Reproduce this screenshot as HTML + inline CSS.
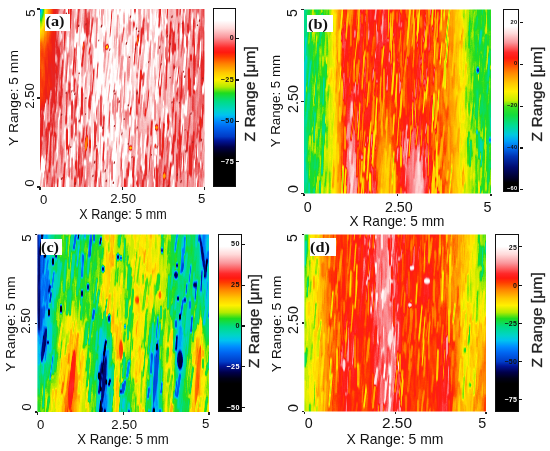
<!DOCTYPE html>
<html><head><meta charset="utf-8"><style>
html,body{margin:0;padding:0;background:#fff;}
body{width:550px;height:451px;position:relative;overflow:hidden;font-family:"Liberation Sans",Arial,sans-serif;color:#111;}
.hm{position:absolute;left:0;top:0;}
.t{position:absolute;white-space:nowrap;line-height:1;}
.z{color:#222;-webkit-text-stroke:0.3px #222;}
.bx{position:absolute;background:#fff;}
.bt{font-family:"Liberation Serif",serif;font-weight:bold;color:#111;}
.cb{position:absolute;box-sizing:border-box;border:1.5px solid #111;}
.at{position:absolute;background:#222;}
.tk{position:absolute;width:3px;height:1.3px;background:#111;}
.cbl{position:absolute;font-weight:bold;line-height:1;transform:translateY(-50%);color:#111;letter-spacing:0.35px;}
.cbl.w{color:#fff;}
</style></head><body>
<svg class="hm" width="550" height="451" viewBox="0 0 550 451">
<defs><clipPath id="ca"><rect x="40" y="9" width="164.5" height="178"/></clipPath>
<filter id="ba" filterUnits="userSpaceOnUse" x="28" y="-3" width="188.5" height="202" color-interpolation-filters="sRGB"><feGaussianBlur stdDeviation="1.2 2.5"/></filter>
<filter id="sa" filterUnits="userSpaceOnUse" x="28" y="-3" width="188.5" height="202" color-interpolation-filters="sRGB"><feGaussianBlur stdDeviation="0.4 1.2"/></filter>
<filter id="fa" filterUnits="userSpaceOnUse" x="40" y="9" width="164.5" height="178" color-interpolation-filters="sRGB">
<feTurbulence type="fractalNoise" baseFrequency="0.35 0.05" numOctaves="2" seed="3" result="n"/>
<feColorMatrix in="n" type="matrix" values="1 0 0 0 0 1 0 0 0 0 1 0 0 0 0 0 0 0 0 1" result="ng"/>
<feComposite in="SourceGraphic" in2="ng" operator="arithmetic" k1="0" k2="1" k3="0.06" k4="-0.03" result="s"/>
<feComponentTransfer in="s"><feFuncR type="table" tableValues="1.000 1.000 1.000 1.000 1.000 1.000 1.000 0.999 0.996 0.993 0.991 0.988 0.980 0.973 0.965 0.957 0.949 0.940 0.931 0.922 0.912 0.903 0.894 0.913 0.932 0.949 0.965 0.980 0.985 0.990 0.995 1.000 1.000 1.000 1.000 1.000 1.000 1.000 1.000 1.000 1.000 0.926 0.853 0.779 0.706 0.538 0.370 0.202 0.105 0.078 0.052 0.026 0.000 0.000 0.000 0.000 0.000 0.000 0.000 0.000 0.000 0.000 0.000 0.000 0.000 0.000 0.000 0.000 0.000 0.000 0.000 0.000 0.000 0.000 0.000 0.000 0.000 0.000 0.000 0.000 0.000 0.000 0.000 0.000 0.000 0.000 0.000 0.000 0.000 0.000 0.000 0.000 0.000 0.000 0.000 0.000 0.000 0.000 0.000 0.000 0.000"/><feFuncG type="table" tableValues="1.000 1.000 1.000 1.000 1.000 1.000 1.000 0.983 0.948 0.913 0.878 0.843 0.788 0.733 0.678 0.624 0.569 0.499 0.429 0.359 0.289 0.219 0.149 0.136 0.124 0.141 0.188 0.235 0.304 0.373 0.441 0.510 0.565 0.620 0.675 0.729 0.784 0.824 0.863 0.902 0.941 0.936 0.931 0.926 0.922 0.905 0.888 0.871 0.863 0.863 0.863 0.863 0.863 0.856 0.850 0.844 0.838 0.831 0.809 0.787 0.765 0.703 0.641 0.580 0.527 0.482 0.437 0.392 0.361 0.329 0.298 0.267 0.235 0.173 0.110 0.067 0.045 0.022 0.000 0.000 0.000 0.000 0.000 0.000 0.000 0.000 0.000 0.000 0.000 0.000 0.000 0.000 0.000 0.000 0.000 0.000 0.000 0.000 0.000 0.000 0.000"/><feFuncB type="table" tableValues="1.000 1.000 1.000 1.000 1.000 1.000 1.000 0.983 0.948 0.913 0.878 0.843 0.791 0.738 0.685 0.633 0.580 0.508 0.437 0.365 0.293 0.221 0.149 0.121 0.093 0.071 0.055 0.039 0.029 0.020 0.010 0.000 0.000 0.000 0.000 0.000 0.000 0.000 0.000 0.000 0.000 0.000 0.000 0.000 0.000 0.034 0.067 0.101 0.161 0.248 0.336 0.423 0.510 0.565 0.620 0.675 0.729 0.784 0.837 0.889 0.941 0.958 0.975 0.992 0.992 0.975 0.958 0.941 0.910 0.878 0.847 0.816 0.784 0.706 0.627 0.546 0.462 0.378 0.294 0.235 0.175 0.116 0.072 0.043 0.014 0.000 0.000 0.000 0.000 0.000 0.000 0.000 0.000 0.000 0.000 0.000 0.000 0.000 0.000 0.000 0.000"/><feFuncA type="linear" slope="0" intercept="1"/></feComponentTransfer>
</filter></defs>
<g clip-path="url(#ca)"><g filter="url(#fa)">
<g filter="url(#ba)">
<path fill="#121212" d="M100 81h6v6h-6zM100 87h18v6h-18zM100 93h18v6h-18zM109 99h9v6h-9z"/>
<path fill="#131313" d="M100 57h3v6h-3zM100 63h6v6h-6zM100 69h12v6h-12zM97 75h21v6h-21zM97 81h3v6h-3zM106 81h12v6h-12zM97 87h3v6h-3zM118 87h3v6h-3zM97 93h3v6h-3zM118 93h3v6h-3zM97 99h12v6h-12zM100 105h18v6h-18zM112 111h3v6h-3z"/>
<path fill="#141414" d="M121 -3h3v6h-3zM121 3h3v6h-3zM121 9h3v6h-3zM121 15h3v6h-3zM121 21h3v6h-3zM121 27h3v6h-3zM100 39h3v6h-3zM100 45h6v6h-6zM100 51h9v6h-9zM97 57h3v6h-3zM103 57h9v6h-9zM97 63h3v6h-3zM106 63h15v6h-15zM97 69h3v6h-3zM112 69h9v6h-9zM118 75h3v6h-3zM118 81h3v6h-3zM94 87h3v6h-3zM94 93h3v6h-3zM118 99h3v6h-3zM97 105h3v6h-3zM118 105h3v6h-3zM100 111h12v6h-12zM115 111h3v6h-3zM103 117h15v6h-15zM112 123h3v6h-3z"/>
<path fill="#151515" d="M100 -3h6v6h-6zM124 -3h3v6h-3zM145 -3h3v6h-3zM100 3h6v6h-6zM124 3h3v6h-3zM145 3h3v6h-3zM100 9h6v6h-6zM124 9h3v6h-3zM145 9h3v6h-3zM100 15h6v6h-6zM124 15h3v6h-3zM145 15h3v6h-3zM100 21h6v6h-6zM124 21h3v6h-3zM145 21h3v6h-3zM100 27h6v6h-6zM124 27h3v6h-3zM145 27h3v6h-3zM97 33h12v6h-12zM121 33h6v6h-6zM145 33h3v6h-3zM97 39h3v6h-3zM103 39h9v6h-9zM118 39h6v6h-6zM145 39h3v6h-3zM97 45h3v6h-3zM106 45h9v6h-9zM118 45h6v6h-6zM97 51h3v6h-3zM109 51h15v6h-15zM112 57h12v6h-12zM121 63h3v6h-3zM121 69h3v6h-3zM94 75h3v6h-3zM121 75h3v6h-3zM94 81h3v6h-3zM121 81h3v6h-3zM91 87h3v6h-3zM91 93h3v6h-3zM94 99h3v6h-3zM97 111h3v6h-3zM118 111h3v6h-3zM100 117h3v6h-3zM118 117h3v6h-3zM100 123h12v6h-12zM115 123h3v6h-3zM106 129h12v6h-12zM112 135h3v6h-3z"/>
<path fill="#161616" d="M97 -3h3v6h-3zM106 -3h9v6h-9zM118 -3h3v6h-3zM127 -3h6v6h-6zM142 -3h3v6h-3zM148 -3h6v6h-6zM97 3h3v6h-3zM106 3h9v6h-9zM118 3h3v6h-3zM127 3h6v6h-6zM142 3h3v6h-3zM148 3h6v6h-6zM97 9h3v6h-3zM106 9h9v6h-9zM118 9h3v6h-3zM127 9h6v6h-6zM142 9h3v6h-3zM148 9h6v6h-6zM97 15h3v6h-3zM106 15h9v6h-9zM118 15h3v6h-3zM127 15h6v6h-6zM142 15h3v6h-3zM148 15h6v6h-6zM97 21h3v6h-3zM106 21h9v6h-9zM118 21h3v6h-3zM127 21h6v6h-6zM142 21h3v6h-3zM148 21h6v6h-6zM97 27h3v6h-3zM106 27h9v6h-9zM118 27h3v6h-3zM127 27h6v6h-6zM142 27h3v6h-3zM148 27h6v6h-6zM109 33h6v6h-6zM118 33h3v6h-3zM127 33h6v6h-6zM142 33h3v6h-3zM148 33h6v6h-6zM112 39h6v6h-6zM124 39h6v6h-6zM148 39h3v6h-3zM115 45h3v6h-3zM124 45h3v6h-3zM145 45h6v6h-6zM124 51h3v6h-3zM94 57h3v6h-3zM94 63h3v6h-3zM94 69h3v6h-3zM91 75h3v6h-3zM91 81h3v6h-3zM88 87h3v6h-3zM121 87h3v6h-3zM85 93h6v6h-6zM121 93h3v6h-3zM91 99h3v6h-3zM121 99h3v6h-3zM94 105h3v6h-3zM97 117h3v6h-3zM97 123h3v6h-3zM118 123h3v6h-3zM100 129h6v6h-6zM118 129h3v6h-3zM103 135h9v6h-9zM115 135h3v6h-3zM109 141h9v6h-9zM112 147h3v6h-3z"/>
<path fill="#171717" d="M115 -3h3v6h-3zM133 -3h3v6h-3zM154 -3h3v6h-3zM115 3h3v6h-3zM133 3h3v6h-3zM154 3h3v6h-3zM115 9h3v6h-3zM133 9h3v6h-3zM154 9h3v6h-3zM115 15h3v6h-3zM133 15h3v6h-3zM154 15h3v6h-3zM115 21h3v6h-3zM133 21h3v6h-3zM154 21h3v6h-3zM115 27h3v6h-3zM133 27h3v6h-3zM154 27h3v6h-3zM115 33h3v6h-3zM133 33h3v6h-3zM94 39h3v6h-3zM130 39h3v6h-3zM142 39h3v6h-3zM151 39h3v6h-3zM94 45h3v6h-3zM127 45h3v6h-3zM142 45h3v6h-3zM151 45h3v6h-3zM94 51h3v6h-3zM145 51h6v6h-6zM124 57h3v6h-3zM145 57h6v6h-6zM91 63h3v6h-3zM124 63h3v6h-3zM91 69h3v6h-3zM124 69h3v6h-3zM88 75h3v6h-3zM88 81h3v6h-3zM79 87h9v6h-9zM79 93h6v6h-6zM88 99h3v6h-3zM91 105h3v6h-3zM121 105h3v6h-3zM94 111h3v6h-3zM121 111h3v6h-3zM97 129h3v6h-3zM100 135h3v6h-3zM118 135h3v6h-3zM100 141h9v6h-9zM106 147h6v6h-6zM115 147h3v6h-3zM109 153h9v6h-9zM112 159h3v6h-3zM112 165h3v6h-3zM112 171h3v6h-3zM112 177h3v6h-3zM112 183h3v6h-3zM112 189h3v6h-3zM112 195h3v6h-3z"/>
<path fill="#181818" d="M94 -3h3v6h-3zM94 3h3v6h-3zM94 9h3v6h-3zM94 15h3v6h-3zM94 21h3v6h-3zM94 27h3v6h-3zM94 33h3v6h-3zM154 33h3v6h-3zM133 39h3v6h-3zM154 39h3v6h-3zM130 45h6v6h-6zM154 45h3v6h-3zM91 51h3v6h-3zM127 51h3v6h-3zM142 51h3v6h-3zM151 51h3v6h-3zM91 57h3v6h-3zM142 57h3v6h-3zM151 57h3v6h-3zM145 63h9v6h-9zM88 69h3v6h-3zM145 69h6v6h-6zM79 75h3v6h-3zM124 75h3v6h-3zM148 75h3v6h-3zM79 81h9v6h-9zM124 81h3v6h-3zM76 87h3v6h-3zM76 93h3v6h-3zM88 105h3v6h-3zM91 111h3v6h-3zM94 117h3v6h-3zM121 117h3v6h-3zM94 123h3v6h-3zM121 123h3v6h-3zM121 129h3v6h-3zM97 135h3v6h-3zM118 141h3v6h-3zM100 147h6v6h-6zM118 147h3v6h-3zM103 153h6v6h-6zM106 159h6v6h-6zM115 159h3v6h-3zM106 165h6v6h-6zM115 165h3v6h-3zM106 171h6v6h-6zM115 171h3v6h-3zM106 177h6v6h-6zM115 177h3v6h-3zM106 183h6v6h-6zM115 183h3v6h-3zM106 189h6v6h-6zM115 189h3v6h-3zM106 195h6v6h-6zM115 195h3v6h-3z"/>
<path fill="#191919" d="M91 45h3v6h-3zM130 51h6v6h-6zM154 51h3v6h-3zM127 57h3v6h-3zM154 57h3v6h-3zM88 63h3v6h-3zM127 63h3v6h-3zM142 63h3v6h-3zM154 63h3v6h-3zM79 69h3v6h-3zM142 69h3v6h-3zM151 69h3v6h-3zM76 75h3v6h-3zM82 75h6v6h-6zM145 75h3v6h-3zM151 75h3v6h-3zM76 81h3v6h-3zM145 81h6v6h-6zM124 87h3v6h-3zM148 87h3v6h-3zM73 93h3v6h-3zM124 93h3v6h-3zM76 99h12v6h-12zM124 99h3v6h-3zM124 105h3v6h-3zM88 111h3v6h-3zM91 117h3v6h-3zM94 129h3v6h-3zM121 135h3v6h-3zM97 141h3v6h-3zM121 141h3v6h-3zM97 147h3v6h-3zM100 153h3v6h-3zM118 153h3v6h-3zM100 159h6v6h-6zM118 159h3v6h-3zM100 165h6v6h-6zM118 165h3v6h-3zM100 171h6v6h-6zM118 171h3v6h-3zM100 177h6v6h-6zM118 177h3v6h-3zM100 183h6v6h-6zM118 183h3v6h-3zM100 189h6v6h-6zM118 189h3v6h-3zM100 195h6v6h-6zM118 195h3v6h-3z"/>
<path fill="#1a1a1a" d="M91 -3h3v6h-3zM136 -3h6v6h-6zM91 3h3v6h-3zM136 3h6v6h-6zM91 9h3v6h-3zM136 9h6v6h-6zM91 15h3v6h-3zM136 15h6v6h-6zM91 21h3v6h-3zM136 21h6v6h-6zM91 27h3v6h-3zM136 27h6v6h-6zM91 33h3v6h-3zM136 33h6v6h-6zM91 39h3v6h-3zM136 39h6v6h-6zM139 45h3v6h-3zM88 51h3v6h-3zM79 57h3v6h-3zM88 57h3v6h-3zM130 57h6v6h-6zM76 63h6v6h-6zM130 63h6v6h-6zM76 69h3v6h-3zM82 69h6v6h-6zM127 69h3v6h-3zM154 69h3v6h-3zM142 75h3v6h-3zM154 75h3v6h-3zM73 81h3v6h-3zM142 81h3v6h-3zM151 81h3v6h-3zM73 87h3v6h-3zM145 87h3v6h-3zM151 87h3v6h-3zM145 93h6v6h-6zM73 99h3v6h-3zM76 105h3v6h-3zM124 111h3v6h-3zM124 117h3v6h-3zM91 123h3v6h-3zM124 123h3v6h-3zM94 135h3v6h-3zM121 147h3v6h-3zM97 153h3v6h-3zM121 153h3v6h-3zM121 159h3v6h-3zM121 165h3v6h-3zM121 171h3v6h-3zM121 177h3v6h-3zM121 183h3v6h-3zM121 189h3v6h-3zM121 195h3v6h-3z"/>
<path fill="#1b1b1b" d="M157 -3h3v6h-3zM157 3h3v6h-3zM157 9h3v6h-3zM157 15h3v6h-3zM157 21h3v6h-3zM157 27h3v6h-3zM157 33h3v6h-3zM157 39h3v6h-3zM79 45h3v6h-3zM88 45h3v6h-3zM136 45h3v6h-3zM157 45h3v6h-3zM76 51h6v6h-6zM136 51h6v6h-6zM157 51h3v6h-3zM76 57h3v6h-3zM82 57h3v6h-3zM136 57h6v6h-6zM157 57h3v6h-3zM73 63h3v6h-3zM82 63h6v6h-6zM136 63h6v6h-6zM73 69h3v6h-3zM130 69h6v6h-6zM139 69h3v6h-3zM73 75h3v6h-3zM127 75h3v6h-3zM133 75h3v6h-3zM139 75h3v6h-3zM70 81h3v6h-3zM127 81h3v6h-3zM139 81h3v6h-3zM154 81h3v6h-3zM70 87h3v6h-3zM142 87h3v6h-3zM154 87h3v6h-3zM70 93h3v6h-3zM142 93h3v6h-3zM151 93h3v6h-3zM70 99h3v6h-3zM148 99h3v6h-3zM73 105h3v6h-3zM79 105h9v6h-9zM76 111h3v6h-3zM88 117h3v6h-3zM91 129h3v6h-3zM124 129h3v6h-3zM124 135h3v6h-3zM94 141h3v6h-3zM124 141h3v6h-3zM124 147h3v6h-3zM97 159h3v6h-3zM97 165h3v6h-3zM97 171h3v6h-3zM97 177h3v6h-3zM97 183h3v6h-3zM97 189h3v6h-3zM97 195h3v6h-3z"/>
<path fill="#1c1c1c" d="M79 -3h3v6h-3zM79 3h3v6h-3zM79 9h3v6h-3zM79 15h3v6h-3zM79 21h3v6h-3zM79 27h3v6h-3zM79 33h3v6h-3zM76 39h6v6h-6zM88 39h3v6h-3zM76 45h3v6h-3zM73 51h3v6h-3zM82 51h3v6h-3zM73 57h3v6h-3zM85 57h3v6h-3zM157 63h3v6h-3zM70 69h3v6h-3zM136 69h3v6h-3zM157 69h3v6h-3zM70 75h3v6h-3zM130 75h3v6h-3zM136 75h3v6h-3zM157 75h3v6h-3zM133 81h6v6h-6zM157 81h3v6h-3zM67 87h3v6h-3zM127 87h3v6h-3zM136 87h6v6h-6zM157 87h3v6h-3zM67 93h3v6h-3zM139 93h3v6h-3zM154 93h6v6h-6zM67 99h3v6h-3zM142 99h6v6h-6zM151 99h3v6h-3zM70 105h3v6h-3zM148 105h3v6h-3zM70 111h6v6h-6zM73 117h6v6h-6zM88 123h3v6h-3zM91 135h3v6h-3zM94 147h3v6h-3zM94 153h3v6h-3zM124 153h3v6h-3zM124 159h3v6h-3zM124 165h3v6h-3zM124 171h3v6h-3zM124 177h3v6h-3zM124 183h3v6h-3zM124 189h3v6h-3zM124 195h3v6h-3z"/>
<path fill="#1d1d1d" d="M76 -3h3v6h-3zM88 -3h3v6h-3zM76 3h3v6h-3zM88 3h3v6h-3zM76 9h3v6h-3zM88 9h3v6h-3zM76 15h3v6h-3zM88 15h3v6h-3zM76 21h3v6h-3zM88 21h3v6h-3zM76 27h3v6h-3zM88 27h3v6h-3zM76 33h3v6h-3zM88 33h3v6h-3zM73 39h3v6h-3zM73 45h3v6h-3zM82 45h3v6h-3zM85 51h3v6h-3zM70 57h3v6h-3zM70 63h3v6h-3zM160 75h3v6h-3zM67 81h3v6h-3zM130 81h3v6h-3zM160 81h3v6h-3zM133 87h3v6h-3zM160 87h3v6h-3zM127 93h3v6h-3zM133 93h6v6h-6zM160 93h3v6h-3zM127 99h3v6h-3zM136 99h6v6h-6zM154 99h3v6h-3zM67 105h3v6h-3zM127 105h3v6h-3zM142 105h6v6h-6zM151 105h3v6h-3zM67 111h3v6h-3zM79 111h3v6h-3zM85 111h3v6h-3zM127 111h3v6h-3zM148 111h3v6h-3zM70 117h3v6h-3zM127 117h3v6h-3zM73 123h6v6h-6zM127 123h3v6h-3zM88 129h3v6h-3zM91 141h3v6h-3zM94 159h3v6h-3zM94 165h3v6h-3zM94 171h3v6h-3zM94 177h3v6h-3zM94 183h3v6h-3zM94 189h3v6h-3zM94 195h3v6h-3z"/>
<path fill="#1e1e1e" d="M73 -3h3v6h-3zM160 -3h3v6h-3zM73 3h3v6h-3zM160 3h3v6h-3zM73 9h3v6h-3zM160 9h3v6h-3zM73 15h3v6h-3zM160 15h3v6h-3zM73 21h3v6h-3zM160 21h3v6h-3zM73 27h3v6h-3zM160 27h3v6h-3zM73 33h3v6h-3zM160 33h3v6h-3zM82 39h3v6h-3zM160 39h3v6h-3zM70 45h3v6h-3zM85 45h3v6h-3zM160 45h3v6h-3zM70 51h3v6h-3zM160 51h3v6h-3zM160 57h3v6h-3zM160 63h3v6h-3zM67 69h3v6h-3zM160 69h3v6h-3zM67 75h3v6h-3zM163 75h3v6h-3zM163 81h3v6h-3zM130 87h3v6h-3zM163 87h3v6h-3zM130 93h3v6h-3zM163 93h3v6h-3zM130 99h6v6h-6zM157 99h3v6h-3zM133 105h9v6h-9zM82 111h3v6h-3zM142 111h6v6h-6zM151 111h3v6h-3zM67 117h3v6h-3zM148 117h3v6h-3zM67 123h6v6h-6zM70 129h9v6h-9zM127 129h3v6h-3zM73 135h3v6h-3zM88 135h3v6h-3zM127 135h3v6h-3zM127 141h3v6h-3zM91 147h3v6h-3zM127 147h3v6h-3zM127 153h3v6h-3zM127 159h3v6h-3zM127 165h3v6h-3zM127 171h3v6h-3zM127 177h3v6h-3zM127 183h3v6h-3zM127 189h3v6h-3zM127 195h3v6h-3z"/>
<path fill="#1f1f1f" d="M70 -3h3v6h-3zM82 -3h3v6h-3zM163 -3h3v6h-3zM70 3h3v6h-3zM82 3h3v6h-3zM163 3h3v6h-3zM70 9h3v6h-3zM82 9h3v6h-3zM163 9h3v6h-3zM70 15h3v6h-3zM82 15h3v6h-3zM163 15h3v6h-3zM70 21h3v6h-3zM82 21h3v6h-3zM163 21h3v6h-3zM70 27h3v6h-3zM82 27h3v6h-3zM163 27h3v6h-3zM70 33h3v6h-3zM82 33h3v6h-3zM163 33h3v6h-3zM70 39h3v6h-3zM85 39h3v6h-3zM163 39h3v6h-3zM163 45h3v6h-3zM163 51h3v6h-3zM163 57h3v6h-3zM67 63h3v6h-3zM163 63h3v6h-3zM163 69h3v6h-3zM166 87h3v6h-3zM64 93h3v6h-3zM64 99h3v6h-3zM160 99h3v6h-3zM130 105h3v6h-3zM154 105h3v6h-3zM130 111h12v6h-12zM79 117h3v6h-3zM85 117h3v6h-3zM130 117h6v6h-6zM142 117h6v6h-6zM130 123h3v6h-3zM67 129h3v6h-3zM67 135h6v6h-6zM76 135h3v6h-3zM73 141h3v6h-3zM91 153h3v6h-3zM91 159h3v6h-3zM91 165h3v6h-3zM91 171h3v6h-3zM91 177h3v6h-3zM91 183h3v6h-3zM91 189h3v6h-3zM91 195h3v6h-3z"/>
<path fill="#202020" d="M166 -3h3v6h-3zM166 3h3v6h-3zM166 9h3v6h-3zM166 15h3v6h-3zM166 21h3v6h-3zM166 27h3v6h-3zM85 33h3v6h-3zM166 33h3v6h-3zM166 39h3v6h-3zM166 45h3v6h-3zM67 51h3v6h-3zM166 51h3v6h-3zM67 57h3v6h-3zM166 57h3v6h-3zM166 63h3v6h-3zM166 69h3v6h-3zM166 75h3v6h-3zM166 81h3v6h-3zM64 87h3v6h-3zM166 93h3v6h-3zM163 99h3v6h-3zM64 105h3v6h-3zM157 105h3v6h-3zM64 111h3v6h-3zM154 111h3v6h-3zM64 117h3v6h-3zM82 117h3v6h-3zM136 117h6v6h-6zM151 117h3v6h-3zM64 123h3v6h-3zM133 123h6v6h-6zM142 123h9v6h-9zM64 129h3v6h-3zM130 129h6v6h-6zM130 135h3v6h-3zM67 141h6v6h-6zM76 141h3v6h-3zM88 141h3v6h-3zM130 141h3v6h-3zM67 147h9v6h-9zM130 147h3v6h-3z"/>
<path fill="#212121" d="M85 -3h3v6h-3zM169 -3h3v6h-3zM85 3h3v6h-3zM169 3h3v6h-3zM85 9h3v6h-3zM169 9h3v6h-3zM85 15h3v6h-3zM169 15h3v6h-3zM85 21h3v6h-3zM169 21h3v6h-3zM85 27h3v6h-3zM169 27h3v6h-3zM169 33h3v6h-3zM67 39h3v6h-3zM169 39h3v6h-3zM67 45h3v6h-3zM169 45h3v6h-3zM169 51h3v6h-3zM169 57h3v6h-3zM169 63h3v6h-3zM169 69h3v6h-3zM64 75h3v6h-3zM169 75h3v6h-3zM64 81h3v6h-3zM169 81h3v6h-3zM169 87h3v6h-3zM169 93h3v6h-3zM166 99h3v6h-3zM160 105h6v6h-6zM157 111h3v6h-3zM79 123h3v6h-3zM139 123h3v6h-3zM151 123h3v6h-3zM136 129h3v6h-3zM142 129h9v6h-9zM64 135h3v6h-3zM133 135h3v6h-3zM64 141h3v6h-3zM133 141h3v6h-3zM64 147h3v6h-3zM76 147h3v6h-3zM88 147h3v6h-3zM64 153h12v6h-12zM130 153h3v6h-3zM64 159h12v6h-12zM130 159h3v6h-3zM64 165h12v6h-12zM130 165h3v6h-3zM64 171h12v6h-12zM130 171h3v6h-3zM64 177h12v6h-12zM130 177h3v6h-3zM64 183h12v6h-12zM130 183h3v6h-3zM64 189h12v6h-12zM130 189h3v6h-3zM64 195h12v6h-12zM130 195h3v6h-3z"/>
<path fill="#222222" d="M67 -3h3v6h-3zM172 -3h6v6h-6zM67 3h3v6h-3zM172 3h6v6h-6zM67 9h3v6h-3zM172 9h6v6h-6zM67 15h3v6h-3zM172 15h6v6h-6zM67 21h3v6h-3zM172 21h6v6h-6zM67 27h3v6h-3zM172 27h6v6h-6zM67 33h3v6h-3zM172 33h6v6h-6zM172 39h3v6h-3zM172 45h3v6h-3zM172 51h3v6h-3zM172 57h3v6h-3zM172 63h3v6h-3zM64 69h3v6h-3zM172 69h3v6h-3zM172 75h3v6h-3zM169 99h3v6h-3zM166 105h3v6h-3zM160 111h3v6h-3zM154 117h3v6h-3zM82 123h6v6h-6zM139 129h3v6h-3zM151 129h3v6h-3zM136 135h3v6h-3zM142 135h9v6h-9zM133 147h3v6h-3zM76 153h3v6h-3zM88 153h3v6h-3zM133 153h3v6h-3z"/>
<path fill="#232323" d="M178 -3h3v6h-3zM178 3h3v6h-3zM178 9h3v6h-3zM178 15h3v6h-3zM178 21h3v6h-3zM178 27h3v6h-3zM178 33h3v6h-3zM175 39h6v6h-6zM175 45h3v6h-3zM175 51h3v6h-3zM175 57h3v6h-3zM64 63h3v6h-3zM175 63h3v6h-3zM172 81h3v6h-3zM172 87h3v6h-3zM61 93h3v6h-3zM172 93h3v6h-3zM61 99h3v6h-3zM61 105h3v6h-3zM169 105h3v6h-3zM61 111h3v6h-3zM163 111h6v6h-6zM61 117h3v6h-3zM157 117h3v6h-3zM61 123h3v6h-3zM154 123h3v6h-3zM61 129h3v6h-3zM79 129h3v6h-3zM61 135h3v6h-3zM139 135h3v6h-3zM61 141h3v6h-3zM136 141h3v6h-3zM142 141h9v6h-9zM61 147h3v6h-3zM136 147h3v6h-3zM61 153h3v6h-3zM61 159h3v6h-3zM76 159h3v6h-3zM88 159h3v6h-3zM133 159h3v6h-3zM61 165h3v6h-3zM76 165h3v6h-3zM88 165h3v6h-3zM133 165h3v6h-3zM61 171h3v6h-3zM76 171h3v6h-3zM88 171h3v6h-3zM133 171h3v6h-3zM61 177h3v6h-3zM76 177h3v6h-3zM88 177h3v6h-3zM133 177h3v6h-3zM61 183h3v6h-3zM76 183h3v6h-3zM88 183h3v6h-3zM133 183h3v6h-3zM61 189h3v6h-3zM76 189h3v6h-3zM88 189h3v6h-3zM133 189h3v6h-3zM61 195h3v6h-3zM76 195h3v6h-3zM88 195h3v6h-3zM133 195h3v6h-3z"/>
<path fill="#242424" d="M181 -3h3v6h-3zM181 3h3v6h-3zM181 9h3v6h-3zM181 15h3v6h-3zM181 21h3v6h-3zM181 27h3v6h-3zM181 33h3v6h-3zM181 39h3v6h-3zM178 45h3v6h-3zM64 51h3v6h-3zM178 51h3v6h-3zM64 57h3v6h-3zM178 57h3v6h-3zM175 69h3v6h-3zM175 75h3v6h-3zM175 81h3v6h-3zM61 87h3v6h-3zM175 87h3v6h-3zM172 99h3v6h-3zM172 105h3v6h-3zM169 111h3v6h-3zM160 117h9v6h-9zM82 129h6v6h-6zM151 135h3v6h-3zM139 141h3v6h-3zM145 147h6v6h-6zM136 153h3v6h-3zM58 159h3v6h-3zM58 165h3v6h-3zM58 171h3v6h-3zM58 177h3v6h-3zM58 183h3v6h-3zM58 189h3v6h-3zM58 195h3v6h-3z"/>
<path fill="#252525" d="M64 45h3v6h-3zM181 45h3v6h-3zM181 51h3v6h-3zM178 63h3v6h-3zM178 69h3v6h-3zM178 75h3v6h-3zM61 81h3v6h-3zM178 81h3v6h-3zM175 93h3v6h-3zM175 99h3v6h-3zM172 111h3v6h-3zM169 117h6v6h-6zM157 123h6v6h-6zM166 123h6v6h-6zM154 129h3v6h-3zM79 135h3v6h-3zM58 141h3v6h-3zM151 141h3v6h-3zM58 147h3v6h-3zM139 147h6v6h-6zM58 153h3v6h-3zM148 153h3v6h-3zM136 159h3v6h-3zM136 165h3v6h-3zM136 171h3v6h-3zM136 177h3v6h-3zM136 183h3v6h-3zM136 189h3v6h-3zM136 195h3v6h-3z"/>
<path fill="#262626" d="M184 -3h3v6h-3zM184 3h3v6h-3zM184 9h3v6h-3zM184 15h3v6h-3zM184 21h3v6h-3zM184 27h3v6h-3zM64 33h3v6h-3zM184 33h3v6h-3zM64 39h3v6h-3zM181 57h3v6h-3zM181 63h3v6h-3zM181 69h3v6h-3zM61 75h3v6h-3zM178 87h3v6h-3zM178 93h3v6h-3zM178 99h3v6h-3zM175 105h3v6h-3zM175 111h3v6h-3zM175 117h3v6h-3zM163 123h3v6h-3zM172 123h3v6h-3zM58 129h3v6h-3zM157 129h3v6h-3zM169 129h6v6h-6zM58 135h3v6h-3zM85 135h3v6h-3zM154 135h3v6h-3zM151 147h3v6h-3zM139 153h9v6h-9zM28 159h12v6h-12zM55 159h3v6h-3zM139 159h12v6h-12zM28 165h12v6h-12zM55 165h3v6h-3zM139 165h12v6h-12zM28 171h12v6h-12zM55 171h3v6h-3zM139 171h12v6h-12zM28 177h12v6h-12zM55 177h3v6h-3zM139 177h12v6h-12zM28 183h12v6h-12zM55 183h3v6h-3zM139 183h12v6h-12zM28 189h12v6h-12zM55 189h3v6h-3zM139 189h12v6h-12zM28 195h12v6h-12zM55 195h3v6h-3zM139 195h12v6h-12z"/>
<path fill="#272727" d="M64 -3h3v6h-3zM64 3h3v6h-3zM64 9h3v6h-3zM64 15h3v6h-3zM64 21h3v6h-3zM64 27h3v6h-3zM184 39h3v6h-3zM184 45h3v6h-3zM184 51h3v6h-3zM184 57h3v6h-3zM61 69h3v6h-3zM181 75h3v6h-3zM181 81h3v6h-3zM181 87h3v6h-3zM178 105h3v6h-3zM58 111h3v6h-3zM178 111h3v6h-3zM58 117h3v6h-3zM58 123h3v6h-3zM175 123h3v6h-3zM160 129h9v6h-9zM175 129h3v6h-3zM82 135h3v6h-3zM169 135h6v6h-6zM79 141h3v6h-3zM55 147h3v6h-3zM55 153h3v6h-3zM40 159h3v6h-3zM40 165h3v6h-3zM40 171h3v6h-3zM40 177h3v6h-3zM40 183h3v6h-3zM40 189h3v6h-3zM40 195h3v6h-3z"/>
<path fill="#282828" d="M61 63h3v6h-3zM184 63h3v6h-3zM184 69h3v6h-3zM184 75h3v6h-3zM181 93h3v6h-3zM58 99h3v6h-3zM181 99h3v6h-3zM58 105h3v6h-3zM181 105h3v6h-3zM181 111h3v6h-3zM178 117h3v6h-3zM178 123h3v6h-3zM178 129h3v6h-3zM157 135h6v6h-6zM166 135h3v6h-3zM175 135h3v6h-3zM55 141h3v6h-3zM85 141h3v6h-3zM154 141h3v6h-3zM169 141h9v6h-9zM172 147h3v6h-3zM28 153h12v6h-12zM151 153h3v6h-3zM52 159h3v6h-3zM52 165h3v6h-3zM52 171h3v6h-3zM52 177h3v6h-3zM52 183h3v6h-3zM52 189h3v6h-3zM52 195h3v6h-3z"/>
<path fill="#292929" d="M187 -3h3v6h-3zM187 3h3v6h-3zM187 9h3v6h-3zM187 15h3v6h-3zM187 21h3v6h-3zM187 27h3v6h-3zM187 33h3v6h-3zM187 39h3v6h-3zM187 45h3v6h-3zM187 51h3v6h-3zM61 57h3v6h-3zM187 57h3v6h-3zM184 81h3v6h-3zM184 87h3v6h-3zM58 93h3v6h-3zM184 93h3v6h-3zM184 99h3v6h-3zM181 117h3v6h-3zM181 123h3v6h-3zM181 129h3v6h-3zM55 135h3v6h-3zM163 135h3v6h-3zM178 135h3v6h-3zM82 141h3v6h-3zM166 141h3v6h-3zM178 141h3v6h-3zM79 147h3v6h-3zM154 147h3v6h-3zM169 147h3v6h-3zM175 147h3v6h-3zM40 153h3v6h-3zM52 153h3v6h-3zM169 153h9v6h-9zM43 159h3v6h-3zM151 159h3v6h-3zM172 159h3v6h-3zM43 165h3v6h-3zM151 165h3v6h-3zM172 165h3v6h-3zM43 171h3v6h-3zM151 171h3v6h-3zM172 171h3v6h-3zM43 177h3v6h-3zM151 177h3v6h-3zM172 177h3v6h-3zM43 183h3v6h-3zM151 183h3v6h-3zM172 183h3v6h-3zM43 189h3v6h-3zM151 189h3v6h-3zM172 189h3v6h-3zM43 195h3v6h-3zM151 195h3v6h-3zM172 195h3v6h-3z"/>
<path fill="#2a2a2a" d="M61 51h3v6h-3zM187 63h3v6h-3zM187 69h3v6h-3zM187 75h3v6h-3zM187 81h3v6h-3zM58 87h3v6h-3zM187 87h3v6h-3zM184 105h3v6h-3zM184 111h3v6h-3zM184 117h3v6h-3zM184 123h3v6h-3zM55 129h3v6h-3zM184 129h3v6h-3zM181 135h3v6h-3zM157 141h9v6h-9zM181 141h3v6h-3zM166 147h3v6h-3zM178 147h6v6h-6zM178 153h3v6h-3zM46 159h3v6h-3zM169 159h3v6h-3zM175 159h6v6h-6zM46 165h3v6h-3zM169 165h3v6h-3zM175 165h6v6h-6zM46 171h3v6h-3zM169 171h3v6h-3zM175 171h6v6h-6zM46 177h3v6h-3zM169 177h3v6h-3zM175 177h6v6h-6zM46 183h3v6h-3zM169 183h3v6h-3zM175 183h6v6h-6zM46 189h3v6h-3zM169 189h3v6h-3zM175 189h6v6h-6zM46 195h3v6h-3zM169 195h3v6h-3zM175 195h6v6h-6z"/>
<path fill="#2b2b2b" d="M190 -3h3v6h-3zM190 3h3v6h-3zM190 9h3v6h-3zM190 15h3v6h-3zM190 21h3v6h-3zM190 27h3v6h-3zM190 33h3v6h-3zM190 39h3v6h-3zM61 45h3v6h-3zM190 45h3v6h-3zM190 51h3v6h-3zM190 57h3v6h-3zM58 81h3v6h-3zM187 93h3v6h-3zM187 99h3v6h-3zM187 105h3v6h-3zM187 111h3v6h-3zM187 117h3v6h-3zM55 123h3v6h-3zM187 123h3v6h-3zM184 135h3v6h-3zM184 141h3v6h-3zM28 147h12v6h-12zM52 147h3v6h-3zM82 147h6v6h-6zM157 147h9v6h-9zM184 147h3v6h-3zM43 153h3v6h-3zM79 153h3v6h-3zM154 153h3v6h-3zM166 153h3v6h-3zM181 153h6v6h-6zM49 159h3v6h-3zM181 159h6v6h-6zM49 165h3v6h-3zM181 165h6v6h-6zM49 171h3v6h-3zM181 171h6v6h-6zM49 177h3v6h-3zM181 177h6v6h-6zM49 183h3v6h-3zM181 183h6v6h-6zM49 189h3v6h-3zM181 189h6v6h-6zM49 195h3v6h-3zM181 195h6v6h-6z"/>
<path fill="#2c2c2c" d="M61 33h3v6h-3zM61 39h3v6h-3zM190 63h3v6h-3zM190 69h3v6h-3zM58 75h3v6h-3zM190 75h3v6h-3zM190 81h3v6h-3zM190 87h3v6h-3zM190 93h3v6h-3zM190 99h3v6h-3zM190 105h3v6h-3zM190 111h3v6h-3zM55 117h3v6h-3zM190 117h3v6h-3zM187 129h3v6h-3zM187 135h3v6h-3zM52 141h3v6h-3zM187 141h3v6h-3zM40 147h3v6h-3zM187 147h3v6h-3zM46 153h6v6h-6zM187 153h3v6h-3zM79 159h3v6h-3zM154 159h3v6h-3zM166 159h3v6h-3zM187 159h3v6h-3zM79 165h3v6h-3zM154 165h3v6h-3zM166 165h3v6h-3zM187 165h3v6h-3zM79 171h3v6h-3zM154 171h3v6h-3zM166 171h3v6h-3zM187 171h3v6h-3zM79 177h3v6h-3zM154 177h3v6h-3zM166 177h3v6h-3zM187 177h3v6h-3zM79 183h3v6h-3zM154 183h3v6h-3zM166 183h3v6h-3zM187 183h3v6h-3zM79 189h3v6h-3zM154 189h3v6h-3zM166 189h3v6h-3zM187 189h3v6h-3zM79 195h3v6h-3zM154 195h3v6h-3zM166 195h3v6h-3zM187 195h3v6h-3z"/>
<path fill="#2d2d2d" d="M61 -3h3v6h-3zM193 -3h3v6h-3zM61 3h3v6h-3zM193 3h3v6h-3zM61 9h3v6h-3zM193 9h3v6h-3zM61 15h3v6h-3zM193 15h3v6h-3zM61 21h3v6h-3zM193 21h3v6h-3zM61 27h3v6h-3zM193 27h3v6h-3zM193 33h3v6h-3zM193 39h3v6h-3zM58 69h3v6h-3zM55 111h3v6h-3zM190 123h3v6h-3zM190 129h3v6h-3zM190 135h3v6h-3zM190 141h3v6h-3zM43 147h3v6h-3zM190 147h3v6h-3zM85 153h3v6h-3zM157 153h9v6h-9zM190 153h3v6h-3zM190 159h3v6h-3zM190 165h3v6h-3zM190 171h3v6h-3zM190 177h3v6h-3zM190 183h3v6h-3zM190 189h3v6h-3zM190 195h3v6h-3z"/>
<path fill="#2e2e2e" d="M193 45h3v6h-3zM193 51h3v6h-3zM193 57h3v6h-3zM58 63h3v6h-3zM193 63h3v6h-3zM193 69h3v6h-3zM193 75h3v6h-3zM193 81h3v6h-3zM193 87h3v6h-3zM193 93h3v6h-3zM55 99h3v6h-3zM193 99h3v6h-3zM55 105h3v6h-3zM193 105h3v6h-3zM193 111h3v6h-3zM193 117h3v6h-3zM193 123h3v6h-3zM193 129h3v6h-3zM52 135h3v6h-3zM193 135h3v6h-3zM28 141h12v6h-12zM193 141h3v6h-3zM46 147h6v6h-6zM193 147h3v6h-3zM82 153h3v6h-3zM193 153h3v6h-3zM157 159h9v6h-9zM193 159h3v6h-3zM157 165h9v6h-9zM193 165h3v6h-3zM157 171h9v6h-9zM193 171h3v6h-3zM157 177h9v6h-9zM193 177h3v6h-3zM157 183h9v6h-9zM193 183h3v6h-3zM157 189h9v6h-9zM193 189h3v6h-3zM157 195h9v6h-9zM193 195h3v6h-3z"/>
<path fill="#2f2f2f" d="M58 57h3v6h-3zM196 57h3v6h-3zM196 63h3v6h-3zM196 69h3v6h-3zM196 75h3v6h-3zM196 81h3v6h-3zM196 87h3v6h-3zM55 93h3v6h-3zM196 93h6v6h-6zM196 99h6v6h-6zM196 105h6v6h-6zM196 111h6v6h-6zM196 117h6v6h-6zM196 123h6v6h-6zM196 129h6v6h-6zM196 135h6v6h-6zM40 141h6v6h-6zM49 141h3v6h-3zM196 141h6v6h-6zM196 147h6v6h-6zM196 153h6v6h-6zM82 159h6v6h-6zM196 159h6v6h-6zM82 165h6v6h-6zM196 165h6v6h-6zM82 171h6v6h-6zM196 171h6v6h-6zM82 177h6v6h-6zM196 177h6v6h-6zM82 183h6v6h-6zM196 183h6v6h-6zM82 189h6v6h-6zM196 189h6v6h-6zM82 195h6v6h-6zM196 195h6v6h-6z"/>
<path fill="#303030" d="M196 -3h3v6h-3zM196 3h3v6h-3zM196 9h3v6h-3zM196 15h3v6h-3zM196 21h3v6h-3zM196 27h3v6h-3zM196 33h3v6h-3zM196 39h3v6h-3zM196 45h3v6h-3zM196 51h3v6h-3zM199 63h3v6h-3zM199 69h3v6h-3zM199 75h3v6h-3zM199 81h3v6h-3zM199 87h6v6h-6zM202 93h15v6h-15zM202 99h15v6h-15zM202 105h15v6h-15zM202 111h15v6h-15zM202 117h15v6h-15zM202 123h15v6h-15zM52 129h3v6h-3zM202 129h15v6h-15zM202 135h15v6h-15zM46 141h3v6h-3zM202 141h15v6h-15zM202 147h15v6h-15zM202 153h15v6h-15zM202 159h15v6h-15zM202 165h15v6h-15zM202 171h15v6h-15zM202 177h15v6h-15zM202 183h15v6h-15zM202 189h15v6h-15zM202 195h15v6h-15z"/>
<path fill="#313131" d="M199 -3h3v6h-3zM199 3h3v6h-3zM199 9h3v6h-3zM199 15h3v6h-3zM199 21h3v6h-3zM199 27h3v6h-3zM199 33h3v6h-3zM199 39h3v6h-3zM199 45h3v6h-3zM58 51h3v6h-3zM199 51h3v6h-3zM199 57h3v6h-3zM202 63h3v6h-3zM202 69h15v6h-15zM202 75h15v6h-15zM202 81h15v6h-15zM55 87h3v6h-3zM205 87h12v6h-12zM52 123h3v6h-3zM28 135h18v6h-18zM49 135h3v6h-3z"/>
<path fill="#323232" d="M202 39h3v6h-3zM58 45h3v6h-3zM202 45h15v6h-15zM202 51h15v6h-15zM202 57h15v6h-15zM205 63h12v6h-12zM55 81h3v6h-3zM46 135h3v6h-3z"/>
<path fill="#333333" d="M202 -3h15v6h-15zM202 3h15v6h-15zM202 9h15v6h-15zM202 15h15v6h-15zM202 21h15v6h-15zM202 27h15v6h-15zM202 33h15v6h-15zM58 39h3v6h-3zM205 39h12v6h-12zM55 75h3v6h-3zM52 117h3v6h-3zM49 129h3v6h-3z"/>
<path fill="#343434" d="M58 -3h3v6h-3zM58 3h3v6h-3zM58 9h3v6h-3zM58 15h3v6h-3zM58 21h3v6h-3zM58 27h3v6h-3zM58 33h3v6h-3zM55 69h3v6h-3zM52 111h3v6h-3zM49 123h3v6h-3zM40 129h9v6h-9z"/>
<path fill="#353535" d="M28 129h12v6h-12z"/>
<path fill="#363636" d="M55 63h3v6h-3zM52 105h3v6h-3zM49 117h3v6h-3zM43 123h6v6h-6z"/>
<path fill="#373737" d="M55 57h3v6h-3zM52 99h3v6h-3zM40 123h3v6h-3z"/>
<path fill="#383838" d="M55 51h3v6h-3zM49 111h3v6h-3zM43 117h6v6h-6zM28 123h12v6h-12z"/>
<path fill="#393939" d="M55 45h3v6h-3zM52 87h3v6h-3zM52 93h3v6h-3z"/>
<path fill="#3a3a3a" d="M55 39h3v6h-3zM52 81h3v6h-3zM49 105h3v6h-3zM46 111h3v6h-3zM40 117h3v6h-3z"/>
<path fill="#3b3b3b" d="M52 69h3v6h-3zM52 75h3v6h-3zM49 99h3v6h-3zM43 111h3v6h-3zM28 117h12v6h-12z"/>
<path fill="#3c3c3c" d="M55 -3h3v6h-3zM55 3h3v6h-3zM55 9h3v6h-3zM55 15h3v6h-3zM55 21h3v6h-3zM55 27h3v6h-3zM55 33h3v6h-3zM52 57h3v6h-3zM52 63h3v6h-3zM46 105h3v6h-3z"/>
<path fill="#3d3d3d" d="M52 45h3v6h-3zM52 51h3v6h-3zM49 87h3v6h-3zM49 93h3v6h-3zM43 105h3v6h-3zM40 111h3v6h-3z"/>
<path fill="#3e3e3e" d="M52 -3h3v6h-3zM52 3h3v6h-3zM52 9h3v6h-3zM52 15h3v6h-3zM52 21h3v6h-3zM52 27h3v6h-3zM52 33h3v6h-3zM52 39h3v6h-3zM49 63h3v6h-3zM49 69h3v6h-3zM49 75h3v6h-3zM49 81h3v6h-3zM46 99h3v6h-3zM28 111h12v6h-12z"/>
<path fill="#3f3f3f" d="M49 33h3v6h-3zM49 39h3v6h-3zM49 45h3v6h-3zM49 51h3v6h-3zM49 57h3v6h-3zM43 99h3v6h-3zM40 105h3v6h-3z"/>
<path fill="#404040" d="M49 -3h3v6h-3zM49 3h3v6h-3zM49 9h3v6h-3zM49 15h3v6h-3zM49 21h3v6h-3zM49 27h3v6h-3zM46 81h3v6h-3zM46 87h3v6h-3zM46 93h3v6h-3z"/>
<path fill="#414141" d="M46 45h3v6h-3zM46 51h3v6h-3zM46 57h3v6h-3zM46 63h3v6h-3zM46 69h3v6h-3zM46 75h3v6h-3zM28 105h12v6h-12z"/>
<path fill="#424242" d="M46 -3h3v6h-3zM46 3h3v6h-3zM46 9h3v6h-3zM46 15h3v6h-3zM46 21h3v6h-3zM46 27h3v6h-3zM46 33h3v6h-3zM46 39h3v6h-3zM43 81h3v6h-3zM43 87h3v6h-3zM43 93h3v6h-3zM40 99h3v6h-3z"/>
<path fill="#434343" d="M43 57h3v6h-3zM43 63h3v6h-3zM43 69h3v6h-3zM43 75h3v6h-3z"/>
<path fill="#444444" d="M43 -3h3v6h-3zM43 3h3v6h-3zM43 9h3v6h-3zM43 15h3v6h-3zM43 21h3v6h-3zM43 27h3v6h-3zM43 33h3v6h-3zM43 39h3v6h-3zM43 45h3v6h-3zM43 51h3v6h-3zM28 99h12v6h-12z"/>
<path fill="#454545" d="M40 93h3v6h-3z"/>
<path fill="#464646" d="M40 69h3v6h-3zM40 75h3v6h-3zM40 81h3v6h-3zM40 87h3v6h-3z"/>
<path fill="#474747" d="M40 45h3v6h-3zM40 51h3v6h-3zM40 57h3v6h-3zM40 63h3v6h-3zM28 93h12v6h-12z"/>
<path fill="#484848" d="M40 -3h3v6h-3zM40 3h3v6h-3zM40 9h3v6h-3zM40 15h3v6h-3zM40 21h3v6h-3zM40 27h3v6h-3zM40 33h3v6h-3zM40 39h3v6h-3zM28 69h12v6h-12zM28 75h12v6h-12zM28 81h12v6h-12zM28 87h12v6h-12z"/>
<path fill="#494949" d="M28 45h12v6h-12zM28 51h12v6h-12zM28 57h12v6h-12zM28 63h12v6h-12z"/>
<path fill="#4a4a4a" d="M28 -3h12v6h-12zM28 3h12v6h-12zM28 9h12v6h-12zM28 15h12v6h-12zM28 21h12v6h-12zM28 27h12v6h-12zM28 33h12v6h-12zM28 39h12v6h-12z"/>
<ellipse cx="40" cy="9" rx="13" ry="42" fill="#4c4c4c"/>
<ellipse cx="40" cy="9" rx="9" ry="32" fill="#5b5b5b"/>
<ellipse cx="40" cy="9" rx="6" ry="21" fill="#6e6e6e"/>
<ellipse cx="40" cy="9" rx="3.5" ry="11" fill="#8a8a8a"/>
<ellipse cx="40" cy="9" rx="2" ry="5" fill="#a8a8a8"/>
</g>
<g filter="url(#sa)" fill="none" stroke-linecap="round">
<path stroke="#000000" stroke-width="1" d="M96 209l3 -35M156 130l1 -30"/>
<path stroke="#000000" stroke-width="1.5" d="M169 132l2 -28M110 105l0 -22"/>
<path stroke="#000000" stroke-width="2" d="M90 174l1 -25M154 180l1 -23"/>
<path stroke="#000000" stroke-width="2.5" d="M116 119l1 -31M74 58l3 -28M98 74l0 -10"/>
<path stroke="#010101" stroke-width="1" d="M109 102l3 -38"/>
<path stroke="#010101" stroke-width="1.5" d="M63 9l1 -10M189 37l2 -17M136 54l1 -38M120 64l1 -24M101 16l2 -21M156 53l1 -15M101 83l1 -38M76 203l1 -20M168 56l3 -34"/>
<path stroke="#010101" stroke-width="2" d="M120 22l2 -20M134 66l1 -34"/>
<path stroke="#010101" stroke-width="2.5" d="M153 117l3 -30M59 197l1 -15M126 192l4 -35M91 10l1 -12M124 65l4 -37M67 190l1 -12"/>
<path stroke="#020202" stroke-width="1.5" d="M127 18l1 -17M90 164l1 -29M162 23l0 -33M194 167l2 -19M124 27l0 -9M140 27l1 -12M71 72l1 -17M185 79l1 -23"/>
<path stroke="#020202" stroke-width="2" d="M46 187l1 -9M86 41l2 -22M45 170l1 -14M99 23l0 -28"/>
<path stroke="#020202" stroke-width="2.5" d="M195 89l1 -10M67 26l0 -25M207 47l1 -13M68 157l0 -28M114 173l2 -24M100 167l2 -37M174 98l1 -29M166 57l0 -18M126 116l0 -11M145 62l2 -20M66 115l1 -13"/>
<path stroke="#030303" stroke-width="1" d="M120 151l2 -32M74 21l2 -39M125 27l2 -35"/>
<path stroke="#030303" stroke-width="1.5" d="M70 114l0 -20M79 13l1 -16M129 27l1 -24M46 211l1 -34M164 105l1 -22"/>
<path stroke="#030303" stroke-width="2" d="M143 44l0 -9M184 84l1 -29M79 68l0 -34M66 96l1 -12M102 56l2 -19M94 153l1 -26"/>
<path stroke="#030303" stroke-width="2.5" d="M96 207l3 -35M165 27l2 -22"/>
<path stroke="#040404" stroke-width="1" d="M134 111l1 -23M129 187l2 -34M127 33l1 -20"/>
<path stroke="#040404" stroke-width="1.5" d="M103 181l2 -32M94 118l0 -9M64 175l3 -28M143 103l1 -17M135 30l3 -33M110 51l1 -20M85 80l0 -10M100 152l1 -27"/>
<path stroke="#040404" stroke-width="2" d="M41 179l1 -22M135 35l1 -26M117 46l1 -37M151 56l1 -10M72 83l2 -27M74 105l0 -22"/>
<path stroke="#040404" stroke-width="2.5" d="M112 139l2 -32M76 137l0 -26M36 164l1 -14"/>
<path stroke="#050505" stroke-width="1" d="M120 94l2 -27M142 54l1 -36M130 37l3 -37M169 160l1 -16M196 194l1 -18"/>
<path stroke="#050505" stroke-width="1.5" d="M55 174l3 -32M149 25l1 -10M185 22l1 -23M133 116l0 -22M114 150l3 -25M154 46l2 -33M102 200l1 -19M138 112l1 -34"/>
<path stroke="#050505" stroke-width="2" d="M158 52l1 -33M113 103l0 -9M106 25l0 -26M150 61l1 -24M59 98l1 -17M109 127l2 -31"/>
<path stroke="#050505" stroke-width="2.5" d="M109 95l2 -20"/>
<path stroke="#060606" stroke-width="1" d="M161 50l1 -22M121 141l0 -12M67 85l0 -14M144 63l2 -33"/>
<path stroke="#060606" stroke-width="1.5" d="M99 69l0 -25M66 69l2 -29M75 139l4 -37M122 184l0 -16M77 58l2 -35"/>
<path stroke="#060606" stroke-width="2" d="M185 46l0 -10M98 94l1 -17M151 28l0 -16M36 200l1 -11"/>
<path stroke="#060606" stroke-width="2.5" d="M99 11l1 -10M99 159l2 -26M72 91l2 -37M122 109l1 -18"/>
<path stroke="#070707" stroke-width="1" d="M130 87l1 -18"/>
<path stroke="#070707" stroke-width="1.5" d="M103 31l3 -32M66 18l2 -30M204 191l1 -27M73 78l1 -9M73 173l1 -31M82 157l0 -12M79 97l2 -36"/>
<path stroke="#070707" stroke-width="2" d="M67 70l1 -36M197 33l1 -16M198 156l1 -22M149 170l1 -21M72 159l3 -37M95 125l3 -33M118 10l0 -17M156 154l0 -14"/>
<path stroke="#070707" stroke-width="2.5" d="M97 132l1 -14M139 55l2 -33M95 62l2 -28M170 64l1 -28M90 76l1 -19M116 101l1 -25M97 6l1 -9"/>
<path stroke="#080808" stroke-width="1" d="M90 56l3 -38M71 101l1 -25M64 140l1 -12M176 91l0 -18"/>
<path stroke="#080808" stroke-width="1.5" d="M171 174l1 -12M113 185l3 -30M106 14l1 -20"/>
<path stroke="#080808" stroke-width="2" d="M160 142l3 -33M165 136l2 -29M136 202l1 -24M121 23l0 -10M83 43l1 -10M41 189l2 -29"/>
<path stroke="#080808" stroke-width="2.5" d="M140 35l3 -37M128 103l1 -8M116 86l0 -14M66 63l0 -10M154 116l3 -35M139 61l1 -14M160 157l2 -28"/>
<path stroke="#090909" stroke-width="1" d="M115 154l3 -29M75 130l2 -24M171 131l0 -14M157 175l2 -28M91 97l3 -38M208 135l0 -22M40 146l3 -34"/>
<path stroke="#090909" stroke-width="1.5" d="M43 177l1 -11M106 142l2 -28M122 138l2 -28M182 171l2 -24M125 70l3 -26M65 20l2 -19M81 44l2 -16M165 71l2 -31"/>
<path stroke="#090909" stroke-width="2" d="M112 178l1 -27M110 184l1 -11"/>
<path stroke="#090909" stroke-width="2.5" d="M182 135l0 -35M169 49l2 -15M117 95l1 -18M154 74l2 -19M39 190l3 -27"/>
<path stroke="#0a0a0a" stroke-width="1" d="M168 165l0 -31M82 124l2 -23M89 24l2 -26M145 87l1 -19"/>
<path stroke="#0a0a0a" stroke-width="1.5" d="M59 193l0 -15M69 78l3 -28M124 208l3 -35M156 45l1 -31M102 119l3 -28M186 63l0 -22M117 120l2 -34"/>
<path stroke="#0a0a0a" stroke-width="2" d="M91 75l0 -11M116 95l3 -28M95 182l1 -16M71 166l2 -34M77 160l1 -31M131 183l0 -12M89 72l3 -28"/>
<path stroke="#0a0a0a" stroke-width="2.5" d="M125 158l1 -18M142 169l1 -13M173 193l0 -28M56 111l2 -22"/>
<path stroke="#0b0b0b" stroke-width="1" d="M154 203l1 -37M143 80l1 -17M102 80l1 -35"/>
<path stroke="#0b0b0b" stroke-width="1.5" d="M184 111l2 -32M99 72l2 -26M114 138l3 -28M121 107l0 -14M118 198l1 -14M143 163l3 -28M104 168l0 -14"/>
<path stroke="#0b0b0b" stroke-width="2" d="M104 43l1 -36M64 82l3 -33"/>
<path stroke="#0b0b0b" stroke-width="2.5" d="M65 102l1 -9M81 183l0 -27M98 89l1 -9M84 97l0 -27"/>
<path stroke="#0c0c0c" stroke-width="1" d="M81 130l2 -24M104 23l1 -13M115 26l0 -36M185 97l1 -10"/>
<path stroke="#0c0c0c" stroke-width="1.5" d="M112 182l0 -23M108 141l1 -16M142 71l2 -32M130 136l0 -21M202 129l1 -9M94 108l0 -19"/>
<path stroke="#0c0c0c" stroke-width="2" d="M88 100l1 -14M180 43l3 -26M76 200l2 -22M67 95l1 -28"/>
<path stroke="#0d0d0d" stroke-width="1" d="M101 67l0 -25M118 30l1 -13M82 49l1 -16M90 68l1 -26M88 208l1 -29"/>
<path stroke="#0d0d0d" stroke-width="1.5" d="M172 134l0 -9M76 11l1 -20M155 153l1 -18M61 66l1 -32M98 59l1 -13M88 111l1 -25M80 138l2 -24"/>
<path stroke="#0d0d0d" stroke-width="2" d="M67 116l0 -14M199 66l2 -24M153 159l2 -32M126 15l1 -12"/>
<path stroke="#0d0d0d" stroke-width="2.5" d="M73 153l0 -36M137 132l2 -30M132 138l2 -20M83 57l0 -9M100 92l3 -27"/>
<path stroke="#0e0e0e" stroke-width="1" d="M53 179l0 -32M158 82l2 -33M99 202l3 -35M97 58l1 -20M97 173l1 -16"/>
<path stroke="#0e0e0e" stroke-width="1.5" d="M123 98l2 -35M126 42l3 -33M141 153l0 -19M82 40l0 -13M144 26l1 -17M101 82l1 -16M59 125l3 -27M97 132l2 -20"/>
<path stroke="#0e0e0e" stroke-width="2" d="M91 102l2 -21M110 177l1 -24M132 158l1 -17M186 115l1 -23M203 93l1 -24M75 100l1 -21"/>
<path stroke="#0e0e0e" stroke-width="2.5" d="M177 92l1 -23M98 136l2 -18M85 178l0 -17M75 107l0 -23"/>
<path stroke="#0f0f0f" stroke-width="1.5" d="M125 121l3 -35M188 52l1 -38M113 109l1 -16M60 41l0 -11M107 112l1 -24M143 181l1 -15"/>
<path stroke="#0f0f0f" stroke-width="2" d="M98 66l0 -25M99 123l0 -16M79 53l1 -31M143 106l1 -8M84 96l3 -33M79 142l1 -26M182 136l1 -16"/>
<path stroke="#0f0f0f" stroke-width="2.5" d="M130 111l1 -25M200 173l0 -11M66 167l0 -21M91 68l2 -33"/>
<path stroke="#101010" stroke-width="1" d="M121 117l1 -36M98 22l0 -11"/>
<path stroke="#101010" stroke-width="1.5" d="M150 76l0 -31M121 50l2 -28M204 172l1 -19M99 195l1 -33M183 104l2 -15M80 149l1 -24M86 101l1 -14"/>
<path stroke="#101010" stroke-width="2" d="M199 139l1 -21M105 59l1 -21M160 83l0 -13M184 113l1 -19M103 181l1 -21M168 163l2 -25"/>
<path stroke="#101010" stroke-width="2.5" d="M123 177l0 -23M155 77l0 -10M173 149l0 -8"/>
<path stroke="#111111" stroke-width="1" d="M151 112l0 -26M109 86l2 -39"/>
<path stroke="#111111" stroke-width="1.5" d="M145 81l0 -15M136 131l1 -10M58 141l1 -23M96 41l1 -34M80 35l0 -23M110 26l1 -26M149 160l0 -29M147 190l1 -10M83 71l1 -16"/>
<path stroke="#111111" stroke-width="2" d="M90 130l0 -16M128 51l1 -17M138 112l1 -19M82 52l1 -9"/>
<path stroke="#111111" stroke-width="2.5" d="M159 31l1 -22M117 103l1 -36M123 107l0 -9M56 196l0 -12"/>
<path stroke="#121212" stroke-width="1" d="M173 36l1 -12M127 61l0 -12M95 34l2 -33M116 87l2 -26"/>
<path stroke="#121212" stroke-width="1.5" d="M149 172l1 -28M142 86l2 -27M112 76l2 -35M130 178l0 -12"/>
<path stroke="#121212" stroke-width="2" d="M139 92l1 -37M164 64l1 -16M137 157l1 -36M146 25l1 -21M94 127l1 -19M142 27l3 -38M84 112l3 -34M55 168l2 -28M88 129l0 -24M97 195l1 -24"/>
<path stroke="#121212" stroke-width="2.5" d="M147 27l1 -28M195 54l1 -24M142 62l1 -16M135 40l1 -11M185 170l3 -36"/>
<path stroke="#131313" stroke-width="1" d="M72 161l1 -20M169 71l2 -36"/>
<path stroke="#131313" stroke-width="1.5" d="M110 13l0 -21M182 15l0 -11M158 56l3 -38M62 59l1 -19M156 125l2 -30M134 180l3 -29M197 33l1 -19"/>
<path stroke="#131313" stroke-width="2" d="M43 140l3 -36M86 126l2 -37M133 23l3 -34M61 98l1 -22M39 192l1 -21M170 180l1 -34M137 9l1 -13"/>
<path stroke="#131313" stroke-width="2.5" d="M90 44l1 -33M107 115l2 -17"/>
<path stroke="#141414" stroke-width="1" d="M179 43l1 -11M159 36l1 -10M154 138l0 -37M91 203l1 -34M68 124l1 -18M202 129l0 -19"/>
<path stroke="#141414" stroke-width="1.5" d="M138 187l2 -25M177 60l2 -23M149 52l1 -21M154 26l1 -13"/>
<path stroke="#141414" stroke-width="2" d="M188 59l1 -34M114 62l2 -20M134 70l1 -9M109 176l1 -16M104 190l0 -20M135 38l1 -24M65 99l1 -13M192 29l1 -31"/>
<path stroke="#1f1f1f" stroke-width="1" d="M79 207l1 -31M80 173l2 -28M134 160l0 -11M48 158l2 -30M151 154l1 -12M163 207l2 -30M207 172l0 -25M66 128l2 -25M192 135l1 -27M64 156l2 -24M202 142l1 -10"/>
<path stroke="#1f1f1f" stroke-width="1.5" d="M162 125l0 -16M197 88l1 -23M132 108l1 -21M153 56l1 -30M82 83l2 -22M76 136l0 -31M86 70l3 -32M112 64l1 -11M158 176l0 -26M184 160l1 -13M172 185l1 -11M47 198l0 -16M190 195l0 -31M55 99l1 -17M143 165l0 -14M67 37l2 -18M174 94l2 -25M139 192l1 -22M58 68l1 -12"/>
<path stroke="#1f1f1f" stroke-width="2" d="M136 92l1 -10M79 46l1 -29M197 84l1 -26M91 76l2 -28M85 126l1 -20M136 54l1 -11M191 172l1 -14M182 151l1 -20M89 85l1 -22M39 140l0 -13M84 117l1 -27"/>
<path stroke="#202020" stroke-width="1" d="M90 178l0 -15M156 130l2 -27M172 26l3 -30M178 115l1 -15M154 38l3 -28M75 122l1 -14"/>
<path stroke="#202020" stroke-width="1.5" d="M124 129l1 -11M70 197l0 -24M121 79l0 -33M126 40l1 -16M94 172l2 -23M128 31l1 -16M167 109l0 -11M94 96l0 -27M66 164l1 -32M114 142l0 -16M117 80l1 -12M159 76l1 -17M167 47l1 -29M86 105l2 -18M53 181l1 -18M60 168l3 -30M127 187l1 -30"/>
<path stroke="#202020" stroke-width="2" d="M168 16l1 -29M205 87l0 -22M163 63l1 -26M86 94l1 -23M109 79l1 -9M110 172l2 -31M201 150l0 -23M173 20l0 -14M126 166l0 -10"/>
<path stroke="#212121" stroke-width="1" d="M67 99l1 -19M100 168l1 -24M192 174l3 -31M191 133l1 -25M104 198l2 -30M108 166l1 -19"/>
<path stroke="#212121" stroke-width="1.5" d="M144 41l2 -25M73 58l1 -24M100 114l2 -29M190 48l2 -17M57 35l2 -24M121 109l2 -23M208 118l2 -23M152 14l0 -10M149 147l1 -26M153 160l1 -13M72 132l0 -9M132 193l2 -22M148 39l2 -21M161 54l2 -23M131 18l0 -23M69 37l1 -33"/>
<path stroke="#212121" stroke-width="2" d="M70 153l2 -24M120 11l0 -10M49 121l0 -9M172 87l1 -10M72 146l1 -16M104 72l2 -20M84 75l1 -27M204 200l1 -25M61 24l2 -32M40 192l2 -19M92 73l0 -12M77 191l1 -21M175 16l1 -14M153 41l0 -9M149 79l1 -29"/>
<path stroke="#222222" stroke-width="1" d="M142 62l1 -14M118 48l2 -31M186 208l3 -30M203 27l0 -9M121 98l1 -34"/>
<path stroke="#222222" stroke-width="1.5" d="M208 207l1 -26M38 200l1 -13M132 200l2 -20M126 57l0 -13M149 162l0 -22M73 179l1 -14M206 174l0 -26M200 130l1 -13M207 59l1 -17M60 74l3 -33M97 177l2 -25M163 157l1 -28M195 21l0 -11M197 43l0 -22"/>
<path stroke="#222222" stroke-width="2" d="M194 193l1 -19M139 32l1 -15M205 30l2 -18M80 20l1 -17M133 31l0 -10M95 22l1 -20M184 204l2 -30M99 124l2 -21M46 126l0 -12M74 115l1 -14M36 171l1 -14M82 76l1 -16M92 54l0 -9M148 101l0 -30M173 140l0 -14"/>
<path stroke="#232323" stroke-width="1" d="M134 114l0 -15M38 183l2 -31M57 59l0 -11M109 174l2 -26M76 186l1 -21M138 22l3 -30M99 20l1 -14M161 25l3 -33M114 124l1 -10M190 190l0 -21M52 155l1 -25M155 80l0 -23"/>
<path stroke="#232323" stroke-width="1.5" d="M75 160l3 -31M105 190l1 -15M91 28l2 -29M157 113l0 -9M142 126l3 -33M100 153l1 -21M81 33l2 -20M146 31l2 -32M205 130l1 -24M100 123l1 -10M168 130l3 -30M88 73l1 -10M85 148l1 -8M151 96l0 -10M64 103l1 -28M66 64l1 -17M105 87l2 -19M159 140l1 -9M107 72l2 -20"/>
<path stroke="#232323" stroke-width="2" d="M173 84l1 -14M75 191l2 -20M121 80l1 -15M124 24l0 -11M47 192l0 -28M137 209l1 -33M108 146l0 -8M94 194l0 -13M53 174l2 -29M172 166l2 -20M174 162l2 -29"/>
<path stroke="#242424" stroke-width="1" d="M170 78l0 -18M128 159l2 -32M173 113l1 -20M83 87l0 -18M120 84l0 -20"/>
<path stroke="#242424" stroke-width="1.5" d="M133 101l1 -10M104 67l1 -15M179 147l2 -27M65 104l1 -26M207 46l1 -12M167 174l2 -33M119 67l0 -22M166 168l0 -10M173 133l1 -11M131 202l2 -22M114 48l1 -12M178 62l2 -22M117 193l2 -17M65 83l2 -29M94 123l0 -10M93 165l1 -15M206 169l1 -18M115 58l0 -15M163 59l0 -12M205 57l1 -17M51 117l1 -9M170 27l2 -31M127 43l1 -10M115 131l1 -14M64 169l0 -15M61 198l1 -17M199 30l2 -33"/>
<path stroke="#242424" stroke-width="2" d="M69 100l2 -31M142 69l3 -29M187 68l1 -10M55 173l1 -20M80 22l1 -18M59 146l1 -26M76 109l1 -29M205 130l3 -27M154 58l1 -15M187 153l2 -31M207 133l1 -27M132 148l0 -12M74 141l1 -8M131 170l1 -11M145 120l2 -29M188 31l1 -27M93 166l2 -31M56 62l0 -10M159 122l0 -11M143 44l0 -23M89 119l2 -21M139 15l0 -11M144 21l1 -31M47 201l1 -14"/>
<path stroke="#252525" stroke-width="1" d="M69 150l3 -33M175 27l1 -14M199 197l2 -32M131 113l1 -16M102 17l1 -27M62 91l2 -23"/>
<path stroke="#252525" stroke-width="1.5" d="M73 25l2 -29M119 144l3 -32M102 121l2 -17M147 150l1 -19M78 81l1 -8M69 63l0 -10M160 56l1 -23M90 196l1 -19M108 101l2 -17M74 19l2 -19M207 121l0 -19M106 189l1 -10M183 17l1 -22M65 24l1 -30"/>
<path stroke="#252525" stroke-width="2" d="M100 125l2 -28M174 179l2 -32M102 25l0 -16M72 135l2 -30M95 180l0 -9M183 27l0 -12M121 177l0 -18M199 155l2 -21M131 170l2 -33M60 16l1 -12M124 127l0 -17M132 160l1 -10M138 41l1 -8M84 28l1 -24M199 168l0 -27M138 121l1 -21"/>
<path stroke="#262626" stroke-width="1" d="M150 67l1 -19M170 80l0 -29M59 143l1 -11M72 196l0 -10M188 117l3 -33M101 193l1 -18M64 93l2 -29"/>
<path stroke="#262626" stroke-width="1.5" d="M114 120l0 -20M191 58l1 -33M45 129l2 -29M185 164l1 -14M202 162l3 -26M163 76l1 -13M159 69l2 -30M61 60l2 -28M46 192l1 -31M160 202l1 -15M87 155l1 -33M91 90l1 -24M79 26l1 -17M155 79l0 -12M153 102l0 -9"/>
<path stroke="#262626" stroke-width="2" d="M202 54l0 -14M185 90l1 -14M119 63l3 -29M55 120l1 -19M91 58l1 -13M56 149l1 -16M170 97l2 -23M68 106l1 -14M160 148l2 -25M172 73l1 -24M178 195l1 -23M58 27l1 -27M149 19l0 -16M76 28l0 -8M129 105l1 -14M79 163l0 -31M166 90l0 -24M192 57l1 -25M122 190l0 -20"/>
<path stroke="#272727" stroke-width="1" d="M89 189l3 -27M84 125l1 -13M136 40l1 -16M141 190l0 -25M59 41l1 -28M95 102l1 -10M59 45l1 -9M68 173l1 -13M196 153l1 -30M197 143l1 -24"/>
<path stroke="#272727" stroke-width="1.5" d="M73 87l1 -13M180 199l1 -12M178 62l1 -18M56 184l1 -12M148 78l2 -31M72 61l0 -11M186 100l1 -18M160 103l0 -11M174 38l2 -21M70 37l3 -27M163 182l2 -30M134 154l2 -28M78 106l0 -12M40 144l2 -15"/>
<path stroke="#272727" stroke-width="2" d="M38 187l1 -26M160 147l2 -18M130 35l0 -15M136 64l1 -15M168 164l1 -22M109 121l1 -18M203 138l1 -23M139 30l1 -12M123 202l2 -19M50 158l2 -30M40 170l1 -26M82 183l1 -11M89 185l1 -23M140 16l2 -24M61 128l0 -16M90 72l1 -11M70 105l1 -13M89 25l0 -10M183 188l1 -22M155 120l0 -20"/>
<path stroke="#282828" stroke-width="1" d="M62 185l1 -15M60 79l1 -18M161 143l1 -22M116 55l1 -33M162 179l1 -16M116 154l1 -17M153 173l1 -13M105 26l0 -17M128 37l1 -16M109 191l1 -22"/>
<path stroke="#282828" stroke-width="1.5" d="M73 201l0 -12M166 176l1 -23M205 72l0 -9M140 38l1 -23M198 101l2 -32M179 48l1 -25M185 93l1 -26M190 191l2 -20M189 99l1 -31M108 129l1 -10M104 47l0 -11M197 67l1 -13M182 28l1 -11M120 205l2 -23M103 15l1 -10M85 49l2 -20"/>
<path stroke="#282828" stroke-width="2" d="M48 122l3 -31M99 193l0 -15M103 172l1 -11M98 109l1 -9M165 208l2 -29M84 123l1 -24M159 9l1 -15M122 69l1 -13M115 106l1 -15M81 187l0 -12M171 117l1 -14M158 54l1 -18M117 38l1 -23M167 62l0 -31M73 39l0 -28M98 141l0 -32"/>
<path stroke="#292929" stroke-width="1" d="M173 153l1 -29M143 159l0 -27M36 202l2 -18M164 28l2 -22M196 121l1 -23M66 200l0 -13M69 80l2 -32M154 105l2 -30M84 147l1 -34"/>
<path stroke="#292929" stroke-width="1.5" d="M187 20l0 -23M190 199l2 -25M192 209l0 -32M76 159l1 -14M120 118l1 -29M115 118l1 -18M57 109l0 -13M91 19l0 -11M103 166l1 -18M85 89l1 -12M88 25l2 -20M129 77l1 -20"/>
<path stroke="#292929" stroke-width="2" d="M90 152l0 -25M120 78l2 -21M201 200l2 -29M127 6l0 -9M186 18l1 -14M175 110l1 -29M163 204l1 -21M130 31l1 -9M204 165l0 -12M162 147l1 -14M164 100l1 -25M186 94l0 -22M137 130l1 -9M107 168l1 -17M165 105l0 -23M113 114l0 -14M180 155l1 -14M60 154l1 -20M128 124l0 -15"/>
<path stroke="#2a2a2a" stroke-width="1" d="M200 35l0 -25M101 20l1 -12M200 16l0 -12M133 53l0 -18M47 119l1 -14M121 160l2 -16M121 161l1 -14M141 75l0 -20M151 188l0 -13M179 163l1 -13M84 137l1 -11M183 119l0 -11"/>
<path stroke="#2a2a2a" stroke-width="1.5" d="M119 56l1 -21M71 65l0 -19M113 103l2 -20M113 11l1 -9M150 59l1 -19M74 108l3 -26M56 54l0 -12M73 135l0 -28M138 145l1 -32M196 108l2 -24M89 62l2 -20M60 155l1 -13M170 137l0 -16M89 119l0 -20M127 188l2 -24M110 164l2 -16M53 134l1 -23"/>
<path stroke="#2a2a2a" stroke-width="2" d="M126 129l0 -18M164 161l1 -18M140 117l2 -22M69 57l2 -28M148 142l0 -16M59 84l0 -17M85 72l1 -28M184 104l1 -10M189 207l0 -26M82 107l1 -14M204 177l2 -23M192 173l2 -18M139 179l1 -31M186 36l0 -20M159 17l1 -12M83 190l2 -24"/>
<path stroke="#2b2b2b" stroke-width="1" d="M205 116l2 -30M55 161l0 -33"/>
<path stroke="#2b2b2b" stroke-width="1.5" d="M81 182l1 -17M146 190l1 -15M90 98l1 -23M84 10l1 -10M77 207l3 -27M128 81l0 -25M172 84l3 -29M50 178l1 -11M124 104l1 -32M54 115l0 -22M138 190l1 -18M138 69l2 -22M105 58l1 -26M123 112l1 -16"/>
<path stroke="#2b2b2b" stroke-width="2" d="M207 90l0 -24M135 11l2 -19M197 73l0 -12M81 170l0 -23M138 154l2 -21M193 12l0 -9M61 173l2 -24M148 41l0 -18M112 180l0 -19M96 48l1 -30M189 130l1 -17M166 59l0 -12"/>
<path stroke="#303030" stroke-width="1" d="M54 116l2 -26"/>
<path stroke="#303030" stroke-width="1.5" d="M69 177l0 -22M186 69l2 -28M126 193l0 -14"/>
<path stroke="#313131" stroke-width="1" d="M54 192l1 -20M205 62l1 -21M59 90l0 -9M208 198l1 -19"/>
<path stroke="#313131" stroke-width="1.5" d="M58 104l2 -29M44 143l0 -8M63 23l3 -30M172 127l1 -19M99 200l2 -29M87 45l2 -25M59 11l0 -19M50 180l1 -29M166 183l1 -18M122 42l2 -15M141 188l1 -16M75 73l2 -31M192 111l1 -15"/>
<path stroke="#313131" stroke-width="2" d="M180 123l1 -26M52 196l0 -7M56 87l1 -24M167 167l2 -25M190 31l0 -13M117 112l1 -14"/>
<path stroke="#323232" stroke-width="1" d="M61 95l1 -10M80 177l3 -33M55 211l3 -33"/>
<path stroke="#323232" stroke-width="1.5" d="M44 150l0 -29M140 184l0 -10M180 178l2 -25M66 82l2 -29M183 104l0 -15"/>
<path stroke="#323232" stroke-width="2" d="M85 33l2 -20M177 101l1 -13M56 54l1 -25M79 11l1 -15M126 187l1 -18M39 135l1 -16"/>
<path stroke="#333333" stroke-width="1" d="M110 162l0 -17M196 174l1 -31M90 157l0 -21"/>
<path stroke="#333333" stroke-width="1.5" d="M61 129l0 -13M207 176l3 -33M47 184l1 -10M181 57l3 -29M196 178l0 -17"/>
<path stroke="#333333" stroke-width="2" d="M53 165l1 -20M179 165l0 -16M84 198l1 -11M90 109l1 -17M177 16l1 -30M95 148l0 -26M77 33l2 -27M206 189l2 -33M206 29l1 -20"/>
<path stroke="#343434" stroke-width="1" d="M196 206l2 -26M121 170l1 -11M180 151l3 -27M53 147l2 -22M191 177l0 -34M190 91l0 -9M128 153l2 -26M199 60l0 -25"/>
<path stroke="#343434" stroke-width="1.5" d="M104 52l0 -10M97 78l1 -15M184 12l0 -16M62 54l0 -14M56 173l1 -12M74 124l2 -26M80 123l1 -15M203 83l2 -31"/>
<path stroke="#343434" stroke-width="2" d="M51 200l2 -23M198 67l1 -26M42 125l0 -14M55 112l2 -23M78 177l1 -21M85 29l1 -27M101 126l0 -30M160 156l0 -27M143 86l1 -13"/>
<path stroke="#353535" stroke-width="1" d="M161 41l1 -11M42 144l0 -31M62 163l0 -17M159 188l1 -14M156 197l3 -32"/>
<path stroke="#353535" stroke-width="1.5" d="M207 28l0 -7M201 178l0 -9M187 203l1 -32M72 179l0 -21M61 123l1 -18M179 168l1 -12M36 125l0 -9M187 147l3 -32M94 150l3 -26M149 172l2 -27"/>
<path stroke="#353535" stroke-width="2" d="M167 203l0 -23M187 47l0 -11M58 71l2 -18M72 138l0 -13M80 186l0 -17M73 75l2 -27M147 146l1 -10M176 191l0 -8"/>
<path stroke="#363636" stroke-width="1" d="M201 65l1 -13M177 173l2 -20M96 120l1 -14M54 182l0 -13M161 88l1 -15M76 184l1 -32"/>
<path stroke="#363636" stroke-width="1.5" d="M70 100l0 -17M167 150l1 -13M162 159l1 -15M199 48l1 -21M69 177l1 -9M189 22l2 -29M206 130l1 -22M102 200l0 -13"/>
<path stroke="#363636" stroke-width="2" d="M57 18l1 -9M90 42l3 -24M163 195l2 -29M60 105l0 -14M194 85l0 -30M61 109l1 -20M143 34l1 -15"/>
<path stroke="#373737" stroke-width="1" d="M80 158l0 -15M122 138l0 -9M178 50l1 -19M144 115l0 -13M158 88l4 -34M135 133l0 -14M192 170l0 -31"/>
<path stroke="#373737" stroke-width="1.5" d="M76 107l2 -22M177 171l3 -31M180 15l1 -17M83 142l1 -15M199 142l0 -12M79 157l0 -10M95 198l0 -18M173 165l1 -24M84 198l1 -14M46 160l3 -32M57 210l1 -31M197 138l1 -14M51 107l0 -7"/>
<path stroke="#373737" stroke-width="2" d="M179 136l1 -16M89 107l1 -11M128 176l1 -14M179 160l2 -24M40 161l1 -20M66 124l1 -32M188 33l0 -9M61 89l2 -29M72 119l0 -18M103 136l1 -20"/>
<path stroke="#383838" stroke-width="1" d="M109 133l1 -22M177 85l2 -18M54 127l0 -12M138 199l0 -28M196 166l0 -21M80 165l0 -33M183 172l1 -23M94 207l3 -33M45 173l2 -22M194 160l0 -20"/>
<path stroke="#383838" stroke-width="1.5" d="M56 96l3 -31M156 180l1 -15M159 130l1 -12M166 89l1 -30M52 135l2 -24M194 75l1 -16M51 123l0 -10M143 197l1 -23M92 95l2 -26"/>
<path stroke="#383838" stroke-width="2" d="M82 115l0 -27M63 191l2 -28M159 27l2 -27M133 177l1 -20M187 151l1 -19M39 173l2 -29M190 96l0 -17M87 36l0 -18M74 200l1 -20M203 80l1 -28"/>
<path stroke="#393939" stroke-width="1" d="M40 136l3 -27M180 107l0 -31"/>
<path stroke="#393939" stroke-width="1.5" d="M68 155l1 -10M89 35l0 -23M103 161l1 -19M133 192l1 -16M38 160l1 -14M81 184l1 -17M58 73l1 -23M40 140l1 -22M169 43l1 -7M40 140l1 -7M134 65l2 -23M193 111l0 -15"/>
<path stroke="#393939" stroke-width="2" d="M54 103l0 -14M202 85l0 -26M96 181l1 -32M151 135l1 -14M193 149l1 -17M169 52l2 -30M168 194l3 -31M190 174l0 -28M202 78l0 -12M36 134l0 -9M42 136l0 -22"/>
<path stroke="#3a3a3a" stroke-width="1" d="M110 37l2 -27M56 47l1 -7M147 109l2 -19M194 63l1 -31"/>
<path stroke="#3a3a3a" stroke-width="1.5" d="M178 33l1 -10M154 179l1 -12M55 151l1 -17M202 128l1 -23M50 163l1 -30M168 130l1 -10M68 27l1 -29M58 57l0 -10"/>
<path stroke="#3a3a3a" stroke-width="2" d="M124 209l1 -30M82 66l2 -20M206 90l1 -27M172 154l2 -19M67 149l0 -20M74 92l1 -13M173 54l1 -22M183 33l0 -11M140 54l2 -26"/>
<path stroke="#3b3b3b" stroke-width="1" d="M191 165l2 -20M85 157l2 -32M181 99l1 -27M206 42l1 -7M163 43l0 -7"/>
<path stroke="#3b3b3b" stroke-width="1.5" d="M137 115l0 -25M172 52l0 -23M177 181l0 -27M91 64l0 -9M167 34l0 -10M69 93l0 -11M199 173l0 -10M193 46l1 -27M175 141l1 -29M191 176l1 -22M60 106l1 -10"/>
<path stroke="#3b3b3b" stroke-width="2" d="M70 28l1 -22M139 103l2 -32M157 195l0 -26M146 175l0 -20M200 140l1 -21M141 203l2 -23"/>
<path stroke="#3c3c3c" stroke-width="1" d="M47 179l0 -9"/>
<path stroke="#3c3c3c" stroke-width="1.5" d="M64 50l1 -19M51 114l1 -9M167 19l1 -29M76 136l0 -18M173 112l1 -14M169 62l1 -20"/>
<path stroke="#3c3c3c" stroke-width="2" d="M162 156l2 -32M189 89l0 -20"/>
<path stroke="#3d3d3d" stroke-width="1.5" d="M174 69l0 -4"/>
<path stroke="#3e3e3e" stroke-width="1" d="M47 136l0 -7M82 177l1 -11"/>
<path stroke="#3e3e3e" stroke-width="1.5" d="M208 69l0 -6M145 116l1 -7M135 13l0 -7M82 142l0 -3"/>
<path stroke="#3f3f3f" stroke-width="1" d="M137 78l0 -5M67 140l1 -9"/>
<path stroke="#3f3f3f" stroke-width="1.5" d="M75 184l0 -7M154 197l0 -7"/>
<path stroke="#404040" stroke-width="1" d="M190 6l1 -8M57 79l0 -11"/>
<path stroke="#404040" stroke-width="1.5" d="M89 54l1 -6"/>
<path stroke="#414141" stroke-width="1" d="M145 180l0 -10M179 144l1 -11"/>
<path stroke="#414141" stroke-width="1.5" d="M130 115l1 -8M200 126l0 -9M168 123l0 -9M56 73l1 -7"/>
<path stroke="#424242" stroke-width="1.5" d="M160 96l0 -9M137 185l0 -4M134 27l0 -5M55 136l0 -3M49 130l0 -7M76 169l0 -8"/>
<path stroke="#434343" stroke-width="1" d="M141 172l0 -6M177 95l0 -3"/>
<path stroke="#434343" stroke-width="1.5" d="M175 51l0 -7M49 172l1 -10M142 79l0 -4"/>
<path stroke="#444444" stroke-width="1" d="M178 148l0 -9"/>
<path stroke="#444444" stroke-width="1.5" d="M83 49l1 -7M191 60l0 -5"/>
<path stroke="#454545" stroke-width="1.5" d="M90 147l0 -6M194 93l0 -3"/>
<ellipse cx="107" cy="47" rx="1.6" ry="2.4" fill="#616161" stroke="none" transform="rotate(20 107 47)"/>
<ellipse cx="130.5" cy="148" rx="1.6" ry="2" fill="#666666" stroke="none"/>
<ellipse cx="156.5" cy="127.6" rx="1.5" ry="3" fill="#545454" stroke="none"/>
<ellipse cx="164.4" cy="176" rx="1.5" ry="3" fill="#545454" stroke="none"/>
<ellipse cx="155.5" cy="146" rx="1.2" ry="2" fill="#4c4c4c" stroke="none"/>
<ellipse cx="86.4" cy="143" rx="1.5" ry="8" fill="#4c4c4c" stroke="none" transform="rotate(5 86.4 143)"/>
<ellipse cx="137.7" cy="40" rx="1" ry="6" fill="#4c4c4c" stroke="none" transform="rotate(5 137.7 40)"/>
</g>
</g>
<ellipse cx="174.671" cy="67.3595" rx="0.522148" ry="1.62256" fill="#a82020" transform="rotate(15 174.671 67.3595)"/>
<ellipse cx="74.7991" cy="93.8177" rx="0.617368" ry="1.41133" fill="#a82020" transform="rotate(15 74.7991 93.8177)"/>
<ellipse cx="79.2388" cy="120.995" rx="0.600186" ry="1.65112" fill="#a82020" transform="rotate(15 79.2388 120.995)"/>
<ellipse cx="62.1393" cy="178.463" rx="0.501804" ry="1.61336" fill="#a82020" transform="rotate(15 62.1393 178.463)"/>
<ellipse cx="132.068" cy="157.082" rx="0.504862" ry="1.12148" fill="#a82020" transform="rotate(15 132.068 157.082)"/>
<ellipse cx="70.7286" cy="147.055" rx="0.61019" ry="1.00498" fill="#a82020" transform="rotate(15 70.7286 147.055)"/>
<ellipse cx="85.9864" cy="24.247" rx="0.51004" ry="1.3601" fill="#a82020" transform="rotate(15 85.9864 24.247)"/>
<ellipse cx="121.896" cy="133.95" rx="0.47289" ry="1.63949" fill="#a82020" transform="rotate(15 121.896 133.95)"/>
<ellipse cx="201.384" cy="140.187" rx="0.67294" ry="1.64974" fill="#a82020" transform="rotate(15 201.384 140.187)"/>
<ellipse cx="71.8589" cy="91.178" rx="0.473799" ry="1.58157" fill="#a82020" transform="rotate(15 71.8589 91.178)"/>
<ellipse cx="136.544" cy="28.7399" rx="0.583427" ry="1.57684" fill="#a82020" transform="rotate(15 136.544 28.7399)"/>
<ellipse cx="138.6" cy="31.3805" rx="0.731056" ry="0.856394" fill="#a82020" transform="rotate(15 138.6 31.3805)"/>
<ellipse cx="181.093" cy="181.427" rx="0.675317" ry="1.74587" fill="#a82020" transform="rotate(15 181.093 181.427)"/>
<ellipse cx="135.521" cy="48.572" rx="0.591687" ry="1.53815" fill="#a82020" transform="rotate(15 135.521 48.572)"/>
<ellipse cx="170.203" cy="77.6417" rx="0.734173" ry="0.835097" fill="#a82020" transform="rotate(15 170.203 77.6417)"/>
<ellipse cx="130.389" cy="16.9445" rx="0.557416" ry="1.7893" fill="#a82020" transform="rotate(15 130.389 16.9445)"/>
<ellipse cx="75.2131" cy="183.47" rx="0.721536" ry="1.48827" fill="#a82020" transform="rotate(15 75.2131 183.47)"/>
<ellipse cx="66.1696" cy="92.987" rx="0.657587" ry="0.895192" fill="#a82020" transform="rotate(15 66.1696 92.987)"/>
<ellipse cx="101.542" cy="26.1612" rx="0.703052" ry="1.71526" fill="#a82020" transform="rotate(15 101.542 26.1612)"/>
<ellipse cx="192.855" cy="142.134" rx="0.622675" ry="0.862198" fill="#a82020" transform="rotate(15 192.855 142.134)"/>
<ellipse cx="128.288" cy="143.871" rx="0.676792" ry="0.826727" fill="#a82020" transform="rotate(15 128.288 143.871)"/>
<ellipse cx="59.1984" cy="25.5173" rx="0.727302" ry="0.913456" fill="#a82020" transform="rotate(15 59.1984 25.5173)"/>
<ellipse cx="114.978" cy="93.7586" rx="0.715127" ry="0.935625" fill="#a82020" transform="rotate(15 114.978 93.7586)"/>
<ellipse cx="96.1831" cy="145.859" rx="0.475788" ry="0.964249" fill="#a82020" transform="rotate(15 96.1831 145.859)"/>
<ellipse cx="61.6638" cy="178.653" rx="0.520004" ry="1.30151" fill="#a82020" transform="rotate(15 61.6638 178.653)"/>
<ellipse cx="113.358" cy="182.752" rx="0.663615" ry="1.40111" fill="#a82020" transform="rotate(15 113.358 182.752)"/>
<ellipse cx="129.47" cy="57.1338" rx="0.701763" ry="0.903056" fill="#a82020" transform="rotate(15 129.47 57.1338)"/>
<ellipse cx="148.781" cy="61.9275" rx="0.532877" ry="1.25374" fill="#a82020" transform="rotate(15 148.781 61.9275)"/>
<ellipse cx="85.6109" cy="114.163" rx="0.471225" ry="0.818812" fill="#a82020" transform="rotate(15 85.6109 114.163)"/>
<ellipse cx="78.6337" cy="25.8296" rx="0.713473" ry="1.31039" fill="#a82020" transform="rotate(15 78.6337 25.8296)"/>
<ellipse cx="157.095" cy="147.113" rx="0.499604" ry="1.75135" fill="#a82020" transform="rotate(15 157.095 147.113)"/>
<ellipse cx="114.108" cy="91.004" rx="0.596496" ry="1.49527" fill="#a82020" transform="rotate(15 114.108 91.004)"/>
<ellipse cx="170.184" cy="44.143" rx="0.698491" ry="1.22811" fill="#a82020" transform="rotate(15 170.184 44.143)"/>
<ellipse cx="94.6511" cy="162.117" rx="0.711601" ry="1.65801" fill="#a82020" transform="rotate(15 94.6511 162.117)"/>
<ellipse cx="105.227" cy="170.843" rx="0.682761" ry="1.77016" fill="#a82020" transform="rotate(15 105.227 170.843)"/>
<ellipse cx="168.209" cy="185.964" rx="0.593422" ry="1.54924" fill="#a82020" transform="rotate(15 168.209 185.964)"/>
<ellipse cx="172.053" cy="102.297" rx="0.601297" ry="1.20041" fill="#a82020" transform="rotate(15 172.053 102.297)"/>
<ellipse cx="184.805" cy="76.6214" rx="0.673961" ry="1.36186" fill="#a82020" transform="rotate(15 184.805 76.6214)"/>
<ellipse cx="161.21" cy="64.4163" rx="0.473667" ry="1.47514" fill="#a82020" transform="rotate(15 161.21 64.4163)"/>
<ellipse cx="79.1754" cy="73.2827" rx="0.684467" ry="0.848996" fill="#a82020" transform="rotate(15 79.1754 73.2827)"/>
<ellipse cx="191.009" cy="113.64" rx="0.618309" ry="1.4771" fill="#a82020" transform="rotate(15 191.009 113.64)"/>
<ellipse cx="66.3164" cy="13.8921" rx="0.666171" ry="1.38652" fill="#a82020" transform="rotate(15 66.3164 13.8921)"/>
<ellipse cx="151.361" cy="154.879" rx="0.531282" ry="0.960947" fill="#a82020" transform="rotate(15 151.361 154.879)"/>
<ellipse cx="199.462" cy="20.6442" rx="0.604696" ry="1.42396" fill="#a82020" transform="rotate(15 199.462 20.6442)"/>
<ellipse cx="197.446" cy="25.2501" rx="0.66071" ry="0.878811" fill="#a82020" transform="rotate(15 197.446 25.2501)"/>
<ellipse cx="124.255" cy="119.151" rx="0.704656" ry="0.847158" fill="#a82020" transform="rotate(15 124.255 119.151)"/>
<ellipse cx="167.279" cy="36.1966" rx="0.571407" ry="1.78121" fill="#a82020" transform="rotate(15 167.279 36.1966)"/>
<ellipse cx="182.171" cy="23.4958" rx="0.451374" ry="0.831466" fill="#a82020" transform="rotate(15 182.171 23.4958)"/>
<ellipse cx="172.006" cy="16.7499" rx="0.68548" ry="1.60738" fill="#a82020" transform="rotate(15 172.006 16.7499)"/>
<ellipse cx="177.369" cy="174.854" rx="0.639952" ry="1.62499" fill="#a82020" transform="rotate(15 177.369 174.854)"/>
<ellipse cx="137.257" cy="127.648" rx="0.470914" ry="1.35065" fill="#a82020" transform="rotate(15 137.257 127.648)"/>
<ellipse cx="202.587" cy="78.3109" rx="0.664429" ry="0.978345" fill="#a82020" transform="rotate(15 202.587 78.3109)"/>
<ellipse cx="128.32" cy="105.304" rx="0.680832" ry="1.12247" fill="#a82020" transform="rotate(15 128.32 105.304)"/>
<ellipse cx="126.44" cy="43.4206" rx="0.623224" ry="1.73979" fill="#a82020" transform="rotate(15 126.44 43.4206)"/>
<ellipse cx="114.451" cy="126.041" rx="0.617016" ry="0.995621" fill="#a82020" transform="rotate(15 114.451 126.041)"/>
<ellipse cx="159.67" cy="47.2587" rx="0.634162" ry="1.79407" fill="#a82020" transform="rotate(15 159.67 47.2587)"/>
<ellipse cx="102.78" cy="127.679" rx="0.551873" ry="1.44426" fill="#a82020" transform="rotate(15 102.78 127.679)"/>
<ellipse cx="85.933" cy="98.1189" rx="0.68548" ry="1.01319" fill="#a82020" transform="rotate(15 85.933 98.1189)"/>
<ellipse cx="109.777" cy="49.7283" rx="0.49743" ry="1.47017" fill="#a82020" transform="rotate(15 109.777 49.7283)"/>
<ellipse cx="179.37" cy="102.716" rx="0.584087" ry="1.10245" fill="#a82020" transform="rotate(15 179.37 102.716)"/>
<ellipse cx="92.9403" cy="175.857" rx="0.593955" ry="1.48176" fill="#a82020" transform="rotate(15 92.9403 175.857)"/>
<ellipse cx="98.743" cy="40.4583" rx="0.452766" ry="1.09587" fill="#a82020" transform="rotate(15 98.743 40.4583)"/>
<ellipse cx="119.178" cy="101.741" rx="0.635019" ry="1.49126" fill="#a82020" transform="rotate(15 119.178 101.741)"/>
<ellipse cx="185.977" cy="151.146" rx="0.656113" ry="1.60478" fill="#a82020" transform="rotate(15 185.977 151.146)"/>
<ellipse cx="137.107" cy="93.2022" rx="0.72456" ry="1.69362" fill="#a82020" transform="rotate(15 137.107 93.2022)"/>
<ellipse cx="114.348" cy="162.655" rx="0.578878" ry="1.55174" fill="#a82020" transform="rotate(15 114.348 162.655)"/>
<ellipse cx="61.5315" cy="114.671" rx="0.734042" ry="1.23865" fill="#a82020" transform="rotate(15 61.5315 114.671)"/>
<ellipse cx="185.121" cy="129.793" rx="0.45613" ry="0.876492" fill="#a82020" transform="rotate(15 185.121 129.793)"/>
<ellipse cx="106.268" cy="180.969" rx="0.647096" ry="1.39775" fill="#a82020" transform="rotate(15 106.268 180.969)"/>
<ellipse cx="183.554" cy="71.6363" rx="0.493847" ry="1.24578" fill="#a82020" transform="rotate(15 183.554 71.6363)"/>
</g></svg>
<svg class="hm" width="550" height="451" viewBox="0 0 550 451">
<defs><clipPath id="cb"><rect x="304" y="9.5" width="187" height="184"/></clipPath>
<filter id="bb" filterUnits="userSpaceOnUse" x="292" y="-2.5" width="211" height="208" color-interpolation-filters="sRGB"><feGaussianBlur stdDeviation="1.2 2.5"/></filter>
<filter id="sb" filterUnits="userSpaceOnUse" x="292" y="-2.5" width="211" height="208" color-interpolation-filters="sRGB"><feGaussianBlur stdDeviation="0.4 1.2"/></filter>
<filter id="fb" filterUnits="userSpaceOnUse" x="304" y="9.5" width="187" height="184" color-interpolation-filters="sRGB">
<feTurbulence type="fractalNoise" baseFrequency="0.35 0.05" numOctaves="2" seed="5" result="n"/>
<feColorMatrix in="n" type="matrix" values="1 0 0 0 0 1 0 0 0 0 1 0 0 0 0 0 0 0 0 1" result="ng"/>
<feComposite in="SourceGraphic" in2="ng" operator="arithmetic" k1="0" k2="1" k3="0.06" k4="-0.03" result="s"/>
<feComponentTransfer in="s"><feFuncR type="table" tableValues="1.000 1.000 1.000 1.000 1.000 1.000 1.000 1.000 1.000 1.000 1.000 1.000 0.996 0.992 0.988 0.984 0.980 0.984 0.987 0.990 0.993 0.997 1.000 1.000 1.000 1.000 1.000 1.000 1.000 1.000 1.000 1.000 1.000 1.000 1.000 1.000 1.000 1.000 1.000 1.000 1.000 0.926 0.853 0.779 0.706 0.538 0.370 0.202 0.105 0.078 0.052 0.026 0.000 0.000 0.000 0.000 0.000 0.000 0.000 0.000 0.000 0.000 0.000 0.000 0.000 0.000 0.000 0.000 0.000 0.000 0.000 0.000 0.000 0.000 0.000 0.000 0.000 0.000 0.000 0.000 0.000 0.000 0.000 0.000 0.000 0.000 0.000 0.000 0.000 0.000 0.000 0.000 0.000 0.000 0.000 0.000 0.000 0.000 0.000 0.000 0.000"/><feFuncG type="table" tableValues="1.000 1.000 1.000 1.000 1.000 1.000 1.000 0.984 0.952 0.919 0.887 0.855 0.802 0.748 0.695 0.642 0.588 0.516 0.444 0.373 0.301 0.229 0.157 0.133 0.110 0.125 0.180 0.235 0.304 0.373 0.441 0.510 0.565 0.620 0.675 0.729 0.784 0.824 0.863 0.902 0.941 0.936 0.931 0.926 0.922 0.905 0.888 0.871 0.863 0.863 0.863 0.863 0.863 0.856 0.850 0.844 0.838 0.831 0.809 0.787 0.765 0.703 0.641 0.580 0.527 0.482 0.437 0.392 0.361 0.329 0.298 0.267 0.235 0.173 0.110 0.067 0.045 0.022 0.000 0.000 0.000 0.000 0.000 0.000 0.000 0.000 0.000 0.000 0.000 0.000 0.000 0.000 0.000 0.000 0.000 0.000 0.000 0.000 0.000 0.000 0.000"/><feFuncB type="table" tableValues="1.000 1.000 1.000 1.000 1.000 1.000 1.000 0.984 0.952 0.919 0.887 0.855 0.805 0.756 0.707 0.657 0.608 0.533 0.458 0.382 0.307 0.232 0.157 0.118 0.078 0.047 0.024 0.000 0.000 0.000 0.000 0.000 0.000 0.000 0.000 0.000 0.000 0.000 0.000 0.000 0.000 0.000 0.000 0.000 0.000 0.034 0.067 0.101 0.161 0.248 0.336 0.423 0.510 0.565 0.620 0.675 0.729 0.784 0.837 0.889 0.941 0.958 0.975 0.992 0.992 0.975 0.958 0.941 0.910 0.878 0.847 0.816 0.784 0.706 0.627 0.546 0.462 0.378 0.294 0.235 0.175 0.116 0.072 0.043 0.014 0.000 0.000 0.000 0.000 0.000 0.000 0.000 0.000 0.000 0.000 0.000 0.000 0.000 0.000 0.000 0.000"/><feFuncA type="linear" slope="0" intercept="1"/></feComponentTransfer>
</filter></defs>
<g clip-path="url(#cb)"><g filter="url(#fb)">
<g filter="url(#bb)">
<path fill="#1f1f1f" d="M349 165.5h3v6h-3zM349 171.5h3v6h-3zM418 171.5h3v6h-3zM349 177.5h3v6h-3zM418 177.5h3v6h-3zM349 183.5h3v6h-3zM418 183.5h3v6h-3zM349 189.5h3v6h-3zM418 189.5h3v6h-3zM349 195.5h3v6h-3zM418 195.5h3v6h-3zM349 201.5h3v6h-3zM418 201.5h3v6h-3z"/>
<path fill="#202020" d="M418 165.5h3v6h-3zM352 171.5h3v6h-3zM352 177.5h3v6h-3zM352 183.5h3v6h-3zM352 189.5h3v6h-3zM352 195.5h3v6h-3zM352 201.5h3v6h-3z"/>
<path fill="#212121" d="M352 165.5h3v6h-3z"/>
<path fill="#222222" d="M349 159.5h3v6h-3zM415 171.5h3v6h-3zM415 177.5h3v6h-3zM415 183.5h3v6h-3zM415 189.5h3v6h-3zM415 195.5h3v6h-3zM415 201.5h3v6h-3z"/>
<path fill="#232323" d="M352 159.5h3v6h-3zM415 165.5h3v6h-3z"/>
<path fill="#242424" d="M349 153.5h3v6h-3zM418 159.5h3v6h-3z"/>
<path fill="#262626" d="M349 147.5h3v6h-3zM352 153.5h3v6h-3zM415 159.5h3v6h-3zM412 165.5h3v6h-3zM412 171.5h3v6h-3zM412 177.5h3v6h-3zM412 183.5h3v6h-3zM412 189.5h3v6h-3zM412 195.5h3v6h-3zM412 201.5h3v6h-3z"/>
<path fill="#272727" d="M418 153.5h3v6h-3z"/>
<path fill="#282828" d="M349 141.5h3v6h-3zM352 147.5h3v6h-3z"/>
<path fill="#292929" d="M415 153.5h3v6h-3zM412 159.5h3v6h-3zM421 171.5h3v6h-3zM421 177.5h3v6h-3zM421 183.5h3v6h-3zM421 189.5h3v6h-3zM421 195.5h3v6h-3zM421 201.5h3v6h-3z"/>
<path fill="#2a2a2a" d="M349 135.5h3v6h-3zM352 141.5h3v6h-3zM418 147.5h3v6h-3zM421 165.5h3v6h-3zM355 171.5h3v6h-3zM355 177.5h3v6h-3zM355 183.5h3v6h-3zM355 189.5h3v6h-3zM355 195.5h3v6h-3zM355 201.5h3v6h-3z"/>
<path fill="#2b2b2b" d="M355 165.5h3v6h-3z"/>
<path fill="#2c2c2c" d="M415 147.5h3v6h-3zM412 153.5h3v6h-3zM355 159.5h3v6h-3z"/>
<path fill="#2d2d2d" d="M349 129.5h3v6h-3zM352 135.5h3v6h-3zM421 159.5h3v6h-3zM409 165.5h3v6h-3zM409 171.5h3v6h-3zM409 177.5h3v6h-3zM409 183.5h3v6h-3zM409 189.5h3v6h-3zM409 195.5h3v6h-3zM409 201.5h3v6h-3z"/>
<path fill="#2e2e2e" d="M418 141.5h3v6h-3zM412 147.5h3v6h-3zM355 153.5h3v6h-3z"/>
<path fill="#2f2f2f" d="M349 123.5h3v6h-3zM352 129.5h3v6h-3zM421 153.5h3v6h-3zM409 159.5h3v6h-3z"/>
<path fill="#303030" d="M415 141.5h3v6h-3zM355 147.5h3v6h-3z"/>
<path fill="#313131" d="M349 117.5h3v6h-3zM352 123.5h3v6h-3zM418 135.5h3v6h-3zM412 141.5h3v6h-3zM409 153.5h3v6h-3z"/>
<path fill="#323232" d="M355 141.5h3v6h-3zM421 147.5h3v6h-3z"/>
<path fill="#333333" d="M349 111.5h3v6h-3zM355 135.5h3v6h-3zM415 135.5h3v6h-3zM409 147.5h3v6h-3z"/>
<path fill="#343434" d="M352 117.5h3v6h-3zM412 135.5h3v6h-3zM406 171.5h3v6h-3zM406 177.5h3v6h-3zM406 183.5h3v6h-3zM406 189.5h3v6h-3zM406 195.5h3v6h-3zM406 201.5h3v6h-3z"/>
<path fill="#353535" d="M349 105.5h3v6h-3zM355 129.5h3v6h-3zM418 129.5h3v6h-3zM409 141.5h3v6h-3zM421 141.5h3v6h-3zM346 165.5h3v6h-3zM406 165.5h3v6h-3zM346 171.5h3v6h-3zM346 177.5h3v6h-3zM346 183.5h3v6h-3zM346 189.5h3v6h-3zM346 195.5h3v6h-3zM346 201.5h3v6h-3z"/>
<path fill="#363636" d="M364 -2.5h3v6h-3zM364 3.5h3v6h-3zM364 9.5h3v6h-3zM364 15.5h3v6h-3zM364 21.5h3v6h-3zM364 27.5h3v6h-3zM364 33.5h3v6h-3zM352 111.5h3v6h-3zM412 129.5h6v6h-6zM346 153.5h3v6h-3zM346 159.5h3v6h-3zM406 159.5h3v6h-3zM424 165.5h3v6h-3zM424 171.5h3v6h-3zM424 177.5h3v6h-3zM424 183.5h3v6h-3zM424 189.5h3v6h-3zM424 195.5h3v6h-3zM424 201.5h3v6h-3z"/>
<path fill="#373737" d="M364 39.5h3v6h-3zM364 45.5h3v6h-3zM364 51.5h3v6h-3zM355 123.5h3v6h-3zM409 135.5h3v6h-3zM421 135.5h3v6h-3zM346 141.5h3v6h-3zM346 147.5h3v6h-3zM406 153.5h3v6h-3z"/>
<path fill="#383838" d="M376 -2.5h9v6h-9zM376 3.5h9v6h-9zM376 9.5h9v6h-9zM376 15.5h9v6h-9zM376 21.5h9v6h-9zM376 27.5h9v6h-9zM379 33.5h6v6h-6zM364 57.5h3v6h-3zM364 63.5h3v6h-3zM364 69.5h3v6h-3zM364 75.5h3v6h-3zM349 99.5h3v6h-3zM352 105.5h3v6h-3zM355 117.5h3v6h-3zM418 123.5h3v6h-3zM346 129.5h3v6h-3zM409 129.5h3v6h-3zM346 135.5h3v6h-3zM406 147.5h3v6h-3zM424 159.5h3v6h-3z"/>
<path fill="#393939" d="M376 33.5h3v6h-3zM364 81.5h3v6h-3zM364 87.5h3v6h-3zM349 93.5h3v6h-3zM364 93.5h3v6h-3zM346 117.5h3v6h-3zM346 123.5h3v6h-3zM412 123.5h6v6h-6zM406 141.5h3v6h-3z"/>
<path fill="#3a3a3a" d="M373 -2.5h3v6h-3zM385 -2.5h3v6h-3zM373 3.5h3v6h-3zM385 3.5h3v6h-3zM373 9.5h3v6h-3zM385 9.5h3v6h-3zM373 15.5h3v6h-3zM385 15.5h3v6h-3zM373 21.5h3v6h-3zM385 21.5h3v6h-3zM373 27.5h3v6h-3zM385 27.5h3v6h-3zM385 33.5h3v6h-3zM376 39.5h9v6h-9zM349 87.5h3v6h-3zM352 99.5h3v6h-3zM364 99.5h3v6h-3zM346 111.5h3v6h-3zM355 111.5h3v6h-3zM409 123.5h3v6h-3zM421 129.5h3v6h-3zM406 135.5h3v6h-3zM424 153.5h3v6h-3z"/>
<path fill="#3b3b3b" d="M361 -2.5h3v6h-3zM367 -2.5h3v6h-3zM361 3.5h3v6h-3zM367 3.5h3v6h-3zM361 9.5h3v6h-3zM367 9.5h3v6h-3zM361 15.5h3v6h-3zM367 15.5h3v6h-3zM361 21.5h3v6h-3zM367 21.5h3v6h-3zM361 27.5h3v6h-3zM367 27.5h3v6h-3zM361 33.5h3v6h-3zM367 33.5h3v6h-3zM373 33.5h3v6h-3zM361 39.5h3v6h-3zM367 39.5h3v6h-3zM373 39.5h3v6h-3zM385 39.5h3v6h-3zM361 45.5h3v6h-3zM367 45.5h3v6h-3zM376 45.5h9v6h-9zM361 51.5h3v6h-3zM367 51.5h3v6h-3zM361 57.5h3v6h-3zM367 57.5h3v6h-3zM361 63.5h3v6h-3zM367 63.5h3v6h-3zM361 69.5h3v6h-3zM367 69.5h3v6h-3zM349 75.5h3v6h-3zM367 75.5h3v6h-3zM349 81.5h3v6h-3zM367 81.5h3v6h-3zM367 87.5h3v6h-3zM367 93.5h3v6h-3zM346 99.5h3v6h-3zM346 105.5h3v6h-3zM364 105.5h3v6h-3zM424 147.5h3v6h-3zM403 165.5h3v6h-3zM403 171.5h3v6h-3zM403 177.5h3v6h-3zM403 183.5h3v6h-3zM403 189.5h3v6h-3zM403 195.5h3v6h-3zM403 201.5h3v6h-3z"/>
<path fill="#3c3c3c" d="M370 -2.5h3v6h-3zM370 3.5h3v6h-3zM370 9.5h3v6h-3zM370 15.5h3v6h-3zM370 21.5h3v6h-3zM370 27.5h3v6h-3zM370 33.5h3v6h-3zM373 45.5h3v6h-3zM385 45.5h3v6h-3zM376 51.5h3v6h-3zM382 51.5h3v6h-3zM349 69.5h3v6h-3zM361 75.5h3v6h-3zM361 81.5h3v6h-3zM346 87.5h3v6h-3zM352 87.5h3v6h-3zM361 87.5h3v6h-3zM346 93.5h3v6h-3zM352 93.5h3v6h-3zM361 93.5h3v6h-3zM361 99.5h3v6h-3zM367 99.5h3v6h-3zM355 105.5h3v6h-3zM364 111.5h3v6h-3zM409 117.5h12v6h-12zM406 129.5h3v6h-3zM403 153.5h3v6h-3zM403 159.5h3v6h-3zM427 165.5h3v6h-3zM427 171.5h3v6h-3zM427 177.5h3v6h-3zM427 183.5h3v6h-3zM427 189.5h3v6h-3zM427 195.5h3v6h-3zM427 201.5h3v6h-3z"/>
<path fill="#3d3d3d" d="M388 -2.5h3v6h-3zM388 3.5h3v6h-3zM388 9.5h3v6h-3zM388 15.5h3v6h-3zM388 21.5h3v6h-3zM388 27.5h3v6h-3zM388 33.5h3v6h-3zM370 39.5h3v6h-3zM370 45.5h3v6h-3zM373 51.5h3v6h-3zM379 51.5h3v6h-3zM385 51.5h3v6h-3zM349 63.5h3v6h-3zM346 75.5h3v6h-3zM352 75.5h3v6h-3zM346 81.5h3v6h-3zM352 81.5h3v6h-3zM361 105.5h3v6h-3zM367 105.5h3v6h-3zM361 111.5h3v6h-3zM364 117.5h3v6h-3zM406 123.5h3v6h-3zM421 123.5h3v6h-3zM358 135.5h3v6h-3zM358 141.5h3v6h-3zM403 141.5h3v6h-3zM424 141.5h3v6h-3zM358 147.5h3v6h-3zM403 147.5h3v6h-3zM358 153.5h3v6h-3zM358 159.5h3v6h-3zM427 159.5h3v6h-3zM358 165.5h3v6h-3zM358 171.5h3v6h-3zM358 177.5h3v6h-3zM358 183.5h3v6h-3zM358 189.5h3v6h-3zM358 195.5h3v6h-3zM358 201.5h3v6h-3z"/>
<path fill="#3e3e3e" d="M388 39.5h3v6h-3zM388 45.5h3v6h-3zM370 51.5h3v6h-3zM349 57.5h3v6h-3zM370 57.5h18v6h-18zM352 63.5h3v6h-3zM346 69.5h3v6h-3zM352 69.5h3v6h-3zM355 93.5h3v6h-3zM355 99.5h6v6h-6zM358 105.5h3v6h-3zM358 111.5h3v6h-3zM367 111.5h3v6h-3zM409 111.5h6v6h-6zM358 117.5h6v6h-6zM406 117.5h3v6h-3zM358 123.5h9v6h-9zM358 129.5h3v6h-3zM403 129.5h3v6h-3zM403 135.5h3v6h-3zM400 153.5h3v6h-3zM427 153.5h3v6h-3zM400 159.5h3v6h-3zM400 165.5h3v6h-3zM400 171.5h3v6h-3zM400 177.5h3v6h-3zM400 183.5h3v6h-3zM400 189.5h3v6h-3zM400 195.5h3v6h-3zM400 201.5h3v6h-3z"/>
<path fill="#3f3f3f" d="M349 51.5h6v6h-6zM358 51.5h3v6h-3zM388 51.5h3v6h-3zM346 57.5h3v6h-3zM352 57.5h3v6h-3zM358 57.5h3v6h-3zM346 63.5h3v6h-3zM355 63.5h6v6h-6zM370 63.5h18v6h-18zM355 69.5h6v6h-6zM370 69.5h3v6h-3zM355 75.5h6v6h-6zM355 81.5h6v6h-6zM355 87.5h6v6h-6zM343 93.5h3v6h-3zM358 93.5h3v6h-3zM343 99.5h3v6h-3zM406 111.5h3v6h-3zM415 111.5h6v6h-6zM367 117.5h3v6h-3zM421 117.5h3v6h-3zM403 123.5h3v6h-3zM361 129.5h6v6h-6zM400 129.5h3v6h-3zM361 135.5h3v6h-3zM400 135.5h3v6h-3zM424 135.5h3v6h-3zM400 141.5h3v6h-3zM400 147.5h3v6h-3z"/>
<path fill="#404040" d="M355 -2.5h6v6h-6zM391 -2.5h6v6h-6zM355 3.5h6v6h-6zM391 3.5h6v6h-6zM355 9.5h6v6h-6zM391 9.5h6v6h-6zM355 15.5h6v6h-6zM391 15.5h6v6h-6zM355 21.5h6v6h-6zM391 21.5h6v6h-6zM355 27.5h6v6h-6zM391 27.5h6v6h-6zM355 33.5h6v6h-6zM391 33.5h6v6h-6zM349 39.5h12v6h-12zM391 39.5h6v6h-6zM349 45.5h12v6h-12zM391 45.5h6v6h-6zM346 51.5h3v6h-3zM355 51.5h3v6h-3zM391 51.5h6v6h-6zM355 57.5h3v6h-3zM388 57.5h3v6h-3zM394 57.5h3v6h-3zM388 63.5h3v6h-3zM394 63.5h3v6h-3zM373 69.5h6v6h-6zM382 69.5h6v6h-6zM394 69.5h3v6h-3zM370 75.5h3v6h-3zM394 75.5h3v6h-3zM343 81.5h3v6h-3zM370 81.5h3v6h-3zM394 81.5h3v6h-3zM343 87.5h3v6h-3zM394 87.5h6v6h-6zM394 93.5h6v6h-6zM394 99.5h6v6h-6zM343 105.5h3v6h-3zM394 105.5h9v6h-9zM406 105.5h6v6h-6zM397 111.5h9v6h-9zM397 117.5h9v6h-9zM367 123.5h3v6h-3zM397 123.5h6v6h-6zM397 129.5h3v6h-3zM424 129.5h3v6h-3zM364 135.5h3v6h-3zM397 135.5h3v6h-3zM361 141.5h3v6h-3zM397 141.5h3v6h-3zM361 147.5h3v6h-3zM397 147.5h3v6h-3zM427 147.5h3v6h-3zM397 153.5h3v6h-3zM397 159.5h3v6h-3zM397 165.5h3v6h-3zM430 165.5h3v6h-3zM397 171.5h3v6h-3zM430 171.5h3v6h-3zM397 177.5h3v6h-3zM430 177.5h3v6h-3zM397 183.5h3v6h-3zM430 183.5h3v6h-3zM397 189.5h3v6h-3zM430 189.5h3v6h-3zM397 195.5h3v6h-3zM430 195.5h3v6h-3zM397 201.5h3v6h-3zM430 201.5h3v6h-3z"/>
<path fill="#414141" d="M349 -2.5h6v6h-6zM397 -2.5h3v6h-3zM349 3.5h6v6h-6zM397 3.5h3v6h-3zM349 9.5h6v6h-6zM397 9.5h3v6h-3zM349 15.5h6v6h-6zM397 15.5h3v6h-3zM349 21.5h6v6h-6zM397 21.5h3v6h-3zM349 27.5h6v6h-6zM397 27.5h3v6h-3zM349 33.5h6v6h-6zM397 33.5h3v6h-3zM346 39.5h3v6h-3zM397 39.5h3v6h-3zM346 45.5h3v6h-3zM397 45.5h6v6h-6zM397 51.5h6v6h-6zM391 57.5h3v6h-3zM397 57.5h6v6h-6zM343 63.5h3v6h-3zM391 63.5h3v6h-3zM397 63.5h6v6h-6zM343 69.5h3v6h-3zM379 69.5h3v6h-3zM388 69.5h6v6h-6zM397 69.5h6v6h-6zM343 75.5h3v6h-3zM373 75.5h6v6h-6zM385 75.5h3v6h-3zM391 75.5h3v6h-3zM397 75.5h6v6h-6zM391 81.5h3v6h-3zM397 81.5h6v6h-6zM370 87.5h3v6h-3zM391 87.5h3v6h-3zM400 87.5h6v6h-6zM370 93.5h3v6h-3zM391 93.5h3v6h-3zM400 93.5h6v6h-6zM370 99.5h3v6h-3zM400 99.5h9v6h-9zM403 105.5h3v6h-3zM412 105.5h3v6h-3zM343 111.5h3v6h-3zM394 111.5h3v6h-3zM343 117.5h3v6h-3zM394 117.5h3v6h-3zM367 129.5h3v6h-3zM364 141.5h3v6h-3zM427 141.5h3v6h-3zM361 153.5h3v6h-3zM361 159.5h3v6h-3zM430 159.5h3v6h-3z"/>
<path fill="#424242" d="M346 -2.5h3v6h-3zM400 -2.5h18v6h-18zM346 3.5h3v6h-3zM400 3.5h18v6h-18zM346 9.5h3v6h-3zM400 9.5h18v6h-18zM346 15.5h3v6h-3zM400 15.5h18v6h-18zM346 21.5h3v6h-3zM400 21.5h18v6h-18zM346 27.5h3v6h-3zM400 27.5h18v6h-18zM346 33.5h3v6h-3zM400 33.5h18v6h-18zM400 39.5h12v6h-12zM403 45.5h9v6h-9zM343 51.5h3v6h-3zM403 51.5h9v6h-9zM343 57.5h3v6h-3zM403 57.5h9v6h-9zM403 63.5h9v6h-9zM403 69.5h9v6h-9zM379 75.5h6v6h-6zM388 75.5h3v6h-3zM403 75.5h6v6h-6zM373 81.5h3v6h-3zM388 81.5h3v6h-3zM403 81.5h6v6h-6zM373 87.5h3v6h-3zM406 87.5h3v6h-3zM406 93.5h3v6h-3zM391 99.5h3v6h-3zM409 99.5h3v6h-3zM370 105.5h3v6h-3zM415 105.5h3v6h-3zM421 111.5h3v6h-3zM343 123.5h3v6h-3zM394 123.5h3v6h-3zM424 123.5h3v6h-3zM394 129.5h3v6h-3zM367 135.5h3v6h-3zM394 135.5h3v6h-3zM427 135.5h3v6h-3zM364 147.5h3v6h-3zM430 153.5h3v6h-3zM361 165.5h3v6h-3zM361 171.5h3v6h-3zM361 177.5h3v6h-3zM361 183.5h3v6h-3zM361 189.5h3v6h-3zM361 195.5h3v6h-3zM361 201.5h3v6h-3z"/>
<path fill="#434343" d="M418 -2.5h3v6h-3zM418 3.5h3v6h-3zM418 9.5h3v6h-3zM418 15.5h3v6h-3zM418 21.5h3v6h-3zM418 27.5h3v6h-3zM343 33.5h3v6h-3zM418 33.5h3v6h-3zM343 39.5h3v6h-3zM412 39.5h6v6h-6zM343 45.5h3v6h-3zM412 45.5h6v6h-6zM412 51.5h3v6h-3zM412 57.5h3v6h-3zM412 63.5h3v6h-3zM409 75.5h3v6h-3zM376 81.5h3v6h-3zM382 81.5h6v6h-6zM409 81.5h3v6h-3zM388 87.5h3v6h-3zM409 87.5h3v6h-3zM373 93.5h3v6h-3zM388 93.5h3v6h-3zM409 93.5h3v6h-3zM412 99.5h3v6h-3zM418 105.5h3v6h-3zM370 111.5h3v6h-3zM370 117.5h3v6h-3zM343 129.5h3v6h-3zM427 129.5h3v6h-3zM343 135.5h3v6h-3zM367 141.5h3v6h-3zM394 141.5h3v6h-3zM394 147.5h3v6h-3zM430 147.5h3v6h-3zM364 153.5h3v6h-3z"/>
<path fill="#444444" d="M343 -2.5h3v6h-3zM421 -2.5h6v6h-6zM343 3.5h3v6h-3zM421 3.5h6v6h-6zM343 9.5h3v6h-3zM421 9.5h6v6h-6zM343 15.5h3v6h-3zM421 15.5h6v6h-6zM343 21.5h3v6h-3zM421 21.5h6v6h-6zM343 27.5h3v6h-3zM421 27.5h6v6h-6zM421 33.5h6v6h-6zM418 39.5h6v6h-6zM418 45.5h3v6h-3zM415 51.5h6v6h-6zM415 57.5h3v6h-3zM415 63.5h3v6h-3zM412 69.5h3v6h-3zM412 75.5h3v6h-3zM379 81.5h3v6h-3zM412 81.5h3v6h-3zM376 87.5h3v6h-3zM382 87.5h6v6h-6zM412 87.5h3v6h-3zM412 93.5h3v6h-3zM373 99.5h3v6h-3zM373 105.5h3v6h-3zM391 105.5h3v6h-3zM424 117.5h3v6h-3zM370 123.5h3v6h-3zM370 129.5h3v6h-3zM343 141.5h3v6h-3zM430 141.5h3v6h-3zM367 147.5h3v6h-3zM394 153.5h3v6h-3zM364 159.5h3v6h-3zM394 159.5h3v6h-3zM433 165.5h3v6h-3zM433 171.5h3v6h-3zM433 177.5h3v6h-3zM433 183.5h3v6h-3zM433 189.5h3v6h-3zM433 195.5h3v6h-3zM433 201.5h3v6h-3z"/>
<path fill="#454545" d="M427 -2.5h3v6h-3zM427 3.5h3v6h-3zM427 9.5h3v6h-3zM427 15.5h3v6h-3zM427 21.5h3v6h-3zM427 27.5h3v6h-3zM427 33.5h3v6h-3zM424 39.5h3v6h-3zM421 45.5h6v6h-6zM421 51.5h3v6h-3zM418 57.5h3v6h-3zM418 63.5h3v6h-3zM415 69.5h3v6h-3zM415 75.5h3v6h-3zM415 81.5h3v6h-3zM379 87.5h3v6h-3zM376 93.5h3v6h-3zM385 93.5h3v6h-3zM388 99.5h3v6h-3zM415 99.5h3v6h-3zM421 105.5h3v6h-3zM373 111.5h3v6h-3zM391 111.5h3v6h-3zM424 111.5h3v6h-3zM373 117.5h3v6h-3zM373 123.5h3v6h-3zM427 123.5h3v6h-3zM370 135.5h3v6h-3zM430 135.5h3v6h-3zM370 141.5h3v6h-3zM343 147.5h3v6h-3zM343 153.5h3v6h-3zM367 153.5h3v6h-3zM433 159.5h3v6h-3zM364 165.5h3v6h-3zM394 165.5h3v6h-3zM364 171.5h3v6h-3zM394 171.5h3v6h-3zM436 171.5h3v6h-3zM364 177.5h3v6h-3zM394 177.5h3v6h-3zM436 177.5h3v6h-3zM364 183.5h3v6h-3zM394 183.5h3v6h-3zM436 183.5h3v6h-3zM364 189.5h3v6h-3zM394 189.5h3v6h-3zM436 189.5h3v6h-3zM364 195.5h3v6h-3zM394 195.5h3v6h-3zM436 195.5h3v6h-3zM364 201.5h3v6h-3zM394 201.5h3v6h-3zM436 201.5h3v6h-3z"/>
<path fill="#464646" d="M430 -2.5h3v6h-3zM430 3.5h3v6h-3zM430 9.5h3v6h-3zM430 15.5h3v6h-3zM430 21.5h3v6h-3zM430 27.5h3v6h-3zM430 33.5h3v6h-3zM427 39.5h3v6h-3zM427 45.5h3v6h-3zM424 51.5h3v6h-3zM421 57.5h6v6h-6zM421 63.5h3v6h-3zM418 69.5h6v6h-6zM418 75.5h3v6h-3zM415 87.5h3v6h-3zM379 93.5h6v6h-6zM415 93.5h3v6h-3zM376 99.5h3v6h-3zM385 99.5h3v6h-3zM418 99.5h3v6h-3zM427 117.5h3v6h-3zM373 129.5h3v6h-3zM430 129.5h3v6h-3zM373 135.5h3v6h-3zM373 141.5h3v6h-3zM370 147.5h6v6h-6zM433 147.5h3v6h-3zM370 153.5h3v6h-3zM433 153.5h3v6h-3zM343 159.5h3v6h-3zM367 159.5h3v6h-3zM436 159.5h3v6h-3zM436 165.5h6v6h-6zM439 171.5h3v6h-3zM439 177.5h3v6h-3zM439 183.5h3v6h-3zM439 189.5h3v6h-3zM439 195.5h3v6h-3zM439 201.5h3v6h-3z"/>
<path fill="#474747" d="M430 39.5h3v6h-3zM430 45.5h3v6h-3zM427 51.5h3v6h-3zM427 57.5h3v6h-3zM424 63.5h6v6h-6zM424 69.5h3v6h-3zM421 75.5h3v6h-3zM418 81.5h6v6h-6zM418 87.5h3v6h-3zM382 99.5h3v6h-3zM421 99.5h3v6h-3zM376 105.5h3v6h-3zM388 105.5h3v6h-3zM424 105.5h3v6h-3zM427 111.5h3v6h-3zM391 117.5h3v6h-3zM430 123.5h3v6h-3zM433 135.5h3v6h-3zM433 141.5h3v6h-3zM436 147.5h3v6h-3zM373 153.5h3v6h-3zM436 153.5h3v6h-3zM370 159.5h6v6h-6zM439 159.5h3v6h-3zM343 165.5h3v6h-3zM367 165.5h9v6h-9zM442 165.5h3v6h-3zM343 171.5h3v6h-3zM367 171.5h9v6h-9zM442 171.5h3v6h-3zM343 177.5h3v6h-3zM367 177.5h9v6h-9zM442 177.5h3v6h-3zM343 183.5h3v6h-3zM367 183.5h9v6h-9zM442 183.5h3v6h-3zM343 189.5h3v6h-3zM367 189.5h9v6h-9zM442 189.5h3v6h-3zM343 195.5h3v6h-3zM367 195.5h9v6h-9zM442 195.5h3v6h-3zM343 201.5h3v6h-3zM367 201.5h9v6h-9zM442 201.5h3v6h-3z"/>
<path fill="#484848" d="M433 -2.5h3v6h-3zM433 3.5h3v6h-3zM433 9.5h3v6h-3zM433 15.5h3v6h-3zM433 21.5h3v6h-3zM433 27.5h3v6h-3zM433 33.5h3v6h-3zM433 39.5h3v6h-3zM433 45.5h3v6h-3zM430 51.5h3v6h-3zM430 57.5h3v6h-3zM430 63.5h3v6h-3zM427 69.5h3v6h-3zM424 75.5h6v6h-6zM424 81.5h3v6h-3zM421 87.5h3v6h-3zM418 93.5h6v6h-6zM379 99.5h3v6h-3zM385 105.5h3v6h-3zM427 105.5h3v6h-3zM376 111.5h3v6h-3zM430 111.5h3v6h-3zM376 117.5h3v6h-3zM430 117.5h3v6h-3zM391 123.5h3v6h-3zM433 129.5h3v6h-3zM436 135.5h3v6h-3zM436 141.5h3v6h-3zM439 147.5h3v6h-3zM439 153.5h3v6h-3zM442 159.5h3v6h-3z"/>
<path fill="#494949" d="M436 -2.5h3v6h-3zM436 3.5h3v6h-3zM436 9.5h3v6h-3zM436 15.5h3v6h-3zM436 21.5h3v6h-3zM436 27.5h3v6h-3zM436 33.5h3v6h-3zM436 39.5h3v6h-3zM433 51.5h3v6h-3zM433 57.5h3v6h-3zM433 63.5h3v6h-3zM430 69.5h3v6h-3zM430 75.5h3v6h-3zM427 81.5h3v6h-3zM424 87.5h6v6h-6zM340 93.5h3v6h-3zM424 93.5h3v6h-3zM424 99.5h3v6h-3zM379 105.5h6v6h-6zM430 105.5h3v6h-3zM388 111.5h3v6h-3zM433 117.5h3v6h-3zM376 123.5h3v6h-3zM433 123.5h3v6h-3zM436 129.5h3v6h-3zM439 135.5h3v6h-3zM439 141.5h3v6h-3zM442 147.5h3v6h-3zM442 153.5h3v6h-3z"/>
<path fill="#4a4a4a" d="M439 -2.5h3v6h-3zM439 3.5h3v6h-3zM439 9.5h3v6h-3zM439 15.5h3v6h-3zM439 21.5h3v6h-3zM439 27.5h3v6h-3zM439 33.5h3v6h-3zM436 45.5h3v6h-3zM436 51.5h3v6h-3zM340 57.5h3v6h-3zM436 57.5h3v6h-3zM340 63.5h3v6h-3zM436 63.5h3v6h-3zM340 69.5h3v6h-3zM433 69.5h3v6h-3zM340 75.5h3v6h-3zM433 75.5h3v6h-3zM340 81.5h3v6h-3zM430 81.5h6v6h-6zM340 87.5h3v6h-3zM430 87.5h3v6h-3zM427 93.5h6v6h-6zM340 99.5h3v6h-3zM427 99.5h6v6h-6zM340 105.5h3v6h-3zM433 105.5h3v6h-3zM385 111.5h3v6h-3zM433 111.5h3v6h-3zM436 117.5h3v6h-3zM436 123.5h6v6h-6zM376 129.5h3v6h-3zM391 129.5h3v6h-3zM439 129.5h3v6h-3zM442 141.5h3v6h-3zM445 165.5h3v6h-3zM445 171.5h3v6h-3zM445 177.5h3v6h-3zM445 183.5h3v6h-3zM445 189.5h3v6h-3zM445 195.5h3v6h-3zM445 201.5h3v6h-3z"/>
<path fill="#4b4b4b" d="M340 -2.5h3v6h-3zM340 3.5h3v6h-3zM340 9.5h3v6h-3zM340 15.5h3v6h-3zM340 21.5h3v6h-3zM340 27.5h3v6h-3zM340 33.5h3v6h-3zM340 39.5h3v6h-3zM439 39.5h3v6h-3zM340 45.5h3v6h-3zM439 45.5h3v6h-3zM340 51.5h3v6h-3zM439 51.5h3v6h-3zM439 57.5h3v6h-3zM436 69.5h3v6h-3zM436 75.5h3v6h-3zM436 81.5h3v6h-3zM433 87.5h3v6h-3zM433 93.5h3v6h-3zM433 99.5h3v6h-3zM436 105.5h3v6h-3zM340 111.5h3v6h-3zM379 111.5h6v6h-6zM436 111.5h3v6h-3zM340 117.5h3v6h-3zM388 117.5h3v6h-3zM439 117.5h3v6h-3zM376 135.5h3v6h-3zM391 135.5h3v6h-3zM442 135.5h3v6h-3zM376 141.5h3v6h-3zM445 159.5h3v6h-3z"/>
<path fill="#4c4c4c" d="M439 63.5h3v6h-3zM439 69.5h3v6h-3zM439 75.5h3v6h-3zM439 81.5h3v6h-3zM436 87.5h3v6h-3zM436 93.5h3v6h-3zM436 99.5h3v6h-3zM439 105.5h3v6h-3zM439 111.5h3v6h-3zM379 117.5h3v6h-3zM385 117.5h3v6h-3zM340 123.5h3v6h-3zM442 123.5h3v6h-3zM340 129.5h3v6h-3zM442 129.5h3v6h-3zM391 141.5h3v6h-3zM376 147.5h3v6h-3zM445 147.5h3v6h-3zM445 153.5h3v6h-3z"/>
<path fill="#4d4d4d" d="M442 -2.5h3v6h-3zM442 3.5h3v6h-3zM442 9.5h3v6h-3zM442 15.5h3v6h-3zM442 21.5h3v6h-3zM442 27.5h3v6h-3zM442 33.5h3v6h-3zM442 39.5h3v6h-3zM442 45.5h3v6h-3zM439 87.5h3v6h-3zM439 93.5h3v6h-3zM439 99.5h3v6h-3zM382 117.5h3v6h-3zM442 117.5h3v6h-3zM379 123.5h3v6h-3zM340 135.5h3v6h-3zM340 141.5h3v6h-3zM445 141.5h3v6h-3zM376 153.5h3v6h-3z"/>
<path fill="#4e4e4e" d="M442 51.5h3v6h-3zM442 57.5h3v6h-3zM442 63.5h3v6h-3zM442 69.5h3v6h-3zM442 105.5h3v6h-3zM442 111.5h3v6h-3zM385 123.5h6v6h-6zM445 129.5h3v6h-3zM445 135.5h3v6h-3zM340 147.5h3v6h-3zM391 147.5h3v6h-3zM340 153.5h3v6h-3zM376 159.5h3v6h-3zM376 165.5h3v6h-3z"/>
<path fill="#4f4f4f" d="M445 -2.5h3v6h-3zM445 3.5h3v6h-3zM445 9.5h3v6h-3zM445 15.5h3v6h-3zM445 21.5h3v6h-3zM445 27.5h3v6h-3zM442 75.5h3v6h-3zM442 81.5h3v6h-3zM442 87.5h3v6h-3zM442 93.5h3v6h-3zM442 99.5h3v6h-3zM382 123.5h3v6h-3zM445 123.5h3v6h-3zM379 129.5h3v6h-3zM391 153.5h3v6h-3zM340 159.5h3v6h-3zM376 171.5h3v6h-3zM376 177.5h3v6h-3zM376 183.5h3v6h-3zM376 189.5h3v6h-3zM376 195.5h3v6h-3zM376 201.5h3v6h-3z"/>
<path fill="#505050" d="M445 33.5h3v6h-3zM445 39.5h3v6h-3zM445 45.5h3v6h-3zM445 51.5h3v6h-3zM445 57.5h3v6h-3zM445 111.5h3v6h-3zM445 117.5h3v6h-3zM382 129.5h9v6h-9zM379 135.5h3v6h-3zM448 159.5h3v6h-3zM340 165.5h3v6h-3zM448 165.5h3v6h-3zM340 171.5h3v6h-3zM448 171.5h3v6h-3zM340 177.5h3v6h-3zM448 177.5h3v6h-3zM340 183.5h3v6h-3zM448 183.5h3v6h-3zM340 189.5h3v6h-3zM448 189.5h3v6h-3zM340 195.5h3v6h-3zM448 195.5h3v6h-3zM340 201.5h3v6h-3zM448 201.5h3v6h-3z"/>
<path fill="#515151" d="M445 63.5h3v6h-3zM445 69.5h3v6h-3zM445 75.5h3v6h-3zM445 81.5h3v6h-3zM445 105.5h3v6h-3zM448 141.5h3v6h-3zM448 147.5h3v6h-3zM448 153.5h3v6h-3zM391 159.5h3v6h-3z"/>
<path fill="#525252" d="M448 -2.5h3v6h-3zM448 3.5h3v6h-3zM448 9.5h3v6h-3zM448 15.5h3v6h-3zM448 21.5h3v6h-3zM448 27.5h3v6h-3zM448 33.5h3v6h-3zM448 39.5h3v6h-3zM445 87.5h3v6h-3zM445 93.5h3v6h-3zM445 99.5h3v6h-3zM448 129.5h3v6h-3zM382 135.5h9v6h-9zM448 135.5h3v6h-3zM379 141.5h3v6h-3zM391 165.5h3v6h-3z"/>
<path fill="#535353" d="M448 45.5h3v6h-3zM448 51.5h3v6h-3zM448 57.5h3v6h-3zM448 63.5h3v6h-3zM448 69.5h3v6h-3zM448 117.5h3v6h-3zM448 123.5h3v6h-3zM379 147.5h3v6h-3zM391 171.5h3v6h-3zM391 177.5h3v6h-3zM391 183.5h3v6h-3zM391 189.5h3v6h-3zM391 195.5h3v6h-3zM391 201.5h3v6h-3z"/>
<path fill="#545454" d="M337 -2.5h3v6h-3zM337 3.5h3v6h-3zM337 9.5h3v6h-3zM337 15.5h3v6h-3zM337 21.5h3v6h-3zM337 27.5h3v6h-3zM337 33.5h3v6h-3zM337 39.5h3v6h-3zM337 45.5h3v6h-3zM337 51.5h3v6h-3zM337 57.5h3v6h-3zM337 63.5h3v6h-3zM448 75.5h3v6h-3zM448 81.5h3v6h-3zM448 87.5h3v6h-3zM448 93.5h3v6h-3zM448 99.5h3v6h-3zM448 105.5h3v6h-3zM448 111.5h3v6h-3zM382 141.5h3v6h-3zM379 153.5h3v6h-3z"/>
<path fill="#555555" d="M451 -2.5h3v6h-3zM451 3.5h3v6h-3zM451 9.5h3v6h-3zM451 15.5h3v6h-3zM451 21.5h3v6h-3zM451 27.5h3v6h-3zM451 33.5h3v6h-3zM451 39.5h3v6h-3zM451 45.5h3v6h-3zM337 69.5h3v6h-3zM337 75.5h3v6h-3zM337 81.5h3v6h-3zM337 87.5h3v6h-3zM337 93.5h3v6h-3zM337 99.5h3v6h-3zM337 105.5h3v6h-3zM385 141.5h6v6h-6zM451 153.5h3v6h-3zM451 159.5h3v6h-3zM451 165.5h3v6h-3zM451 171.5h3v6h-3zM451 177.5h3v6h-3zM451 183.5h3v6h-3zM451 189.5h3v6h-3zM451 195.5h3v6h-3zM451 201.5h3v6h-3z"/>
<path fill="#565656" d="M451 51.5h3v6h-3zM451 57.5h3v6h-3zM451 63.5h3v6h-3zM451 69.5h3v6h-3zM337 111.5h3v6h-3zM337 117.5h3v6h-3zM337 123.5h3v6h-3zM451 129.5h3v6h-3zM451 135.5h3v6h-3zM451 141.5h3v6h-3zM382 147.5h3v6h-3zM451 147.5h3v6h-3zM379 159.5h3v6h-3z"/>
<path fill="#575757" d="M451 75.5h3v6h-3zM451 81.5h3v6h-3zM451 87.5h3v6h-3zM451 93.5h3v6h-3zM451 99.5h3v6h-3zM451 105.5h3v6h-3zM451 111.5h3v6h-3zM451 117.5h3v6h-3zM451 123.5h3v6h-3zM337 129.5h3v6h-3zM337 135.5h3v6h-3zM337 141.5h3v6h-3zM337 147.5h3v6h-3zM385 147.5h6v6h-6zM379 165.5h3v6h-3zM379 171.5h3v6h-3zM379 177.5h3v6h-3zM379 183.5h3v6h-3zM379 189.5h3v6h-3zM379 195.5h3v6h-3zM379 201.5h3v6h-3z"/>
<path fill="#585858" d="M337 153.5h3v6h-3zM382 153.5h3v6h-3zM337 159.5h3v6h-3zM337 165.5h3v6h-3z"/>
<path fill="#595959" d="M385 153.5h6v6h-6zM337 171.5h3v6h-3zM337 177.5h3v6h-3zM337 183.5h3v6h-3zM337 189.5h3v6h-3zM337 195.5h3v6h-3zM337 201.5h3v6h-3z"/>
<path fill="#5a5a5a" d="M454 -2.5h3v6h-3zM454 3.5h3v6h-3zM454 9.5h3v6h-3zM454 15.5h3v6h-3zM454 21.5h3v6h-3zM454 27.5h3v6h-3zM454 33.5h3v6h-3zM454 39.5h3v6h-3zM454 45.5h3v6h-3zM454 51.5h3v6h-3zM454 147.5h3v6h-3zM454 153.5h3v6h-3zM382 159.5h3v6h-3zM454 159.5h3v6h-3zM454 165.5h3v6h-3zM454 171.5h3v6h-3zM454 177.5h3v6h-3zM454 183.5h3v6h-3zM454 189.5h3v6h-3zM454 195.5h3v6h-3zM454 201.5h3v6h-3z"/>
<path fill="#5b5b5b" d="M454 57.5h3v6h-3zM454 63.5h3v6h-3zM454 69.5h3v6h-3zM454 75.5h3v6h-3zM454 123.5h3v6h-3zM454 129.5h3v6h-3zM454 135.5h3v6h-3zM454 141.5h3v6h-3zM385 159.5h6v6h-6z"/>
<path fill="#5c5c5c" d="M454 81.5h3v6h-3zM454 87.5h3v6h-3zM454 93.5h3v6h-3zM454 99.5h3v6h-3zM454 105.5h3v6h-3zM454 111.5h3v6h-3zM454 117.5h3v6h-3zM382 165.5h3v6h-3zM382 171.5h3v6h-3zM382 177.5h3v6h-3zM382 183.5h3v6h-3zM382 189.5h3v6h-3zM382 195.5h3v6h-3zM382 201.5h3v6h-3z"/>
<path fill="#5d5d5d" d="M334 -2.5h3v6h-3zM334 3.5h3v6h-3zM334 9.5h3v6h-3zM334 15.5h3v6h-3zM334 21.5h3v6h-3zM334 27.5h3v6h-3zM334 33.5h3v6h-3zM385 165.5h3v6h-3zM385 171.5h3v6h-3zM385 177.5h3v6h-3zM385 183.5h3v6h-3zM385 189.5h3v6h-3zM385 195.5h3v6h-3zM385 201.5h3v6h-3z"/>
<path fill="#5e5e5e" d="M457 -2.5h3v6h-3zM457 3.5h3v6h-3zM457 9.5h3v6h-3zM457 15.5h3v6h-3zM457 21.5h3v6h-3zM457 27.5h3v6h-3zM457 33.5h3v6h-3zM334 39.5h3v6h-3zM457 39.5h3v6h-3zM334 45.5h3v6h-3zM334 51.5h3v6h-3zM334 57.5h3v6h-3zM334 63.5h3v6h-3zM388 165.5h3v6h-3zM388 171.5h3v6h-3zM388 177.5h3v6h-3zM388 183.5h3v6h-3zM388 189.5h3v6h-3zM388 195.5h3v6h-3zM388 201.5h3v6h-3z"/>
<path fill="#5f5f5f" d="M457 45.5h3v6h-3zM457 51.5h3v6h-3zM457 57.5h3v6h-3zM334 69.5h3v6h-3zM334 75.5h3v6h-3zM334 81.5h3v6h-3zM334 87.5h3v6h-3zM334 93.5h3v6h-3zM334 99.5h3v6h-3zM457 141.5h3v6h-3zM457 147.5h3v6h-3zM457 153.5h3v6h-3zM457 159.5h3v6h-3zM457 165.5h3v6h-3zM457 171.5h3v6h-3zM457 177.5h3v6h-3zM457 183.5h3v6h-3zM457 189.5h3v6h-3zM457 195.5h3v6h-3zM457 201.5h3v6h-3z"/>
<path fill="#606060" d="M457 63.5h3v6h-3zM457 69.5h3v6h-3zM457 75.5h3v6h-3zM457 81.5h3v6h-3zM334 105.5h3v6h-3zM334 111.5h3v6h-3zM334 117.5h3v6h-3zM457 117.5h3v6h-3zM334 123.5h3v6h-3zM457 123.5h3v6h-3zM334 129.5h3v6h-3zM457 129.5h3v6h-3zM334 135.5h3v6h-3zM457 135.5h3v6h-3z"/>
<path fill="#616161" d="M457 87.5h3v6h-3zM457 93.5h3v6h-3zM457 99.5h3v6h-3zM457 105.5h3v6h-3zM457 111.5h3v6h-3zM334 141.5h3v6h-3zM334 147.5h3v6h-3zM334 153.5h3v6h-3zM334 159.5h3v6h-3zM334 165.5h3v6h-3zM334 171.5h3v6h-3zM334 177.5h3v6h-3zM334 183.5h3v6h-3zM334 189.5h3v6h-3zM334 195.5h3v6h-3zM334 201.5h3v6h-3z"/>
<path fill="#636363" d="M460 -2.5h3v6h-3zM460 3.5h3v6h-3zM460 9.5h3v6h-3zM460 15.5h3v6h-3zM460 21.5h3v6h-3zM460 27.5h3v6h-3zM460 33.5h3v6h-3zM460 39.5h3v6h-3zM460 45.5h3v6h-3zM460 165.5h3v6h-3zM460 171.5h3v6h-3zM460 177.5h3v6h-3zM460 183.5h3v6h-3zM460 189.5h3v6h-3zM460 195.5h3v6h-3zM460 201.5h3v6h-3z"/>
<path fill="#646464" d="M460 51.5h3v6h-3zM460 57.5h3v6h-3zM460 63.5h3v6h-3zM460 141.5h3v6h-3zM460 147.5h3v6h-3zM460 153.5h3v6h-3zM460 159.5h3v6h-3z"/>
<path fill="#656565" d="M460 69.5h3v6h-3zM460 75.5h3v6h-3zM460 81.5h3v6h-3zM460 117.5h3v6h-3zM460 123.5h3v6h-3zM460 129.5h3v6h-3zM460 135.5h3v6h-3z"/>
<path fill="#666666" d="M331 -2.5h3v6h-3zM331 3.5h3v6h-3zM331 9.5h3v6h-3zM331 15.5h3v6h-3zM331 21.5h3v6h-3zM331 27.5h3v6h-3zM331 33.5h3v6h-3zM331 39.5h3v6h-3zM331 45.5h3v6h-3zM331 51.5h3v6h-3zM331 57.5h3v6h-3zM331 63.5h3v6h-3zM331 69.5h3v6h-3zM331 75.5h3v6h-3zM331 81.5h3v6h-3zM331 87.5h3v6h-3zM460 87.5h3v6h-3zM331 93.5h3v6h-3zM460 93.5h3v6h-3zM331 99.5h3v6h-3zM460 99.5h3v6h-3zM331 105.5h3v6h-3zM460 105.5h3v6h-3zM331 111.5h3v6h-3zM460 111.5h3v6h-3z"/>
<path fill="#676767" d="M331 117.5h3v6h-3zM331 123.5h3v6h-3zM331 129.5h3v6h-3z"/>
<path fill="#686868" d="M331 135.5h3v6h-3zM331 141.5h3v6h-3zM331 147.5h3v6h-3zM331 153.5h3v6h-3zM463 153.5h3v6h-3zM463 159.5h3v6h-3zM463 165.5h3v6h-3zM463 171.5h3v6h-3zM463 177.5h3v6h-3zM463 183.5h3v6h-3zM463 189.5h3v6h-3zM463 195.5h3v6h-3zM463 201.5h3v6h-3z"/>
<path fill="#696969" d="M463 135.5h3v6h-3zM463 141.5h3v6h-3zM463 147.5h3v6h-3zM331 159.5h3v6h-3zM331 165.5h3v6h-3zM331 171.5h3v6h-3zM331 177.5h3v6h-3zM331 183.5h3v6h-3zM331 189.5h3v6h-3zM331 195.5h3v6h-3zM331 201.5h3v6h-3z"/>
<path fill="#6a6a6a" d="M463 -2.5h3v6h-3zM463 3.5h3v6h-3zM463 9.5h3v6h-3zM463 15.5h3v6h-3zM463 21.5h3v6h-3zM463 27.5h3v6h-3zM463 33.5h3v6h-3zM463 39.5h3v6h-3zM463 45.5h3v6h-3zM463 51.5h3v6h-3zM463 57.5h3v6h-3zM463 117.5h3v6h-3zM463 123.5h3v6h-3zM463 129.5h3v6h-3z"/>
<path fill="#6b6b6b" d="M463 63.5h3v6h-3zM463 69.5h3v6h-3zM463 75.5h3v6h-3zM463 81.5h3v6h-3zM463 87.5h3v6h-3zM463 93.5h3v6h-3zM463 99.5h3v6h-3zM463 105.5h3v6h-3zM463 111.5h3v6h-3z"/>
<path fill="#6c6c6c" d="M328 99.5h3v6h-3zM328 105.5h3v6h-3zM328 111.5h3v6h-3zM328 117.5h3v6h-3zM328 123.5h3v6h-3zM328 129.5h3v6h-3zM328 135.5h3v6h-3zM328 141.5h3v6h-3zM328 147.5h3v6h-3zM328 153.5h3v6h-3zM328 159.5h3v6h-3zM328 165.5h3v6h-3zM466 165.5h3v6h-3zM328 171.5h3v6h-3zM466 171.5h3v6h-3zM328 177.5h3v6h-3zM466 177.5h3v6h-3zM328 183.5h3v6h-3zM466 183.5h3v6h-3zM328 189.5h3v6h-3zM466 189.5h3v6h-3zM328 195.5h3v6h-3zM466 195.5h3v6h-3zM328 201.5h3v6h-3zM466 201.5h3v6h-3z"/>
<path fill="#6d6d6d" d="M328 69.5h3v6h-3zM328 75.5h3v6h-3zM328 81.5h3v6h-3zM328 87.5h3v6h-3zM328 93.5h3v6h-3zM466 153.5h3v6h-3zM466 159.5h3v6h-3z"/>
<path fill="#6e6e6e" d="M328 39.5h3v6h-3zM328 45.5h3v6h-3zM328 51.5h3v6h-3zM328 57.5h3v6h-3zM328 63.5h3v6h-3zM466 135.5h3v6h-3zM466 141.5h3v6h-3zM466 147.5h3v6h-3z"/>
<path fill="#6f6f6f" d="M328 -2.5h3v6h-3zM328 3.5h3v6h-3zM328 9.5h3v6h-3zM328 15.5h3v6h-3zM328 21.5h3v6h-3zM328 27.5h3v6h-3zM328 33.5h3v6h-3zM466 123.5h3v6h-3zM466 129.5h3v6h-3zM325 159.5h3v6h-3zM325 165.5h3v6h-3zM325 171.5h3v6h-3zM325 177.5h3v6h-3zM325 183.5h3v6h-3zM325 189.5h3v6h-3zM325 195.5h3v6h-3zM325 201.5h3v6h-3z"/>
<path fill="#707070" d="M466 105.5h3v6h-3zM466 111.5h3v6h-3zM466 117.5h3v6h-3zM325 147.5h3v6h-3zM325 153.5h3v6h-3z"/>
<path fill="#717171" d="M466 -2.5h3v6h-3zM466 3.5h3v6h-3zM466 9.5h3v6h-3zM466 15.5h3v6h-3zM466 21.5h3v6h-3zM466 27.5h3v6h-3zM466 33.5h3v6h-3zM466 39.5h3v6h-3zM466 45.5h3v6h-3zM466 51.5h3v6h-3zM466 57.5h3v6h-3zM466 63.5h3v6h-3zM466 69.5h3v6h-3zM466 75.5h3v6h-3zM466 81.5h3v6h-3zM466 87.5h3v6h-3zM466 93.5h3v6h-3zM466 99.5h3v6h-3zM325 135.5h3v6h-3zM325 141.5h3v6h-3zM469 159.5h3v6h-3zM322 165.5h3v6h-3zM469 165.5h3v6h-3zM322 171.5h3v6h-3zM469 171.5h3v6h-3zM322 177.5h3v6h-3zM469 177.5h3v6h-3zM322 183.5h3v6h-3zM469 183.5h3v6h-3zM322 189.5h3v6h-3zM469 189.5h3v6h-3zM322 195.5h3v6h-3zM469 195.5h3v6h-3zM322 201.5h3v6h-3zM469 201.5h3v6h-3z"/>
<path fill="#727272" d="M325 117.5h3v6h-3zM325 123.5h3v6h-3zM325 129.5h3v6h-3zM469 141.5h3v6h-3zM469 147.5h3v6h-3zM469 153.5h3v6h-3zM322 159.5h3v6h-3z"/>
<path fill="#737373" d="M325 105.5h3v6h-3zM325 111.5h3v6h-3zM469 129.5h3v6h-3zM469 135.5h3v6h-3zM322 153.5h3v6h-3zM472 159.5h3v6h-3zM472 165.5h3v6h-3zM319 171.5h3v6h-3zM472 171.5h3v6h-3zM319 177.5h3v6h-3zM472 177.5h3v6h-3zM319 183.5h3v6h-3zM472 183.5h3v6h-3zM319 189.5h3v6h-3zM472 189.5h3v6h-3zM319 195.5h3v6h-3zM472 195.5h3v6h-3zM319 201.5h3v6h-3zM472 201.5h3v6h-3z"/>
<path fill="#747474" d="M325 69.5h3v6h-3zM325 75.5h3v6h-3zM325 81.5h3v6h-3zM325 87.5h3v6h-3zM325 93.5h3v6h-3zM325 99.5h3v6h-3zM469 117.5h3v6h-3zM469 123.5h3v6h-3zM322 141.5h3v6h-3zM322 147.5h3v6h-3zM472 147.5h3v6h-3zM319 153.5h3v6h-3zM472 153.5h3v6h-3zM319 159.5h3v6h-3zM319 165.5h3v6h-3z"/>
<path fill="#757575" d="M325 -2.5h3v6h-3zM469 -2.5h3v6h-3zM325 3.5h3v6h-3zM469 3.5h3v6h-3zM325 9.5h3v6h-3zM469 9.5h3v6h-3zM325 15.5h3v6h-3zM469 15.5h3v6h-3zM325 21.5h3v6h-3zM469 21.5h3v6h-3zM325 27.5h3v6h-3zM469 27.5h3v6h-3zM325 33.5h3v6h-3zM469 33.5h3v6h-3zM325 39.5h3v6h-3zM469 39.5h3v6h-3zM325 45.5h3v6h-3zM469 45.5h3v6h-3zM325 51.5h3v6h-3zM469 51.5h3v6h-3zM325 57.5h3v6h-3zM469 57.5h3v6h-3zM325 63.5h3v6h-3zM469 63.5h3v6h-3zM469 69.5h3v6h-3zM469 75.5h3v6h-3zM469 81.5h3v6h-3zM469 105.5h3v6h-3zM469 111.5h3v6h-3zM319 135.5h6v6h-6zM472 135.5h3v6h-3zM319 141.5h3v6h-3zM472 141.5h3v6h-3zM319 147.5h3v6h-3zM475 165.5h3v6h-3zM475 171.5h3v6h-3zM475 177.5h3v6h-3zM475 183.5h3v6h-3zM475 189.5h3v6h-3zM475 195.5h3v6h-3zM475 201.5h3v6h-3z"/>
<path fill="#767676" d="M316 75.5h3v6h-3zM316 81.5h3v6h-3zM316 87.5h3v6h-3zM469 87.5h3v6h-3zM316 93.5h3v6h-3zM469 93.5h3v6h-3zM316 99.5h3v6h-3zM469 99.5h3v6h-3zM316 105.5h3v6h-3zM316 111.5h3v6h-3zM316 117.5h6v6h-6zM472 117.5h3v6h-3zM316 123.5h6v6h-6zM472 123.5h3v6h-3zM316 129.5h9v6h-9zM472 129.5h3v6h-3zM316 135.5h3v6h-3zM316 141.5h3v6h-3zM316 147.5h3v6h-3zM316 153.5h3v6h-3zM475 153.5h3v6h-3zM316 159.5h3v6h-3zM475 159.5h3v6h-3zM316 165.5h3v6h-3zM316 171.5h3v6h-3zM316 177.5h3v6h-3zM316 183.5h3v6h-3zM316 189.5h3v6h-3zM316 195.5h3v6h-3zM316 201.5h3v6h-3z"/>
<path fill="#777777" d="M472 -2.5h3v6h-3zM472 3.5h3v6h-3zM472 9.5h3v6h-3zM472 15.5h3v6h-3zM472 21.5h3v6h-3zM472 27.5h3v6h-3zM472 33.5h3v6h-3zM472 39.5h3v6h-3zM472 45.5h3v6h-3zM316 51.5h3v6h-3zM472 51.5h3v6h-3zM316 57.5h3v6h-3zM472 57.5h3v6h-3zM316 63.5h3v6h-3zM472 63.5h3v6h-3zM316 69.5h3v6h-3zM319 99.5h3v6h-3zM319 105.5h3v6h-3zM472 105.5h3v6h-3zM319 111.5h3v6h-3zM472 111.5h3v6h-3zM322 117.5h3v6h-3zM322 123.5h3v6h-3zM475 135.5h3v6h-3zM475 141.5h3v6h-3zM475 147.5h3v6h-3zM478 171.5h3v6h-3zM478 177.5h3v6h-3zM478 183.5h3v6h-3zM478 189.5h3v6h-3zM478 195.5h3v6h-3zM478 201.5h3v6h-3z"/>
<path fill="#787878" d="M316 -2.5h3v6h-3zM316 3.5h3v6h-3zM316 9.5h3v6h-3zM316 15.5h3v6h-3zM316 21.5h3v6h-3zM316 27.5h3v6h-3zM316 33.5h3v6h-3zM316 39.5h3v6h-3zM316 45.5h3v6h-3zM319 51.5h3v6h-3zM319 57.5h3v6h-3zM319 63.5h3v6h-3zM319 69.5h3v6h-3zM472 69.5h3v6h-3zM319 75.5h3v6h-3zM472 75.5h3v6h-3zM319 81.5h3v6h-3zM472 81.5h3v6h-3zM313 87.5h3v6h-3zM319 87.5h3v6h-3zM472 87.5h3v6h-3zM313 93.5h3v6h-3zM319 93.5h3v6h-3zM472 93.5h3v6h-3zM313 99.5h3v6h-3zM472 99.5h3v6h-3zM313 105.5h3v6h-3zM313 111.5h3v6h-3zM322 111.5h3v6h-3zM313 117.5h3v6h-3zM313 123.5h3v6h-3zM475 123.5h3v6h-3zM313 129.5h3v6h-3zM475 129.5h3v6h-3zM313 135.5h3v6h-3zM313 141.5h3v6h-3zM313 147.5h3v6h-3zM313 153.5h3v6h-3zM478 153.5h3v6h-3zM313 159.5h3v6h-3zM478 159.5h3v6h-3zM313 165.5h3v6h-3zM478 165.5h3v6h-3zM313 171.5h3v6h-3zM313 177.5h3v6h-3zM313 183.5h3v6h-3zM313 189.5h3v6h-3zM313 195.5h3v6h-3zM313 201.5h3v6h-3z"/>
<path fill="#797979" d="M313 -2.5h3v6h-3zM319 -2.5h3v6h-3zM475 -2.5h3v6h-3zM313 3.5h3v6h-3zM319 3.5h3v6h-3zM475 3.5h3v6h-3zM313 9.5h3v6h-3zM319 9.5h3v6h-3zM475 9.5h3v6h-3zM313 15.5h3v6h-3zM319 15.5h3v6h-3zM475 15.5h3v6h-3zM313 21.5h3v6h-3zM319 21.5h3v6h-3zM475 21.5h3v6h-3zM313 27.5h3v6h-3zM319 27.5h3v6h-3zM475 27.5h3v6h-3zM313 33.5h3v6h-3zM319 33.5h3v6h-3zM475 33.5h3v6h-3zM313 39.5h3v6h-3zM319 39.5h3v6h-3zM475 39.5h3v6h-3zM313 45.5h3v6h-3zM319 45.5h3v6h-3zM475 45.5h3v6h-3zM313 51.5h3v6h-3zM313 57.5h3v6h-3zM313 63.5h3v6h-3zM313 69.5h3v6h-3zM313 75.5h3v6h-3zM313 81.5h3v6h-3zM322 105.5h3v6h-3zM475 111.5h3v6h-3zM475 117.5h3v6h-3zM478 141.5h3v6h-3zM478 147.5h3v6h-3z"/>
<path fill="#7a7a7a" d="M322 -2.5h3v6h-3zM478 -2.5h27v6h-27zM322 3.5h3v6h-3zM478 3.5h27v6h-27zM322 9.5h3v6h-3zM478 9.5h27v6h-27zM322 15.5h3v6h-3zM478 15.5h27v6h-27zM322 21.5h3v6h-3zM478 21.5h27v6h-27zM322 27.5h3v6h-3zM478 27.5h27v6h-27zM322 33.5h3v6h-3zM478 33.5h9v6h-9zM322 39.5h3v6h-3zM322 45.5h3v6h-3zM322 51.5h3v6h-3zM475 51.5h3v6h-3zM322 57.5h3v6h-3zM475 57.5h3v6h-3zM322 63.5h3v6h-3zM475 63.5h3v6h-3zM322 69.5h3v6h-3zM475 69.5h3v6h-3zM322 75.5h3v6h-3zM475 75.5h3v6h-3zM322 81.5h3v6h-3zM475 81.5h3v6h-3zM322 87.5h3v6h-3zM475 87.5h3v6h-3zM322 93.5h3v6h-3zM475 93.5h3v6h-3zM322 99.5h3v6h-3zM475 99.5h3v6h-3zM475 105.5h3v6h-3zM478 129.5h3v6h-3zM478 135.5h3v6h-3zM481 153.5h3v6h-3zM481 159.5h3v6h-3zM481 165.5h3v6h-3zM481 171.5h3v6h-3zM481 177.5h3v6h-3zM481 183.5h3v6h-3zM481 189.5h3v6h-3zM481 195.5h3v6h-3zM481 201.5h3v6h-3z"/>
<path fill="#7b7b7b" d="M310 -2.5h3v6h-3zM310 3.5h3v6h-3zM310 9.5h3v6h-3zM310 15.5h3v6h-3zM310 21.5h3v6h-3zM310 27.5h3v6h-3zM310 33.5h3v6h-3zM487 33.5h18v6h-18zM310 39.5h3v6h-3zM478 39.5h27v6h-27zM310 45.5h3v6h-3zM478 45.5h27v6h-27zM310 51.5h3v6h-3zM478 51.5h6v6h-6zM310 57.5h3v6h-3zM478 57.5h3v6h-3zM310 63.5h3v6h-3zM478 63.5h3v6h-3zM310 69.5h3v6h-3zM310 75.5h3v6h-3zM310 81.5h3v6h-3zM310 87.5h3v6h-3zM310 93.5h3v6h-3zM310 99.5h3v6h-3zM310 105.5h3v6h-3zM310 111.5h3v6h-3zM310 117.5h3v6h-3zM478 117.5h3v6h-3zM310 123.5h3v6h-3zM478 123.5h3v6h-3zM310 129.5h3v6h-3zM310 135.5h3v6h-3zM481 135.5h3v6h-3zM310 141.5h3v6h-3zM481 141.5h3v6h-3zM310 147.5h3v6h-3zM481 147.5h3v6h-3zM310 153.5h3v6h-3zM310 159.5h3v6h-3zM310 165.5h3v6h-3zM310 171.5h3v6h-3zM310 177.5h3v6h-3zM310 183.5h3v6h-3zM310 189.5h3v6h-3zM310 195.5h3v6h-3zM310 201.5h3v6h-3z"/>
<path fill="#7c7c7c" d="M484 51.5h21v6h-21zM481 57.5h24v6h-24zM481 63.5h6v6h-6zM478 69.5h6v6h-6zM478 75.5h6v6h-6zM478 81.5h3v6h-3zM478 87.5h3v6h-3zM478 93.5h3v6h-3zM478 99.5h3v6h-3zM478 105.5h3v6h-3zM478 111.5h3v6h-3zM481 117.5h3v6h-3zM481 123.5h3v6h-3zM481 129.5h3v6h-3zM484 147.5h3v6h-3zM484 153.5h3v6h-3zM484 159.5h3v6h-3zM484 165.5h3v6h-3zM484 171.5h3v6h-3zM484 177.5h3v6h-3zM484 183.5h3v6h-3zM484 189.5h3v6h-3zM484 195.5h3v6h-3zM484 201.5h3v6h-3z"/>
<path fill="#7d7d7d" d="M487 63.5h18v6h-18zM484 69.5h21v6h-21zM484 75.5h6v6h-6zM481 81.5h6v6h-6zM481 87.5h3v6h-3zM481 93.5h3v6h-3zM481 99.5h3v6h-3zM481 105.5h3v6h-3zM481 111.5h3v6h-3zM484 117.5h3v6h-3zM484 123.5h3v6h-3zM484 129.5h3v6h-3zM484 135.5h3v6h-3zM484 141.5h3v6h-3z"/>
<path fill="#7e7e7e" d="M490 75.5h15v6h-15zM487 81.5h18v6h-18zM484 87.5h6v6h-6zM484 93.5h3v6h-3zM484 99.5h3v6h-3zM484 105.5h3v6h-3zM484 111.5h3v6h-3zM487 123.5h3v6h-3zM487 129.5h3v6h-3zM487 135.5h3v6h-3zM487 141.5h3v6h-3zM487 147.5h3v6h-3zM487 153.5h3v6h-3zM487 159.5h3v6h-3zM487 165.5h3v6h-3zM487 171.5h3v6h-3zM487 177.5h3v6h-3zM487 183.5h3v6h-3zM487 189.5h3v6h-3zM487 195.5h3v6h-3zM487 201.5h3v6h-3z"/>
<path fill="#7f7f7f" d="M307 -2.5h3v6h-3zM307 3.5h3v6h-3zM307 9.5h3v6h-3zM307 15.5h3v6h-3zM307 21.5h3v6h-3zM307 27.5h3v6h-3zM307 33.5h3v6h-3zM307 39.5h3v6h-3zM307 45.5h3v6h-3zM307 51.5h3v6h-3zM307 57.5h3v6h-3zM307 63.5h3v6h-3zM307 69.5h3v6h-3zM307 75.5h3v6h-3zM307 81.5h3v6h-3zM307 87.5h3v6h-3zM490 87.5h15v6h-15zM307 93.5h3v6h-3zM487 93.5h18v6h-18zM307 99.5h3v6h-3zM487 99.5h3v6h-3zM307 105.5h3v6h-3zM487 105.5h3v6h-3zM307 111.5h3v6h-3zM487 111.5h3v6h-3zM307 117.5h3v6h-3zM487 117.5h3v6h-3zM307 123.5h3v6h-3zM307 129.5h3v6h-3zM307 135.5h3v6h-3zM307 141.5h3v6h-3z"/>
<path fill="#808080" d="M490 99.5h15v6h-15zM490 105.5h15v6h-15zM490 111.5h15v6h-15zM490 117.5h15v6h-15zM490 123.5h15v6h-15zM490 129.5h15v6h-15zM490 135.5h15v6h-15zM490 141.5h15v6h-15zM307 147.5h3v6h-3zM490 147.5h15v6h-15zM307 153.5h3v6h-3zM490 153.5h15v6h-15zM307 159.5h3v6h-3zM490 159.5h15v6h-15zM307 165.5h3v6h-3zM490 165.5h15v6h-15zM307 171.5h3v6h-3zM490 171.5h15v6h-15zM307 177.5h3v6h-3zM490 177.5h15v6h-15zM307 183.5h3v6h-3zM490 183.5h15v6h-15zM307 189.5h3v6h-3zM490 189.5h15v6h-15zM307 195.5h3v6h-3zM490 195.5h15v6h-15zM307 201.5h3v6h-3zM490 201.5h15v6h-15z"/>
<path fill="#858585" d="M304 -2.5h3v6h-3zM304 3.5h3v6h-3zM304 9.5h3v6h-3zM304 15.5h3v6h-3zM304 21.5h3v6h-3zM304 27.5h3v6h-3zM304 33.5h3v6h-3zM304 39.5h3v6h-3z"/>
<path fill="#868686" d="M304 45.5h3v6h-3zM304 51.5h3v6h-3zM304 57.5h3v6h-3zM304 63.5h3v6h-3zM304 69.5h3v6h-3zM304 75.5h3v6h-3zM304 81.5h3v6h-3zM304 87.5h3v6h-3zM304 93.5h3v6h-3z"/>
<path fill="#878787" d="M304 99.5h3v6h-3zM304 105.5h3v6h-3z"/>
<path fill="#888888" d="M304 111.5h3v6h-3z"/>
<path fill="#898989" d="M304 117.5h3v6h-3zM304 123.5h3v6h-3z"/>
<path fill="#8a8a8a" d="M304 129.5h3v6h-3zM304 135.5h3v6h-3z"/>
<path fill="#8b8b8b" d="M304 141.5h3v6h-3z"/>
<path fill="#8c8c8c" d="M304 147.5h3v6h-3zM304 153.5h3v6h-3z"/>
<path fill="#8d8d8d" d="M304 159.5h3v6h-3zM304 165.5h3v6h-3z"/>
<path fill="#8e8e8e" d="M304 171.5h3v6h-3zM304 177.5h3v6h-3zM304 183.5h3v6h-3zM304 189.5h3v6h-3zM304 195.5h3v6h-3zM304 201.5h3v6h-3z"/>
<path fill="#8f8f8f" d="M292 -2.5h12v6h-12zM292 3.5h12v6h-12zM292 9.5h12v6h-12zM292 15.5h12v6h-12zM292 21.5h12v6h-12zM292 27.5h12v6h-12zM292 33.5h12v6h-12zM292 39.5h12v6h-12z"/>
<path fill="#909090" d="M292 45.5h12v6h-12zM292 51.5h12v6h-12z"/>
<path fill="#919191" d="M292 57.5h12v6h-12zM292 63.5h12v6h-12z"/>
<path fill="#929292" d="M292 69.5h12v6h-12zM292 75.5h12v6h-12z"/>
<path fill="#939393" d="M292 81.5h12v6h-12zM292 87.5h12v6h-12z"/>
<path fill="#949494" d="M292 93.5h12v6h-12zM292 99.5h12v6h-12z"/>
<path fill="#959595" d="M292 105.5h12v6h-12zM292 111.5h12v6h-12zM292 117.5h12v6h-12z"/>
<path fill="#969696" d="M292 123.5h12v6h-12zM292 129.5h12v6h-12z"/>
<path fill="#979797" d="M292 135.5h12v6h-12zM292 141.5h12v6h-12z"/>
<path fill="#989898" d="M292 147.5h12v6h-12zM292 153.5h12v6h-12zM292 159.5h12v6h-12z"/>
<path fill="#999999" d="M292 165.5h12v6h-12zM292 171.5h12v6h-12zM292 177.5h12v6h-12zM292 183.5h12v6h-12zM292 189.5h12v6h-12zM292 195.5h12v6h-12zM292 201.5h12v6h-12z"/>
</g>
<g filter="url(#sb)" fill="none" stroke-linecap="round">
<path stroke="#1c1c1c" stroke-width="1.5" d="M419 184l0 -31"/>
<path stroke="#1d1d1d" stroke-width="1.5" d="M350 160l0 -9"/>
<path stroke="#1d1d1d" stroke-width="2.5" d="M352 185l0 -21"/>
<path stroke="#1e1e1e" stroke-width="1.5" d="M424 173l1 -15"/>
<path stroke="#1f1f1f" stroke-width="1.5" d="M353 185l1 -13M406 167l2 -28"/>
<path stroke="#1f1f1f" stroke-width="2" d="M375 57l1 -32"/>
<path stroke="#202020" stroke-width="2" d="M353 181l0 -27M382 29l0 -15"/>
<path stroke="#212121" stroke-width="2" d="M428 205l1 -16"/>
<path stroke="#222222" stroke-width="1.5" d="M375 19l2 -18"/>
<path stroke="#222222" stroke-width="2" d="M410 137l1 -23M354 101l1 -19"/>
<path stroke="#222222" stroke-width="2.5" d="M351 129l1 -26"/>
<path stroke="#232323" stroke-width="1.5" d="M405 204l0 -12"/>
<path stroke="#232323" stroke-width="2" d="M422 188l2 -29M404 157l3 -31"/>
<path stroke="#242424" stroke-width="1.5" d="M359 29l1 -24"/>
<path stroke="#242424" stroke-width="2.5" d="M415 177l1 -17"/>
<path stroke="#252525" stroke-width="1" d="M398 182l3 -31"/>
<path stroke="#252525" stroke-width="2" d="M350 83l1 -15M357 173l0 -11"/>
<path stroke="#252525" stroke-width="2.5" d="M382 29l1 -32"/>
<path stroke="#262626" stroke-width="1.5" d="M363 19l1 -17"/>
<path stroke="#272727" stroke-width="1.5" d="M382 41l0 -24M358 122l1 -23M400 93l0 -20"/>
<path stroke="#282828" stroke-width="1" d="M405 187l2 -31M413 169l0 -18"/>
<path stroke="#282828" stroke-width="1.5" d="M364 45l0 -11"/>
<path stroke="#282828" stroke-width="2" d="M353 201l2 -29M365 164l1 -20"/>
<path stroke="#282828" stroke-width="2.5" d="M425 134l1 -10"/>
<path stroke="#292929" stroke-width="1.5" d="M347 168l1 -19"/>
<path stroke="#292929" stroke-width="2" d="M417 47l3 -27M387 90l0 -23"/>
<path stroke="#292929" stroke-width="2.5" d="M362 35l2 -28"/>
<path stroke="#2a2a2a" stroke-width="1.5" d="M373 80l2 -33M405 91l0 -29M397 161l1 -13M349 137l2 -18"/>
<path stroke="#2a2a2a" stroke-width="2.5" d="M430 15l1 -16M347 139l2 -15M368 39l1 -23M388 40l1 -17"/>
<path stroke="#2b2b2b" stroke-width="2" d="M348 201l1 -24M429 155l0 -11M409 15l0 -11M424 42l1 -27M402 66l0 -25"/>
<path stroke="#2b2b2b" stroke-width="2.5" d="M360 186l2 -30"/>
<path stroke="#2c2c2c" stroke-width="1.5" d="M368 158l0 -21M426 79l1 -11M373 191l0 -24"/>
<path stroke="#2c2c2c" stroke-width="2" d="M351 92l0 -18M389 61l1 -12M354 49l1 -18M375 99l0 -9"/>
<path stroke="#2c2c2c" stroke-width="2.5" d="M376 107l1 -26M377 43l0 -11"/>
<path stroke="#2d2d2d" stroke-width="1.5" d="M406 19l1 -32M393 54l1 -20"/>
<path stroke="#2d2d2d" stroke-width="2" d="M435 17l1 -16M425 81l2 -30M416 161l2 -26M404 164l2 -32"/>
<path stroke="#2d2d2d" stroke-width="2.5" d="M365 204l0 -11"/>
<path stroke="#2e2e2e" stroke-width="1" d="M433 84l3 -30"/>
<path stroke="#2e2e2e" stroke-width="1.5" d="M360 26l1 -32M416 143l0 -18M371 160l1 -26"/>
<path stroke="#2e2e2e" stroke-width="2" d="M352 164l2 -32M414 178l1 -27M357 178l0 -21M399 60l1 -10M350 135l2 -17"/>
<path stroke="#2e2e2e" stroke-width="2.5" d="M399 52l3 -29"/>
<path stroke="#2f2f2f" stroke-width="1.5" d="M416 140l0 -11M427 157l0 -20M358 95l1 -22M405 34l2 -20"/>
<path stroke="#2f2f2f" stroke-width="2" d="M401 164l2 -33M360 36l0 -23M423 170l2 -21"/>
<path stroke="#303030" stroke-width="1.5" d="M343 101l1 -28M356 142l1 -17M362 185l2 -23M375 197l1 -16"/>
<path stroke="#303030" stroke-width="2" d="M415 110l1 -30M412 146l1 -12"/>
<path stroke="#303030" stroke-width="2.5" d="M398 65l0 -13M364 22l1 -18"/>
<path stroke="#313131" stroke-width="1" d="M392 83l0 -33"/>
<path stroke="#313131" stroke-width="2" d="M368 197l1 -16M425 90l1 -12M423 97l1 -22"/>
<path stroke="#313131" stroke-width="2.5" d="M432 30l0 -11M363 204l1 -27"/>
<path stroke="#323232" stroke-width="1" d="M400 137l1 -12M405 36l1 -16"/>
<path stroke="#323232" stroke-width="1.5" d="M414 139l1 -24M343 196l1 -32"/>
<path stroke="#323232" stroke-width="2" d="M384 14l2 -17M426 186l1 -22M421 64l1 -24M435 126l2 -23M373 200l2 -32"/>
<path stroke="#323232" stroke-width="2.5" d="M375 149l1 -21M380 27l2 -22"/>
<path stroke="#333333" stroke-width="1.5" d="M362 198l3 -28M407 65l1 -18"/>
<path stroke="#333333" stroke-width="2" d="M437 41l2 -25M436 142l0 -17M340 53l2 -23M399 26l1 -14"/>
<path stroke="#333333" stroke-width="2.5" d="M425 209l0 -18M429 50l0 -25M343 89l0 -11"/>
<path stroke="#343434" stroke-width="1.5" d="M347 212l3 -28"/>
<path stroke="#343434" stroke-width="2" d="M412 124l1 -32M434 125l1 -22M342 56l3 -32"/>
<path stroke="#343434" stroke-width="2.5" d="M363 88l1 -15"/>
<path stroke="#353535" stroke-width="1.5" d="M402 205l1 -15"/>
<path stroke="#353535" stroke-width="2" d="M418 98l3 -28M357 154l1 -23M356 147l0 -13"/>
<path stroke="#363636" stroke-width="1" d="M407 165l2 -24"/>
<path stroke="#363636" stroke-width="1.5" d="M383 54l1 -17M371 172l2 -25M344 10l1 -17"/>
<path stroke="#363636" stroke-width="2" d="M366 90l1 -31M384 39l1 -20"/>
<path stroke="#363636" stroke-width="2.5" d="M417 83l3 -28M343 67l2 -30M353 91l2 -17"/>
<path stroke="#373737" stroke-width="1.5" d="M439 59l0 -18"/>
<path stroke="#373737" stroke-width="2" d="M344 168l0 -17M413 126l0 -25"/>
<path stroke="#373737" stroke-width="2.5" d="M361 13l1 -11"/>
<path stroke="#383838" stroke-width="1.5" d="M345 111l1 -27M349 76l1 -18"/>
<path stroke="#383838" stroke-width="2" d="M438 193l0 -9"/>
<path stroke="#383838" stroke-width="2.5" d="M400 183l0 -8"/>
<path stroke="#393939" stroke-width="1" d="M376 207l0 -23"/>
<path stroke="#393939" stroke-width="1.5" d="M369 87l1 -25M424 63l1 -11M443 181l0 -20M360 187l0 -29"/>
<path stroke="#393939" stroke-width="2" d="M430 124l2 -27M376 134l1 -31"/>
<path stroke="#393939" stroke-width="2.5" d="M426 199l1 -15M418 145l2 -26M360 62l2 -22"/>
<path stroke="#3a3a3a" stroke-width="1" d="M347 56l1 -12"/>
<path stroke="#3a3a3a" stroke-width="1.5" d="M359 108l1 -9M421 155l2 -19M419 123l1 -11M361 10l0 -10M374 187l1 -16M370 11l1 -17"/>
<path stroke="#3a3a3a" stroke-width="2" d="M398 180l0 -17M400 158l1 -16"/>
<path stroke="#3a3a3a" stroke-width="2.5" d="M363 34l1 -25M369 22l1 -9"/>
<path stroke="#3b3b3b" stroke-width="1.5" d="M379 31l1 -14"/>
<path stroke="#3b3b3b" stroke-width="2" d="M360 199l1 -21"/>
<path stroke="#3b3b3b" stroke-width="2.5" d="M355 129l1 -26M393 56l2 -20"/>
<path stroke="#3c3c3c" stroke-width="1.5" d="M394 51l1 -22M405 129l1 -10M351 70l1 -12"/>
<path stroke="#3c3c3c" stroke-width="2" d="M438 21l2 -29M380 60l1 -25"/>
<path stroke="#3c3c3c" stroke-width="2.5" d="M354 109l0 -15M355 57l1 -15M363 89l1 -11"/>
<path stroke="#3d3d3d" stroke-width="1.5" d="M359 198l0 -21M416 149l2 -28M424 178l0 -19"/>
<path stroke="#3d3d3d" stroke-width="2" d="M369 18l0 -26M362 31l1 -15M352 88l2 -24M354 85l1 -18M360 44l2 -29M401 132l2 -20M356 152l1 -13"/>
<path stroke="#3d3d3d" stroke-width="2.5" d="M383 96l0 -26M385 86l1 -12M416 49l1 -24M403 67l1 -22"/>
<path stroke="#3e3e3e" stroke-width="1" d="M435 183l1 -13"/>
<path stroke="#3e3e3e" stroke-width="1.5" d="M369 30l1 -19"/>
<path stroke="#3e3e3e" stroke-width="2" d="M372 52l1 -25M412 74l0 -19M359 110l0 -12M391 101l1 -25M401 58l0 -30M357 89l2 -29"/>
<path stroke="#3e3e3e" stroke-width="2.5" d="M399 168l0 -8M423 138l1 -18M433 179l1 -32"/>
<path stroke="#3f3f3f" stroke-width="1.5" d="M395 178l1 -19M392 58l0 -10M393 61l1 -13M378 27l0 -23"/>
<path stroke="#3f3f3f" stroke-width="2" d="M419 43l1 -32M420 51l2 -30M345 197l0 -17M367 164l0 -12"/>
<path stroke="#3f3f3f" stroke-width="2.5" d="M423 139l2 -19M362 26l0 -13M395 91l2 -29"/>
<path stroke="#404040" stroke-width="1.5" d="M427 143l1 -19M349 20l3 -32M424 139l0 -20"/>
<path stroke="#404040" stroke-width="2" d="M424 132l0 -27M403 29l2 -28"/>
<path stroke="#404040" stroke-width="2.5" d="M405 29l0 -19"/>
<path stroke="#414141" stroke-width="1" d="M429 95l1 -31"/>
<path stroke="#414141" stroke-width="1.5" d="M423 37l1 -11M363 70l0 -30M387 75l1 -31M408 107l1 -30"/>
<path stroke="#414141" stroke-width="2" d="M402 130l1 -21"/>
<path stroke="#414141" stroke-width="2.5" d="M363 48l2 -25M422 127l1 -10M358 16l0 -11M353 62l2 -22"/>
<path stroke="#424242" stroke-width="1.5" d="M361 176l0 -15M435 40l1 -15M358 29l1 -15"/>
<path stroke="#424242" stroke-width="2" d="M369 87l2 -24"/>
<path stroke="#424242" stroke-width="2.5" d="M431 43l0 -15M408 56l0 -12M341 75l2 -25"/>
<path stroke="#434343" stroke-width="1" d="M381 25l2 -27"/>
<path stroke="#434343" stroke-width="1.5" d="M374 180l1 -25M345 116l3 -29M442 154l0 -19M357 40l2 -20M349 71l1 -15M423 31l2 -24"/>
<path stroke="#434343" stroke-width="2" d="M438 20l1 -12M356 55l1 -13M400 177l1 -14M342 121l1 -10M438 126l0 -19M426 68l2 -32"/>
<path stroke="#434343" stroke-width="2.5" d="M400 53l1 -19M409 109l1 -25M421 24l2 -19M367 161l0 -17M409 78l2 -25M366 56l1 -25M355 52l0 -13"/>
<path stroke="#444444" stroke-width="1.5" d="M341 93l1 -12M432 83l2 -30M400 62l1 -26"/>
<path stroke="#444444" stroke-width="2" d="M361 206l1 -29M366 91l2 -21M399 183l0 -12M350 95l1 -23M418 123l3 -26"/>
<path stroke="#444444" stroke-width="2.5" d="M378 30l2 -21M348 17l2 -23M394 19l0 -14M342 180l1 -13"/>
<path stroke="#454545" stroke-width="1.5" d="M397 58l2 -19"/>
<path stroke="#454545" stroke-width="2" d="M373 68l2 -22M395 75l0 -22"/>
<path stroke="#454545" stroke-width="2.5" d="M375 110l2 -26M375 48l0 -26M408 137l3 -26"/>
<path stroke="#464646" stroke-width="1" d="M437 167l1 -12"/>
<path stroke="#464646" stroke-width="1.5" d="M400 142l0 -12M377 185l0 -14M417 103l2 -24M401 70l1 -29"/>
<path stroke="#464646" stroke-width="2" d="M399 62l1 -20M352 90l1 -20M351 71l3 -31M392 138l1 -21"/>
<path stroke="#464646" stroke-width="2.5" d="M345 18l0 -9M406 115l0 -17M425 78l0 -15"/>
<path stroke="#474747" stroke-width="1.5" d="M396 124l1 -20M361 84l1 -10"/>
<path stroke="#474747" stroke-width="2" d="M370 93l1 -26M421 47l1 -27M431 36l0 -17M435 125l0 -12M441 84l1 -14"/>
<path stroke="#474747" stroke-width="2.5" d="M403 104l0 -14M410 54l3 -30M411 19l1 -26"/>
<path stroke="#484848" stroke-width="1" d="M392 139l0 -12M420 161l2 -36"/>
<path stroke="#484848" stroke-width="1.5" d="M361 150l1 -12M380 86l2 -20M363 52l2 -26M403 64l1 -23M364 194l0 -31M406 99l0 -21"/>
<path stroke="#484848" stroke-width="2" d="M369 103l0 -13M382 124l1 -17M366 14l1 -23M377 149l2 -32M435 114l2 -21M446 38l1 -21"/>
<path stroke="#484848" stroke-width="2.5" d="M433 188l1 -10M414 53l0 -10M428 34l1 -29M389 120l2 -27M410 35l0 -22M440 47l0 -19"/>
<path stroke="#494949" stroke-width="1.5" d="M426 22l1 -11M435 60l2 -31M342 170l0 -11M383 86l1 -13M393 134l2 -20"/>
<path stroke="#494949" stroke-width="2" d="M423 104l1 -18M445 147l1 -15M373 97l2 -20M447 67l1 -21M343 110l0 -9M405 83l1 -22M357 176l1 -29"/>
<path stroke="#494949" stroke-width="2.5" d="M378 143l2 -31M432 146l1 -16M364 111l1 -12M405 50l1 -29M357 214l2 -26"/>
<path stroke="#4a4a4a" stroke-width="1" d="M421 106l2 -26"/>
<path stroke="#4a4a4a" stroke-width="1.5" d="M356 26l2 -17M436 95l2 -21M358 44l1 -17"/>
<path stroke="#4a4a4a" stroke-width="2" d="M360 10l0 -12M376 206l1 -15M404 96l1 -17M447 119l1 -12"/>
<path stroke="#4a4a4a" stroke-width="2.5" d="M362 23l0 -8M443 184l1 -16"/>
<path stroke="#4b4b4b" stroke-width="1" d="M424 158l2 -24M363 117l1 -24"/>
<path stroke="#4b4b4b" stroke-width="1.5" d="M342 198l2 -26M397 22l0 -10M437 57l1 -16M376 146l0 -11"/>
<path stroke="#4b4b4b" stroke-width="2" d="M407 18l0 -9"/>
<path stroke="#4b4b4b" stroke-width="2.5" d="M401 80l1 -13M410 42l1 -17"/>
<path stroke="#4c4c4c" stroke-width="1.5" d="M352 25l1 -21M427 207l3 -31M351 140l4 -38M359 150l2 -19"/>
<path stroke="#4c4c4c" stroke-width="2" d="M372 153l1 -8M441 113l1 -23M396 191l1 -15M401 107l1 -24M436 196l0 -14M425 107l1 -9M401 209l0 -21M372 132l1 -31"/>
<path stroke="#4c4c4c" stroke-width="2.5" d="M344 115l1 -9M443 179l1 -13M382 67l0 -18M372 55l2 -18"/>
<path stroke="#4d4d4d" stroke-width="1" d="M370 73l0 -27"/>
<path stroke="#4d4d4d" stroke-width="1.5" d="M393 47l1 -10M356 80l1 -16M362 140l1 -27"/>
<path stroke="#4d4d4d" stroke-width="2" d="M408 51l1 -19M338 62l2 -26"/>
<path stroke="#4e4e4e" stroke-width="1.5" d="M419 109l2 -21"/>
<path stroke="#4e4e4e" stroke-width="2" d="M440 31l1 -12M433 160l1 -28M354 82l0 -22M381 119l0 -10M435 67l1 -30M409 54l0 -11"/>
<path stroke="#4e4e4e" stroke-width="2.5" d="M340 97l2 -18M409 31l0 -26M421 27l0 -10M429 24l0 -11M445 212l2 -29"/>
<path stroke="#4f4f4f" stroke-width="1" d="M436 158l2 -23"/>
<path stroke="#4f4f4f" stroke-width="1.5" d="M399 51l2 -21M363 152l2 -21M400 146l1 -14"/>
<path stroke="#4f4f4f" stroke-width="2" d="M433 119l1 -21M428 143l0 -17"/>
<path stroke="#4f4f4f" stroke-width="2.5" d="M391 136l0 -18M446 177l2 -30M443 39l0 -28"/>
<path stroke="#505050" stroke-width="1.5" d="M406 13l1 -16M404 79l3 -26M449 169l3 -28M367 45l0 -35M413 67l1 -14M450 156l2 -23M374 85l1 -14M421 58l1 -22M384 121l0 -18"/>
<path stroke="#505050" stroke-width="2" d="M460 48l1 -13M373 167l1 -27M357 84l2 -24M437 144l1 -22"/>
<path stroke="#505050" stroke-width="2.5" d="M444 169l1 -13M408 56l0 -24M409 50l0 -11M441 167l1 -21"/>
<path stroke="#515151" stroke-width="1.5" d="M387 135l0 -26M421 146l1 -16M380 187l1 -16M404 107l0 -29M358 198l2 -39"/>
<path stroke="#525252" stroke-width="1" d="M411 30l1 -14"/>
<path stroke="#525252" stroke-width="1.5" d="M414 97l1 -17M401 13l0 -9"/>
<path stroke="#525252" stroke-width="2" d="M429 18l0 -33M373 124l1 -28M345 149l0 -22"/>
<path stroke="#525252" stroke-width="2.5" d="M350 24l1 -14M347 26l2 -21M417 17l2 -26M340 12l1 -8M453 88l2 -29"/>
<path stroke="#535353" stroke-width="1" d="M333 76l3 -32"/>
<path stroke="#535353" stroke-width="1.5" d="M338 181l2 -22M436 114l0 -20M401 67l0 -14M334 55l1 -20M351 46l0 -24M380 120l1 -18"/>
<path stroke="#535353" stroke-width="2" d="M405 70l1 -10M414 49l0 -26M444 215l2 -29M455 206l0 -11M376 134l0 -13"/>
<path stroke="#545454" stroke-width="1.5" d="M416 145l2 -19M422 82l1 -29"/>
<path stroke="#545454" stroke-width="2" d="M340 74l1 -32M336 92l1 -20"/>
<path stroke="#545454" stroke-width="2.5" d="M448 93l2 -24M390 195l1 -30M425 48l2 -21"/>
<path stroke="#555555" stroke-width="1.5" d="M454 88l0 -11"/>
<path stroke="#555555" stroke-width="2.5" d="M437 58l1 -14"/>
<path stroke="#565656" stroke-width="1" d="M367 83l0 -30M348 78l0 -16"/>
<path stroke="#565656" stroke-width="1.5" d="M435 150l1 -16M333 183l2 -33M380 102l1 -25M439 212l2 -26"/>
<path stroke="#565656" stroke-width="2" d="M446 108l0 -11M335 75l2 -20M445 83l1 -14"/>
<path stroke="#565656" stroke-width="2.5" d="M445 102l0 -12M381 192l1 -31"/>
<path stroke="#575757" stroke-width="1" d="M356 134l0 -28"/>
<path stroke="#575757" stroke-width="1.5" d="M381 128l3 -31M454 125l3 -29M434 41l2 -21M441 159l3 -33M450 100l1 -27M359 40l0 -33"/>
<path stroke="#575757" stroke-width="2" d="M463 185l0 -17"/>
<path stroke="#575757" stroke-width="2.5" d="M333 187l1 -23M449 160l0 -33"/>
<path stroke="#585858" stroke-width="1.5" d="M386 146l1 -23M367 107l2 -25M362 89l3 -38M388 38l1 -36"/>
<path stroke="#585858" stroke-width="2" d="M336 42l1 -23M439 168l3 -30"/>
<path stroke="#585858" stroke-width="2.5" d="M443 56l1 -12"/>
<path stroke="#595959" stroke-width="1" d="M368 68l0 -16"/>
<path stroke="#595959" stroke-width="1.5" d="M436 90l0 -19M391 173l1 -15M409 157l2 -31M435 20l1 -20M390 205l1 -20M457 82l0 -10M437 38l1 -26"/>
<path stroke="#595959" stroke-width="2" d="M458 151l1 -22"/>
<path stroke="#595959" stroke-width="2.5" d="M341 114l1 -32"/>
<path stroke="#5a5a5a" stroke-width="1" d="M397 146l2 -29"/>
<path stroke="#5a5a5a" stroke-width="1.5" d="M392 40l1 -28M450 25l0 -10M363 74l1 -18M462 48l1 -19"/>
<path stroke="#5a5a5a" stroke-width="2.5" d="M382 182l3 -33"/>
<path stroke="#5b5b5b" stroke-width="1" d="M412 46l3 -28M428 176l1 -33"/>
<path stroke="#5b5b5b" stroke-width="1.5" d="M346 39l2 -25M358 140l2 -37M361 180l1 -14M386 189l0 -15"/>
<path stroke="#5b5b5b" stroke-width="2" d="M452 172l0 -18"/>
<path stroke="#5b5b5b" stroke-width="2.5" d="M458 90l1 -27M380 212l1 -23M456 74l1 -18"/>
<path stroke="#5c5c5c" stroke-width="1" d="M358 29l2 -28"/>
<path stroke="#5c5c5c" stroke-width="1.5" d="M384 97l0 -28M390 51l1 -38"/>
<path stroke="#5c5c5c" stroke-width="2" d="M386 129l1 -11M464 189l0 -13M401 166l0 -19M435 128l3 -27M394 202l0 -31"/>
<path stroke="#5c5c5c" stroke-width="2.5" d="M340 116l0 -8"/>
<path stroke="#5d5d5d" stroke-width="1" d="M363 202l1 -23M415 127l1 -28M354 68l4 -37M394 62l0 -18"/>
<path stroke="#5d5d5d" stroke-width="1.5" d="M382 63l2 -17M382 136l0 -14"/>
<path stroke="#5d5d5d" stroke-width="2" d="M455 63l0 -29M458 164l0 -10M447 180l1 -9M400 117l2 -27"/>
<path stroke="#5d5d5d" stroke-width="2.5" d="M340 121l0 -14"/>
<path stroke="#5e5e5e" stroke-width="1" d="M417 35l2 -23"/>
<path stroke="#5e5e5e" stroke-width="1.5" d="M407 45l3 -35M452 76l2 -28"/>
<path stroke="#5e5e5e" stroke-width="2" d="M384 181l2 -29M361 182l1 -21"/>
<path stroke="#5e5e5e" stroke-width="2.5" d="M464 90l2 -26M462 110l1 -13M388 177l2 -32M329 87l1 -9"/>
<path stroke="#5f5f5f" stroke-width="1.5" d="M413 23l1 -29"/>
<path stroke="#5f5f5f" stroke-width="2" d="M331 79l1 -9M338 163l0 -19M334 135l1 -27M335 145l1 -22"/>
<path stroke="#606060" stroke-width="1" d="M391 64l1 -37M432 186l2 -25"/>
<path stroke="#606060" stroke-width="1.5" d="M334 90l2 -29"/>
<path stroke="#606060" stroke-width="2" d="M435 213l1 -24M465 13l1 -15M456 20l3 -28"/>
<path stroke="#606060" stroke-width="2.5" d="M335 152l1 -26"/>
<path stroke="#616161" stroke-width="1" d="M395 103l2 -29M412 130l1 -28"/>
<path stroke="#616161" stroke-width="1.5" d="M361 199l2 -21M460 200l1 -12M441 201l0 -21M426 47l0 -16M368 158l3 -36M381 205l1 -15M393 134l1 -19"/>
<path stroke="#616161" stroke-width="2" d="M431 216l2 -36M388 177l1 -19"/>
<path stroke="#616161" stroke-width="2.5" d="M335 166l0 -29M458 185l1 -17"/>
<path stroke="#626262" stroke-width="1" d="M396 107l1 -33"/>
<path stroke="#626262" stroke-width="1.5" d="M432 132l2 -33"/>
<path stroke="#626262" stroke-width="2" d="M459 178l1 -26"/>
<path stroke="#626262" stroke-width="2.5" d="M339 61l1 -31"/>
<path stroke="#636363" stroke-width="1" d="M418 33l2 -27M417 35l1 -20"/>
<path stroke="#636363" stroke-width="1.5" d="M426 99l2 -21M408 38l2 -30"/>
<path stroke="#636363" stroke-width="2" d="M335 31l0 -17"/>
<path stroke="#646464" stroke-width="1.5" d="M367 179l2 -30M463 99l2 -24M334 105l1 -24M334 45l2 -31M460 41l2 -29"/>
<path stroke="#646464" stroke-width="2" d="M392 94l2 -31M364 171l1 -23M334 159l2 -24M370 190l0 -16M333 34l1 -20M327 73l0 -15"/>
<path stroke="#656565" stroke-width="1.5" d="M439 191l0 -15M344 199l2 -30M434 204l0 -37M345 204l1 -18M340 38l3 -38"/>
<path stroke="#656565" stroke-width="2" d="M333 77l2 -29M316 190l1 -13"/>
<path stroke="#656565" stroke-width="2.5" d="M331 184l1 -21"/>
<path stroke="#666666" stroke-width="1" d="M444 20l1 -19M417 42l2 -29"/>
<path stroke="#666666" stroke-width="1.5" d="M437 187l1 -31M375 132l2 -34M322 197l0 -12"/>
<path stroke="#666666" stroke-width="2" d="M326 217l3 -33M479 193l0 -12"/>
<path stroke="#666666" stroke-width="2.5" d="M464 66l2 -29M468 115l0 -10"/>
<path stroke="#676767" stroke-width="1" d="M434 64l1 -23M341 24l3 -26M373 152l1 -21"/>
<path stroke="#676767" stroke-width="1.5" d="M372 164l3 -32M443 87l2 -21"/>
<path stroke="#676767" stroke-width="2" d="M334 66l1 -30M466 87l1 -12"/>
<path stroke="#676767" stroke-width="2.5" d="M466 188l0 -21M327 90l0 -10M333 29l0 -16M462 18l2 -25M460 121l3 -30"/>
<path stroke="#686868" stroke-width="1.5" d="M432 25l1 -24M436 177l1 -35M460 74l0 -30"/>
<path stroke="#686868" stroke-width="2" d="M320 198l1 -14M461 177l0 -24M463 16l1 -20"/>
<path stroke="#686868" stroke-width="2.5" d="M324 141l1 -23M471 119l2 -14M462 170l2 -23"/>
<path stroke="#696969" stroke-width="1" d="M339 91l2 -24M395 202l0 -39"/>
<path stroke="#696969" stroke-width="1.5" d="M331 174l0 -9"/>
<path stroke="#696969" stroke-width="2" d="M465 143l0 -12M462 212l1 -21M320 206l1 -14M445 88l0 -27M471 179l2 -17"/>
<path stroke="#696969" stroke-width="2.5" d="M331 166l1 -27"/>
<path stroke="#6a6a6a" stroke-width="1" d="M460 151l1 -26"/>
<path stroke="#6a6a6a" stroke-width="1.5" d="M315 57l2 -21"/>
<path stroke="#6a6a6a" stroke-width="2" d="M479 79l2 -26M311 133l3 -28M332 135l3 -32"/>
<path stroke="#6b6b6b" stroke-width="1" d="M490 59l1 -22M423 113l2 -21"/>
<path stroke="#6b6b6b" stroke-width="1.5" d="M311 30l3 -30M461 87l0 -9"/>
<path stroke="#6b6b6b" stroke-width="2" d="M329 168l1 -14M490 69l0 -18M478 138l3 -29"/>
<path stroke="#6b6b6b" stroke-width="2.5" d="M314 33l0 -20M474 185l0 -11"/>
<path stroke="#6c6c6c" stroke-width="1" d="M440 64l2 -21M441 30l1 -32"/>
<path stroke="#6c6c6c" stroke-width="1.5" d="M325 140l1 -18M485 149l1 -29M329 145l1 -21M433 120l1 -26"/>
<path stroke="#6c6c6c" stroke-width="2" d="M486 41l0 -31"/>
<path stroke="#6c6c6c" stroke-width="2.5" d="M480 185l1 -18M481 177l0 -20"/>
<path stroke="#6d6d6d" stroke-width="1.5" d="M321 201l1 -10"/>
<path stroke="#6d6d6d" stroke-width="2" d="M465 157l1 -15M320 32l2 -21"/>
<path stroke="#6d6d6d" stroke-width="2.5" d="M309 161l1 -25M330 50l0 -12M324 166l0 -20M312 128l0 -17"/>
<path stroke="#6e6e6e" stroke-width="1" d="M438 110l1 -20M449 200l3 -35"/>
<path stroke="#6e6e6e" stroke-width="1.5" d="M474 198l1 -28M487 69l1 -23M330 121l1 -27M310 55l3 -29M485 177l1 -33"/>
<path stroke="#6e6e6e" stroke-width="2" d="M464 200l1 -16M472 174l3 -26"/>
<path stroke="#6e6e6e" stroke-width="2.5" d="M314 102l3 -29"/>
<path stroke="#6f6f6f" stroke-width="1" d="M444 16l2 -29"/>
<path stroke="#6f6f6f" stroke-width="1.5" d="M315 154l1 -30M490 153l3 -33"/>
<path stroke="#6f6f6f" stroke-width="2" d="M328 70l0 -11M475 154l3 -29M323 66l0 -9"/>
<path stroke="#6f6f6f" stroke-width="2.5" d="M473 144l0 -8"/>
<path stroke="#707070" stroke-width="1.5" d="M481 153l2 -31M467 35l1 -21M309 44l1 -23M472 88l1 -11M330 194l1 -21M320 41l1 -17M342 196l1 -30"/>
<path stroke="#707070" stroke-width="2" d="M464 18l1 -19M472 40l3 -28M317 30l1 -31"/>
<path stroke="#707070" stroke-width="2.5" d="M470 210l2 -30"/>
<path stroke="#717171" stroke-width="1" d="M322 187l1 -24"/>
<path stroke="#717171" stroke-width="1.5" d="M478 123l2 -28M312 151l1 -16M314 44l1 -31M313 77l3 -31M446 42l4 -36"/>
<path stroke="#717171" stroke-width="2" d="M316 202l3 -25M320 175l2 -24M466 51l0 -13"/>
<path stroke="#717171" stroke-width="2.5" d="M490 184l0 -14M481 201l1 -10"/>
<path stroke="#727272" stroke-width="1" d="M392 184l2 -32"/>
<path stroke="#727272" stroke-width="1.5" d="M446 62l2 -24M325 61l1 -33"/>
<path stroke="#727272" stroke-width="2" d="M330 34l0 -14M329 200l1 -28M486 190l0 -18M471 46l0 -11M329 38l2 -32"/>
<path stroke="#737373" stroke-width="2" d="M492 51l1 -8M328 26l1 -23"/>
<path stroke="#737373" stroke-width="2.5" d="M466 47l1 -13M469 70l2 -19M319 73l1 -15"/>
<path stroke="#747474" stroke-width="2" d="M478 137l0 -12M488 206l2 -28M315 58l1 -16"/>
<path stroke="#757575" stroke-width="1.5" d="M491 55l2 -21M488 104l2 -26"/>
<path stroke="#757575" stroke-width="2" d="M479 181l0 -21M479 142l2 -33M327 109l2 -24M327 45l0 -10M474 30l2 -20M305 108l2 -25"/>
<path stroke="#767676" stroke-width="1.5" d="M309 178l1 -33M320 117l3 -31"/>
<path stroke="#767676" stroke-width="2" d="M320 155l1 -12M490 159l1 -17"/>
<path stroke="#777777" stroke-width="1" d="M311 24l0 -12"/>
<path stroke="#777777" stroke-width="1.5" d="M466 109l0 -23M328 19l1 -21M472 72l0 -33"/>
<path stroke="#777777" stroke-width="2" d="M325 186l1 -14M468 165l0 -27"/>
<path stroke="#777777" stroke-width="2.5" d="M319 39l0 -26M470 21l1 -16"/>
<path stroke="#787878" stroke-width="1.5" d="M493 11l0 -17"/>
<path stroke="#787878" stroke-width="2" d="M475 53l2 -28M314 74l1 -30M490 65l0 -28"/>
<path stroke="#797979" stroke-width="1.5" d="M469 115l0 -12M475 75l1 -15"/>
<path stroke="#797979" stroke-width="2" d="M483 99l1 -16"/>
<path stroke="#797979" stroke-width="2.5" d="M321 154l3 -31"/>
<path stroke="#7a7a7a" stroke-width="1" d="M481 130l1 -10"/>
<path stroke="#7a7a7a" stroke-width="1.5" d="M327 149l0 -21M477 46l1 -16M480 126l1 -26"/>
<path stroke="#7a7a7a" stroke-width="2.5" d="M310 119l2 -22M317 24l1 -25M311 191l0 -9M312 122l2 -15"/>
<path stroke="#7b7b7b" stroke-width="1.5" d="M492 148l2 -19M484 35l2 -24"/>
<path stroke="#7b7b7b" stroke-width="2" d="M469 47l1 -18M477 147l0 -31"/>
<path stroke="#7b7b7b" stroke-width="2.5" d="M480 82l1 -28M324 116l1 -14M305 75l0 -21M325 87l1 -22"/>
<path stroke="#7c7c7c" stroke-width="1" d="M476 183l0 -28"/>
<path stroke="#7c7c7c" stroke-width="1.5" d="M478 104l1 -11M490 158l2 -24M493 48l2 -30M474 93l1 -30M317 108l1 -18M483 77l1 -19M494 54l0 -10M471 130l3 -32"/>
<path stroke="#7c7c7c" stroke-width="2.5" d="M475 61l2 -25M482 127l3 -32"/>
<path stroke="#7d7d7d" stroke-width="1.5" d="M494 115l0 -15M311 134l0 -14M486 127l1 -31"/>
<path stroke="#7d7d7d" stroke-width="2" d="M314 75l2 -19M305 110l0 -11M468 145l1 -13M321 102l0 -25"/>
<path stroke="#7e7e7e" stroke-width="1.5" d="M488 18l2 -30"/>
<path stroke="#7e7e7e" stroke-width="2" d="M317 77l1 -27M315 189l3 -30"/>
<path stroke="#7e7e7e" stroke-width="2.5" d="M485 55l1 -20"/>
<path stroke="#7f7f7f" stroke-width="1.5" d="M301 64l0 -17M483 35l0 -13M318 145l1 -15M310 48l1 -28M307 170l1 -19"/>
<path stroke="#7f7f7f" stroke-width="2" d="M317 68l1 -24M493 148l1 -25M488 141l1 -10"/>
<path stroke="#7f7f7f" stroke-width="2.5" d="M476 29l1 -12M309 73l1 -17"/>
<path stroke="#808080" stroke-width="1" d="M469 35l1 -13"/>
<path stroke="#808080" stroke-width="1.5" d="M310 56l1 -21"/>
<path stroke="#808080" stroke-width="2" d="M470 166l1 -25M312 56l0 -13M490 142l0 -28"/>
<path stroke="#808080" stroke-width="2.5" d="M481 114l2 -19M476 118l1 -27"/>
<path stroke="#818181" stroke-width="1.5" d="M312 127l2 -20"/>
<path stroke="#818181" stroke-width="2" d="M306 105l0 -12"/>
<path stroke="#818181" stroke-width="2.5" d="M488 182l1 -17M308 205l1 -8"/>
<path stroke="#828282" stroke-width="1" d="M305 80l2 -20M481 130l1 -13"/>
<path stroke="#828282" stroke-width="2" d="M323 149l2 -24M487 80l3 -29"/>
<path stroke="#828282" stroke-width="2.5" d="M315 169l0 -14M306 79l1 -15"/>
<path stroke="#838383" stroke-width="1.5" d="M309 80l1 -31"/>
<path stroke="#848484" stroke-width="1.5" d="M315 103l2 -25M479 208l2 -20M309 110l2 -26"/>
<path stroke="#848484" stroke-width="2" d="M320 194l0 -12M479 158l0 -25M320 44l1 -19"/>
<path stroke="#848484" stroke-width="2.5" d="M304 89l0 -12M305 203l1 -17M301 78l1 -16M301 113l0 -22"/>
<path stroke="#858585" stroke-width="1.5" d="M482 14l1 -16M489 75l0 -12"/>
<path stroke="#858585" stroke-width="2" d="M322 174l1 -28"/>
<path stroke="#868686" stroke-width="1.5" d="M487 93l1 -9"/>
<path stroke="#868686" stroke-width="2.5" d="M323 134l1 -19"/>
<path stroke="#878787" stroke-width="1.5" d="M302 162l1 -29"/>
<path stroke="#878787" stroke-width="2" d="M304 153l1 -24"/>
<path stroke="#878787" stroke-width="2.5" d="M305 86l2 -27M321 36l1 -22"/>
<path stroke="#888888" stroke-width="1.5" d="M314 141l1 -28"/>
<path stroke="#888888" stroke-width="2" d="M304 95l0 -22"/>
<path stroke="#888888" stroke-width="2.5" d="M480 43l1 -12"/>
<path stroke="#898989" stroke-width="1" d="M302 22l0 -9"/>
<path stroke="#898989" stroke-width="2.5" d="M313 204l1 -15"/>
<path stroke="#8a8a8a" stroke-width="1.5" d="M481 166l2 -25"/>
<path stroke="#8a8a8a" stroke-width="2" d="M306 122l3 -28"/>
<path stroke="#8a8a8a" stroke-width="2.5" d="M305 188l0 -17"/>
<path stroke="#8b8b8b" stroke-width="2" d="M302 43l0 -9"/>
<path stroke="#8b8b8b" stroke-width="2.5" d="M300 130l0 -19"/>
<path stroke="#8c8c8c" stroke-width="1.5" d="M323 105l1 -27"/>
<path stroke="#8c8c8c" stroke-width="2" d="M481 151l0 -12"/>
<path stroke="#8d8d8d" stroke-width="1" d="M488 81l1 -23"/>
<path stroke="#8d8d8d" stroke-width="1.5" d="M491 131l0 -13M308 87l3 -26"/>
<path stroke="#8e8e8e" stroke-width="2" d="M301 109l0 -25"/>
<path stroke="#8f8f8f" stroke-width="1.5" d="M301 42l1 -13"/>
<path stroke="#909090" stroke-width="1.5" d="M309 195l0 -12"/>
<path stroke="#909090" stroke-width="2" d="M303 89l1 -27"/>
<path stroke="#949494" stroke-width="2.5" d="M304 87l2 -30M303 113l2 -31"/>
<path stroke="#959595" stroke-width="1.5" d="M305 56l1 -18"/>
<path stroke="#969696" stroke-width="2" d="M301 50l1 -19"/>
<path stroke="#979797" stroke-width="1.5" d="M300 151l1 -17"/>
<path stroke="#979797" stroke-width="2" d="M302 101l1 -14"/>
<path stroke="#999999" stroke-width="2.5" d="M301 122l2 -17"/>
<path stroke="#9a9a9a" stroke-width="1.5" d="M301 116l1 -30"/>
<path stroke="#9d9d9d" stroke-width="1.5" d="M301 193l2 -18"/>
<path stroke="#9f9f9f" stroke-width="1.5" d="M302 52l1 -17"/>
<path stroke="#a0a0a0" stroke-width="2" d="M302 144l1 -27"/>
<path stroke="#a6a6a6" stroke-width="2" d="M299 114l1 -19"/>
<path stroke="#a9a9a9" stroke-width="2.5" d="M300 160l2 -18"/>
<ellipse cx="477.8" cy="70.2" rx="1.5" ry="3" fill="#bfbfbf" stroke="none"/>
<ellipse cx="477" cy="132" rx="1.2" ry="2" fill="#9e9e9e" stroke="none"/>
<ellipse cx="490" cy="140" rx="1.2" ry="3" fill="#a6a6a6" stroke="none"/>
</g>
</g>
</g></svg>
<svg class="hm" width="550" height="451" viewBox="0 0 550 451">
<defs><clipPath id="cc"><rect x="37.4" y="234.6" width="171.6" height="177.4"/></clipPath>
<filter id="bc" filterUnits="userSpaceOnUse" x="25.4" y="222.6" width="195.6" height="201.4" color-interpolation-filters="sRGB"><feGaussianBlur stdDeviation="1.2 2.5"/></filter>
<filter id="sc" filterUnits="userSpaceOnUse" x="25.4" y="222.6" width="195.6" height="201.4" color-interpolation-filters="sRGB"><feGaussianBlur stdDeviation="0.4 1.2"/></filter>
<filter id="fc" filterUnits="userSpaceOnUse" x="37.4" y="234.6" width="171.6" height="177.4" color-interpolation-filters="sRGB">
<feTurbulence type="fractalNoise" baseFrequency="0.35 0.05" numOctaves="2" seed="7" result="n"/>
<feColorMatrix in="n" type="matrix" values="1 0 0 0 0 1 0 0 0 0 1 0 0 0 0 0 0 0 0 1" result="ng"/>
<feComposite in="SourceGraphic" in2="ng" operator="arithmetic" k1="0" k2="1" k3="0.06" k4="-0.03" result="s"/>
<feComponentTransfer in="s"><feFuncR type="table" tableValues="1.000 1.000 1.000 1.000 1.000 1.000 1.000 1.000 1.000 1.000 1.000 1.000 0.996 0.992 0.988 0.984 0.980 0.984 0.987 0.990 0.993 0.997 1.000 1.000 1.000 1.000 1.000 1.000 1.000 1.000 1.000 1.000 1.000 1.000 1.000 1.000 1.000 1.000 1.000 1.000 1.000 0.926 0.853 0.779 0.706 0.538 0.370 0.202 0.105 0.078 0.052 0.026 0.000 0.000 0.000 0.000 0.000 0.000 0.000 0.000 0.000 0.000 0.000 0.000 0.000 0.000 0.000 0.000 0.000 0.000 0.000 0.000 0.000 0.000 0.000 0.000 0.000 0.000 0.000 0.000 0.000 0.000 0.000 0.000 0.000 0.000 0.000 0.000 0.000 0.000 0.000 0.000 0.000 0.000 0.000 0.000 0.000 0.000 0.000 0.000 0.000"/><feFuncG type="table" tableValues="1.000 1.000 1.000 1.000 1.000 1.000 1.000 0.984 0.952 0.919 0.887 0.855 0.802 0.748 0.695 0.642 0.588 0.516 0.444 0.373 0.301 0.229 0.157 0.133 0.110 0.125 0.180 0.235 0.304 0.373 0.441 0.510 0.565 0.620 0.675 0.729 0.784 0.824 0.863 0.902 0.941 0.936 0.931 0.926 0.922 0.905 0.888 0.871 0.863 0.863 0.863 0.863 0.863 0.856 0.850 0.844 0.838 0.831 0.809 0.787 0.765 0.703 0.641 0.580 0.527 0.482 0.437 0.392 0.361 0.329 0.298 0.267 0.235 0.173 0.110 0.067 0.045 0.022 0.000 0.000 0.000 0.000 0.000 0.000 0.000 0.000 0.000 0.000 0.000 0.000 0.000 0.000 0.000 0.000 0.000 0.000 0.000 0.000 0.000 0.000 0.000"/><feFuncB type="table" tableValues="1.000 1.000 1.000 1.000 1.000 1.000 1.000 0.984 0.952 0.919 0.887 0.855 0.805 0.756 0.707 0.657 0.608 0.533 0.458 0.382 0.307 0.232 0.157 0.118 0.078 0.047 0.024 0.000 0.000 0.000 0.000 0.000 0.000 0.000 0.000 0.000 0.000 0.000 0.000 0.000 0.000 0.000 0.000 0.000 0.000 0.034 0.067 0.101 0.161 0.248 0.336 0.423 0.510 0.565 0.620 0.675 0.729 0.784 0.837 0.889 0.941 0.958 0.975 0.992 0.992 0.975 0.958 0.941 0.910 0.878 0.847 0.816 0.784 0.706 0.627 0.546 0.462 0.378 0.294 0.235 0.175 0.116 0.072 0.043 0.014 0.000 0.000 0.000 0.000 0.000 0.000 0.000 0.000 0.000 0.000 0.000 0.000 0.000 0.000 0.000 0.000"/><feFuncA type="linear" slope="0" intercept="1"/></feComponentTransfer>
</filter></defs>
<g clip-path="url(#cc)"><g filter="url(#fc)">
<g filter="url(#bc)">
<path fill="#4b4b4b" d="M67.4 396.6h3v6h-3zM67.4 402.6h3v6h-3zM67.4 408.6h3v6h-3zM67.4 414.6h3v6h-3zM67.4 420.6h3v6h-3z"/>
<path fill="#4c4c4c" d="M67.4 390.6h3v6h-3z"/>
<path fill="#4e4e4e" d="M67.4 384.6h3v6h-3zM70.4 390.6h3v6h-3zM70.4 396.6h3v6h-3zM70.4 402.6h3v6h-3zM70.4 408.6h3v6h-3zM70.4 414.6h3v6h-3zM70.4 420.6h3v6h-3z"/>
<path fill="#4f4f4f" d="M70.4 384.6h3v6h-3z"/>
<path fill="#515151" d="M67.4 378.6h6v6h-6z"/>
<path fill="#525252" d="M70.4 372.6h3v6h-3z"/>
<path fill="#535353" d="M70.4 366.6h3v6h-3z"/>
<path fill="#545454" d="M70.4 360.6h3v6h-3zM67.4 372.6h3v6h-3z"/>
<path fill="#555555" d="M70.4 354.6h3v6h-3zM196.4 378.6h3v6h-3zM196.4 384.6h3v6h-3zM196.4 390.6h3v6h-3zM64.4 396.6h3v6h-3zM196.4 396.6h3v6h-3zM64.4 402.6h3v6h-3zM196.4 402.6h3v6h-3zM64.4 408.6h3v6h-3zM196.4 408.6h3v6h-3zM64.4 414.6h3v6h-3zM196.4 414.6h3v6h-3zM64.4 420.6h3v6h-3zM196.4 420.6h3v6h-3z"/>
<path fill="#565656" d="M196.4 360.6h3v6h-3zM67.4 366.6h3v6h-3zM196.4 366.6h3v6h-3zM196.4 372.6h3v6h-3zM64.4 390.6h3v6h-3z"/>
<path fill="#575757" d="M70.4 348.6h3v6h-3zM196.4 348.6h3v6h-3zM196.4 354.6h3v6h-3z"/>
<path fill="#585858" d="M64.4 384.6h3v6h-3zM73.4 390.6h3v6h-3zM73.4 396.6h3v6h-3zM73.4 402.6h3v6h-3zM73.4 408.6h3v6h-3zM73.4 414.6h3v6h-3zM73.4 420.6h3v6h-3z"/>
<path fill="#595959" d="M67.4 360.6h3v6h-3zM73.4 378.6h3v6h-3zM73.4 384.6h3v6h-3z"/>
<path fill="#5a5a5a" d="M70.4 342.6h3v6h-3zM73.4 366.6h3v6h-3zM73.4 372.6h3v6h-3zM64.4 378.6h3v6h-3z"/>
<path fill="#5b5b5b" d="M196.4 342.6h3v6h-3zM67.4 354.6h3v6h-3zM73.4 360.6h3v6h-3z"/>
<path fill="#5c5c5c" d="M73.4 348.6h3v6h-3zM73.4 354.6h3v6h-3z"/>
<path fill="#5d5d5d" d="M115.4 348.6h3v6h-3zM115.4 354.6h3v6h-3zM115.4 360.6h3v6h-3zM115.4 366.6h3v6h-3zM64.4 372.6h3v6h-3zM115.4 372.6h3v6h-3zM115.4 378.6h3v6h-3zM115.4 384.6h3v6h-3zM115.4 390.6h3v6h-3zM115.4 396.6h3v6h-3zM115.4 402.6h3v6h-3zM115.4 408.6h3v6h-3zM115.4 414.6h3v6h-3zM115.4 420.6h3v6h-3z"/>
<path fill="#5e5e5e" d="M109.4 294.6h3v6h-3zM115.4 342.6h3v6h-3zM67.4 348.6h3v6h-3z"/>
<path fill="#5f5f5f" d="M109.4 288.6h3v6h-3zM70.4 336.6h3v6h-3zM73.4 342.6h3v6h-3zM64.4 366.6h3v6h-3z"/>
<path fill="#606060" d="M109.4 276.6h3v6h-3zM109.4 282.6h3v6h-3zM115.4 336.6h3v6h-3zM196.4 336.6h3v6h-3zM61.4 390.6h3v6h-3zM61.4 396.6h3v6h-3zM61.4 402.6h3v6h-3zM61.4 408.6h3v6h-3zM61.4 414.6h3v6h-3zM61.4 420.6h3v6h-3z"/>
<path fill="#616161" d="M109.4 264.6h3v6h-3zM109.4 270.6h3v6h-3zM109.4 300.6h3v6h-3zM67.4 342.6h3v6h-3zM64.4 360.6h3v6h-3zM76.4 378.6h3v6h-3zM76.4 384.6h3v6h-3zM76.4 390.6h3v6h-3zM76.4 396.6h3v6h-3zM76.4 402.6h3v6h-3zM76.4 408.6h3v6h-3zM76.4 414.6h3v6h-3zM76.4 420.6h3v6h-3z"/>
<path fill="#626262" d="M109.4 258.6h3v6h-3zM115.4 330.6h3v6h-3zM76.4 348.6h3v6h-3zM118.4 348.6h3v6h-3zM76.4 354.6h3v6h-3zM76.4 360.6h3v6h-3zM76.4 366.6h3v6h-3zM76.4 372.6h3v6h-3zM61.4 384.6h3v6h-3zM193.4 396.6h3v6h-3zM193.4 402.6h3v6h-3zM193.4 408.6h3v6h-3zM193.4 414.6h3v6h-3zM193.4 420.6h3v6h-3z"/>
<path fill="#636363" d="M109.4 222.6h3v6h-3zM109.4 228.6h3v6h-3zM109.4 234.6h3v6h-3zM109.4 240.6h3v6h-3zM109.4 246.6h3v6h-3zM109.4 252.6h3v6h-3zM112.4 294.6h3v6h-3zM70.4 330.6h3v6h-3zM73.4 336.6h3v6h-3zM118.4 342.6h3v6h-3zM64.4 354.6h3v6h-3zM193.4 384.6h3v6h-3zM193.4 390.6h3v6h-3z"/>
<path fill="#646464" d="M112.4 288.6h3v6h-3zM112.4 300.6h3v6h-3zM76.4 342.6h3v6h-3zM61.4 378.6h3v6h-3zM193.4 378.6h3v6h-3zM199.4 390.6h3v6h-3zM199.4 396.6h3v6h-3zM199.4 402.6h3v6h-3zM199.4 408.6h3v6h-3zM199.4 414.6h3v6h-3zM199.4 420.6h3v6h-3z"/>
<path fill="#656565" d="M112.4 282.6h3v6h-3zM106.4 288.6h3v6h-3zM106.4 294.6h3v6h-3zM115.4 324.6h3v6h-3zM196.4 330.6h3v6h-3zM67.4 336.6h3v6h-3zM199.4 348.6h3v6h-3zM118.4 354.6h3v6h-3zM199.4 354.6h3v6h-3zM199.4 360.6h3v6h-3zM199.4 366.6h3v6h-3zM193.4 372.6h3v6h-3zM199.4 372.6h3v6h-3zM199.4 378.6h3v6h-3zM199.4 384.6h3v6h-3z"/>
<path fill="#666666" d="M106.4 270.6h3v6h-3zM112.4 270.6h3v6h-3zM106.4 276.6h3v6h-3zM112.4 276.6h3v6h-3zM106.4 282.6h3v6h-3zM109.4 306.6h6v6h-6zM118.4 336.6h3v6h-3zM64.4 348.6h3v6h-3zM169.4 348.6h3v6h-3zM193.4 366.6h3v6h-3zM61.4 372.6h3v6h-3z"/>
<path fill="#676767" d="M106.4 258.6h3v6h-3zM106.4 264.6h3v6h-3zM112.4 264.6h3v6h-3zM115.4 318.6h3v6h-3zM70.4 324.6h3v6h-3zM73.4 330.6h3v6h-3zM169.4 354.6h3v6h-3zM118.4 360.6h3v6h-3zM193.4 360.6h3v6h-3zM61.4 366.6h3v6h-3z"/>
<path fill="#686868" d="M106.4 222.6h3v6h-3zM106.4 228.6h3v6h-3zM106.4 234.6h3v6h-3zM106.4 240.6h3v6h-3zM106.4 246.6h3v6h-3zM106.4 252.6h3v6h-3zM112.4 258.6h3v6h-3zM106.4 300.6h3v6h-3zM112.4 312.6h3v6h-3zM67.4 330.6h3v6h-3zM118.4 330.6h3v6h-3zM76.4 336.6h3v6h-3zM64.4 342.6h3v6h-3zM79.4 348.6h3v6h-3zM139.4 348.6h3v6h-3zM79.4 354.6h3v6h-3zM139.4 354.6h3v6h-3zM193.4 354.6h3v6h-3zM139.4 360.6h3v6h-3zM169.4 360.6h3v6h-3zM139.4 366.6h3v6h-3zM169.4 366.6h3v6h-3zM139.4 372.6h3v6h-3z"/>
<path fill="#696969" d="M112.4 222.6h3v6h-3zM112.4 228.6h3v6h-3zM112.4 234.6h3v6h-3zM112.4 240.6h3v6h-3zM112.4 246.6h3v6h-3zM112.4 252.6h3v6h-3zM115.4 312.6h3v6h-3zM139.4 330.6h3v6h-3zM139.4 336.6h3v6h-3zM139.4 342.6h3v6h-3zM169.4 342.6h3v6h-3zM199.4 342.6h3v6h-3zM193.4 348.6h3v6h-3zM61.4 360.6h3v6h-3zM79.4 360.6h3v6h-3zM79.4 366.6h3v6h-3zM79.4 372.6h3v6h-3zM169.4 372.6h3v6h-3zM79.4 378.6h3v6h-3zM139.4 378.6h3v6h-3zM139.4 384.6h3v6h-3zM139.4 390.6h3v6h-3zM139.4 396.6h3v6h-3zM139.4 402.6h3v6h-3zM139.4 408.6h3v6h-3zM139.4 414.6h3v6h-3zM139.4 420.6h3v6h-3z"/>
<path fill="#6a6a6a" d="M139.4 312.6h3v6h-3zM112.4 318.6h3v6h-3zM136.4 318.6h6v6h-6zM118.4 324.6h3v6h-3zM136.4 324.6h6v6h-6zM196.4 324.6h3v6h-3zM136.4 330.6h3v6h-3zM136.4 336.6h3v6h-3zM79.4 342.6h3v6h-3zM121.4 342.6h3v6h-3zM136.4 342.6h3v6h-3zM121.4 348.6h3v6h-3zM136.4 348.6h3v6h-3zM136.4 354.6h3v6h-3zM136.4 360.6h3v6h-3zM118.4 366.6h3v6h-3zM169.4 378.6h3v6h-3zM79.4 384.6h3v6h-3zM169.4 384.6h3v6h-3zM58.4 390.6h3v6h-3zM79.4 390.6h3v6h-3zM58.4 396.6h3v6h-3zM79.4 396.6h3v6h-3zM58.4 402.6h3v6h-3zM79.4 402.6h3v6h-3zM58.4 408.6h3v6h-3zM79.4 408.6h3v6h-3zM58.4 414.6h3v6h-3zM79.4 414.6h3v6h-3zM58.4 420.6h3v6h-3zM79.4 420.6h3v6h-3z"/>
<path fill="#6b6b6b" d="M148.4 222.6h3v6h-3zM148.4 228.6h3v6h-3zM148.4 234.6h3v6h-3zM148.4 240.6h3v6h-3zM148.4 246.6h3v6h-3zM148.4 252.6h3v6h-3zM148.4 258.6h3v6h-3zM145.4 264.6h6v6h-6zM145.4 270.6h6v6h-6zM145.4 276.6h6v6h-6zM142.4 282.6h9v6h-9zM136.4 288.6h15v6h-15zM103.4 294.6h3v6h-3zM133.4 294.6h18v6h-18zM133.4 300.6h12v6h-12zM115.4 306.6h3v6h-3zM136.4 306.6h6v6h-6zM109.4 312.6h3v6h-3zM136.4 312.6h3v6h-3zM67.4 324.6h3v6h-3zM73.4 324.6h3v6h-3zM76.4 330.6h3v6h-3zM64.4 336.6h3v6h-3zM166.4 348.6h3v6h-3zM61.4 354.6h3v6h-3zM136.4 366.6h3v6h-3zM136.4 372.6h3v6h-3zM58.4 384.6h3v6h-3zM169.4 390.6h3v6h-3zM169.4 396.6h3v6h-3zM169.4 402.6h3v6h-3zM169.4 408.6h3v6h-3zM169.4 414.6h3v6h-3zM169.4 420.6h3v6h-3z"/>
<path fill="#6c6c6c" d="M142.4 222.6h6v6h-6zM142.4 228.6h6v6h-6zM142.4 234.6h6v6h-6zM142.4 240.6h6v6h-6zM142.4 246.6h6v6h-6zM142.4 252.6h6v6h-6zM139.4 258.6h9v6h-9zM139.4 264.6h6v6h-6zM136.4 270.6h9v6h-9zM133.4 276.6h12v6h-12zM103.4 282.6h3v6h-3zM133.4 282.6h9v6h-9zM103.4 288.6h3v6h-3zM133.4 288.6h3v6h-3zM145.4 300.6h3v6h-3zM133.4 306.6h3v6h-3zM142.4 306.6h3v6h-3zM133.4 312.6h3v6h-3zM70.4 318.6h3v6h-3zM112.4 324.6h3v6h-3zM121.4 336.6h3v6h-3zM169.4 336.6h3v6h-3zM166.4 342.6h3v6h-3zM193.4 342.6h3v6h-3zM166.4 354.6h3v6h-3zM166.4 360.6h3v6h-3zM118.4 372.6h3v6h-3zM136.4 378.6h3v6h-3zM136.4 384.6h3v6h-3zM136.4 390.6h3v6h-3zM136.4 396.6h3v6h-3zM136.4 402.6h3v6h-3zM136.4 408.6h3v6h-3zM136.4 414.6h3v6h-3zM136.4 420.6h3v6h-3z"/>
<path fill="#6d6d6d" d="M136.4 222.6h6v6h-6zM151.4 222.6h3v6h-3zM136.4 228.6h6v6h-6zM151.4 228.6h3v6h-3zM136.4 234.6h6v6h-6zM151.4 234.6h3v6h-3zM136.4 240.6h6v6h-6zM151.4 240.6h3v6h-3zM136.4 246.6h6v6h-6zM151.4 246.6h3v6h-3zM136.4 252.6h6v6h-6zM151.4 252.6h3v6h-3zM133.4 258.6h6v6h-6zM151.4 258.6h3v6h-3zM133.4 264.6h6v6h-6zM151.4 264.6h3v6h-3zM103.4 270.6h3v6h-3zM133.4 270.6h3v6h-3zM151.4 270.6h3v6h-3zM103.4 276.6h3v6h-3zM151.4 276.6h3v6h-3zM151.4 282.6h3v6h-3zM151.4 288.6h3v6h-3zM151.4 294.6h3v6h-3zM115.4 300.6h3v6h-3zM148.4 300.6h3v6h-3zM145.4 306.6h3v6h-3zM142.4 312.6h3v6h-3zM118.4 318.6h3v6h-3zM133.4 318.6h3v6h-3zM142.4 318.6h3v6h-3zM133.4 324.6h3v6h-3zM112.4 330.6h3v6h-3zM79.4 336.6h3v6h-3zM199.4 336.6h3v6h-3zM61.4 348.6h3v6h-3zM166.4 366.6h3v6h-3zM166.4 372.6h3v6h-3zM58.4 378.6h3v6h-3z"/>
<path fill="#6e6e6e" d="M133.4 222.6h3v6h-3zM133.4 228.6h3v6h-3zM133.4 234.6h3v6h-3zM133.4 240.6h3v6h-3zM133.4 246.6h3v6h-3zM133.4 252.6h3v6h-3zM103.4 264.6h3v6h-3zM154.4 288.6h3v6h-3zM154.4 294.6h3v6h-3zM142.4 324.6h3v6h-3zM64.4 330.6h3v6h-3zM121.4 330.6h3v6h-3zM133.4 330.6h3v6h-3zM142.4 330.6h3v6h-3zM133.4 336.6h3v6h-3zM133.4 342.6h3v6h-3zM58.4 372.6h3v6h-3zM166.4 378.6h3v6h-3zM166.4 384.6h3v6h-3z"/>
<path fill="#6f6f6f" d="M103.4 222.6h3v6h-3zM103.4 228.6h3v6h-3zM103.4 234.6h3v6h-3zM103.4 240.6h3v6h-3zM103.4 246.6h3v6h-3zM103.4 252.6h3v6h-3zM103.4 258.6h3v6h-3zM154.4 258.6h3v6h-3zM154.4 264.6h3v6h-3zM154.4 270.6h3v6h-3zM154.4 276.6h3v6h-3zM154.4 282.6h3v6h-3zM115.4 294.6h3v6h-3zM103.4 300.6h3v6h-3zM151.4 300.6h3v6h-3zM106.4 306.6h3v6h-3zM118.4 312.6h3v6h-3zM145.4 312.6h3v6h-3zM67.4 318.6h3v6h-3zM73.4 318.6h3v6h-3zM76.4 324.6h3v6h-3zM169.4 330.6h3v6h-3zM112.4 336.6h3v6h-3zM142.4 336.6h3v6h-3zM166.4 336.6h3v6h-3zM193.4 336.6h3v6h-3zM61.4 342.6h3v6h-3zM82.4 348.6h3v6h-3zM133.4 348.6h3v6h-3zM82.4 354.6h3v6h-3zM121.4 354.6h3v6h-3zM58.4 366.6h3v6h-3zM118.4 378.6h3v6h-3zM166.4 390.6h3v6h-3zM190.4 390.6h3v6h-3zM166.4 396.6h3v6h-3zM190.4 396.6h3v6h-3zM166.4 402.6h3v6h-3zM190.4 402.6h3v6h-3zM166.4 408.6h3v6h-3zM190.4 408.6h3v6h-3zM166.4 414.6h3v6h-3zM190.4 414.6h3v6h-3zM166.4 420.6h3v6h-3zM190.4 420.6h3v6h-3z"/>
<path fill="#707070" d="M154.4 222.6h3v6h-3zM154.4 228.6h3v6h-3zM154.4 234.6h3v6h-3zM154.4 240.6h3v6h-3zM154.4 246.6h3v6h-3zM154.4 252.6h3v6h-3zM130.4 282.6h3v6h-3zM157.4 282.6h3v6h-3zM115.4 288.6h3v6h-3zM130.4 288.6h3v6h-3zM157.4 288.6h3v6h-3zM130.4 294.6h3v6h-3zM157.4 294.6h3v6h-3zM130.4 300.6h3v6h-3zM148.4 306.6h3v6h-3zM70.4 312.6h3v6h-3zM109.4 318.6h3v6h-3zM145.4 318.6h3v6h-3zM196.4 318.6h3v6h-3zM64.4 324.6h3v6h-3zM121.4 324.6h3v6h-3zM79.4 330.6h3v6h-3zM82.4 342.6h3v6h-3zM142.4 342.6h3v6h-3zM163.4 342.6h3v6h-3zM142.4 348.6h3v6h-3zM163.4 348.6h3v6h-3zM133.4 354.6h3v6h-3zM142.4 354.6h3v6h-3zM163.4 354.6h3v6h-3zM82.4 360.6h3v6h-3zM142.4 360.6h3v6h-3zM82.4 366.6h3v6h-3z"/>
<path fill="#717171" d="M130.4 258.6h3v6h-3zM130.4 264.6h3v6h-3zM157.4 264.6h3v6h-3zM130.4 270.6h3v6h-3zM157.4 270.6h3v6h-3zM115.4 276.6h3v6h-3zM130.4 276.6h3v6h-3zM157.4 276.6h3v6h-3zM115.4 282.6h3v6h-3zM118.4 306.6h3v6h-3zM130.4 306.6h3v6h-3zM130.4 312.6h3v6h-3zM166.4 330.6h3v6h-3zM199.4 330.6h3v6h-3zM61.4 336.6h3v6h-3zM163.4 336.6h3v6h-3zM112.4 342.6h3v6h-3zM58.4 360.6h3v6h-3zM133.4 360.6h3v6h-3zM163.4 360.6h3v6h-3zM142.4 366.6h3v6h-3zM163.4 366.6h3v6h-3zM82.4 372.6h3v6h-3zM142.4 372.6h3v6h-3zM82.4 378.6h3v6h-3zM142.4 378.6h3v6h-3zM202.4 378.6h3v6h-3zM118.4 384.6h3v6h-3zM142.4 384.6h3v6h-3zM190.4 384.6h3v6h-3zM202.4 384.6h3v6h-3zM55.4 390.6h3v6h-3zM142.4 390.6h3v6h-3zM202.4 390.6h3v6h-3zM55.4 396.6h3v6h-3zM142.4 396.6h3v6h-3zM202.4 396.6h3v6h-3zM55.4 402.6h3v6h-3zM142.4 402.6h3v6h-3zM202.4 402.6h3v6h-3zM55.4 408.6h3v6h-3zM142.4 408.6h3v6h-3zM202.4 408.6h3v6h-3zM55.4 414.6h3v6h-3zM142.4 414.6h3v6h-3zM202.4 414.6h3v6h-3zM55.4 420.6h3v6h-3zM142.4 420.6h3v6h-3zM202.4 420.6h3v6h-3z"/>
<path fill="#727272" d="M130.4 222.6h3v6h-3zM157.4 222.6h3v6h-3zM130.4 228.6h3v6h-3zM157.4 228.6h3v6h-3zM130.4 234.6h3v6h-3zM157.4 234.6h3v6h-3zM130.4 240.6h3v6h-3zM157.4 240.6h3v6h-3zM130.4 246.6h3v6h-3zM157.4 246.6h3v6h-3zM130.4 252.6h3v6h-3zM157.4 252.6h3v6h-3zM157.4 258.6h3v6h-3zM115.4 270.6h3v6h-3zM100.4 294.6h3v6h-3zM154.4 300.6h6v6h-6zM67.4 312.6h3v6h-3zM76.4 318.6h3v6h-3zM121.4 318.6h3v6h-3zM130.4 318.6h3v6h-3zM130.4 324.6h3v6h-3zM145.4 324.6h3v6h-3zM130.4 330.6h3v6h-3zM163.4 330.6h3v6h-3zM193.4 330.6h3v6h-3zM82.4 336.6h3v6h-3zM112.4 348.6h3v6h-3zM202.4 348.6h3v6h-3zM58.4 354.6h3v6h-3zM112.4 354.6h3v6h-3zM202.4 354.6h3v6h-3zM112.4 360.6h3v6h-3zM202.4 360.6h3v6h-3zM112.4 366.6h3v6h-3zM133.4 366.6h3v6h-3zM202.4 366.6h3v6h-3zM112.4 372.6h3v6h-3zM163.4 372.6h3v6h-3zM202.4 372.6h3v6h-3zM112.4 378.6h3v6h-3zM163.4 378.6h3v6h-3zM190.4 378.6h3v6h-3zM82.4 384.6h3v6h-3zM112.4 384.6h3v6h-3zM163.4 384.6h3v6h-3zM82.4 390.6h3v6h-3zM112.4 390.6h3v6h-3zM82.4 396.6h3v6h-3zM112.4 396.6h3v6h-3zM82.4 402.6h3v6h-3zM112.4 402.6h3v6h-3zM82.4 408.6h3v6h-3zM112.4 408.6h3v6h-3zM82.4 414.6h3v6h-3zM112.4 414.6h3v6h-3zM82.4 420.6h3v6h-3zM112.4 420.6h3v6h-3z"/>
<path fill="#737373" d="M115.4 264.6h3v6h-3zM100.4 288.6h3v6h-3zM160.4 288.6h3v6h-3zM160.4 294.6h3v6h-3zM118.4 300.6h3v6h-3zM73.4 312.6h3v6h-3zM121.4 312.6h3v6h-3zM148.4 312.6h3v6h-3zM64.4 318.6h3v6h-3zM79.4 324.6h3v6h-3zM163.4 324.6h9v6h-9zM61.4 330.6h3v6h-3zM145.4 330.6h3v6h-3zM130.4 336.6h3v6h-3zM130.4 342.6h3v6h-3zM58.4 348.6h3v6h-3zM133.4 372.6h3v6h-3zM55.4 384.6h3v6h-3zM52.4 390.6h3v6h-3zM163.4 390.6h3v6h-3zM52.4 396.6h3v6h-3zM163.4 396.6h3v6h-3zM52.4 402.6h3v6h-3zM163.4 402.6h3v6h-3zM52.4 408.6h3v6h-3zM163.4 408.6h3v6h-3zM52.4 414.6h3v6h-3zM163.4 414.6h3v6h-3zM52.4 420.6h3v6h-3zM163.4 420.6h3v6h-3z"/>
<path fill="#747474" d="M115.4 258.6h3v6h-3zM160.4 264.6h3v6h-3zM160.4 270.6h3v6h-3zM160.4 276.6h3v6h-3zM100.4 282.6h3v6h-3zM160.4 282.6h3v6h-3zM127.4 294.6h3v6h-3zM160.4 300.6h3v6h-3zM70.4 306.6h3v6h-3zM151.4 306.6h3v6h-3zM160.4 306.6h3v6h-3zM163.4 318.6h3v6h-3zM82.4 330.6h3v6h-3zM124.4 336.6h3v6h-3zM124.4 342.6h3v6h-3zM124.4 348.6h3v6h-3zM130.4 348.6h3v6h-3zM121.4 360.6h3v6h-3zM190.4 372.6h3v6h-3zM55.4 378.6h3v6h-3zM133.4 378.6h3v6h-3zM133.4 384.6h3v6h-3zM118.4 390.6h3v6h-3zM205.4 390.6h3v6h-3zM118.4 396.6h3v6h-3zM205.4 396.6h3v6h-3zM118.4 402.6h3v6h-3zM205.4 402.6h3v6h-3zM118.4 408.6h3v6h-3zM205.4 408.6h3v6h-3zM118.4 414.6h3v6h-3zM205.4 414.6h3v6h-3zM118.4 420.6h3v6h-3zM205.4 420.6h3v6h-3z"/>
<path fill="#757575" d="M115.4 222.6h3v6h-3zM127.4 222.6h3v6h-3zM160.4 222.6h3v6h-3zM115.4 228.6h3v6h-3zM127.4 228.6h3v6h-3zM160.4 228.6h3v6h-3zM115.4 234.6h3v6h-3zM127.4 234.6h3v6h-3zM160.4 234.6h3v6h-3zM115.4 240.6h3v6h-3zM127.4 240.6h3v6h-3zM160.4 240.6h3v6h-3zM115.4 246.6h3v6h-3zM127.4 246.6h3v6h-3zM160.4 246.6h3v6h-3zM115.4 252.6h3v6h-3zM127.4 252.6h3v6h-3zM160.4 252.6h3v6h-3zM127.4 258.6h3v6h-3zM160.4 258.6h3v6h-3zM127.4 264.6h3v6h-3zM127.4 270.6h3v6h-3zM100.4 276.6h3v6h-3zM127.4 276.6h3v6h-3zM127.4 282.6h3v6h-3zM118.4 288.6h3v6h-3zM127.4 288.6h3v6h-3zM118.4 294.6h3v6h-3zM100.4 300.6h3v6h-3zM127.4 300.6h3v6h-3zM121.4 306.6h3v6h-3zM127.4 306.6h3v6h-3zM106.4 312.6h3v6h-3zM160.4 312.6h6v6h-6zM196.4 312.6h3v6h-3zM79.4 318.6h3v6h-3zM166.4 318.6h3v6h-3zM61.4 324.6h3v6h-3zM109.4 324.6h3v6h-3zM124.4 330.6h3v6h-3zM145.4 336.6h3v6h-3zM58.4 342.6h3v6h-3zM202.4 342.6h3v6h-3zM85.4 348.6h3v6h-3zM190.4 366.6h3v6h-3zM55.4 372.6h3v6h-3zM205.4 378.6h3v6h-3zM205.4 384.6h3v6h-3zM49.4 390.6h3v6h-3zM133.4 390.6h3v6h-3zM49.4 396.6h3v6h-3zM208.4 396.6h15v6h-15zM49.4 402.6h3v6h-3zM208.4 402.6h15v6h-15zM49.4 408.6h3v6h-3zM208.4 408.6h15v6h-15zM49.4 414.6h3v6h-3zM208.4 414.6h15v6h-15zM49.4 420.6h3v6h-3zM208.4 420.6h15v6h-15z"/>
<path fill="#767676" d="M118.4 264.6h3v6h-3zM118.4 270.6h3v6h-3zM118.4 276.6h3v6h-3zM118.4 282.6h3v6h-3zM67.4 306.6h3v6h-3zM157.4 306.6h3v6h-3zM163.4 306.6h3v6h-3zM64.4 312.6h3v6h-3zM76.4 312.6h3v6h-3zM127.4 312.6h3v6h-3zM127.4 318.6h3v6h-3zM160.4 318.6h3v6h-3zM169.4 318.6h3v6h-3zM82.4 324.6h3v6h-3zM124.4 324.6h3v6h-3zM193.4 324.6h3v6h-3zM199.4 324.6h3v6h-3zM58.4 336.6h3v6h-3zM85.4 342.6h3v6h-3zM145.4 342.6h3v6h-3zM85.4 354.6h3v6h-3zM130.4 354.6h3v6h-3zM85.4 360.6h3v6h-3zM85.4 366.6h3v6h-3zM85.4 372.6h3v6h-3zM205.4 372.6h3v6h-3zM85.4 378.6h3v6h-3zM52.4 384.6h3v6h-3zM85.4 384.6h3v6h-3zM85.4 390.6h3v6h-3zM208.4 390.6h15v6h-15zM46.4 396.6h3v6h-3zM85.4 396.6h3v6h-3zM133.4 396.6h3v6h-3zM46.4 402.6h3v6h-3zM85.4 402.6h3v6h-3zM133.4 402.6h3v6h-3zM46.4 408.6h3v6h-3zM85.4 408.6h3v6h-3zM133.4 408.6h3v6h-3zM46.4 414.6h3v6h-3zM85.4 414.6h3v6h-3zM133.4 414.6h3v6h-3zM46.4 420.6h3v6h-3zM85.4 420.6h3v6h-3zM133.4 420.6h3v6h-3z"/>
<path fill="#777777" d="M118.4 222.6h3v6h-3zM118.4 228.6h3v6h-3zM118.4 234.6h3v6h-3zM118.4 240.6h3v6h-3zM118.4 246.6h3v6h-3zM118.4 252.6h3v6h-3zM118.4 258.6h3v6h-3zM100.4 270.6h3v6h-3zM163.4 288.6h3v6h-3zM163.4 294.6h3v6h-3zM121.4 300.6h3v6h-3zM163.4 300.6h3v6h-3zM73.4 306.6h3v6h-3zM103.4 306.6h3v6h-3zM124.4 312.6h3v6h-3zM166.4 312.6h3v6h-3zM61.4 318.6h3v6h-3zM124.4 318.6h3v6h-3zM148.4 318.6h3v6h-3zM127.4 324.6h3v6h-3zM160.4 324.6h3v6h-3zM127.4 330.6h3v6h-3zM85.4 336.6h3v6h-3zM124.4 354.6h3v6h-3zM130.4 360.6h3v6h-3zM190.4 360.6h3v6h-3zM55.4 366.6h3v6h-3zM205.4 366.6h3v6h-3zM208.4 384.6h15v6h-15zM46.4 390.6h3v6h-3zM172.4 390.6h3v6h-3zM43.4 396.6h3v6h-3zM172.4 396.6h3v6h-3zM43.4 402.6h3v6h-3zM172.4 402.6h3v6h-3zM43.4 408.6h3v6h-3zM172.4 408.6h3v6h-3zM43.4 414.6h3v6h-3zM172.4 414.6h3v6h-3zM43.4 420.6h3v6h-3zM172.4 420.6h3v6h-3z"/>
<path fill="#787878" d="M163.4 222.6h3v6h-3zM163.4 228.6h3v6h-3zM163.4 234.6h3v6h-3zM163.4 240.6h3v6h-3zM163.4 246.6h3v6h-3zM163.4 252.6h3v6h-3zM163.4 258.6h3v6h-3zM100.4 264.6h3v6h-3zM163.4 264.6h3v6h-3zM163.4 270.6h3v6h-3zM163.4 276.6h3v6h-3zM121.4 282.6h3v6h-3zM163.4 282.6h3v6h-3zM121.4 288.6h3v6h-3zM97.4 294.6h3v6h-3zM121.4 294.6h3v6h-3zM64.4 306.6h3v6h-3zM124.4 306.6h3v6h-3zM154.4 306.6h3v6h-3zM79.4 312.6h3v6h-3zM82.4 318.6h3v6h-3zM58.4 330.6h3v6h-3zM160.4 330.6h3v6h-3zM127.4 336.6h3v6h-3zM127.4 342.6h3v6h-3zM145.4 348.6h3v6h-3zM145.4 354.6h3v6h-3zM55.4 360.6h3v6h-3zM145.4 360.6h3v6h-3zM205.4 360.6h3v6h-3zM52.4 378.6h3v6h-3zM208.4 378.6h15v6h-15zM172.4 384.6h3v6h-3zM43.4 390.6h3v6h-3zM40.4 396.6h3v6h-3zM40.4 402.6h3v6h-3zM40.4 408.6h3v6h-3zM40.4 414.6h3v6h-3zM40.4 420.6h3v6h-3z"/>
<path fill="#797979" d="M121.4 222.6h6v6h-6zM121.4 228.6h6v6h-6zM121.4 234.6h6v6h-6zM121.4 240.6h6v6h-6zM121.4 246.6h6v6h-6zM121.4 252.6h6v6h-6zM100.4 258.6h3v6h-3zM121.4 258.6h6v6h-6zM121.4 264.6h6v6h-6zM121.4 270.6h6v6h-6zM121.4 276.6h6v6h-6zM124.4 282.6h3v6h-3zM97.4 288.6h3v6h-3zM124.4 288.6h3v6h-3zM124.4 294.6h3v6h-3zM67.4 300.6h6v6h-6zM97.4 300.6h3v6h-3zM124.4 300.6h3v6h-3zM76.4 306.6h3v6h-3zM166.4 306.6h3v6h-3zM61.4 312.6h3v6h-3zM151.4 312.6h3v6h-3zM157.4 312.6h3v6h-3zM169.4 312.6h3v6h-3zM193.4 318.6h3v6h-3zM58.4 324.6h3v6h-3zM85.4 330.6h3v6h-3zM160.4 336.6h3v6h-3zM202.4 336.6h3v6h-3zM127.4 348.6h3v6h-3zM55.4 354.6h3v6h-3zM190.4 354.6h3v6h-3zM205.4 354.6h3v6h-3zM121.4 366.6h3v6h-3zM130.4 366.6h3v6h-3zM145.4 366.6h3v6h-3zM145.4 372.6h3v6h-3zM145.4 378.6h3v6h-3zM172.4 378.6h3v6h-3zM49.4 384.6h3v6h-3zM187.4 390.6h3v6h-3zM187.4 396.6h3v6h-3zM187.4 402.6h3v6h-3zM187.4 408.6h3v6h-3zM187.4 414.6h3v6h-3zM187.4 420.6h3v6h-3z"/>
<path fill="#7a7a7a" d="M196.4 306.6h3v6h-3zM82.4 312.6h3v6h-3zM199.4 318.6h3v6h-3zM85.4 324.6h3v6h-3zM148.4 324.6h3v6h-3zM109.4 330.6h3v6h-3zM160.4 342.6h3v6h-3zM160.4 348.6h3v6h-3zM190.4 348.6h3v6h-3zM205.4 348.6h3v6h-3zM88.4 360.6h3v6h-3zM124.4 360.6h3v6h-3zM88.4 366.6h3v6h-3zM52.4 372.6h3v6h-3zM88.4 372.6h3v6h-3zM130.4 372.6h3v6h-3zM172.4 372.6h3v6h-3zM208.4 372.6h15v6h-15zM88.4 378.6h3v6h-3zM88.4 384.6h3v6h-3zM145.4 384.6h3v6h-3zM187.4 384.6h3v6h-3zM40.4 390.6h3v6h-3zM88.4 390.6h3v6h-3zM145.4 390.6h3v6h-3zM88.4 396.6h3v6h-3zM145.4 396.6h3v6h-3zM88.4 402.6h3v6h-3zM145.4 402.6h3v6h-3zM88.4 408.6h3v6h-3zM145.4 408.6h3v6h-3zM88.4 414.6h3v6h-3zM145.4 414.6h3v6h-3zM88.4 420.6h3v6h-3zM145.4 420.6h3v6h-3z"/>
<path fill="#7b7b7b" d="M67.4 222.6h3v6h-3zM100.4 222.6h3v6h-3zM67.4 228.6h3v6h-3zM100.4 228.6h3v6h-3zM67.4 234.6h3v6h-3zM100.4 234.6h3v6h-3zM67.4 240.6h3v6h-3zM100.4 240.6h3v6h-3zM67.4 246.6h3v6h-3zM100.4 246.6h3v6h-3zM67.4 252.6h3v6h-3zM100.4 252.6h3v6h-3zM67.4 258.6h3v6h-3zM67.4 264.6h3v6h-3zM67.4 270.6h3v6h-3zM67.4 276.6h3v6h-3zM67.4 282.6h3v6h-3zM97.4 282.6h3v6h-3zM67.4 288.6h3v6h-3zM67.4 294.6h3v6h-3zM64.4 300.6h3v6h-3zM73.4 300.6h3v6h-3zM166.4 300.6h3v6h-3zM61.4 306.6h3v6h-3zM79.4 306.6h3v6h-3zM100.4 306.6h3v6h-3zM58.4 318.6h3v6h-3zM85.4 318.6h3v6h-3zM106.4 318.6h3v6h-3zM88.4 342.6h3v6h-3zM55.4 348.6h3v6h-3zM88.4 348.6h3v6h-3zM88.4 354.6h3v6h-3zM127.4 354.6h3v6h-3zM160.4 354.6h3v6h-3zM160.4 360.6h3v6h-3zM172.4 366.6h3v6h-3zM208.4 366.6h15v6h-15zM187.4 378.6h3v6h-3zM46.4 384.6h3v6h-3z"/>
<path fill="#7c7c7c" d="M64.4 222.6h3v6h-3zM166.4 222.6h3v6h-3zM64.4 228.6h3v6h-3zM166.4 228.6h3v6h-3zM64.4 234.6h3v6h-3zM166.4 234.6h3v6h-3zM64.4 240.6h3v6h-3zM166.4 240.6h3v6h-3zM64.4 246.6h3v6h-3zM166.4 246.6h3v6h-3zM64.4 252.6h3v6h-3zM166.4 252.6h3v6h-3zM64.4 258.6h3v6h-3zM166.4 258.6h3v6h-3zM64.4 264.6h3v6h-3zM166.4 264.6h3v6h-3zM64.4 270.6h3v6h-3zM166.4 270.6h3v6h-3zM64.4 276.6h3v6h-3zM97.4 276.6h3v6h-3zM166.4 276.6h3v6h-3zM64.4 282.6h3v6h-3zM70.4 282.6h3v6h-3zM166.4 282.6h3v6h-3zM64.4 288.6h3v6h-3zM70.4 288.6h3v6h-3zM166.4 288.6h3v6h-3zM64.4 294.6h3v6h-3zM70.4 294.6h3v6h-3zM166.4 294.6h3v6h-3zM76.4 300.6h3v6h-3zM82.4 306.6h3v6h-3zM58.4 312.6h3v6h-3zM85.4 312.6h3v6h-3zM193.4 312.6h3v6h-3zM88.4 330.6h3v6h-3zM88.4 336.6h3v6h-3zM55.4 342.6h3v6h-3zM190.4 342.6h3v6h-3zM172.4 360.6h3v6h-3zM208.4 360.6h15v6h-15zM160.4 366.6h3v6h-3zM160.4 372.6h3v6h-3zM187.4 372.6h3v6h-3zM49.4 378.6h3v6h-3zM130.4 378.6h3v6h-3zM160.4 378.6h3v6h-3z"/>
<path fill="#7d7d7d" d="M70.4 270.6h3v6h-3zM70.4 276.6h3v6h-3zM73.4 294.6h3v6h-3zM61.4 300.6h3v6h-3zM58.4 306.6h3v6h-3zM97.4 306.6h3v6h-3zM169.4 306.6h3v6h-3zM157.4 318.6h3v6h-3zM88.4 324.6h3v6h-3zM148.4 330.6h3v6h-3zM202.4 330.6h3v6h-3zM55.4 336.6h3v6h-3zM190.4 336.6h3v6h-3zM205.4 342.6h3v6h-3zM172.4 354.6h3v6h-3zM127.4 360.6h3v6h-3zM52.4 366.6h3v6h-3zM124.4 366.6h3v6h-3zM187.4 366.6h3v6h-3zM91.4 384.6h3v6h-3zM130.4 384.6h3v6h-3zM160.4 384.6h3v6h-3zM91.4 390.6h3v6h-3zM160.4 390.6h3v6h-3zM37.4 396.6h3v6h-3zM91.4 396.6h3v6h-3zM160.4 396.6h3v6h-3zM37.4 402.6h3v6h-3zM91.4 402.6h3v6h-3zM160.4 402.6h3v6h-3zM37.4 408.6h3v6h-3zM91.4 408.6h3v6h-3zM160.4 408.6h3v6h-3zM37.4 414.6h3v6h-3zM91.4 414.6h3v6h-3zM160.4 414.6h3v6h-3zM37.4 420.6h3v6h-3zM91.4 420.6h3v6h-3zM160.4 420.6h3v6h-3z"/>
<path fill="#7e7e7e" d="M70.4 258.6h3v6h-3zM70.4 264.6h3v6h-3zM97.4 270.6h3v6h-3zM61.4 282.6h3v6h-3zM61.4 288.6h3v6h-3zM73.4 288.6h3v6h-3zM94.4 288.6h3v6h-3zM61.4 294.6h3v6h-3zM94.4 294.6h3v6h-3zM79.4 300.6h6v6h-6zM94.4 300.6h3v6h-3zM85.4 306.6h3v6h-3zM88.4 312.6h3v6h-3zM103.4 312.6h3v6h-3zM199.4 312.6h3v6h-3zM88.4 318.6h3v6h-3zM151.4 318.6h3v6h-3zM55.4 330.6h3v6h-3zM172.4 348.6h3v6h-3zM208.4 354.6h15v6h-15zM187.4 360.6h3v6h-3zM91.4 372.6h3v6h-3zM121.4 372.6h3v6h-3zM91.4 378.6h3v6h-3zM43.4 384.6h3v6h-3zM37.4 390.6h3v6h-3zM130.4 390.6h3v6h-3z"/>
<path fill="#7f7f7f" d="M61.4 222.6h3v6h-3zM70.4 222.6h3v6h-3zM169.4 222.6h3v6h-3zM61.4 228.6h3v6h-3zM70.4 228.6h3v6h-3zM169.4 228.6h3v6h-3zM61.4 234.6h3v6h-3zM70.4 234.6h3v6h-3zM169.4 234.6h3v6h-3zM61.4 240.6h3v6h-3zM70.4 240.6h3v6h-3zM169.4 240.6h3v6h-3zM61.4 246.6h3v6h-3zM70.4 246.6h3v6h-3zM169.4 246.6h3v6h-3zM61.4 252.6h3v6h-3zM70.4 252.6h3v6h-3zM169.4 252.6h3v6h-3zM61.4 258.6h3v6h-3zM61.4 264.6h3v6h-3zM97.4 264.6h3v6h-3zM61.4 270.6h3v6h-3zM61.4 276.6h3v6h-3zM73.4 276.6h3v6h-3zM73.4 282.6h3v6h-3zM94.4 282.6h3v6h-3zM76.4 288.6h3v6h-3zM76.4 294.6h3v6h-3zM58.4 300.6h3v6h-3zM85.4 300.6h6v6h-6zM196.4 300.6h3v6h-3zM88.4 306.6h3v6h-3zM94.4 306.6h3v6h-3zM154.4 312.6h3v6h-3zM55.4 324.6h3v6h-3zM190.4 330.6h3v6h-3zM109.4 336.6h3v6h-3zM172.4 342.6h3v6h-3zM208.4 348.6h15v6h-15zM91.4 354.6h3v6h-3zM187.4 354.6h3v6h-3zM52.4 360.6h3v6h-3zM91.4 360.6h3v6h-3zM91.4 366.6h3v6h-3zM127.4 366.6h3v6h-3zM49.4 372.6h3v6h-3zM130.4 396.6h3v6h-3zM130.4 402.6h3v6h-3zM130.4 408.6h3v6h-3zM130.4 414.6h3v6h-3zM130.4 420.6h3v6h-3z"/>
<path fill="#808080" d="M97.4 258.6h3v6h-3zM169.4 258.6h3v6h-3zM169.4 264.6h3v6h-3zM73.4 270.6h3v6h-3zM94.4 270.6h3v6h-3zM169.4 270.6h3v6h-3zM76.4 276.6h3v6h-3zM94.4 276.6h3v6h-3zM58.4 282.6h3v6h-3zM76.4 282.6h18v6h-18zM58.4 288.6h3v6h-3zM79.4 288.6h15v6h-15zM58.4 294.6h3v6h-3zM79.4 294.6h15v6h-15zM91.4 300.6h3v6h-3zM169.4 300.6h3v6h-3zM91.4 306.6h3v6h-3zM193.4 306.6h3v6h-3zM91.4 312.6h9v6h-9zM55.4 318.6h3v6h-3zM91.4 318.6h3v6h-3zM91.4 324.6h3v6h-3zM202.4 324.6h3v6h-3zM91.4 330.6h3v6h-3zM91.4 336.6h3v6h-3zM148.4 336.6h3v6h-3zM205.4 336.6h3v6h-3zM91.4 342.6h3v6h-3zM91.4 348.6h3v6h-3zM187.4 348.6h3v6h-3zM127.4 372.6h3v6h-3zM46.4 378.6h3v6h-3zM40.4 384.6h3v6h-3zM25.4 390.6h12v6h-12zM25.4 396.6h12v6h-12zM25.4 402.6h12v6h-12zM25.4 408.6h12v6h-12zM25.4 414.6h12v6h-12zM25.4 420.6h12v6h-12z"/>
<path fill="#818181" d="M73.4 258.6h3v6h-3zM94.4 258.6h3v6h-3zM58.4 264.6h3v6h-3zM73.4 264.6h24v6h-24zM58.4 270.6h3v6h-3zM76.4 270.6h18v6h-18zM58.4 276.6h3v6h-3zM79.4 276.6h15v6h-15zM169.4 276.6h3v6h-3zM169.4 282.6h3v6h-3zM169.4 288.6h3v6h-3zM55.4 312.6h3v6h-3zM100.4 312.6h3v6h-3zM94.4 318.6h3v6h-3zM94.4 324.6h3v6h-3zM157.4 324.6h3v6h-3zM190.4 324.6h3v6h-3zM172.4 336.6h3v6h-3zM52.4 354.6h3v6h-3zM124.4 372.6h3v6h-3z"/>
<path fill="#828282" d="M58.4 222.6h3v6h-3zM73.4 222.6h27v6h-27zM58.4 228.6h3v6h-3zM73.4 228.6h27v6h-27zM58.4 234.6h3v6h-3zM73.4 234.6h27v6h-27zM58.4 240.6h3v6h-3zM73.4 240.6h27v6h-27zM58.4 246.6h3v6h-3zM73.4 246.6h27v6h-27zM58.4 252.6h3v6h-3zM73.4 252.6h27v6h-27zM58.4 258.6h3v6h-3zM76.4 258.6h18v6h-18zM169.4 294.6h3v6h-3zM196.4 294.6h3v6h-3zM55.4 306.6h3v6h-3zM190.4 318.6h3v6h-3zM106.4 324.6h3v6h-3zM151.4 324.6h3v6h-3zM94.4 330.6h3v6h-3zM172.4 330.6h3v6h-3zM187.4 342.6h3v6h-3zM208.4 342.6h15v6h-15zM49.4 366.6h3v6h-3zM127.4 378.6h3v6h-3zM184.4 390.6h3v6h-3zM184.4 396.6h3v6h-3zM184.4 402.6h3v6h-3zM184.4 408.6h3v6h-3zM184.4 414.6h3v6h-3zM184.4 420.6h3v6h-3z"/>
<path fill="#838383" d="M172.4 222.6h3v6h-3zM172.4 228.6h3v6h-3zM172.4 234.6h3v6h-3zM172.4 240.6h3v6h-3zM172.4 246.6h3v6h-3zM172.4 252.6h3v6h-3zM196.4 288.6h3v6h-3zM55.4 300.6h3v6h-3zM193.4 300.6h3v6h-3zM199.4 306.6h3v6h-3zM97.4 318.6h3v6h-3zM172.4 324.6h3v6h-3zM205.4 330.6h3v6h-3zM94.4 336.6h3v6h-3zM187.4 336.6h3v6h-3zM148.4 342.6h3v6h-3zM52.4 348.6h3v6h-3zM43.4 378.6h3v6h-3zM121.4 378.6h3v6h-3zM37.4 384.6h3v6h-3zM175.4 390.6h3v6h-3zM175.4 396.6h3v6h-3zM175.4 402.6h3v6h-3zM175.4 408.6h3v6h-3zM175.4 414.6h3v6h-3zM175.4 420.6h3v6h-3z"/>
<path fill="#848484" d="M172.4 258.6h3v6h-3zM172.4 264.6h3v6h-3zM196.4 276.6h3v6h-3zM55.4 282.6h3v6h-3zM196.4 282.6h3v6h-3zM55.4 288.6h3v6h-3zM55.4 294.6h3v6h-3zM190.4 312.6h3v6h-3zM172.4 318.6h3v6h-3zM202.4 318.6h3v6h-3zM187.4 330.6h3v6h-3zM52.4 342.6h3v6h-3zM94.4 342.6h3v6h-3zM94.4 348.6h3v6h-3zM46.4 372.6h3v6h-3zM124.4 378.6h3v6h-3zM127.4 384.6h3v6h-3zM184.4 384.6h3v6h-3z"/>
<path fill="#858585" d="M175.4 222.6h6v6h-6zM175.4 228.6h6v6h-6zM175.4 234.6h6v6h-6zM175.4 240.6h6v6h-6zM175.4 246.6h6v6h-6zM175.4 252.6h6v6h-6zM55.4 264.6h3v6h-3zM55.4 270.6h3v6h-3zM172.4 270.6h3v6h-3zM196.4 270.6h3v6h-3zM55.4 276.6h3v6h-3zM193.4 288.6h3v6h-3zM193.4 294.6h3v6h-3zM190.4 306.6h3v6h-3zM172.4 312.6h3v6h-3zM154.4 318.6h3v6h-3zM187.4 324.6h3v6h-3zM52.4 330.6h3v6h-3zM157.4 330.6h3v6h-3zM52.4 336.6h3v6h-3zM208.4 336.6h15v6h-15zM109.4 342.6h3v6h-3zM94.4 354.6h3v6h-3zM94.4 360.6h3v6h-3zM94.4 366.6h3v6h-3zM94.4 372.6h3v6h-3zM94.4 378.6h3v6h-3zM184.4 378.6h3v6h-3zM25.4 384.6h12v6h-12z"/>
<path fill="#868686" d="M55.4 222.6h3v6h-3zM181.4 222.6h6v6h-6zM55.4 228.6h3v6h-3zM181.4 228.6h6v6h-6zM55.4 234.6h3v6h-3zM181.4 234.6h6v6h-6zM55.4 240.6h3v6h-3zM181.4 240.6h6v6h-6zM55.4 246.6h3v6h-3zM181.4 246.6h6v6h-6zM55.4 252.6h3v6h-3zM181.4 252.6h6v6h-6zM55.4 258.6h3v6h-3zM175.4 258.6h9v6h-9zM196.4 258.6h3v6h-3zM175.4 264.6h3v6h-3zM196.4 264.6h3v6h-3zM193.4 270.6h3v6h-3zM172.4 276.6h3v6h-3zM193.4 276.6h3v6h-3zM172.4 282.6h3v6h-3zM193.4 282.6h3v6h-3zM172.4 306.6h3v6h-3zM52.4 312.6h3v6h-3zM52.4 318.6h3v6h-3zM103.4 318.6h3v6h-3zM187.4 318.6h3v6h-3zM52.4 324.6h3v6h-3zM148.4 348.6h3v6h-3zM148.4 354.6h3v6h-3zM49.4 360.6h3v6h-3zM184.4 372.6h3v6h-3zM40.4 378.6h3v6h-3zM94.4 384.6h3v6h-3zM175.4 384.6h3v6h-3zM94.4 390.6h3v6h-3zM127.4 390.6h3v6h-3zM94.4 396.6h3v6h-3zM127.4 396.6h3v6h-3zM94.4 402.6h3v6h-3zM127.4 402.6h3v6h-3zM94.4 408.6h3v6h-3zM127.4 408.6h3v6h-3zM94.4 414.6h3v6h-3zM127.4 414.6h3v6h-3zM94.4 420.6h3v6h-3zM127.4 420.6h3v6h-3z"/>
<path fill="#878787" d="M187.4 222.6h12v6h-12zM187.4 228.6h12v6h-12zM187.4 234.6h12v6h-12zM187.4 240.6h12v6h-12zM187.4 246.6h12v6h-12zM187.4 252.6h12v6h-12zM184.4 258.6h12v6h-12zM178.4 264.6h9v6h-9zM190.4 264.6h6v6h-6zM175.4 270.6h9v6h-9zM190.4 270.6h3v6h-3zM172.4 288.6h3v6h-3zM172.4 294.6h3v6h-3zM52.4 300.6h3v6h-3zM172.4 300.6h3v6h-3zM190.4 300.6h3v6h-3zM199.4 300.6h3v6h-3zM52.4 306.6h3v6h-3zM187.4 312.6h3v6h-3zM100.4 318.6h3v6h-3zM97.4 324.6h3v6h-3zM205.4 324.6h3v6h-3zM151.4 330.6h3v6h-3zM148.4 360.6h3v6h-3zM148.4 366.6h3v6h-3zM184.4 366.6h3v6h-3zM124.4 384.6h3v6h-3z"/>
<path fill="#888888" d="M187.4 264.6h3v6h-3zM184.4 270.6h6v6h-6zM175.4 276.6h18v6h-18zM52.4 282.6h3v6h-3zM175.4 282.6h9v6h-9zM190.4 282.6h3v6h-3zM52.4 288.6h3v6h-3zM190.4 288.6h3v6h-3zM52.4 294.6h3v6h-3zM190.4 294.6h3v6h-3zM187.4 306.6h3v6h-3zM202.4 312.6h3v6h-3zM106.4 330.6h3v6h-3zM208.4 330.6h15v6h-15zM109.4 348.6h3v6h-3zM109.4 354.6h3v6h-3zM109.4 360.6h3v6h-3zM46.4 366.6h3v6h-3zM109.4 366.6h3v6h-3zM43.4 372.6h3v6h-3zM109.4 372.6h3v6h-3zM148.4 372.6h3v6h-3zM37.4 378.6h3v6h-3zM109.4 378.6h3v6h-3zM148.4 378.6h3v6h-3zM109.4 384.6h3v6h-3zM121.4 384.6h3v6h-3zM109.4 390.6h3v6h-3zM109.4 396.6h3v6h-3zM181.4 396.6h3v6h-3zM109.4 402.6h3v6h-3zM181.4 402.6h3v6h-3zM109.4 408.6h3v6h-3zM181.4 408.6h3v6h-3zM109.4 414.6h3v6h-3zM181.4 414.6h3v6h-3zM109.4 420.6h3v6h-3zM181.4 420.6h3v6h-3z"/>
<path fill="#898989" d="M52.4 264.6h3v6h-3zM52.4 270.6h3v6h-3zM52.4 276.6h3v6h-3zM184.4 282.6h6v6h-6zM175.4 288.6h15v6h-15zM175.4 294.6h9v6h-9zM187.4 300.6h3v6h-3zM157.4 336.6h3v6h-3zM49.4 354.6h3v6h-3zM184.4 360.6h3v6h-3zM25.4 378.6h12v6h-12zM175.4 378.6h3v6h-3zM148.4 384.6h3v6h-3zM148.4 390.6h3v6h-3zM181.4 390.6h3v6h-3zM148.4 396.6h3v6h-3zM148.4 402.6h3v6h-3zM148.4 408.6h3v6h-3zM148.4 414.6h3v6h-3zM148.4 420.6h3v6h-3z"/>
<path fill="#8a8a8a" d="M52.4 222.6h3v6h-3zM52.4 228.6h3v6h-3zM52.4 234.6h3v6h-3zM52.4 240.6h3v6h-3zM52.4 246.6h3v6h-3zM52.4 252.6h3v6h-3zM52.4 258.6h3v6h-3zM184.4 294.6h6v6h-6zM184.4 300.6h3v6h-3zM184.4 306.6h3v6h-3zM184.4 312.6h3v6h-3zM205.4 318.6h3v6h-3zM97.4 330.6h3v6h-3zM184.4 354.6h3v6h-3zM124.4 390.6h3v6h-3z"/>
<path fill="#8b8b8b" d="M199.4 294.6h3v6h-3zM175.4 300.6h3v6h-3zM181.4 300.6h3v6h-3zM202.4 306.6h3v6h-3zM184.4 318.6h3v6h-3zM154.4 324.6h3v6h-3zM184.4 324.6h3v6h-3zM208.4 324.6h15v6h-15zM184.4 330.6h3v6h-3zM184.4 336.6h3v6h-3zM184.4 348.6h3v6h-3zM124.4 396.6h3v6h-3zM124.4 402.6h3v6h-3zM124.4 408.6h3v6h-3zM124.4 414.6h3v6h-3zM124.4 420.6h3v6h-3z"/>
<path fill="#8c8c8c" d="M175.4 306.6h3v6h-3zM100.4 324.6h3v6h-3zM151.4 336.6h3v6h-3zM157.4 342.6h3v6h-3zM184.4 342.6h3v6h-3zM49.4 348.6h3v6h-3zM46.4 360.6h3v6h-3zM175.4 372.6h3v6h-3zM181.4 384.6h3v6h-3z"/>
<path fill="#8d8d8d" d="M199.4 288.6h3v6h-3zM178.4 300.6h3v6h-3zM103.4 324.6h3v6h-3zM25.4 372.6h18v6h-18zM121.4 390.6h3v6h-3z"/>
<path fill="#8e8e8e" d="M181.4 306.6h3v6h-3zM175.4 312.6h3v6h-3zM205.4 312.6h3v6h-3zM208.4 318.6h15v6h-15zM49.4 336.6h3v6h-3zM97.4 336.6h3v6h-3zM106.4 336.6h3v6h-3zM49.4 342.6h3v6h-3zM43.4 366.6h3v6h-3zM121.4 396.6h3v6h-3zM178.4 396.6h3v6h-3zM121.4 402.6h3v6h-3zM178.4 402.6h3v6h-3zM121.4 408.6h3v6h-3zM178.4 408.6h3v6h-3zM121.4 414.6h3v6h-3zM178.4 414.6h3v6h-3zM121.4 420.6h3v6h-3zM178.4 420.6h3v6h-3z"/>
<path fill="#8f8f8f" d="M202.4 300.6h3v6h-3zM49.4 324.6h3v6h-3zM49.4 330.6h3v6h-3zM157.4 348.6h3v6h-3zM175.4 366.6h3v6h-3zM181.4 378.6h3v6h-3zM178.4 390.6h3v6h-3z"/>
<path fill="#909090" d="M199.4 282.6h3v6h-3zM181.4 312.6h3v6h-3zM49.4 318.6h3v6h-3zM175.4 318.6h3v6h-3zM157.4 354.6h3v6h-3zM157.4 360.6h3v6h-3z"/>
<path fill="#919191" d="M49.4 306.6h3v6h-3zM178.4 306.6h3v6h-3zM205.4 306.6h3v6h-3zM49.4 312.6h3v6h-3zM208.4 312.6h15v6h-15zM154.4 330.6h3v6h-3zM97.4 342.6h3v6h-3zM151.4 342.6h3v6h-3zM46.4 354.6h3v6h-3zM25.4 366.6h12v6h-12zM157.4 366.6h3v6h-3zM157.4 372.6h3v6h-3z"/>
<path fill="#929292" d="M199.4 276.6h3v6h-3zM49.4 288.6h3v6h-3zM49.4 294.6h3v6h-3zM202.4 294.6h3v6h-3zM49.4 300.6h3v6h-3zM175.4 324.6h3v6h-3zM100.4 330.6h3v6h-3zM175.4 360.6h3v6h-3zM37.4 366.6h3v6h-3zM181.4 372.6h3v6h-3zM157.4 378.6h3v6h-3z"/>
<path fill="#939393" d="M49.4 222.6h3v6h-3zM49.4 228.6h3v6h-3zM49.4 234.6h3v6h-3zM49.4 240.6h3v6h-3zM49.4 246.6h3v6h-3zM49.4 252.6h3v6h-3zM49.4 258.6h3v6h-3zM49.4 264.6h3v6h-3zM49.4 270.6h3v6h-3zM49.4 276.6h3v6h-3zM49.4 282.6h3v6h-3zM181.4 318.6h3v6h-3zM175.4 330.6h3v6h-3zM43.4 360.6h3v6h-3zM40.4 366.6h3v6h-3zM157.4 384.6h3v6h-3zM157.4 390.6h3v6h-3zM157.4 396.6h3v6h-3zM157.4 402.6h3v6h-3zM157.4 408.6h3v6h-3zM157.4 414.6h3v6h-3zM157.4 420.6h3v6h-3z"/>
<path fill="#949494" d="M205.4 300.6h3v6h-3zM208.4 306.6h15v6h-15zM103.4 330.6h3v6h-3zM97.4 348.6h3v6h-3zM151.4 348.6h3v6h-3zM175.4 354.6h3v6h-3zM178.4 384.6h3v6h-3z"/>
<path fill="#959595" d="M199.4 270.6h3v6h-3zM175.4 336.6h3v6h-3zM106.4 342.6h3v6h-3zM46.4 348.6h3v6h-3zM97.4 354.6h3v6h-3zM151.4 354.6h3v6h-3zM25.4 360.6h12v6h-12zM181.4 366.6h3v6h-3z"/>
<path fill="#969696" d="M202.4 288.6h3v6h-3zM178.4 312.6h3v6h-3zM181.4 324.6h3v6h-3zM37.4 360.6h3v6h-3zM97.4 360.6h3v6h-3zM151.4 360.6h3v6h-3zM151.4 366.6h3v6h-3z"/>
<path fill="#979797" d="M205.4 294.6h3v6h-3zM208.4 300.6h15v6h-15zM46.4 342.6h3v6h-3zM175.4 342.6h3v6h-3zM175.4 348.6h3v6h-3zM97.4 366.6h3v6h-3zM151.4 372.6h3v6h-3zM151.4 378.6h3v6h-3z"/>
<path fill="#989898" d="M199.4 264.6h3v6h-3zM46.4 330.6h3v6h-3zM181.4 330.6h3v6h-3zM46.4 336.6h3v6h-3zM100.4 336.6h3v6h-3zM154.4 336.6h3v6h-3zM97.4 372.6h3v6h-3zM151.4 384.6h3v6h-3zM151.4 390.6h3v6h-3zM151.4 396.6h3v6h-3zM151.4 402.6h3v6h-3zM151.4 408.6h3v6h-3zM151.4 414.6h3v6h-3zM151.4 420.6h3v6h-3z"/>
<path fill="#999999" d="M208.4 222.6h15v6h-15zM208.4 228.6h15v6h-15zM208.4 234.6h15v6h-15zM208.4 240.6h15v6h-15zM208.4 246.6h15v6h-15zM208.4 252.6h15v6h-15zM208.4 258.6h15v6h-15zM208.4 264.6h15v6h-15zM208.4 270.6h15v6h-15zM208.4 276.6h15v6h-15zM202.4 282.6h3v6h-3zM208.4 282.6h15v6h-15zM205.4 288.6h18v6h-18zM208.4 294.6h15v6h-15zM46.4 324.6h3v6h-3zM25.4 354.6h12v6h-12zM43.4 354.6h3v6h-3zM181.4 360.6h3v6h-3zM97.4 378.6h3v6h-3zM178.4 378.6h3v6h-3z"/>
<path fill="#9a9a9a" d="M199.4 258.6h3v6h-3zM46.4 318.6h3v6h-3zM106.4 348.6h3v6h-3zM106.4 354.6h3v6h-3zM40.4 360.6h3v6h-3zM97.4 384.6h3v6h-3z"/>
<path fill="#9b9b9b" d="M205.4 282.6h3v6h-3zM46.4 306.6h3v6h-3zM46.4 312.6h3v6h-3zM178.4 318.6h3v6h-3zM181.4 336.6h3v6h-3zM37.4 354.6h3v6h-3zM106.4 360.6h3v6h-3zM97.4 390.6h3v6h-3zM97.4 396.6h3v6h-3zM97.4 402.6h3v6h-3zM97.4 408.6h3v6h-3zM97.4 414.6h3v6h-3zM97.4 420.6h3v6h-3z"/>
<path fill="#9c9c9c" d="M205.4 276.6h3v6h-3zM46.4 300.6h3v6h-3zM103.4 336.6h3v6h-3zM181.4 354.6h3v6h-3zM106.4 366.6h3v6h-3z"/>
<path fill="#9d9d9d" d="M46.4 222.6h3v6h-3zM199.4 222.6h3v6h-3zM46.4 228.6h3v6h-3zM199.4 228.6h3v6h-3zM46.4 234.6h3v6h-3zM199.4 234.6h3v6h-3zM46.4 240.6h3v6h-3zM199.4 240.6h3v6h-3zM46.4 246.6h3v6h-3zM199.4 246.6h3v6h-3zM46.4 252.6h3v6h-3zM199.4 252.6h3v6h-3zM46.4 258.6h3v6h-3zM46.4 264.6h3v6h-3zM46.4 270.6h3v6h-3zM46.4 276.6h3v6h-3zM202.4 276.6h3v6h-3zM46.4 282.6h3v6h-3zM46.4 288.6h3v6h-3zM46.4 294.6h3v6h-3zM25.4 348.6h12v6h-12zM106.4 372.6h3v6h-3zM106.4 378.6h3v6h-3z"/>
<path fill="#9e9e9e" d="M205.4 270.6h3v6h-3zM100.4 342.6h3v6h-3zM154.4 342.6h3v6h-3zM181.4 342.6h3v6h-3zM43.4 348.6h3v6h-3zM178.4 372.6h3v6h-3zM106.4 384.6h3v6h-3z"/>
<path fill="#9f9f9f" d="M181.4 348.6h3v6h-3zM106.4 390.6h3v6h-3zM106.4 396.6h3v6h-3zM106.4 402.6h3v6h-3zM106.4 408.6h3v6h-3zM106.4 414.6h3v6h-3zM106.4 420.6h3v6h-3z"/>
<path fill="#a0a0a0" d="M205.4 264.6h3v6h-3zM202.4 270.6h3v6h-3zM178.4 324.6h3v6h-3zM43.4 342.6h3v6h-3zM37.4 348.6h3v6h-3zM40.4 354.6h3v6h-3z"/>
<path fill="#a1a1a1" d="M43.4 336.6h3v6h-3zM25.4 342.6h12v6h-12z"/>
<path fill="#a2a2a2" d="M205.4 258.6h3v6h-3zM43.4 324.6h3v6h-3zM43.4 330.6h3v6h-3zM178.4 366.6h3v6h-3z"/>
<path fill="#a3a3a3" d="M205.4 222.6h3v6h-3zM205.4 228.6h3v6h-3zM205.4 234.6h3v6h-3zM205.4 240.6h3v6h-3zM205.4 246.6h3v6h-3zM205.4 252.6h3v6h-3zM43.4 318.6h3v6h-3zM37.4 342.6h3v6h-3zM103.4 342.6h3v6h-3zM100.4 348.6h3v6h-3zM154.4 348.6h3v6h-3zM100.4 354.6h3v6h-3z"/>
<path fill="#a4a4a4" d="M202.4 264.6h3v6h-3zM43.4 312.6h3v6h-3zM154.4 354.6h3v6h-3zM100.4 360.6h3v6h-3zM154.4 360.6h3v6h-3zM100.4 366.6h3v6h-3z"/>
<path fill="#a5a5a5" d="M43.4 306.6h3v6h-3zM178.4 330.6h3v6h-3zM154.4 366.6h3v6h-3zM100.4 372.6h3v6h-3zM100.4 378.6h3v6h-3z"/>
<path fill="#a6a6a6" d="M43.4 222.6h3v6h-3zM43.4 228.6h3v6h-3zM43.4 234.6h3v6h-3zM43.4 240.6h3v6h-3zM43.4 246.6h3v6h-3zM43.4 252.6h3v6h-3zM43.4 258.6h3v6h-3zM43.4 264.6h3v6h-3zM43.4 270.6h3v6h-3zM43.4 276.6h3v6h-3zM43.4 282.6h3v6h-3zM43.4 288.6h3v6h-3zM43.4 294.6h3v6h-3zM43.4 300.6h3v6h-3zM25.4 336.6h15v6h-15zM40.4 348.6h3v6h-3zM154.4 372.6h3v6h-3zM154.4 378.6h3v6h-3zM100.4 384.6h3v6h-3zM100.4 390.6h3v6h-3zM100.4 396.6h3v6h-3zM100.4 402.6h3v6h-3zM100.4 408.6h3v6h-3zM100.4 414.6h3v6h-3zM100.4 420.6h3v6h-3z"/>
<path fill="#a7a7a7" d="M202.4 258.6h3v6h-3zM178.4 360.6h3v6h-3zM154.4 384.6h3v6h-3z"/>
<path fill="#a8a8a8" d="M154.4 390.6h3v6h-3zM154.4 396.6h3v6h-3zM154.4 402.6h3v6h-3zM154.4 408.6h3v6h-3zM154.4 414.6h3v6h-3zM154.4 420.6h3v6h-3z"/>
<path fill="#a9a9a9" d="M37.4 330.6h3v6h-3zM40.4 336.6h3v6h-3zM178.4 336.6h3v6h-3zM40.4 342.6h3v6h-3zM103.4 348.6h3v6h-3zM103.4 354.6h3v6h-3z"/>
<path fill="#aaaaaa" d="M25.4 330.6h12v6h-12zM40.4 330.6h3v6h-3zM103.4 360.6h3v6h-3zM103.4 366.6h3v6h-3zM103.4 372.6h3v6h-3z"/>
<path fill="#ababab" d="M202.4 222.6h3v6h-3zM202.4 228.6h3v6h-3zM202.4 234.6h3v6h-3zM202.4 240.6h3v6h-3zM202.4 246.6h3v6h-3zM202.4 252.6h3v6h-3zM40.4 318.6h3v6h-3zM40.4 324.6h3v6h-3zM103.4 378.6h3v6h-3zM103.4 384.6h3v6h-3zM103.4 390.6h3v6h-3z"/>
<path fill="#acacac" d="M40.4 312.6h3v6h-3zM37.4 324.6h3v6h-3zM178.4 354.6h3v6h-3zM103.4 396.6h3v6h-3zM103.4 402.6h3v6h-3zM103.4 408.6h3v6h-3zM103.4 414.6h3v6h-3zM103.4 420.6h3v6h-3z"/>
<path fill="#adadad" d="M40.4 300.6h3v6h-3zM40.4 306.6h3v6h-3z"/>
<path fill="#aeaeae" d="M40.4 222.6h3v6h-3zM40.4 228.6h3v6h-3zM40.4 234.6h3v6h-3zM40.4 240.6h3v6h-3zM40.4 246.6h3v6h-3zM40.4 252.6h3v6h-3zM40.4 258.6h3v6h-3zM40.4 264.6h3v6h-3zM40.4 270.6h3v6h-3zM40.4 276.6h3v6h-3zM40.4 282.6h3v6h-3zM40.4 288.6h3v6h-3zM40.4 294.6h3v6h-3zM25.4 324.6h12v6h-12zM178.4 342.6h3v6h-3z"/>
<path fill="#afafaf" d="M37.4 318.6h3v6h-3z"/>
<path fill="#b0b0b0" d="M178.4 348.6h3v6h-3z"/>
<path fill="#b2b2b2" d="M37.4 312.6h3v6h-3zM25.4 318.6h12v6h-12z"/>
<path fill="#b4b4b4" d="M37.4 306.6h3v6h-3z"/>
<path fill="#b7b7b7" d="M37.4 300.6h3v6h-3zM25.4 312.6h12v6h-12z"/>
<path fill="#b9b9b9" d="M37.4 288.6h3v6h-3zM37.4 294.6h3v6h-3z"/>
<path fill="#bababa" d="M37.4 270.6h3v6h-3zM37.4 276.6h3v6h-3zM37.4 282.6h3v6h-3z"/>
<path fill="#bbbbbb" d="M37.4 222.6h3v6h-3zM37.4 228.6h3v6h-3zM37.4 234.6h3v6h-3zM37.4 240.6h3v6h-3zM37.4 246.6h3v6h-3zM37.4 252.6h3v6h-3zM37.4 258.6h3v6h-3zM37.4 264.6h3v6h-3zM25.4 306.6h12v6h-12z"/>
<path fill="#bfbfbf" d="M25.4 300.6h12v6h-12z"/>
<path fill="#c2c2c2" d="M25.4 294.6h12v6h-12z"/>
<path fill="#c3c3c3" d="M25.4 282.6h12v6h-12zM25.4 288.6h12v6h-12z"/>
<path fill="#c4c4c4" d="M25.4 276.6h12v6h-12z"/>
<path fill="#c5c5c5" d="M25.4 264.6h12v6h-12zM25.4 270.6h12v6h-12z"/>
<path fill="#c6c6c6" d="M25.4 258.6h12v6h-12z"/>
<path fill="#c7c7c7" d="M25.4 222.6h12v6h-12zM25.4 228.6h12v6h-12zM25.4 234.6h12v6h-12zM25.4 240.6h12v6h-12zM25.4 246.6h12v6h-12zM25.4 252.6h12v6h-12z"/>
</g>
<g filter="url(#sc)" fill="none" stroke-linecap="round">
<path stroke="#3d3d3d" stroke-width="1.5" d="M70 423l1 -12"/>
<path stroke="#404040" stroke-width="3" d="M68 414l3 -23"/>
<path stroke="#454545" stroke-width="2" d="M69 405l1 -14"/>
<path stroke="#4a4a4a" stroke-width="2.5" d="M111 258l1 -10M195 418l1 -22"/>
<path stroke="#4c4c4c" stroke-width="2.5" d="M65 422l2 -20"/>
<path stroke="#4d4d4d" stroke-width="1.5" d="M73 379l2 -21M73 352l2 -19"/>
<path stroke="#4d4d4d" stroke-width="2" d="M62 393l1 -10"/>
<path stroke="#4e4e4e" stroke-width="2" d="M72 389l2 -24"/>
<path stroke="#4f4f4f" stroke-width="1.5" d="M67 386l2 -32"/>
<path stroke="#4f4f4f" stroke-width="2" d="M69 420l1 -32M65 405l1 -12"/>
<path stroke="#505050" stroke-width="1.5" d="M107 265l2 -17"/>
<path stroke="#515151" stroke-width="2.5" d="M75 379l1 -12M75 385l1 -16"/>
<path stroke="#525252" stroke-width="2" d="M106 286l3 -26"/>
<path stroke="#525252" stroke-width="2.5" d="M137 335l1 -13"/>
<path stroke="#525252" stroke-width="3" d="M196 401l0 -8M75 398l2 -24M196 421l1 -8"/>
<path stroke="#535353" stroke-width="2" d="M196 364l2 -15M69 416l1 -30M60 384l3 -25"/>
<path stroke="#535353" stroke-width="2.5" d="M63 371l1 -12M153 303l1 -13"/>
<path stroke="#545454" stroke-width="1.5" d="M152 276l2 -14"/>
<path stroke="#545454" stroke-width="2" d="M74 366l4 -32"/>
<path stroke="#545454" stroke-width="2.5" d="M171 416l1 -12"/>
<path stroke="#555555" stroke-width="1.5" d="M80 369l2 -21M194 399l1 -25"/>
<path stroke="#555555" stroke-width="2.5" d="M107 314l2 -27M143 252l2 -15M198 380l3 -28M108 253l3 -27"/>
<path stroke="#565656" stroke-width="1.5" d="M116 350l2 -23M132 298l2 -23M116 323l3 -21"/>
<path stroke="#565656" stroke-width="2" d="M135 267l1 -12M136 390l1 -22M144 263l1 -13M195 394l4 -28M198 375l4 -32"/>
<path stroke="#575757" stroke-width="1.5" d="M70 340l1 -10"/>
<path stroke="#575757" stroke-width="2" d="M193 410l3 -28"/>
<path stroke="#575757" stroke-width="2.5" d="M112 334l1 -19"/>
<path stroke="#585858" stroke-width="1.5" d="M77 392l3 -19M118 399l2 -19M136 373l3 -22M106 256l1 -11"/>
<path stroke="#585858" stroke-width="2" d="M138 364l2 -17M202 375l1 -23M202 362l1 -11"/>
<path stroke="#585858" stroke-width="2.5" d="M65 380l1 -12M69 349l1 -17M78 400l1 -8"/>
<path stroke="#585858" stroke-width="3" d="M71 380l2 -18M199 356l1 -17"/>
<path stroke="#595959" stroke-width="1.5" d="M199 393l1 -11M196 355l1 -17M130 298l0 -9M142 365l1 -12"/>
<path stroke="#595959" stroke-width="2" d="M118 357l1 -22"/>
<path stroke="#595959" stroke-width="2.5" d="M141 427l2 -17"/>
<path stroke="#595959" stroke-width="3" d="M110 266l3 -30"/>
<path stroke="#5a5a5a" stroke-width="1.5" d="M130 320l2 -27M111 286l3 -31"/>
<path stroke="#5a5a5a" stroke-width="2" d="M194 411l1 -15M111 261l2 -23M112 330l1 -30"/>
<path stroke="#5a5a5a" stroke-width="2.5" d="M194 401l2 -31M116 389l1 -14M61 428l3 -23"/>
<path stroke="#5b5b5b" stroke-width="2" d="M108 247l1 -9M144 294l1 -19M76 420l3 -20M201 375l2 -23"/>
<path stroke="#5b5b5b" stroke-width="2.5" d="M151 238l1 -11M66 355l2 -22M102 301l1 -15"/>
<path stroke="#5b5b5b" stroke-width="3" d="M199 361l3 -29"/>
<path stroke="#5c5c5c" stroke-width="1.5" d="M120 355l2 -22M132 359l1 -19M73 340l1 -21"/>
<path stroke="#5c5c5c" stroke-width="2" d="M55 407l1 -17M154 276l1 -12"/>
<path stroke="#5c5c5c" stroke-width="2.5" d="M117 349l4 -30M82 370l1 -13"/>
<path stroke="#5c5c5c" stroke-width="3" d="M170 357l1 -10M199 384l3 -25"/>
<path stroke="#5d5d5d" stroke-width="1.5" d="M145 367l1 -14"/>
<path stroke="#5d5d5d" stroke-width="2" d="M64 374l2 -15M139 372l1 -11"/>
<path stroke="#5d5d5d" stroke-width="2.5" d="M120 370l1 -14M116 282l2 -22M171 347l1 -11M108 242l2 -15"/>
<path stroke="#5e5e5e" stroke-width="1.5" d="M80 383l2 -23"/>
<path stroke="#5e5e5e" stroke-width="2" d="M46 420l2 -23M139 408l4 -32"/>
<path stroke="#5e5e5e" stroke-width="2.5" d="M108 285l1 -22M116 331l0 -7"/>
<path stroke="#5f5f5f" stroke-width="1.5" d="M139 422l2 -23M69 333l2 -17M114 332l1 -19M200 355l2 -16M86 424l3 -25"/>
<path stroke="#5f5f5f" stroke-width="2" d="M107 308l2 -29M70 370l2 -26M146 308l4 -32M169 349l2 -14M86 407l3 -26M136 372l3 -20"/>
<path stroke="#5f5f5f" stroke-width="2.5" d="M167 315l1 -10M147 270l4 -28M106 238l2 -16"/>
<path stroke="#5f5f5f" stroke-width="3" d="M105 304l0 -10"/>
<path stroke="#606060" stroke-width="1.5" d="M192 421l3 -33M117 414l3 -31"/>
<path stroke="#606060" stroke-width="2" d="M193 363l1 -11M117 402l1 -12M111 338l2 -13M73 349l3 -27"/>
<path stroke="#606060" stroke-width="2.5" d="M142 252l1 -12M81 360l1 -11M115 389l1 -21"/>
<path stroke="#606060" stroke-width="3" d="M62 374l3 -27"/>
<path stroke="#616161" stroke-width="1.5" d="M122 353l1 -20M138 370l2 -12M104 310l3 -29M121 293l1 -12M63 357l2 -21"/>
<path stroke="#616161" stroke-width="2" d="M121 316l1 -15"/>
<path stroke="#616161" stroke-width="2.5" d="M64 395l4 -30"/>
<path stroke="#616161" stroke-width="3" d="M139 311l0 -8M74 329l0 -7M106 285l2 -32"/>
<path stroke="#626262" stroke-width="1.5" d="M59 346l3 -22M138 268l3 -31M154 295l1 -11M60 383l1 -10M128 307l2 -25"/>
<path stroke="#626262" stroke-width="2" d="M136 314l3 -26M171 355l1 -25M190 418l1 -8M200 347l1 -14M138 335l1 -12M149 272l3 -23"/>
<path stroke="#626262" stroke-width="2.5" d="M50 415l3 -24M200 337l1 -18M81 384l4 -27M134 311l3 -25"/>
<path stroke="#636363" stroke-width="1.5" d="M133 369l3 -28M155 307l2 -30M151 301l1 -9M136 345l3 -28M62 361l3 -24M135 248l1 -25M163 333l2 -23M64 356l2 -30"/>
<path stroke="#636363" stroke-width="2" d="M104 304l1 -13M127 241l1 -13M123 343l1 -16M169 409l2 -31M127 268l4 -27M131 322l4 -33"/>
<path stroke="#636363" stroke-width="2.5" d="M141 378l2 -23M152 260l2 -31M172 382l1 -16M133 383l1 -10M140 335l1 -21M132 274l1 -15"/>
<path stroke="#636363" stroke-width="3" d="M132 251l3 -23M151 311l1 -26"/>
<path stroke="#646464" stroke-width="1.5" d="M142 293l1 -27M135 289l1 -22M136 371l2 -16"/>
<path stroke="#646464" stroke-width="2" d="M150 284l2 -28M132 234l1 -13M139 276l2 -26"/>
<path stroke="#646464" stroke-width="2.5" d="M167 384l3 -26M138 403l2 -18"/>
<path stroke="#646464" stroke-width="3" d="M103 303l2 -28"/>
<path stroke="#656565" stroke-width="1.5" d="M203 425l2 -30M143 302l1 -14"/>
<path stroke="#656565" stroke-width="2" d="M133 321l3 -25M133 356l2 -31M137 379l2 -18M121 285l1 -11M202 397l3 -22M193 399l1 -25"/>
<path stroke="#656565" stroke-width="2.5" d="M138 240l1 -14M141 277l1 -10M144 352l1 -32"/>
<path stroke="#656565" stroke-width="3" d="M67 338l2 -24M142 390l0 -9M71 327l1 -18M141 246l1 -9"/>
<path stroke="#666666" stroke-width="1.5" d="M81 338l1 -10"/>
<path stroke="#666666" stroke-width="2" d="M134 273l2 -12M144 251l1 -19M151 275l3 -32M166 348l2 -16"/>
<path stroke="#666666" stroke-width="2.5" d="M143 247l1 -14M155 295l3 -29M143 387l4 -30M167 403l1 -10"/>
<path stroke="#666666" stroke-width="3" d="M153 294l1 -20M56 418l2 -13M57 406l1 -9"/>
<path stroke="#676767" stroke-width="1.5" d="M137 404l2 -23M152 255l1 -24M104 265l3 -23M128 322l1 -9M166 371l3 -26"/>
<path stroke="#676767" stroke-width="2" d="M81 352l1 -20M202 386l3 -25"/>
<path stroke="#676767" stroke-width="2.5" d="M116 316l3 -28M194 426l4 -29M66 340l1 -18"/>
<path stroke="#686868" stroke-width="1.5" d="M134 378l1 -14M73 322l1 -9M202 424l1 -10"/>
<path stroke="#686868" stroke-width="2" d="M59 394l1 -9M122 353l2 -31M207 428l2 -24M134 374l2 -25"/>
<path stroke="#686868" stroke-width="2.5" d="M157 267l1 -19M116 323l3 -28M166 418l1 -16M130 250l3 -31M158 254l1 -28"/>
<path stroke="#686868" stroke-width="3" d="M153 262l0 -13M153 268l2 -17"/>
<path stroke="#696969" stroke-width="1.5" d="M131 279l3 -22"/>
<path stroke="#696969" stroke-width="2" d="M162 337l2 -24M135 403l1 -19M132 272l1 -19M131 275l1 -11"/>
<path stroke="#696969" stroke-width="2.5" d="M205 412l0 -9"/>
<path stroke="#6a6a6a" stroke-width="1.5" d="M84 390l1 -13M113 407l2 -23"/>
<path stroke="#6a6a6a" stroke-width="2" d="M113 403l2 -21M117 291l1 -13M210 415l2 -16M112 403l4 -32"/>
<path stroke="#6a6a6a" stroke-width="2.5" d="M164 298l1 -12M128 242l1 -12M161 284l3 -28M124 362l1 -27M111 316l2 -18M122 382l1 -28M121 321l2 -20M161 307l3 -19"/>
<path stroke="#6a6a6a" stroke-width="3" d="M79 393l1 -11"/>
<path stroke="#6b6b6b" stroke-width="1.5" d="M123 334l3 -29M61 405l1 -10"/>
<path stroke="#6b6b6b" stroke-width="2" d="M132 384l1 -25M126 287l2 -23M71 315l1 -13M130 341l2 -19M130 250l4 -30"/>
<path stroke="#6b6b6b" stroke-width="2.5" d="M53 425l1 -23M162 271l2 -26"/>
<path stroke="#6b6b6b" stroke-width="3" d="M130 305l3 -23M117 375l1 -14"/>
<path stroke="#6c6c6c" stroke-width="1.5" d="M113 418l2 -21M127 282l2 -15M101 320l2 -28"/>
<path stroke="#6c6c6c" stroke-width="2" d="M134 409l3 -25M161 286l1 -25M102 318l1 -20M129 329l2 -16M85 380l1 -29M88 363l1 -26M127 314l2 -18"/>
<path stroke="#6c6c6c" stroke-width="2.5" d="M164 281l1 -15M112 301l2 -32M161 241l2 -19M206 375l2 -19M84 332l1 -10M87 370l1 -17M205 412l0 -10M110 293l3 -25"/>
<path stroke="#6c6c6c" stroke-width="3" d="M131 259l2 -19"/>
<path stroke="#6d6d6d" stroke-width="1.5" d="M79 374l1 -29M167 320l1 -15M85 374l3 -32M87 345l0 -9"/>
<path stroke="#6d6d6d" stroke-width="2" d="M161 296l1 -15"/>
<path stroke="#6d6d6d" stroke-width="2.5" d="M83 348l3 -28M192 352l1 -20M127 342l3 -28M132 376l2 -18M65 337l1 -28M73 321l1 -18M50 410l1 -25M99 304l1 -9"/>
<path stroke="#6d6d6d" stroke-width="3" d="M134 409l2 -14M64 324l1 -16"/>
<path stroke="#6e6e6e" stroke-width="1.5" d="M109 247l1 -14M165 292l2 -18"/>
<path stroke="#6e6e6e" stroke-width="2" d="M126 348l1 -10M89 372l1 -18M163 292l2 -24M121 314l2 -19M200 363l2 -27M79 324l2 -30M125 241l2 -27"/>
<path stroke="#6e6e6e" stroke-width="2.5" d="M162 324l1 -15M122 319l1 -29M123 338l3 -29M200 407l1 -10"/>
<path stroke="#6e6e6e" stroke-width="3" d="M170 330l1 -19"/>
<path stroke="#6f6f6f" stroke-width="1.5" d="M198 320l1 -15M67 237l1 -13M207 376l1 -13M126 352l1 -15"/>
<path stroke="#6f6f6f" stroke-width="2" d="M50 425l2 -13M68 343l1 -11M80 324l0 -13"/>
<path stroke="#6f6f6f" stroke-width="2.5" d="M165 268l3 -27M128 261l2 -14M88 351l1 -8M46 414l3 -25M119 267l2 -32M163 271l1 -16"/>
<path stroke="#6f6f6f" stroke-width="3" d="M113 369l1 -17M134 410l2 -15M188 400l1 -18"/>
<path stroke="#707070" stroke-width="2" d="M102 241l2 -17M141 393l1 -12M124 257l4 -32M167 243l3 -20M172 363l3 -26"/>
<path stroke="#707070" stroke-width="2.5" d="M196 321l1 -13M173 371l1 -31"/>
<path stroke="#707070" stroke-width="3" d="M121 389l0 -7M208 400l2 -23M153 321l1 -10M109 251l0 -8"/>
<path stroke="#717171" stroke-width="1.5" d="M166 310l1 -12M73 333l2 -12M187 379l3 -19"/>
<path stroke="#717171" stroke-width="2" d="M166 324l3 -23M97 289l2 -25M132 415l2 -14"/>
<path stroke="#717171" stroke-width="2.5" d="M168 336l4 -32M122 269l1 -25M96 295l2 -25"/>
<path stroke="#717171" stroke-width="3" d="M169 240l1 -22M42 410l3 -29"/>
<path stroke="#727272" stroke-width="1.5" d="M68 280l1 -11M147 390l2 -21"/>
<path stroke="#727272" stroke-width="2" d="M65 355l2 -20M163 256l1 -9M206 362l2 -15M101 241l1 -9M70 281l2 -20M195 320l1 -14M69 256l2 -27"/>
<path stroke="#727272" stroke-width="2.5" d="M133 405l1 -12M143 284l0 -9M207 389l3 -30M126 329l2 -29M94 406l1 -11M150 285l1 -10"/>
<path stroke="#737373" stroke-width="1.5" d="M96 314l1 -15M189 386l1 -10M160 359l2 -30M71 244l1 -29M55 370l1 -12"/>
<path stroke="#737373" stroke-width="2" d="M148 295l1 -12M94 418l1 -16"/>
<path stroke="#737373" stroke-width="2.5" d="M167 281l2 -16M154 314l1 -29M89 420l2 -26"/>
<path stroke="#737373" stroke-width="3" d="M71 275l3 -32M173 358l1 -8"/>
<path stroke="#747474" stroke-width="1.5" d="M69 304l2 -18M87 303l3 -23M53 378l0 -11M134 283l3 -32"/>
<path stroke="#747474" stroke-width="2" d="M72 258l1 -22M211 387l1 -32M66 233l1 -8M141 403l1 -32M137 282l3 -25M49 396l3 -33M58 325l4 -27"/>
<path stroke="#747474" stroke-width="2.5" d="M88 293l1 -12M57 319l2 -19"/>
<path stroke="#747474" stroke-width="3" d="M147 358l3 -26M69 303l2 -26M169 322l3 -31"/>
<path stroke="#757575" stroke-width="1.5" d="M168 301l2 -19M85 309l1 -19M117 317l1 -8"/>
<path stroke="#757575" stroke-width="2" d="M65 293l2 -12M187 404l2 -28M128 384l3 -21M35 416l1 -26M97 282l2 -23"/>
<path stroke="#757575" stroke-width="2.5" d="M89 294l2 -31M109 340l1 -13M90 301l3 -24M94 292l2 -21M168 415l2 -30M168 407l1 -11M80 300l1 -8"/>
<path stroke="#757575" stroke-width="3" d="M71 243l1 -9M92 239l2 -23"/>
<path stroke="#767676" stroke-width="1.5" d="M84 306l4 -28M111 391l1 -19"/>
<path stroke="#767676" stroke-width="2" d="M92 336l1 -18M75 306l3 -24M76 285l2 -19"/>
<path stroke="#767676" stroke-width="2.5" d="M168 254l1 -13M126 386l2 -22M85 284l1 -19M131 391l1 -8M86 273l2 -24M170 397l2 -22M65 269l1 -9M142 348l1 -8M90 331l2 -29M133 426l1 -16"/>
<path stroke="#767676" stroke-width="3" d="M168 382l1 -13M143 310l4 -31M131 422l2 -22"/>
<path stroke="#777777" stroke-width="1.5" d="M64 311l4 -31"/>
<path stroke="#777777" stroke-width="2" d="M168 342l1 -16M72 251l3 -29M145 341l2 -32M73 265l2 -18M61 256l2 -25"/>
<path stroke="#777777" stroke-width="2.5" d="M85 285l1 -14M44 388l0 -8M82 286l1 -24"/>
<path stroke="#777777" stroke-width="3" d="M137 420l1 -14M48 392l1 -12M167 362l1 -14M61 308l2 -26"/>
<path stroke="#787878" stroke-width="1.5" d="M75 281l2 -17M44 400l1 -25M54 373l1 -16M52 372l1 -14M132 351l1 -13M185 392l2 -24M111 371l2 -12M135 423l1 -26"/>
<path stroke="#787878" stroke-width="2" d="M120 382l1 -19M156 294l2 -20M82 306l1 -11M73 284l2 -17M150 341l4 -29M115 286l2 -27"/>
<path stroke="#787878" stroke-width="2.5" d="M97 261l1 -11M85 253l1 -11M93 401l2 -15M76 261l1 -12M83 314l2 -18M158 331l0 -9M124 341l1 -9M203 368l0 -9"/>
<path stroke="#787878" stroke-width="3" d="M130 404l3 -25"/>
<path stroke="#797979" stroke-width="1.5" d="M92 318l2 -20M89 257l3 -27"/>
<path stroke="#797979" stroke-width="2" d="M35 416l1 -12M51 372l3 -23M150 341l3 -32M76 275l2 -25M186 350l4 -27M203 334l2 -27M187 376l2 -27M117 282l1 -14"/>
<path stroke="#797979" stroke-width="2.5" d="M174 272l4 -32M82 292l3 -25M89 327l3 -22"/>
<path stroke="#797979" stroke-width="3" d="M76 264l1 -31M189 358l2 -28M170 292l2 -17M94 260l2 -16"/>
<path stroke="#7a7a7a" stroke-width="1.5" d="M144 341l2 -28M176 394l2 -19M60 359l2 -19M130 358l2 -32M144 349l3 -27"/>
<path stroke="#7a7a7a" stroke-width="2" d="M79 259l3 -30M173 297l1 -9M96 256l3 -30"/>
<path stroke="#7a7a7a" stroke-width="2.5" d="M191 313l1 -12M190 336l2 -26M80 299l1 -10M180 272l2 -20M92 261l1 -15M132 310l1 -20"/>
<path stroke="#7a7a7a" stroke-width="3" d="M86 292l1 -7M163 335l2 -25M185 242l2 -23M186 429l2 -21M56 285l2 -12"/>
<path stroke="#7b7b7b" stroke-width="1.5" d="M54 330l1 -18M176 251l2 -32M184 405l1 -25M94 385l2 -26M80 268l2 -19"/>
<path stroke="#7b7b7b" stroke-width="2" d="M93 282l3 -25M178 274l1 -10M176 428l3 -29M76 256l1 -18M149 375l1 -12"/>
<path stroke="#7b7b7b" stroke-width="2.5" d="M93 384l4 -29M195 237l1 -13M131 332l2 -19M191 235l1 -14M86 272l2 -14"/>
<path stroke="#7b7b7b" stroke-width="3" d="M97 349l1 -20M186 415l1 -16"/>
<path stroke="#7c7c7c" stroke-width="1.5" d="M184 424l2 -22M170 308l1 -17M184 265l1 -12M172 288l3 -25M170 313l2 -28"/>
<path stroke="#7c7c7c" stroke-width="2" d="M127 411l2 -17M87 248l4 -32M148 372l3 -20"/>
<path stroke="#7c7c7c" stroke-width="2.5" d="M191 325l1 -10M100 331l1 -17M37 397l3 -20M58 294l1 -19M123 364l1 -11M127 390l0 -12M97 346l2 -31M160 427l2 -24"/>
<path stroke="#7c7c7c" stroke-width="3" d="M119 245l1 -10M158 290l1 -15"/>
<path stroke="#7d7d7d" stroke-width="1.5" d="M100 330l1 -23M143 377l3 -31M94 353l5 -33M174 312l2 -19"/>
<path stroke="#7d7d7d" stroke-width="2" d="M174 318l1 -9M192 266l1 -16M195 275l0 -13"/>
<path stroke="#7d7d7d" stroke-width="2.5" d="M94 394l2 -25M182 252l1 -8M176 295l1 -12"/>
<path stroke="#7d7d7d" stroke-width="3" d="M187 262l1 -14M191 255l3 -24M129 299l2 -21M84 348l3 -26"/>
<path stroke="#7e7e7e" stroke-width="1.5" d="M55 243l2 -30M179 236l2 -12M189 267l2 -26M86 371l3 -23M126 395l2 -14M152 346l2 -33"/>
<path stroke="#7e7e7e" stroke-width="2" d="M55 283l3 -30M129 289l2 -21M190 324l4 -33"/>
<path stroke="#7e7e7e" stroke-width="2.5" d="M205 413l2 -15M47 412l2 -14M206 375l2 -11"/>
<path stroke="#7e7e7e" stroke-width="3" d="M185 315l1 -20M191 294l3 -29M129 330l2 -23"/>
<path stroke="#7f7f7f" stroke-width="1.5" d="M149 414l2 -32M159 235l1 -12"/>
<path stroke="#7f7f7f" stroke-width="2" d="M102 258l1 -10M87 386l2 -27M149 412l1 -15"/>
<path stroke="#7f7f7f" stroke-width="2.5" d="M160 417l1 -8M191 244l3 -22"/>
<path stroke="#7f7f7f" stroke-width="3" d="M107 347l3 -31M161 344l1 -13M184 273l1 -8M191 283l1 -24"/>
<path stroke="#808080" stroke-width="1.5" d="M127 266l1 -10M45 376l2 -12"/>
<path stroke="#808080" stroke-width="2" d="M183 421l1 -15M184 303l1 -13M128 339l0 -13M190 393l3 -25M180 234l1 -10M183 414l1 -13"/>
<path stroke="#808080" stroke-width="2.5" d="M55 370l2 -16M185 294l1 -11"/>
<path stroke="#808080" stroke-width="3" d="M189 315l2 -25M158 342l1 -13"/>
<path stroke="#818181" stroke-width="1.5" d="M173 404l1 -12M188 273l3 -31"/>
<path stroke="#818181" stroke-width="2" d="M193 341l1 -13M194 248l1 -26M150 379l1 -26"/>
<path stroke="#818181" stroke-width="2.5" d="M193 259l1 -23M150 378l1 -12M200 286l1 -9M68 308l1 -15M128 289l1 -24"/>
<path stroke="#818181" stroke-width="3" d="M162 251l1 -11M42 384l2 -18M126 317l1 -17"/>
<path stroke="#828282" stroke-width="1.5" d="M202 320l3 -31M119 247l3 -22M151 361l1 -13"/>
<path stroke="#828282" stroke-width="2" d="M50 355l4 -30M161 318l0 -11M52 296l3 -25"/>
<path stroke="#828282" stroke-width="2.5" d="M33 386l1 -20M162 237l2 -15M160 417l1 -26M185 339l2 -28M54 274l2 -32M120 396l1 -11"/>
<path stroke="#828282" stroke-width="3" d="M195 329l2 -19M67 314l2 -23M185 333l1 -9M174 351l1 -20"/>
<path stroke="#838383" stroke-width="1.5" d="M188 409l1 -10M179 417l4 -31"/>
<path stroke="#838383" stroke-width="2" d="M126 417l2 -15M178 407l2 -16M69 301l3 -24M81 319l1 -16M196 322l2 -18M146 411l2 -30"/>
<path stroke="#838383" stroke-width="2.5" d="M176 300l1 -9"/>
<path stroke="#848484" stroke-width="1.5" d="M148 353l2 -24"/>
<path stroke="#848484" stroke-width="2" d="M70 315l1 -24"/>
<path stroke="#848484" stroke-width="2.5" d="M123 377l2 -19"/>
<path stroke="#848484" stroke-width="3" d="M89 401l2 -23"/>
<path stroke="#858585" stroke-width="1.5" d="M124 261l1 -22M39 395l2 -33M33 392l1 -26"/>
<path stroke="#858585" stroke-width="2" d="M86 344l2 -21M108 349l1 -12"/>
<path stroke="#858585" stroke-width="3" d="M45 373l1 -10"/>
<path stroke="#868686" stroke-width="1.5" d="M103 330l4 -31"/>
<path stroke="#868686" stroke-width="2" d="M209 368l1 -26M168 308l1 -32M109 372l2 -30M179 408l4 -28"/>
<path stroke="#868686" stroke-width="2.5" d="M198 323l1 -23M153 346l0 -11M212 322l1 -11M64 291l2 -31M72 250l1 -23M77 295l3 -30M155 337l1 -12"/>
<path stroke="#868686" stroke-width="3" d="M50 304l2 -24"/>
<path stroke="#878787" stroke-width="1.5" d="M52 273l1 -13M211 321l1 -15M156 347l1 -18M172 319l1 -15M66 255l1 -18M69 268l1 -18M70 249l2 -17"/>
<path stroke="#878787" stroke-width="2" d="M96 313l3 -22M43 407l2 -31M178 321l1 -16M128 376l2 -16"/>
<path stroke="#878787" stroke-width="2.5" d="M53 373l1 -23"/>
<path stroke="#878787" stroke-width="3" d="M111 394l2 -29M52 298l1 -9"/>
<path stroke="#888888" stroke-width="1.5" d="M185 369l1 -16M130 419l1 -10M38 388l1 -29"/>
<path stroke="#888888" stroke-width="2" d="M89 344l3 -25M178 408l3 -27M110 355l1 -13"/>
<path stroke="#888888" stroke-width="2.5" d="M180 420l1 -11"/>
<path stroke="#888888" stroke-width="3" d="M33 381l2 -21M151 395l2 -24"/>
<path stroke="#898989" stroke-width="1.5" d="M50 268l1 -19"/>
<path stroke="#898989" stroke-width="2" d="M81 304l1 -13M171 289l3 -22M109 350l0 -9M108 364l3 -27"/>
<path stroke="#898989" stroke-width="3" d="M77 254l3 -25"/>
<path stroke="#8a8a8a" stroke-width="1.5" d="M79 288l1 -9"/>
<path stroke="#8a8a8a" stroke-width="2" d="M210 362l3 -31M187 354l2 -25M112 397l1 -21"/>
<path stroke="#8a8a8a" stroke-width="2.5" d="M50 253l2 -16"/>
<path stroke="#8b8b8b" stroke-width="1.5" d="M94 303l3 -24M71 245l1 -11M161 383l1 -14"/>
<path stroke="#8b8b8b" stroke-width="2" d="M171 315l1 -9M205 300l1 -13M88 273l1 -21M183 326l1 -9"/>
<path stroke="#8b8b8b" stroke-width="3" d="M72 277l2 -22"/>
<path stroke="#8c8c8c" stroke-width="1.5" d="M172 284l1 -17"/>
<path stroke="#8c8c8c" stroke-width="2" d="M181 268l3 -32"/>
<path stroke="#8c8c8c" stroke-width="2.5" d="M58 287l1 -27"/>
<path stroke="#8d8d8d" stroke-width="1.5" d="M152 360l2 -16M110 347l1 -14M178 404l4 -31"/>
<path stroke="#8d8d8d" stroke-width="2.5" d="M57 294l4 -31M184 276l3 -22"/>
<path stroke="#8e8e8e" stroke-width="1.5" d="M208 285l2 -24"/>
<path stroke="#8e8e8e" stroke-width="2" d="M96 350l1 -18M151 416l3 -25M120 412l2 -22"/>
<path stroke="#8e8e8e" stroke-width="2.5" d="M210 259l2 -18M211 297l4 -32M48 264l3 -23M81 262l1 -9"/>
<path stroke="#8e8e8e" stroke-width="3" d="M186 333l3 -28"/>
<path stroke="#8f8f8f" stroke-width="1.5" d="M183 362l4 -26"/>
<path stroke="#8f8f8f" stroke-width="2" d="M82 239l2 -13M109 423l3 -26M110 415l3 -24M152 344l1 -20"/>
<path stroke="#8f8f8f" stroke-width="2.5" d="M189 329l1 -31M182 251l1 -13"/>
<path stroke="#8f8f8f" stroke-width="3" d="M97 410l3 -21M211 239l3 -20M194 296l1 -15"/>
<path stroke="#909090" stroke-width="1.5" d="M193 293l1 -20"/>
<path stroke="#909090" stroke-width="2" d="M208 288l3 -32M201 296l2 -27M48 345l2 -27M55 298l3 -26M53 301l3 -27M56 261l1 -11"/>
<path stroke="#909090" stroke-width="2.5" d="M128 413l1 -9"/>
<path stroke="#909090" stroke-width="3" d="M48 245l1 -9"/>
<path stroke="#919191" stroke-width="1.5" d="M183 352l2 -15"/>
<path stroke="#919191" stroke-width="2" d="M152 419l3 -23M95 379l2 -18M208 269l3 -21"/>
<path stroke="#919191" stroke-width="2.5" d="M177 355l1 -15"/>
<path stroke="#919191" stroke-width="3" d="M107 392l2 -22"/>
<path stroke="#929292" stroke-width="1.5" d="M208 250l1 -12M43 374l2 -27"/>
<path stroke="#929292" stroke-width="2" d="M175 309l1 -9M210 235l2 -16M110 382l1 -14"/>
<path stroke="#929292" stroke-width="2.5" d="M210 280l2 -17M196 246l1 -16"/>
<path stroke="#939393" stroke-width="1.5" d="M176 364l2 -25"/>
<path stroke="#939393" stroke-width="2" d="M176 364l2 -19M209 295l1 -9"/>
<path stroke="#949494" stroke-width="1.5" d="M206 289l0 -10"/>
<path stroke="#949494" stroke-width="2" d="M32 387l2 -19"/>
<path stroke="#949494" stroke-width="2.5" d="M207 254l2 -15"/>
<path stroke="#959595" stroke-width="1.5" d="M178 380l2 -19"/>
<path stroke="#959595" stroke-width="2.5" d="M47 247l2 -20"/>
<path stroke="#969696" stroke-width="1.5" d="M179 383l3 -32"/>
<path stroke="#969696" stroke-width="2" d="M53 308l0 -9M150 358l2 -17M178 342l2 -28"/>
<path stroke="#969696" stroke-width="3" d="M159 427l2 -17M50 352l1 -28"/>
<path stroke="#979797" stroke-width="2" d="M177 395l2 -12"/>
<path stroke="#979797" stroke-width="2.5" d="M46 287l3 -31"/>
<path stroke="#989898" stroke-width="1.5" d="M205 289l1 -20"/>
<path stroke="#989898" stroke-width="2" d="M150 393l1 -15"/>
<path stroke="#989898" stroke-width="2.5" d="M123 408l1 -9M204 324l3 -23"/>
<path stroke="#989898" stroke-width="3" d="M100 344l1 -15"/>
<path stroke="#999999" stroke-width="2" d="M100 374l1 -10M107 425l2 -19"/>
<path stroke="#999999" stroke-width="2.5" d="M45 273l3 -26M201 234l1 -13M205 283l2 -20"/>
<path stroke="#9a9a9a" stroke-width="2" d="M155 385l3 -31"/>
<path stroke="#9a9a9a" stroke-width="2.5" d="M43 251l4 -29"/>
<path stroke="#9a9a9a" stroke-width="3" d="M155 408l1 -9"/>
<path stroke="#9b9b9b" stroke-width="2" d="M156 402l1 -23M39 364l2 -22"/>
<path stroke="#9b9b9b" stroke-width="2.5" d="M156 417l1 -17"/>
<path stroke="#9c9c9c" stroke-width="1.5" d="M180 368l1 -19M201 261l1 -9M159 338l1 -14"/>
<path stroke="#9c9c9c" stroke-width="2.5" d="M46 247l2 -31M179 352l3 -20"/>
<path stroke="#9d9d9d" stroke-width="1.5" d="M77 266l2 -20"/>
<path stroke="#9d9d9d" stroke-width="2" d="M85 238l0 -12M44 324l1 -8"/>
<path stroke="#9d9d9d" stroke-width="2.5" d="M152 420l2 -14M178 354l2 -28"/>
<path stroke="#9e9e9e" stroke-width="2.5" d="M101 407l2 -17"/>
<path stroke="#9f9f9f" stroke-width="3" d="M43 312l4 -27"/>
<path stroke="#a0a0a0" stroke-width="1.5" d="M89 255l2 -23"/>
<path stroke="#a0a0a0" stroke-width="2" d="M38 342l2 -30M107 376l1 -26"/>
<path stroke="#a0a0a0" stroke-width="2.5" d="M180 346l1 -19M99 378l1 -13"/>
<path stroke="#a1a1a1" stroke-width="1.5" d="M206 300l2 -19M156 406l1 -30"/>
<path stroke="#a1a1a1" stroke-width="2.5" d="M41 355l2 -21M209 262l3 -31"/>
<path stroke="#a2a2a2" stroke-width="1.5" d="M43 270l1 -14"/>
<path stroke="#a2a2a2" stroke-width="2" d="M175 251l3 -23"/>
<path stroke="#a2a2a2" stroke-width="2.5" d="M103 383l3 -32"/>
<path stroke="#a2a2a2" stroke-width="3" d="M105 386l1 -14"/>
<path stroke="#a3a3a3" stroke-width="2" d="M102 362l3 -20"/>
<path stroke="#a4a4a4" stroke-width="1.5" d="M45 362l2 -22"/>
<path stroke="#a4a4a4" stroke-width="2" d="M40 344l3 -28"/>
<path stroke="#a4a4a4" stroke-width="2.5" d="M181 273l2 -14"/>
<path stroke="#a5a5a5" stroke-width="1.5" d="M41 290l4 -30"/>
<path stroke="#a5a5a5" stroke-width="2" d="M156 363l2 -23"/>
<path stroke="#a5a5a5" stroke-width="2.5" d="M127 377l2 -15M182 270l1 -21"/>
<path stroke="#a6a6a6" stroke-width="1.5" d="M156 339l2 -22M189 283l2 -18"/>
<path stroke="#a6a6a6" stroke-width="2.5" d="M40 336l2 -27M47 309l2 -29M40 319l1 -28"/>
<path stroke="#a7a7a7" stroke-width="1.5" d="M104 412l3 -32M50 379l3 -23"/>
<path stroke="#a7a7a7" stroke-width="2" d="M184 254l1 -17M52 288l2 -16"/>
<path stroke="#a7a7a7" stroke-width="2.5" d="M100 375l2 -13M45 301l3 -30M41 236l1 -17M89 257l2 -22M207 264l1 -12"/>
<path stroke="#a8a8a8" stroke-width="1.5" d="M153 412l1 -18M62 233l1 -7"/>
<path stroke="#a8a8a8" stroke-width="2.5" d="M38 322l3 -20M88 233l1 -11"/>
<path stroke="#a9a9a9" stroke-width="1.5" d="M44 291l4 -31"/>
<path stroke="#a9a9a9" stroke-width="2.5" d="M82 277l1 -22"/>
<path stroke="#a9a9a9" stroke-width="3" d="M37 331l1 -13"/>
<path stroke="#aaaaaa" stroke-width="2" d="M154 385l1 -29M46 299l1 -19"/>
<path stroke="#aaaaaa" stroke-width="2.5" d="M190 308l0 -6"/>
<path stroke="#ababab" stroke-width="2" d="M149 420l0 -9"/>
<path stroke="#acacac" stroke-width="1.5" d="M175 397l2 -17"/>
<path stroke="#adadad" stroke-width="2" d="M181 315l2 -15"/>
<path stroke="#adadad" stroke-width="2.5" d="M177 397l3 -22"/>
<path stroke="#aeaeae" stroke-width="2" d="M94 241l0 -8"/>
<path stroke="#aeaeae" stroke-width="2.5" d="M151 373l1 -19"/>
<path stroke="#afafaf" stroke-width="2" d="M159 424l1 -14M33 328l1 -28"/>
<path stroke="#afafaf" stroke-width="2.5" d="M36 328l3 -27M74 249l2 -17"/>
<path stroke="#b0b0b0" stroke-width="2" d="M148 398l1 -10"/>
<path stroke="#b0b0b0" stroke-width="2.5" d="M42 357l3 -29M93 319l1 -9M176 327l0 -6"/>
<path stroke="#b1b1b1" stroke-width="2" d="M161 393l1 -10M90 256l1 -17M191 332l1 -15"/>
<path stroke="#b1b1b1" stroke-width="2.5" d="M124 390l1 -9M104 376l0 -11"/>
<path stroke="#b1b1b1" stroke-width="3" d="M43 317l1 -10"/>
<path stroke="#b2b2b2" stroke-width="2.5" d="M182 271l1 -7"/>
<path stroke="#b3b3b3" stroke-width="1.5" d="M186 294l1 -10"/>
<path stroke="#b4b4b4" stroke-width="2" d="M43 273l1 -19"/>
<path stroke="#b4b4b4" stroke-width="3" d="M40 329l2 -20"/>
<path stroke="#b5b5b5" stroke-width="1.5" d="M195 300l2 -19"/>
<path stroke="#b6b6b6" stroke-width="2" d="M38 272l1 -13"/>
<path stroke="#b6b6b6" stroke-width="2.5" d="M123 393l0 -9"/>
<path stroke="#b7b7b7" stroke-width="2" d="M125 327l0 -1"/>
<path stroke="#b8b8b8" stroke-width="2" d="M35 312l3 -29M199 241l1 -15"/>
<path stroke="#b8b8b8" stroke-width="2.5" d="M151 423l2 -12"/>
<path stroke="#b9b9b9" stroke-width="3" d="M36 306l2 -30"/>
<path stroke="#bbbbbb" stroke-width="1.5" d="M35 246l1 -25M201 291l1 -20"/>
<path stroke="#bcbcbc" stroke-width="2" d="M50 302l1 -9"/>
<path stroke="#bebebe" stroke-width="1.5" d="M209 317l1 -11"/>
<path stroke="#bfbfbf" stroke-width="2.5" d="M109 321l0 -5"/>
<path stroke="#c0c0c0" stroke-width="2" d="M162 252l0 -3M100 380l2 -17"/>
<path stroke="#c1c1c1" stroke-width="2.5" d="M88 289l0 -4"/>
<path stroke="#c3c3c3" stroke-width="2.5" d="M49 292l1 -6"/>
<path stroke="#c4c4c4" stroke-width="2" d="M176 350l1 -14M121 393l0 -3"/>
<path stroke="#c4c4c4" stroke-width="2.5" d="M99 393l2 -16"/>
<path stroke="#c5c5c5" stroke-width="2.5" d="M101 415l1 -7"/>
<path stroke="#c7c7c7" stroke-width="2" d="M82 296l0 -5"/>
<path stroke="#c8c8c8" stroke-width="1.5" d="M33 313l1 -19"/>
<path stroke="#c8c8c8" stroke-width="2.5" d="M32 312l4 -32"/>
<path stroke="#c9c9c9" stroke-width="2" d="M177 267l0 -3"/>
<path stroke="#cbcbcb" stroke-width="1.5" d="M38 294l1 -12M102 374l2 -17"/>
<path stroke="#cbcbcb" stroke-width="2.5" d="M36 318l2 -28"/>
<path stroke="#cdcdcd" stroke-width="2" d="M178 300l0 -3"/>
<path stroke="#cecece" stroke-width="2" d="M100 244l1 -6M56 257l0 -2"/>
<path stroke="#cfcfcf" stroke-width="2" d="M129 412l0 -1"/>
<path stroke="#d0d0d0" stroke-width="2" d="M61 312l0 -6M103 426l2 -16"/>
<path stroke="#d0d0d0" stroke-width="2.5" d="M42 236l1 -7"/>
<path stroke="#d2d2d2" stroke-width="1.5" d="M78 239l1 -6"/>
<path stroke="#d3d3d3" stroke-width="2" d="M205 277l2 -17"/>
<path stroke="#d6d6d6" stroke-width="2" d="M104 355l2 -14M100 414l1 -13"/>
<path stroke="#d6d6d6" stroke-width="2.5" d="M53 264l0 -5"/>
<path stroke="#d9d9d9" stroke-width="2" d="M180 319l0 -4"/>
<path stroke="#dadada" stroke-width="2" d="M109 385l1 -5M48 343l0 -1"/>
<path stroke="#dfdfdf" stroke-width="2" d="M157 358l0 -3"/>
<path stroke="#e0e0e0" stroke-width="2" d="M49 315l0 -5"/>
<path stroke="#e1e1e1" stroke-width="2.5" d="M157 349l0 -4"/>
<path stroke="#e2e2e2" stroke-width="2" d="M40 254l2 -15"/>
<path stroke="#e3e3e3" stroke-width="2.5" d="M99 378l0 -4"/>
<path stroke="#ebebeb" stroke-width="2.5" d="M36 290l0 -6"/>
<path stroke="#ededed" stroke-width="2" d="M101 390l0 -2"/>
<path stroke="#f0f0f0" stroke-width="1.5" d="M154 415l0 -6"/>
<path stroke="#f0f0f0" stroke-width="2.5" d="M45 256l0 -2"/>
<path stroke="#f1f1f1" stroke-width="2" d="M44 339l0 -2"/>
<path stroke="#f5f5f5" stroke-width="2" d="M106 383l0 -2"/>
<path stroke="#fcfcfc" stroke-width="2" d="M42 252l0 -2"/>
<ellipse cx="103" cy="269" rx="1.5" ry="3" fill="#c7c7c7" stroke="none"/>
<ellipse cx="118" cy="257" rx="1.5" ry="3" fill="#c7c7c7" stroke="none"/>
<ellipse cx="121" cy="258" rx="1.2" ry="2" fill="#bdbdbd" stroke="none"/>
<ellipse cx="176" cy="275" rx="2" ry="4" fill="#c7c7c7" stroke="none"/>
<ellipse cx="195" cy="285" rx="2" ry="3" fill="#c7c7c7" stroke="none"/>
<ellipse cx="185" cy="300" rx="1.5" ry="3" fill="#bdbdbd" stroke="none"/>
<ellipse cx="203" cy="257" rx="1.5" ry="22" fill="#c2c2c2" stroke="none" transform="rotate(-8 203 257)"/>
<ellipse cx="137" cy="300" rx="2" ry="4" fill="#474747" stroke="none"/>
<ellipse cx="160" cy="295" rx="1.5" ry="4" fill="#4c4c4c" stroke="none"/>
<ellipse cx="121" cy="350" rx="2" ry="10" fill="#474747" stroke="none"/>
<ellipse cx="180" cy="360" rx="3" ry="10" fill="#c7c7c7" stroke="none"/>
<ellipse cx="72" cy="380" rx="2.5" ry="30" fill="#3d3d3d" stroke="none" transform="rotate(5 72 380)"/>
<ellipse cx="104" cy="380" rx="2" ry="25" fill="#c2c2c2" stroke="none" transform="rotate(5 104 380)"/>
<ellipse cx="156" cy="375" rx="2" ry="28" fill="#b2b2b2" stroke="none" transform="rotate(5 156 375)"/>
<ellipse cx="198" cy="375" rx="2" ry="30" fill="#4c4c4c" stroke="none" transform="rotate(5 198 375)"/>
<ellipse cx="39" cy="290" rx="1.5" ry="45" fill="#c2c2c2" stroke="none"/>
<ellipse cx="44" cy="345" rx="2" ry="18" fill="#c2c2c2" stroke="none" transform="rotate(8 44 345)"/>
</g>
</g>
</g></svg>
<svg class="hm" width="550" height="451" viewBox="0 0 550 451">
<defs><clipPath id="cd"><rect x="304.4" y="234.5" width="181.6" height="177"/></clipPath>
<filter id="bd" filterUnits="userSpaceOnUse" x="292.4" y="222.5" width="205.6" height="201" color-interpolation-filters="sRGB"><feGaussianBlur stdDeviation="1.2 2.5"/></filter>
<filter id="sd" filterUnits="userSpaceOnUse" x="292.4" y="222.5" width="205.6" height="201" color-interpolation-filters="sRGB"><feGaussianBlur stdDeviation="0.4 1.2"/></filter>
<filter id="fd" filterUnits="userSpaceOnUse" x="304.4" y="234.5" width="181.6" height="177" color-interpolation-filters="sRGB">
<feTurbulence type="fractalNoise" baseFrequency="0.35 0.05" numOctaves="2" seed="9" result="n"/>
<feColorMatrix in="n" type="matrix" values="1 0 0 0 0 1 0 0 0 0 1 0 0 0 0 0 0 0 0 1" result="ng"/>
<feComposite in="SourceGraphic" in2="ng" operator="arithmetic" k1="0" k2="1" k3="0.06" k4="-0.03" result="s"/>
<feComponentTransfer in="s"><feFuncR type="table" tableValues="1.000 1.000 1.000 1.000 1.000 1.000 1.000 1.000 1.000 1.000 1.000 1.000 0.996 0.992 0.988 0.984 0.980 0.984 0.987 0.990 0.993 0.997 1.000 1.000 1.000 1.000 1.000 1.000 1.000 1.000 1.000 1.000 1.000 1.000 1.000 1.000 1.000 1.000 1.000 1.000 1.000 0.926 0.853 0.779 0.706 0.538 0.370 0.202 0.105 0.078 0.052 0.026 0.000 0.000 0.000 0.000 0.000 0.000 0.000 0.000 0.000 0.000 0.000 0.000 0.000 0.000 0.000 0.000 0.000 0.000 0.000 0.000 0.000 0.000 0.000 0.000 0.000 0.000 0.000 0.000 0.000 0.000 0.000 0.000 0.000 0.000 0.000 0.000 0.000 0.000 0.000 0.000 0.000 0.000 0.000 0.000 0.000 0.000 0.000 0.000 0.000"/><feFuncG type="table" tableValues="1.000 1.000 1.000 1.000 1.000 1.000 1.000 0.984 0.952 0.919 0.887 0.855 0.802 0.748 0.695 0.642 0.588 0.516 0.444 0.373 0.301 0.229 0.157 0.133 0.110 0.125 0.180 0.235 0.304 0.373 0.441 0.510 0.565 0.620 0.675 0.729 0.784 0.824 0.863 0.902 0.941 0.936 0.931 0.926 0.922 0.905 0.888 0.871 0.863 0.863 0.863 0.863 0.863 0.856 0.850 0.844 0.838 0.831 0.809 0.787 0.765 0.703 0.641 0.580 0.527 0.482 0.437 0.392 0.361 0.329 0.298 0.267 0.235 0.173 0.110 0.067 0.045 0.022 0.000 0.000 0.000 0.000 0.000 0.000 0.000 0.000 0.000 0.000 0.000 0.000 0.000 0.000 0.000 0.000 0.000 0.000 0.000 0.000 0.000 0.000 0.000"/><feFuncB type="table" tableValues="1.000 1.000 1.000 1.000 1.000 1.000 1.000 0.984 0.952 0.919 0.887 0.855 0.805 0.756 0.707 0.657 0.608 0.533 0.458 0.382 0.307 0.232 0.157 0.118 0.078 0.047 0.024 0.000 0.000 0.000 0.000 0.000 0.000 0.000 0.000 0.000 0.000 0.000 0.000 0.000 0.000 0.000 0.000 0.000 0.000 0.034 0.067 0.101 0.161 0.248 0.336 0.423 0.510 0.565 0.620 0.675 0.729 0.784 0.837 0.889 0.941 0.958 0.975 0.992 0.992 0.975 0.958 0.941 0.910 0.878 0.847 0.816 0.784 0.706 0.627 0.546 0.462 0.378 0.294 0.235 0.175 0.116 0.072 0.043 0.014 0.000 0.000 0.000 0.000 0.000 0.000 0.000 0.000 0.000 0.000 0.000 0.000 0.000 0.000 0.000 0.000"/><feFuncA type="linear" slope="0" intercept="1"/></feComponentTransfer>
</filter></defs>
<g clip-path="url(#cd)"><g filter="url(#fd)">
<g filter="url(#bd)">
<path fill="#2b2b2b" d="M385.4 294.5h3v6h-3zM388.4 348.5h3v6h-3z"/>
<path fill="#2c2c2c" d="M385.4 276.5h3v6h-3zM382.4 282.5h6v6h-6zM382.4 288.5h6v6h-6zM382.4 294.5h3v6h-3zM382.4 300.5h6v6h-6zM385.4 306.5h3v6h-3zM385.4 312.5h3v6h-3zM385.4 318.5h3v6h-3zM385.4 324.5h3v6h-3zM385.4 330.5h3v6h-3zM388.4 336.5h3v6h-3zM388.4 342.5h3v6h-3zM388.4 354.5h3v6h-3zM388.4 360.5h3v6h-3z"/>
<path fill="#2d2d2d" d="M382.4 222.5h3v6h-3zM382.4 228.5h3v6h-3zM382.4 234.5h3v6h-3zM382.4 240.5h3v6h-3zM382.4 246.5h3v6h-3zM382.4 252.5h3v6h-3zM382.4 258.5h6v6h-6zM382.4 264.5h6v6h-6zM379.4 270.5h9v6h-9zM379.4 276.5h6v6h-6zM379.4 282.5h3v6h-3zM379.4 288.5h3v6h-3zM379.4 294.5h3v6h-3zM379.4 300.5h3v6h-3zM379.4 306.5h6v6h-6zM382.4 312.5h3v6h-3zM382.4 318.5h3v6h-3zM388.4 318.5h3v6h-3zM382.4 324.5h3v6h-3zM388.4 324.5h3v6h-3zM388.4 330.5h3v6h-3zM385.4 336.5h3v6h-3zM385.4 342.5h3v6h-3zM391.4 342.5h3v6h-3zM385.4 348.5h3v6h-3zM391.4 348.5h3v6h-3zM385.4 354.5h3v6h-3zM391.4 354.5h3v6h-3zM388.4 366.5h3v6h-3zM388.4 372.5h3v6h-3z"/>
<path fill="#2e2e2e" d="M379.4 222.5h3v6h-3zM385.4 222.5h3v6h-3zM379.4 228.5h3v6h-3zM385.4 228.5h3v6h-3zM379.4 234.5h3v6h-3zM385.4 234.5h3v6h-3zM379.4 240.5h3v6h-3zM385.4 240.5h3v6h-3zM379.4 246.5h3v6h-3zM385.4 246.5h3v6h-3zM379.4 252.5h3v6h-3zM385.4 252.5h3v6h-3zM379.4 258.5h3v6h-3zM379.4 264.5h3v6h-3zM388.4 306.5h3v6h-3zM379.4 312.5h3v6h-3zM388.4 312.5h3v6h-3zM379.4 318.5h3v6h-3zM379.4 324.5h3v6h-3zM382.4 330.5h3v6h-3zM382.4 336.5h3v6h-3zM391.4 336.5h3v6h-3zM382.4 342.5h3v6h-3zM382.4 348.5h3v6h-3zM394.4 348.5h3v6h-3zM385.4 360.5h3v6h-3zM391.4 360.5h3v6h-3zM385.4 366.5h3v6h-3zM391.4 366.5h3v6h-3zM385.4 372.5h3v6h-3zM388.4 378.5h3v6h-3zM388.4 384.5h3v6h-3zM388.4 390.5h3v6h-3zM388.4 396.5h3v6h-3zM388.4 402.5h3v6h-3zM388.4 408.5h3v6h-3zM388.4 414.5h3v6h-3zM388.4 420.5h3v6h-3z"/>
<path fill="#2f2f2f" d="M376.4 270.5h3v6h-3zM376.4 276.5h3v6h-3zM376.4 282.5h3v6h-3zM376.4 288.5h3v6h-3zM388.4 288.5h3v6h-3zM376.4 294.5h3v6h-3zM388.4 294.5h3v6h-3zM388.4 300.5h3v6h-3zM391.4 324.5h3v6h-3zM379.4 330.5h3v6h-3zM391.4 330.5h3v6h-3zM379.4 336.5h3v6h-3zM379.4 342.5h3v6h-3zM394.4 342.5h3v6h-3zM382.4 354.5h3v6h-3zM394.4 354.5h3v6h-3zM382.4 360.5h3v6h-3zM394.4 360.5h3v6h-3zM382.4 366.5h3v6h-3zM382.4 372.5h3v6h-3zM391.4 372.5h3v6h-3zM385.4 378.5h3v6h-3zM391.4 378.5h3v6h-3zM385.4 384.5h3v6h-3zM391.4 384.5h3v6h-3zM385.4 390.5h3v6h-3zM385.4 396.5h3v6h-3zM385.4 402.5h3v6h-3zM385.4 408.5h3v6h-3zM385.4 414.5h3v6h-3zM385.4 420.5h3v6h-3z"/>
<path fill="#303030" d="M376.4 222.5h3v6h-3zM376.4 228.5h3v6h-3zM376.4 234.5h3v6h-3zM376.4 240.5h3v6h-3zM376.4 246.5h3v6h-3zM376.4 252.5h3v6h-3zM376.4 258.5h3v6h-3zM376.4 264.5h3v6h-3zM388.4 276.5h3v6h-3zM388.4 282.5h3v6h-3zM376.4 300.5h3v6h-3zM376.4 306.5h3v6h-3zM391.4 318.5h3v6h-3zM394.4 336.5h3v6h-3zM379.4 348.5h3v6h-3zM379.4 354.5h3v6h-3zM379.4 360.5h3v6h-3zM379.4 366.5h3v6h-3zM394.4 366.5h3v6h-3zM394.4 372.5h3v6h-3zM382.4 378.5h3v6h-3zM382.4 384.5h3v6h-3zM382.4 390.5h3v6h-3zM391.4 390.5h3v6h-3zM382.4 396.5h3v6h-3zM391.4 396.5h3v6h-3zM382.4 402.5h3v6h-3zM391.4 402.5h3v6h-3zM382.4 408.5h3v6h-3zM391.4 408.5h3v6h-3zM382.4 414.5h3v6h-3zM391.4 414.5h3v6h-3zM382.4 420.5h3v6h-3zM391.4 420.5h3v6h-3z"/>
<path fill="#313131" d="M388.4 258.5h3v6h-3zM388.4 264.5h3v6h-3zM388.4 270.5h3v6h-3zM391.4 306.5h3v6h-3zM376.4 312.5h3v6h-3zM391.4 312.5h3v6h-3zM376.4 318.5h3v6h-3zM394.4 330.5h3v6h-3zM379.4 372.5h3v6h-3zM379.4 378.5h3v6h-3zM394.4 378.5h3v6h-3zM379.4 384.5h3v6h-3zM394.4 384.5h3v6h-3zM379.4 390.5h3v6h-3zM379.4 396.5h3v6h-3zM379.4 402.5h3v6h-3zM379.4 408.5h3v6h-3zM379.4 414.5h3v6h-3zM379.4 420.5h3v6h-3z"/>
<path fill="#323232" d="M373.4 222.5h3v6h-3zM388.4 222.5h3v6h-3zM373.4 228.5h3v6h-3zM388.4 228.5h3v6h-3zM373.4 234.5h3v6h-3zM388.4 234.5h3v6h-3zM373.4 240.5h3v6h-3zM388.4 240.5h3v6h-3zM373.4 246.5h3v6h-3zM388.4 246.5h3v6h-3zM373.4 252.5h3v6h-3zM388.4 252.5h3v6h-3zM373.4 258.5h3v6h-3zM373.4 264.5h3v6h-3zM373.4 270.5h3v6h-3zM373.4 276.5h3v6h-3zM373.4 282.5h3v6h-3zM373.4 288.5h3v6h-3zM373.4 294.5h3v6h-3zM391.4 300.5h3v6h-3zM376.4 324.5h3v6h-3zM394.4 324.5h3v6h-3zM394.4 390.5h3v6h-3zM394.4 396.5h3v6h-3zM394.4 402.5h3v6h-3zM394.4 408.5h3v6h-3zM394.4 414.5h3v6h-3zM394.4 420.5h3v6h-3z"/>
<path fill="#333333" d="M391.4 288.5h3v6h-3zM391.4 294.5h3v6h-3zM373.4 300.5h3v6h-3zM376.4 330.5h3v6h-3zM376.4 336.5h3v6h-3z"/>
<path fill="#343434" d="M391.4 276.5h3v6h-3zM391.4 282.5h3v6h-3zM373.4 306.5h3v6h-3zM394.4 318.5h3v6h-3zM376.4 342.5h3v6h-3zM376.4 348.5h3v6h-3zM376.4 354.5h3v6h-3z"/>
<path fill="#353535" d="M370.4 222.5h3v6h-3zM370.4 228.5h3v6h-3zM370.4 234.5h3v6h-3zM370.4 240.5h3v6h-3zM370.4 246.5h3v6h-3zM370.4 252.5h3v6h-3zM370.4 258.5h3v6h-3zM391.4 258.5h3v6h-3zM370.4 264.5h3v6h-3zM391.4 264.5h3v6h-3zM370.4 270.5h3v6h-3zM391.4 270.5h3v6h-3zM370.4 276.5h3v6h-3zM370.4 282.5h3v6h-3zM370.4 288.5h3v6h-3zM370.4 294.5h3v6h-3zM373.4 312.5h3v6h-3zM394.4 312.5h3v6h-3zM376.4 360.5h3v6h-3zM376.4 366.5h3v6h-3zM376.4 372.5h3v6h-3zM376.4 378.5h3v6h-3zM376.4 384.5h3v6h-3zM376.4 390.5h3v6h-3z"/>
<path fill="#363636" d="M391.4 222.5h3v6h-3zM391.4 228.5h3v6h-3zM391.4 234.5h3v6h-3zM391.4 240.5h3v6h-3zM391.4 246.5h3v6h-3zM391.4 252.5h3v6h-3zM394.4 306.5h3v6h-3zM373.4 318.5h3v6h-3zM376.4 396.5h3v6h-3zM376.4 402.5h3v6h-3zM376.4 408.5h3v6h-3zM376.4 414.5h3v6h-3zM376.4 420.5h3v6h-3z"/>
<path fill="#373737" d="M370.4 300.5h3v6h-3zM394.4 300.5h3v6h-3zM373.4 324.5h3v6h-3z"/>
<path fill="#383838" d="M367.4 222.5h3v6h-3zM367.4 228.5h3v6h-3zM367.4 234.5h3v6h-3zM367.4 240.5h3v6h-3zM367.4 246.5h3v6h-3zM367.4 252.5h3v6h-3zM367.4 258.5h3v6h-3zM367.4 264.5h3v6h-3zM367.4 270.5h3v6h-3zM367.4 276.5h3v6h-3zM367.4 282.5h3v6h-3zM367.4 288.5h3v6h-3zM394.4 294.5h3v6h-3zM370.4 306.5h3v6h-3zM373.4 330.5h3v6h-3zM397.4 342.5h3v6h-3zM397.4 348.5h3v6h-3zM397.4 354.5h3v6h-3zM397.4 360.5h3v6h-3z"/>
<path fill="#393939" d="M394.4 264.5h3v6h-3zM394.4 270.5h3v6h-3zM394.4 276.5h3v6h-3zM394.4 282.5h3v6h-3zM394.4 288.5h3v6h-3zM367.4 294.5h3v6h-3zM370.4 312.5h3v6h-3zM373.4 336.5h3v6h-3zM397.4 336.5h3v6h-3zM397.4 366.5h3v6h-3zM397.4 372.5h3v6h-3zM397.4 378.5h3v6h-3zM397.4 384.5h3v6h-3zM397.4 390.5h3v6h-3zM397.4 396.5h3v6h-3zM397.4 402.5h3v6h-3zM397.4 408.5h3v6h-3zM397.4 414.5h3v6h-3zM397.4 420.5h3v6h-3z"/>
<path fill="#3a3a3a" d="M394.4 222.5h3v6h-3zM394.4 228.5h3v6h-3zM394.4 234.5h3v6h-3zM394.4 240.5h3v6h-3zM394.4 246.5h3v6h-3zM394.4 252.5h3v6h-3zM394.4 258.5h3v6h-3zM367.4 300.5h3v6h-3zM370.4 318.5h3v6h-3zM397.4 324.5h3v6h-3zM397.4 330.5h3v6h-3zM373.4 342.5h3v6h-3zM340.4 348.5h9v6h-9zM373.4 348.5h3v6h-3zM445.4 348.5h3v6h-3zM373.4 354.5h3v6h-3zM445.4 354.5h3v6h-3zM445.4 360.5h3v6h-3zM445.4 366.5h3v6h-3zM445.4 372.5h3v6h-3zM445.4 378.5h3v6h-3zM445.4 384.5h3v6h-3zM445.4 390.5h3v6h-3zM445.4 396.5h3v6h-3zM445.4 402.5h3v6h-3zM445.4 408.5h3v6h-3zM445.4 414.5h3v6h-3zM445.4 420.5h3v6h-3z"/>
<path fill="#3b3b3b" d="M364.4 222.5h3v6h-3zM364.4 228.5h3v6h-3zM364.4 234.5h3v6h-3zM364.4 240.5h3v6h-3zM364.4 246.5h3v6h-3zM364.4 252.5h3v6h-3zM364.4 258.5h3v6h-3zM364.4 264.5h3v6h-3zM364.4 270.5h3v6h-3zM364.4 276.5h3v6h-3zM364.4 282.5h3v6h-3zM364.4 288.5h3v6h-3zM367.4 306.5h3v6h-3zM397.4 318.5h3v6h-3zM340.4 342.5h12v6h-12zM349.4 348.5h3v6h-3zM340.4 354.5h12v6h-12zM373.4 360.5h3v6h-3zM373.4 366.5h3v6h-3zM373.4 372.5h3v6h-3zM373.4 378.5h3v6h-3zM373.4 384.5h3v6h-3zM373.4 390.5h3v6h-3zM373.4 396.5h3v6h-3zM373.4 402.5h3v6h-3zM373.4 408.5h3v6h-3zM373.4 414.5h3v6h-3zM373.4 420.5h3v6h-3z"/>
<path fill="#3c3c3c" d="M364.4 294.5h3v6h-3zM397.4 306.5h3v6h-3zM367.4 312.5h3v6h-3zM397.4 312.5h3v6h-3zM370.4 324.5h3v6h-3zM340.4 336.5h12v6h-12zM445.4 342.5h3v6h-3zM340.4 360.5h12v6h-12zM343.4 366.5h6v6h-6z"/>
<path fill="#3d3d3d" d="M364.4 300.5h3v6h-3zM397.4 300.5h3v6h-3zM340.4 330.5h12v6h-12zM370.4 330.5h3v6h-3zM352.4 348.5h3v6h-3zM442.4 348.5h3v6h-3zM352.4 354.5h3v6h-3zM442.4 354.5h3v6h-3zM442.4 360.5h3v6h-3zM340.4 366.5h3v6h-3zM349.4 366.5h3v6h-3zM442.4 366.5h3v6h-3zM340.4 372.5h9v6h-9zM442.4 372.5h3v6h-3zM442.4 378.5h3v6h-3zM442.4 384.5h3v6h-3zM442.4 390.5h3v6h-3zM442.4 396.5h3v6h-3zM442.4 402.5h3v6h-3zM442.4 408.5h3v6h-3zM442.4 414.5h3v6h-3zM442.4 420.5h3v6h-3z"/>
<path fill="#3e3e3e" d="M397.4 222.5h3v6h-3zM397.4 228.5h3v6h-3zM397.4 234.5h3v6h-3zM397.4 240.5h3v6h-3zM397.4 246.5h3v6h-3zM397.4 252.5h3v6h-3zM397.4 258.5h3v6h-3zM397.4 264.5h3v6h-3zM397.4 270.5h3v6h-3zM397.4 276.5h3v6h-3zM397.4 282.5h3v6h-3zM397.4 288.5h3v6h-3zM397.4 294.5h3v6h-3zM364.4 306.5h3v6h-3zM367.4 318.5h3v6h-3zM343.4 324.5h9v6h-9zM352.4 336.5h3v6h-3zM370.4 336.5h3v6h-3zM445.4 336.5h3v6h-3zM352.4 342.5h3v6h-3zM442.4 342.5h3v6h-3zM352.4 360.5h3v6h-3zM352.4 366.5h3v6h-3zM349.4 372.5h3v6h-3zM340.4 378.5h12v6h-12z"/>
<path fill="#3f3f3f" d="M361.4 222.5h3v6h-3zM361.4 228.5h3v6h-3zM361.4 234.5h3v6h-3zM361.4 240.5h3v6h-3zM361.4 246.5h3v6h-3zM361.4 252.5h3v6h-3zM361.4 258.5h3v6h-3zM361.4 264.5h3v6h-3zM361.4 270.5h3v6h-3zM361.4 276.5h3v6h-3zM361.4 282.5h3v6h-3zM361.4 288.5h3v6h-3zM361.4 294.5h3v6h-3zM343.4 318.5h9v6h-9zM340.4 324.5h3v6h-3zM367.4 324.5h3v6h-3zM352.4 330.5h3v6h-3zM442.4 336.5h3v6h-3zM370.4 342.5h3v6h-3zM355.4 348.5h3v6h-3zM439.4 348.5h3v6h-3zM448.4 348.5h3v6h-3zM439.4 354.5h3v6h-3zM448.4 354.5h3v6h-3zM439.4 360.5h3v6h-3zM448.4 360.5h3v6h-3zM439.4 366.5h3v6h-3zM448.4 366.5h3v6h-3zM352.4 372.5h3v6h-3zM439.4 372.5h3v6h-3zM448.4 372.5h3v6h-3zM352.4 378.5h3v6h-3zM439.4 378.5h3v6h-3zM448.4 378.5h3v6h-3zM340.4 384.5h15v6h-15zM439.4 384.5h3v6h-3zM448.4 384.5h3v6h-3zM439.4 390.5h3v6h-3zM448.4 390.5h3v6h-3zM439.4 396.5h3v6h-3zM448.4 396.5h3v6h-3zM439.4 402.5h3v6h-3zM448.4 402.5h3v6h-3zM439.4 408.5h3v6h-3zM448.4 408.5h3v6h-3zM439.4 414.5h3v6h-3zM448.4 414.5h3v6h-3zM439.4 420.5h3v6h-3zM448.4 420.5h3v6h-3z"/>
<path fill="#404040" d="M400.4 222.5h27v6h-27zM400.4 228.5h27v6h-27zM400.4 234.5h27v6h-27zM400.4 240.5h27v6h-27zM400.4 246.5h27v6h-27zM400.4 252.5h27v6h-27zM400.4 258.5h27v6h-27zM400.4 264.5h27v6h-27zM400.4 270.5h27v6h-27zM400.4 276.5h27v6h-27zM400.4 282.5h27v6h-27zM400.4 288.5h27v6h-27zM400.4 294.5h27v6h-27zM361.4 300.5h3v6h-3zM400.4 300.5h18v6h-18zM361.4 306.5h3v6h-3zM400.4 306.5h6v6h-6zM343.4 312.5h9v6h-9zM364.4 312.5h3v6h-3zM400.4 312.5h3v6h-3zM340.4 318.5h3v6h-3zM352.4 318.5h3v6h-3zM352.4 324.5h3v6h-3zM355.4 330.5h3v6h-3zM367.4 330.5h3v6h-3zM445.4 330.5h3v6h-3zM355.4 336.5h3v6h-3zM355.4 342.5h3v6h-3zM439.4 342.5h3v6h-3zM370.4 348.5h3v6h-3zM355.4 354.5h3v6h-3zM370.4 354.5h3v6h-3zM355.4 360.5h3v6h-3zM370.4 360.5h3v6h-3zM355.4 366.5h3v6h-3zM370.4 366.5h3v6h-3zM355.4 372.5h3v6h-3zM370.4 372.5h3v6h-3zM355.4 378.5h3v6h-3zM370.4 378.5h3v6h-3zM355.4 384.5h3v6h-3zM370.4 384.5h3v6h-3zM340.4 390.5h18v6h-18zM370.4 390.5h3v6h-3zM340.4 396.5h18v6h-18zM370.4 396.5h3v6h-3zM340.4 402.5h18v6h-18zM370.4 402.5h3v6h-3zM340.4 408.5h18v6h-18zM370.4 408.5h3v6h-3zM340.4 414.5h18v6h-18zM370.4 414.5h3v6h-3zM340.4 420.5h18v6h-18zM370.4 420.5h3v6h-3z"/>
<path fill="#414141" d="M358.4 222.5h3v6h-3zM427.4 222.5h3v6h-3zM358.4 228.5h3v6h-3zM427.4 228.5h3v6h-3zM358.4 234.5h3v6h-3zM427.4 234.5h3v6h-3zM358.4 240.5h3v6h-3zM427.4 240.5h3v6h-3zM358.4 246.5h3v6h-3zM427.4 246.5h3v6h-3zM358.4 252.5h3v6h-3zM427.4 252.5h3v6h-3zM358.4 258.5h3v6h-3zM427.4 258.5h3v6h-3zM358.4 264.5h3v6h-3zM427.4 264.5h3v6h-3zM358.4 270.5h3v6h-3zM427.4 270.5h3v6h-3zM358.4 276.5h3v6h-3zM358.4 282.5h3v6h-3zM358.4 288.5h3v6h-3zM358.4 294.5h3v6h-3zM358.4 300.5h3v6h-3zM418.4 300.5h9v6h-9zM346.4 306.5h6v6h-6zM358.4 306.5h3v6h-3zM406.4 306.5h21v6h-21zM340.4 312.5h3v6h-3zM352.4 312.5h12v6h-12zM403.4 312.5h15v6h-15zM355.4 318.5h6v6h-6zM364.4 318.5h3v6h-3zM400.4 318.5h12v6h-12zM355.4 324.5h3v6h-3zM400.4 324.5h6v6h-6zM400.4 330.5h3v6h-3zM442.4 330.5h3v6h-3zM367.4 336.5h3v6h-3zM400.4 336.5h3v6h-3zM439.4 336.5h3v6h-3zM400.4 342.5h3v6h-3zM448.4 342.5h3v6h-3zM400.4 348.5h3v6h-3zM400.4 354.5h3v6h-3zM400.4 360.5h3v6h-3zM400.4 366.5h3v6h-3zM400.4 372.5h3v6h-3z"/>
<path fill="#424242" d="M355.4 222.5h3v6h-3zM430.4 222.5h3v6h-3zM355.4 228.5h3v6h-3zM430.4 228.5h3v6h-3zM355.4 234.5h3v6h-3zM430.4 234.5h3v6h-3zM355.4 240.5h3v6h-3zM430.4 240.5h3v6h-3zM355.4 246.5h3v6h-3zM430.4 246.5h3v6h-3zM355.4 252.5h3v6h-3zM430.4 252.5h3v6h-3zM355.4 258.5h3v6h-3zM430.4 258.5h3v6h-3zM355.4 264.5h3v6h-3zM355.4 270.5h3v6h-3zM355.4 276.5h3v6h-3zM427.4 276.5h3v6h-3zM355.4 282.5h3v6h-3zM427.4 282.5h3v6h-3zM355.4 288.5h3v6h-3zM427.4 288.5h3v6h-3zM355.4 294.5h3v6h-3zM427.4 294.5h3v6h-3zM346.4 300.5h12v6h-12zM427.4 300.5h3v6h-3zM340.4 306.5h6v6h-6zM352.4 306.5h6v6h-6zM418.4 312.5h9v6h-9zM361.4 318.5h3v6h-3zM412.4 318.5h15v6h-15zM358.4 324.5h3v6h-3zM364.4 324.5h3v6h-3zM406.4 324.5h12v6h-12zM445.4 324.5h3v6h-3zM358.4 330.5h3v6h-3zM403.4 330.5h9v6h-9zM439.4 330.5h3v6h-3zM358.4 336.5h3v6h-3zM403.4 336.5h6v6h-6zM358.4 342.5h3v6h-3zM403.4 342.5h3v6h-3zM358.4 348.5h3v6h-3zM403.4 348.5h3v6h-3zM436.4 348.5h3v6h-3zM358.4 354.5h3v6h-3zM403.4 354.5h3v6h-3zM436.4 354.5h3v6h-3zM403.4 360.5h3v6h-3zM436.4 360.5h3v6h-3zM403.4 366.5h3v6h-3zM436.4 366.5h3v6h-3zM436.4 372.5h3v6h-3zM400.4 378.5h3v6h-3zM436.4 378.5h3v6h-3zM400.4 384.5h3v6h-3zM436.4 384.5h3v6h-3zM400.4 390.5h3v6h-3zM436.4 390.5h3v6h-3zM400.4 396.5h3v6h-3zM436.4 396.5h3v6h-3zM400.4 402.5h3v6h-3zM436.4 402.5h3v6h-3zM400.4 408.5h3v6h-3zM436.4 408.5h3v6h-3zM400.4 414.5h3v6h-3zM436.4 414.5h3v6h-3zM400.4 420.5h3v6h-3zM436.4 420.5h3v6h-3z"/>
<path fill="#434343" d="M352.4 222.5h3v6h-3zM433.4 222.5h3v6h-3zM352.4 228.5h3v6h-3zM433.4 228.5h3v6h-3zM352.4 234.5h3v6h-3zM433.4 234.5h3v6h-3zM352.4 240.5h3v6h-3zM433.4 240.5h3v6h-3zM352.4 246.5h3v6h-3zM433.4 246.5h3v6h-3zM352.4 252.5h3v6h-3zM433.4 252.5h3v6h-3zM352.4 258.5h3v6h-3zM352.4 264.5h3v6h-3zM430.4 264.5h3v6h-3zM352.4 270.5h3v6h-3zM430.4 270.5h3v6h-3zM352.4 276.5h3v6h-3zM430.4 276.5h3v6h-3zM352.4 282.5h3v6h-3zM430.4 282.5h3v6h-3zM352.4 288.5h3v6h-3zM430.4 288.5h3v6h-3zM349.4 294.5h6v6h-6zM430.4 294.5h3v6h-3zM340.4 300.5h6v6h-6zM427.4 306.5h3v6h-3zM427.4 312.5h3v6h-3zM427.4 318.5h3v6h-3zM361.4 324.5h3v6h-3zM418.4 324.5h9v6h-9zM439.4 324.5h6v6h-6zM361.4 330.5h6v6h-6zM412.4 330.5h15v6h-15zM436.4 330.5h3v6h-3zM409.4 336.5h9v6h-9zM436.4 336.5h3v6h-3zM448.4 336.5h3v6h-3zM367.4 342.5h3v6h-3zM406.4 342.5h9v6h-9zM436.4 342.5h3v6h-3zM367.4 348.5h3v6h-3zM406.4 348.5h6v6h-6zM406.4 354.5h3v6h-3zM358.4 360.5h3v6h-3zM406.4 360.5h3v6h-3zM358.4 366.5h3v6h-3zM406.4 366.5h3v6h-3zM358.4 372.5h3v6h-3zM403.4 372.5h6v6h-6zM358.4 378.5h3v6h-3zM403.4 378.5h6v6h-6zM358.4 384.5h3v6h-3zM403.4 384.5h6v6h-6zM403.4 390.5h3v6h-3zM403.4 396.5h3v6h-3zM403.4 402.5h3v6h-3zM403.4 408.5h3v6h-3zM403.4 414.5h3v6h-3zM403.4 420.5h3v6h-3z"/>
<path fill="#444444" d="M343.4 222.5h9v6h-9zM436.4 222.5h3v6h-3zM343.4 228.5h9v6h-9zM436.4 228.5h3v6h-3zM343.4 234.5h9v6h-9zM436.4 234.5h3v6h-3zM343.4 240.5h9v6h-9zM436.4 240.5h3v6h-3zM343.4 246.5h9v6h-9zM436.4 246.5h3v6h-3zM343.4 252.5h9v6h-9zM436.4 252.5h3v6h-3zM343.4 258.5h9v6h-9zM433.4 258.5h3v6h-3zM343.4 264.5h9v6h-9zM433.4 264.5h3v6h-3zM343.4 270.5h9v6h-9zM433.4 270.5h3v6h-3zM343.4 276.5h9v6h-9zM433.4 276.5h3v6h-3zM343.4 282.5h9v6h-9zM433.4 282.5h3v6h-3zM343.4 288.5h9v6h-9zM340.4 294.5h9v6h-9zM430.4 300.5h3v6h-3zM430.4 306.5h3v6h-3zM430.4 312.5h3v6h-3zM430.4 318.5h3v6h-3zM436.4 318.5h12v6h-12zM427.4 324.5h6v6h-6zM436.4 324.5h3v6h-3zM427.4 330.5h6v6h-6zM361.4 336.5h6v6h-6zM418.4 336.5h12v6h-12zM415.4 342.5h12v6h-12zM412.4 348.5h6v6h-6zM367.4 354.5h3v6h-3zM409.4 354.5h6v6h-6zM367.4 360.5h3v6h-3zM409.4 360.5h6v6h-6zM367.4 366.5h3v6h-3zM409.4 366.5h3v6h-3zM409.4 372.5h3v6h-3zM409.4 378.5h3v6h-3zM409.4 384.5h3v6h-3zM358.4 390.5h3v6h-3zM406.4 390.5h3v6h-3zM337.4 396.5h3v6h-3zM358.4 396.5h3v6h-3zM406.4 396.5h3v6h-3zM337.4 402.5h3v6h-3zM358.4 402.5h3v6h-3zM406.4 402.5h3v6h-3zM337.4 408.5h3v6h-3zM358.4 408.5h3v6h-3zM406.4 408.5h3v6h-3zM337.4 414.5h3v6h-3zM358.4 414.5h3v6h-3zM406.4 414.5h3v6h-3zM337.4 420.5h3v6h-3zM358.4 420.5h3v6h-3zM406.4 420.5h3v6h-3z"/>
<path fill="#454545" d="M337.4 222.5h6v6h-6zM337.4 228.5h6v6h-6zM337.4 234.5h6v6h-6zM337.4 240.5h6v6h-6zM337.4 246.5h6v6h-6zM337.4 252.5h6v6h-6zM337.4 258.5h6v6h-6zM436.4 258.5h3v6h-3zM337.4 264.5h6v6h-6zM436.4 264.5h3v6h-3zM337.4 270.5h6v6h-6zM436.4 270.5h3v6h-3zM337.4 276.5h6v6h-6zM337.4 282.5h6v6h-6zM337.4 288.5h6v6h-6zM433.4 288.5h3v6h-3zM337.4 294.5h3v6h-3zM433.4 294.5h3v6h-3zM337.4 300.5h3v6h-3zM433.4 300.5h3v6h-3zM337.4 306.5h3v6h-3zM433.4 306.5h6v6h-6zM337.4 312.5h3v6h-3zM433.4 312.5h9v6h-9zM337.4 318.5h3v6h-3zM433.4 318.5h3v6h-3zM337.4 324.5h3v6h-3zM433.4 324.5h3v6h-3zM337.4 330.5h3v6h-3zM433.4 330.5h3v6h-3zM448.4 330.5h3v6h-3zM337.4 336.5h3v6h-3zM430.4 336.5h6v6h-6zM337.4 342.5h3v6h-3zM361.4 342.5h3v6h-3zM427.4 342.5h9v6h-9zM337.4 348.5h3v6h-3zM361.4 348.5h3v6h-3zM418.4 348.5h18v6h-18zM337.4 354.5h3v6h-3zM415.4 354.5h21v6h-21zM337.4 360.5h3v6h-3zM415.4 360.5h3v6h-3zM421.4 360.5h15v6h-15zM337.4 366.5h3v6h-3zM412.4 366.5h6v6h-6zM427.4 366.5h9v6h-9zM337.4 372.5h3v6h-3zM367.4 372.5h3v6h-3zM412.4 372.5h3v6h-3zM427.4 372.5h9v6h-9zM337.4 378.5h3v6h-3zM367.4 378.5h3v6h-3zM412.4 378.5h3v6h-3zM430.4 378.5h6v6h-6zM337.4 384.5h3v6h-3zM367.4 384.5h3v6h-3zM412.4 384.5h3v6h-3zM430.4 384.5h6v6h-6zM337.4 390.5h3v6h-3zM409.4 390.5h6v6h-6zM430.4 390.5h6v6h-6zM409.4 396.5h6v6h-6zM430.4 396.5h6v6h-6zM409.4 402.5h6v6h-6zM430.4 402.5h6v6h-6zM409.4 408.5h6v6h-6zM430.4 408.5h6v6h-6zM409.4 414.5h6v6h-6zM430.4 414.5h6v6h-6zM409.4 420.5h6v6h-6zM430.4 420.5h6v6h-6z"/>
<path fill="#464646" d="M439.4 222.5h3v6h-3zM439.4 228.5h3v6h-3zM439.4 234.5h3v6h-3zM439.4 240.5h3v6h-3zM439.4 246.5h3v6h-3zM439.4 252.5h3v6h-3zM439.4 258.5h3v6h-3zM436.4 276.5h3v6h-3zM436.4 282.5h3v6h-3zM436.4 288.5h3v6h-3zM436.4 294.5h3v6h-3zM436.4 300.5h3v6h-3zM439.4 306.5h3v6h-3zM442.4 312.5h3v6h-3zM364.4 342.5h3v6h-3zM451.4 348.5h3v6h-3zM361.4 354.5h3v6h-3zM451.4 354.5h3v6h-3zM361.4 360.5h3v6h-3zM418.4 360.5h3v6h-3zM451.4 360.5h3v6h-3zM418.4 366.5h9v6h-9zM451.4 366.5h3v6h-3zM415.4 372.5h12v6h-12zM451.4 372.5h3v6h-3zM415.4 378.5h3v6h-3zM421.4 378.5h9v6h-9zM451.4 378.5h3v6h-3zM415.4 384.5h3v6h-3zM424.4 384.5h6v6h-6zM451.4 384.5h3v6h-3zM367.4 390.5h3v6h-3zM415.4 390.5h3v6h-3zM424.4 390.5h6v6h-6zM451.4 390.5h3v6h-3zM367.4 396.5h3v6h-3zM415.4 396.5h3v6h-3zM424.4 396.5h6v6h-6zM451.4 396.5h3v6h-3zM367.4 402.5h3v6h-3zM415.4 402.5h3v6h-3zM424.4 402.5h6v6h-6zM451.4 402.5h3v6h-3zM367.4 408.5h3v6h-3zM415.4 408.5h3v6h-3zM424.4 408.5h6v6h-6zM451.4 408.5h3v6h-3zM367.4 414.5h3v6h-3zM415.4 414.5h3v6h-3zM424.4 414.5h6v6h-6zM451.4 414.5h3v6h-3zM367.4 420.5h3v6h-3zM415.4 420.5h3v6h-3zM424.4 420.5h6v6h-6zM451.4 420.5h3v6h-3z"/>
<path fill="#474747" d="M334.4 222.5h3v6h-3zM334.4 228.5h3v6h-3zM334.4 234.5h3v6h-3zM334.4 240.5h3v6h-3zM334.4 246.5h3v6h-3zM334.4 252.5h3v6h-3zM334.4 258.5h3v6h-3zM334.4 264.5h3v6h-3zM439.4 264.5h3v6h-3zM334.4 270.5h3v6h-3zM439.4 270.5h3v6h-3zM334.4 276.5h3v6h-3zM439.4 276.5h3v6h-3zM334.4 282.5h3v6h-3zM334.4 288.5h3v6h-3zM334.4 294.5h3v6h-3zM439.4 300.5h3v6h-3zM442.4 306.5h3v6h-3zM445.4 312.5h3v6h-3zM448.4 324.5h3v6h-3zM451.4 342.5h3v6h-3zM364.4 348.5h3v6h-3zM364.4 354.5h3v6h-3zM361.4 366.5h3v6h-3zM361.4 372.5h3v6h-3zM418.4 378.5h3v6h-3zM418.4 384.5h6v6h-6zM418.4 390.5h6v6h-6zM418.4 396.5h6v6h-6zM487.4 396.5h12v6h-12zM418.4 402.5h6v6h-6zM487.4 402.5h12v6h-12zM418.4 408.5h6v6h-6zM487.4 408.5h12v6h-12zM418.4 414.5h6v6h-6zM487.4 414.5h12v6h-12zM418.4 420.5h6v6h-6zM487.4 420.5h12v6h-12z"/>
<path fill="#484848" d="M331.4 222.5h3v6h-3zM331.4 228.5h3v6h-3zM331.4 234.5h3v6h-3zM331.4 240.5h3v6h-3zM331.4 246.5h3v6h-3zM331.4 252.5h3v6h-3zM331.4 258.5h3v6h-3zM331.4 264.5h3v6h-3zM331.4 270.5h3v6h-3zM331.4 276.5h3v6h-3zM331.4 282.5h3v6h-3zM439.4 282.5h3v6h-3zM331.4 288.5h3v6h-3zM439.4 288.5h3v6h-3zM439.4 294.5h3v6h-3zM334.4 300.5h3v6h-3zM448.4 318.5h3v6h-3zM364.4 360.5h3v6h-3zM364.4 366.5h3v6h-3zM361.4 378.5h3v6h-3zM361.4 384.5h3v6h-3zM484.4 390.5h15v6h-15zM484.4 396.5h3v6h-3zM484.4 402.5h3v6h-3zM484.4 408.5h3v6h-3zM484.4 414.5h3v6h-3zM484.4 420.5h3v6h-3z"/>
<path fill="#494949" d="M442.4 222.5h3v6h-3zM442.4 228.5h3v6h-3zM442.4 234.5h3v6h-3zM442.4 240.5h3v6h-3zM442.4 246.5h3v6h-3zM442.4 252.5h3v6h-3zM442.4 258.5h3v6h-3zM331.4 294.5h3v6h-3zM331.4 300.5h3v6h-3zM442.4 300.5h3v6h-3zM334.4 306.5h3v6h-3zM445.4 306.5h3v6h-3zM334.4 312.5h3v6h-3zM451.4 336.5h3v6h-3zM364.4 372.5h3v6h-3zM334.4 384.5h3v6h-3zM484.4 384.5h15v6h-15zM334.4 390.5h3v6h-3zM361.4 390.5h3v6h-3zM334.4 396.5h3v6h-3zM361.4 396.5h3v6h-3zM334.4 402.5h3v6h-3zM361.4 402.5h3v6h-3zM334.4 408.5h3v6h-3zM361.4 408.5h3v6h-3zM334.4 414.5h3v6h-3zM361.4 414.5h3v6h-3zM334.4 420.5h3v6h-3zM361.4 420.5h3v6h-3z"/>
<path fill="#4a4a4a" d="M328.4 222.5h3v6h-3zM328.4 228.5h3v6h-3zM328.4 234.5h3v6h-3zM328.4 240.5h3v6h-3zM328.4 246.5h3v6h-3zM328.4 252.5h3v6h-3zM328.4 258.5h3v6h-3zM328.4 264.5h3v6h-3zM442.4 264.5h3v6h-3zM328.4 270.5h3v6h-3zM442.4 270.5h3v6h-3zM328.4 276.5h3v6h-3zM442.4 276.5h3v6h-3zM328.4 282.5h3v6h-3zM328.4 288.5h3v6h-3zM328.4 294.5h3v6h-3zM442.4 294.5h3v6h-3zM331.4 306.5h3v6h-3zM448.4 312.5h3v6h-3zM334.4 318.5h3v6h-3zM334.4 324.5h3v6h-3zM451.4 330.5h3v6h-3zM334.4 372.5h3v6h-3zM334.4 378.5h3v6h-3zM364.4 378.5h3v6h-3zM487.4 378.5h12v6h-12zM364.4 384.5h3v6h-3z"/>
<path fill="#4b4b4b" d="M445.4 222.5h3v6h-3zM445.4 228.5h3v6h-3zM445.4 234.5h3v6h-3zM445.4 240.5h3v6h-3zM445.4 246.5h3v6h-3zM442.4 282.5h3v6h-3zM442.4 288.5h3v6h-3zM328.4 300.5h3v6h-3zM445.4 300.5h3v6h-3zM328.4 306.5h3v6h-3zM331.4 312.5h3v6h-3zM331.4 318.5h3v6h-3zM334.4 330.5h3v6h-3zM334.4 366.5h3v6h-3zM484.4 378.5h3v6h-3zM364.4 390.5h3v6h-3zM364.4 396.5h3v6h-3zM364.4 402.5h3v6h-3zM364.4 408.5h3v6h-3zM364.4 414.5h3v6h-3zM364.4 420.5h3v6h-3z"/>
<path fill="#4c4c4c" d="M445.4 252.5h3v6h-3zM445.4 258.5h3v6h-3zM445.4 264.5h3v6h-3zM448.4 306.5h3v6h-3zM328.4 312.5h3v6h-3zM331.4 324.5h3v6h-3zM451.4 324.5h3v6h-3zM331.4 330.5h3v6h-3zM334.4 336.5h3v6h-3zM334.4 342.5h3v6h-3zM334.4 354.5h3v6h-3zM334.4 360.5h3v6h-3zM484.4 372.5h15v6h-15zM331.4 384.5h3v6h-3zM331.4 390.5h3v6h-3zM331.4 396.5h3v6h-3zM331.4 402.5h3v6h-3zM331.4 408.5h3v6h-3zM331.4 414.5h3v6h-3zM331.4 420.5h3v6h-3z"/>
<path fill="#4d4d4d" d="M445.4 270.5h3v6h-3zM445.4 276.5h3v6h-3zM445.4 282.5h3v6h-3zM445.4 294.5h3v6h-3zM328.4 318.5h3v6h-3zM451.4 318.5h3v6h-3zM328.4 324.5h3v6h-3zM331.4 336.5h3v6h-3zM334.4 348.5h3v6h-3zM331.4 360.5h3v6h-3zM331.4 366.5h3v6h-3zM484.4 366.5h15v6h-15zM331.4 372.5h3v6h-3zM331.4 378.5h3v6h-3z"/>
<path fill="#4e4e4e" d="M448.4 222.5h3v6h-3zM448.4 228.5h3v6h-3zM448.4 234.5h3v6h-3zM448.4 240.5h3v6h-3zM448.4 246.5h3v6h-3zM445.4 288.5h3v6h-3zM448.4 300.5h3v6h-3zM328.4 330.5h3v6h-3zM328.4 336.5h3v6h-3zM331.4 342.5h3v6h-3zM331.4 348.5h3v6h-3zM454.4 348.5h3v6h-3zM331.4 354.5h3v6h-3zM454.4 354.5h3v6h-3zM454.4 360.5h3v6h-3z"/>
<path fill="#4f4f4f" d="M448.4 252.5h3v6h-3zM448.4 258.5h3v6h-3zM448.4 264.5h3v6h-3zM451.4 312.5h3v6h-3zM328.4 342.5h3v6h-3zM454.4 342.5h3v6h-3zM328.4 348.5h3v6h-3zM328.4 354.5h3v6h-3zM328.4 360.5h3v6h-3zM484.4 360.5h15v6h-15zM328.4 366.5h3v6h-3zM454.4 366.5h3v6h-3zM328.4 372.5h3v6h-3zM454.4 372.5h3v6h-3zM328.4 378.5h3v6h-3zM454.4 378.5h3v6h-3zM328.4 384.5h3v6h-3zM454.4 384.5h3v6h-3zM328.4 390.5h3v6h-3zM454.4 390.5h3v6h-3zM328.4 396.5h3v6h-3zM454.4 396.5h3v6h-3zM481.4 396.5h3v6h-3zM328.4 402.5h3v6h-3zM454.4 402.5h3v6h-3zM481.4 402.5h3v6h-3zM328.4 408.5h3v6h-3zM454.4 408.5h3v6h-3zM481.4 408.5h3v6h-3zM328.4 414.5h3v6h-3zM454.4 414.5h3v6h-3zM481.4 414.5h3v6h-3zM328.4 420.5h3v6h-3zM454.4 420.5h3v6h-3zM481.4 420.5h3v6h-3z"/>
<path fill="#505050" d="M448.4 270.5h3v6h-3zM448.4 276.5h3v6h-3zM448.4 282.5h3v6h-3zM448.4 294.5h3v6h-3zM451.4 306.5h3v6h-3zM454.4 336.5h3v6h-3zM484.4 354.5h15v6h-15zM481.4 390.5h3v6h-3z"/>
<path fill="#515151" d="M325.4 222.5h3v6h-3zM451.4 222.5h3v6h-3zM325.4 228.5h3v6h-3zM451.4 228.5h3v6h-3zM325.4 234.5h3v6h-3zM451.4 234.5h3v6h-3zM325.4 240.5h3v6h-3zM451.4 240.5h3v6h-3zM325.4 246.5h3v6h-3zM451.4 246.5h3v6h-3zM325.4 252.5h3v6h-3zM325.4 258.5h3v6h-3zM325.4 264.5h3v6h-3zM325.4 270.5h3v6h-3zM325.4 276.5h3v6h-3zM325.4 282.5h3v6h-3zM325.4 288.5h3v6h-3zM448.4 288.5h3v6h-3zM325.4 294.5h3v6h-3zM325.4 300.5h3v6h-3zM454.4 330.5h3v6h-3zM484.4 348.5h15v6h-15zM481.4 384.5h3v6h-3z"/>
<path fill="#525252" d="M451.4 252.5h3v6h-3zM451.4 258.5h3v6h-3zM451.4 264.5h3v6h-3zM451.4 300.5h3v6h-3zM325.4 306.5h3v6h-3zM325.4 312.5h3v6h-3zM325.4 318.5h3v6h-3zM454.4 324.5h3v6h-3zM481.4 378.5h3v6h-3z"/>
<path fill="#535353" d="M451.4 270.5h3v6h-3zM451.4 276.5h3v6h-3zM451.4 294.5h3v6h-3zM454.4 318.5h3v6h-3zM325.4 324.5h3v6h-3zM325.4 330.5h3v6h-3zM481.4 372.5h3v6h-3z"/>
<path fill="#545454" d="M451.4 282.5h3v6h-3zM451.4 288.5h3v6h-3zM454.4 312.5h3v6h-3zM325.4 336.5h3v6h-3zM325.4 342.5h3v6h-3zM325.4 348.5h3v6h-3zM325.4 354.5h3v6h-3zM325.4 360.5h3v6h-3zM325.4 366.5h3v6h-3zM481.4 366.5h3v6h-3zM325.4 372.5h3v6h-3zM325.4 378.5h3v6h-3zM325.4 384.5h3v6h-3zM325.4 390.5h3v6h-3zM325.4 396.5h3v6h-3zM325.4 402.5h3v6h-3zM325.4 408.5h3v6h-3zM325.4 414.5h3v6h-3zM325.4 420.5h3v6h-3z"/>
<path fill="#555555" d="M454.4 222.5h3v6h-3zM454.4 228.5h3v6h-3zM454.4 234.5h3v6h-3zM454.4 240.5h3v6h-3zM454.4 246.5h3v6h-3zM454.4 252.5h3v6h-3zM454.4 258.5h3v6h-3zM454.4 306.5h3v6h-3zM484.4 342.5h15v6h-15z"/>
<path fill="#565656" d="M454.4 264.5h3v6h-3zM454.4 270.5h3v6h-3zM454.4 276.5h3v6h-3zM454.4 300.5h3v6h-3zM457.4 348.5h3v6h-3zM481.4 360.5h3v6h-3z"/>
<path fill="#575757" d="M322.4 222.5h3v6h-3zM322.4 228.5h3v6h-3zM322.4 234.5h3v6h-3zM322.4 240.5h3v6h-3zM322.4 246.5h3v6h-3zM322.4 252.5h3v6h-3zM322.4 258.5h3v6h-3zM322.4 264.5h3v6h-3zM322.4 270.5h3v6h-3zM322.4 276.5h3v6h-3zM322.4 282.5h3v6h-3zM454.4 282.5h3v6h-3zM322.4 288.5h3v6h-3zM454.4 288.5h3v6h-3zM322.4 294.5h3v6h-3zM454.4 294.5h3v6h-3zM322.4 300.5h3v6h-3zM457.4 330.5h3v6h-3zM457.4 336.5h3v6h-3zM457.4 342.5h3v6h-3zM457.4 354.5h3v6h-3zM481.4 354.5h3v6h-3zM457.4 360.5h3v6h-3zM457.4 366.5h3v6h-3zM457.4 372.5h3v6h-3zM478.4 390.5h3v6h-3zM478.4 396.5h3v6h-3zM478.4 402.5h3v6h-3zM478.4 408.5h3v6h-3zM478.4 414.5h3v6h-3zM478.4 420.5h3v6h-3z"/>
<path fill="#585858" d="M457.4 222.5h3v6h-3zM457.4 228.5h3v6h-3zM457.4 234.5h3v6h-3zM457.4 240.5h3v6h-3zM457.4 246.5h3v6h-3zM457.4 252.5h3v6h-3zM457.4 258.5h3v6h-3zM322.4 306.5h3v6h-3zM322.4 312.5h3v6h-3zM322.4 318.5h3v6h-3zM457.4 318.5h3v6h-3zM322.4 324.5h3v6h-3zM457.4 324.5h3v6h-3zM487.4 336.5h12v6h-12zM481.4 348.5h3v6h-3zM457.4 378.5h3v6h-3zM457.4 384.5h3v6h-3zM478.4 384.5h3v6h-3zM457.4 390.5h3v6h-3zM457.4 396.5h3v6h-3zM457.4 402.5h3v6h-3zM457.4 408.5h3v6h-3zM457.4 414.5h3v6h-3zM457.4 420.5h3v6h-3z"/>
<path fill="#595959" d="M457.4 264.5h3v6h-3zM457.4 270.5h3v6h-3zM457.4 306.5h3v6h-3zM457.4 312.5h3v6h-3zM322.4 330.5h3v6h-3zM322.4 336.5h3v6h-3zM484.4 336.5h3v6h-3zM322.4 342.5h3v6h-3zM322.4 348.5h3v6h-3zM322.4 354.5h3v6h-3zM322.4 360.5h3v6h-3zM322.4 366.5h3v6h-3zM322.4 372.5h3v6h-3zM322.4 378.5h3v6h-3zM478.4 378.5h3v6h-3zM322.4 384.5h3v6h-3zM322.4 390.5h3v6h-3zM322.4 396.5h3v6h-3zM322.4 402.5h3v6h-3zM322.4 408.5h3v6h-3zM322.4 414.5h3v6h-3zM322.4 420.5h3v6h-3z"/>
<path fill="#5a5a5a" d="M457.4 276.5h3v6h-3zM457.4 282.5h3v6h-3zM457.4 288.5h3v6h-3zM457.4 294.5h3v6h-3zM457.4 300.5h3v6h-3zM478.4 372.5h3v6h-3z"/>
<path fill="#5b5b5b" d="M481.4 342.5h3v6h-3zM478.4 366.5h3v6h-3zM475.4 384.5h3v6h-3zM475.4 390.5h3v6h-3zM475.4 396.5h3v6h-3zM475.4 402.5h3v6h-3zM475.4 408.5h3v6h-3zM475.4 414.5h3v6h-3zM475.4 420.5h3v6h-3z"/>
<path fill="#5c5c5c" d="M460.4 222.5h3v6h-3zM460.4 228.5h3v6h-3zM460.4 234.5h3v6h-3zM460.4 240.5h3v6h-3zM460.4 246.5h3v6h-3zM460.4 252.5h3v6h-3zM460.4 258.5h3v6h-3zM484.4 330.5h15v6h-15zM478.4 360.5h3v6h-3zM475.4 378.5h3v6h-3z"/>
<path fill="#5d5d5d" d="M319.4 222.5h3v6h-3zM319.4 228.5h3v6h-3zM319.4 234.5h3v6h-3zM319.4 240.5h3v6h-3zM319.4 246.5h3v6h-3zM319.4 252.5h3v6h-3zM319.4 258.5h3v6h-3zM319.4 264.5h3v6h-3zM460.4 264.5h3v6h-3zM319.4 270.5h3v6h-3zM460.4 270.5h3v6h-3zM319.4 276.5h3v6h-3zM460.4 276.5h3v6h-3zM319.4 282.5h3v6h-3zM319.4 288.5h3v6h-3zM319.4 294.5h3v6h-3zM319.4 300.5h3v6h-3zM460.4 336.5h3v6h-3zM460.4 342.5h3v6h-3zM460.4 348.5h3v6h-3zM460.4 354.5h3v6h-3zM478.4 354.5h3v6h-3zM460.4 360.5h3v6h-3zM460.4 366.5h3v6h-3zM475.4 366.5h3v6h-3zM460.4 372.5h3v6h-3zM475.4 372.5h3v6h-3zM460.4 378.5h3v6h-3zM319.4 384.5h3v6h-3zM460.4 384.5h3v6h-3zM319.4 390.5h3v6h-3zM460.4 390.5h3v6h-3zM319.4 396.5h3v6h-3zM460.4 396.5h3v6h-3zM319.4 402.5h3v6h-3zM460.4 402.5h3v6h-3zM319.4 408.5h3v6h-3zM460.4 408.5h3v6h-3zM319.4 414.5h3v6h-3zM460.4 414.5h3v6h-3zM319.4 420.5h3v6h-3zM460.4 420.5h3v6h-3z"/>
<path fill="#5e5e5e" d="M460.4 282.5h3v6h-3zM460.4 288.5h3v6h-3zM460.4 294.5h3v6h-3zM460.4 300.5h3v6h-3zM319.4 306.5h3v6h-3zM460.4 306.5h3v6h-3zM319.4 312.5h3v6h-3zM460.4 312.5h3v6h-3zM319.4 318.5h3v6h-3zM460.4 318.5h3v6h-3zM319.4 324.5h3v6h-3zM460.4 324.5h3v6h-3zM319.4 330.5h3v6h-3zM460.4 330.5h3v6h-3zM319.4 336.5h3v6h-3zM481.4 336.5h3v6h-3zM319.4 342.5h3v6h-3zM319.4 348.5h3v6h-3zM478.4 348.5h3v6h-3zM319.4 354.5h3v6h-3zM319.4 360.5h3v6h-3zM475.4 360.5h3v6h-3zM319.4 366.5h3v6h-3zM319.4 372.5h3v6h-3zM319.4 378.5h3v6h-3zM472.4 390.5h3v6h-3zM472.4 396.5h3v6h-3zM472.4 402.5h3v6h-3zM472.4 408.5h3v6h-3zM472.4 414.5h3v6h-3zM472.4 420.5h3v6h-3z"/>
<path fill="#5f5f5f" d="M463.4 222.5h3v6h-3zM463.4 228.5h3v6h-3zM463.4 234.5h3v6h-3zM463.4 240.5h3v6h-3zM463.4 246.5h3v6h-3zM475.4 354.5h3v6h-3zM472.4 378.5h3v6h-3zM472.4 384.5h3v6h-3zM469.4 390.5h3v6h-3zM469.4 396.5h3v6h-3zM469.4 402.5h3v6h-3zM469.4 408.5h3v6h-3zM469.4 414.5h3v6h-3zM469.4 420.5h3v6h-3z"/>
<path fill="#606060" d="M463.4 252.5h3v6h-3zM463.4 258.5h3v6h-3zM463.4 264.5h3v6h-3zM484.4 324.5h15v6h-15zM478.4 342.5h3v6h-3zM475.4 348.5h3v6h-3zM472.4 360.5h3v6h-3zM472.4 366.5h3v6h-3zM472.4 372.5h3v6h-3zM469.4 378.5h3v6h-3zM469.4 384.5h3v6h-3zM463.4 390.5h6v6h-6zM463.4 396.5h6v6h-6zM463.4 402.5h6v6h-6zM463.4 408.5h6v6h-6zM463.4 414.5h6v6h-6zM463.4 420.5h6v6h-6z"/>
<path fill="#616161" d="M463.4 270.5h3v6h-3zM463.4 276.5h3v6h-3zM481.4 330.5h3v6h-3zM475.4 342.5h3v6h-3zM472.4 348.5h3v6h-3zM472.4 354.5h3v6h-3zM469.4 366.5h3v6h-3zM469.4 372.5h3v6h-3zM463.4 378.5h3v6h-3zM316.4 384.5h3v6h-3zM463.4 384.5h6v6h-6zM316.4 390.5h3v6h-3zM316.4 396.5h3v6h-3zM316.4 402.5h3v6h-3zM316.4 408.5h3v6h-3zM316.4 414.5h3v6h-3zM316.4 420.5h3v6h-3z"/>
<path fill="#626262" d="M463.4 282.5h3v6h-3zM463.4 288.5h3v6h-3zM463.4 294.5h3v6h-3zM463.4 300.5h3v6h-3zM463.4 306.5h3v6h-3zM472.4 342.5h3v6h-3zM469.4 354.5h3v6h-3zM469.4 360.5h3v6h-3zM316.4 366.5h3v6h-3zM463.4 366.5h3v6h-3zM316.4 372.5h3v6h-3zM463.4 372.5h6v6h-6zM316.4 378.5h3v6h-3zM466.4 378.5h3v6h-3z"/>
<path fill="#636363" d="M466.4 222.5h3v6h-3zM466.4 228.5h3v6h-3zM466.4 234.5h3v6h-3zM466.4 240.5h3v6h-3zM466.4 246.5h3v6h-3zM463.4 312.5h3v6h-3zM463.4 318.5h3v6h-3zM463.4 324.5h3v6h-3zM463.4 330.5h3v6h-3zM463.4 336.5h3v6h-3zM472.4 336.5h9v6h-9zM469.4 342.5h3v6h-3zM316.4 348.5h3v6h-3zM469.4 348.5h3v6h-3zM316.4 354.5h3v6h-3zM463.4 354.5h3v6h-3zM316.4 360.5h3v6h-3zM463.4 360.5h6v6h-6zM466.4 366.5h3v6h-3z"/>
<path fill="#646464" d="M316.4 222.5h3v6h-3zM316.4 228.5h3v6h-3zM316.4 234.5h3v6h-3zM316.4 240.5h3v6h-3zM316.4 246.5h3v6h-3zM316.4 252.5h3v6h-3zM466.4 252.5h3v6h-3zM316.4 258.5h3v6h-3zM466.4 258.5h3v6h-3zM316.4 264.5h3v6h-3zM466.4 264.5h3v6h-3zM316.4 270.5h3v6h-3zM316.4 276.5h3v6h-3zM316.4 282.5h3v6h-3zM316.4 288.5h3v6h-3zM316.4 294.5h3v6h-3zM316.4 300.5h3v6h-3zM316.4 306.5h3v6h-3zM316.4 312.5h3v6h-3zM316.4 318.5h3v6h-3zM484.4 318.5h15v6h-15zM316.4 324.5h3v6h-3zM481.4 324.5h3v6h-3zM316.4 330.5h3v6h-3zM316.4 336.5h3v6h-3zM469.4 336.5h3v6h-3zM316.4 342.5h3v6h-3zM463.4 342.5h3v6h-3zM463.4 348.5h3v6h-3zM466.4 354.5h3v6h-3z"/>
<path fill="#656565" d="M466.4 270.5h3v6h-3zM466.4 276.5h3v6h-3zM466.4 282.5h3v6h-3zM466.4 312.5h3v6h-3zM466.4 318.5h3v6h-3zM466.4 324.5h3v6h-3zM466.4 330.5h15v6h-15zM466.4 336.5h3v6h-3zM466.4 342.5h3v6h-3zM466.4 348.5h3v6h-3zM313.4 384.5h3v6h-3zM313.4 390.5h3v6h-3zM313.4 396.5h3v6h-3zM313.4 402.5h3v6h-3zM313.4 408.5h3v6h-3zM313.4 414.5h3v6h-3zM313.4 420.5h3v6h-3z"/>
<path fill="#666666" d="M313.4 222.5h3v6h-3zM313.4 228.5h3v6h-3zM313.4 234.5h3v6h-3zM313.4 240.5h3v6h-3zM313.4 246.5h3v6h-3zM313.4 252.5h3v6h-3zM313.4 258.5h3v6h-3zM313.4 264.5h3v6h-3zM313.4 270.5h3v6h-3zM313.4 276.5h3v6h-3zM313.4 282.5h3v6h-3zM313.4 288.5h3v6h-3zM466.4 288.5h3v6h-3zM313.4 294.5h3v6h-3zM466.4 294.5h3v6h-3zM313.4 300.5h3v6h-3zM466.4 300.5h3v6h-3zM313.4 306.5h3v6h-3zM466.4 306.5h3v6h-3zM469.4 318.5h3v6h-3zM469.4 324.5h6v6h-6zM313.4 366.5h3v6h-3zM313.4 372.5h3v6h-3zM313.4 378.5h3v6h-3z"/>
<path fill="#676767" d="M469.4 222.5h3v6h-3zM469.4 228.5h3v6h-3zM469.4 234.5h3v6h-3zM469.4 240.5h3v6h-3zM469.4 246.5h3v6h-3zM469.4 252.5h3v6h-3zM313.4 312.5h3v6h-3zM469.4 312.5h3v6h-3zM313.4 318.5h3v6h-3zM472.4 318.5h3v6h-3zM481.4 318.5h3v6h-3zM313.4 324.5h3v6h-3zM475.4 324.5h3v6h-3zM313.4 330.5h3v6h-3zM313.4 336.5h3v6h-3zM313.4 342.5h3v6h-3zM313.4 348.5h3v6h-3zM313.4 354.5h3v6h-3zM313.4 360.5h3v6h-3z"/>
<path fill="#686868" d="M469.4 258.5h3v6h-3zM469.4 264.5h3v6h-3zM469.4 270.5h3v6h-3zM469.4 306.5h3v6h-3zM484.4 312.5h15v6h-15zM478.4 324.5h3v6h-3z"/>
<path fill="#696969" d="M310.4 222.5h3v6h-3zM310.4 228.5h3v6h-3zM310.4 234.5h3v6h-3zM310.4 240.5h3v6h-3zM310.4 246.5h3v6h-3zM310.4 252.5h3v6h-3zM310.4 258.5h3v6h-3zM310.4 264.5h3v6h-3zM310.4 270.5h3v6h-3zM310.4 276.5h3v6h-3zM469.4 276.5h3v6h-3zM310.4 282.5h3v6h-3zM469.4 282.5h3v6h-3zM310.4 288.5h3v6h-3zM469.4 288.5h3v6h-3zM310.4 294.5h3v6h-3zM469.4 294.5h3v6h-3zM310.4 300.5h3v6h-3zM469.4 300.5h3v6h-3zM310.4 306.5h3v6h-3zM472.4 312.5h3v6h-3zM475.4 318.5h3v6h-3zM310.4 378.5h3v6h-3zM310.4 384.5h3v6h-3zM310.4 390.5h3v6h-3zM310.4 396.5h3v6h-3zM310.4 402.5h3v6h-3zM310.4 408.5h3v6h-3zM310.4 414.5h3v6h-3zM310.4 420.5h3v6h-3z"/>
<path fill="#6a6a6a" d="M472.4 306.5h3v6h-3zM310.4 312.5h3v6h-3zM481.4 312.5h3v6h-3zM310.4 318.5h3v6h-3zM478.4 318.5h3v6h-3zM310.4 324.5h3v6h-3zM310.4 330.5h3v6h-3zM310.4 360.5h3v6h-3zM310.4 366.5h3v6h-3zM310.4 372.5h3v6h-3z"/>
<path fill="#6b6b6b" d="M472.4 222.5h3v6h-3zM472.4 228.5h3v6h-3zM472.4 234.5h3v6h-3zM472.4 240.5h3v6h-3zM472.4 246.5h3v6h-3zM472.4 252.5h3v6h-3zM475.4 312.5h3v6h-3zM310.4 336.5h3v6h-3zM310.4 342.5h3v6h-3zM310.4 348.5h3v6h-3zM310.4 354.5h3v6h-3z"/>
<path fill="#6c6c6c" d="M472.4 258.5h3v6h-3zM472.4 264.5h3v6h-3zM472.4 270.5h3v6h-3zM472.4 300.5h3v6h-3zM484.4 306.5h15v6h-15zM307.4 378.5h3v6h-3zM307.4 384.5h3v6h-3zM307.4 390.5h3v6h-3zM307.4 396.5h3v6h-3zM307.4 402.5h3v6h-3zM307.4 408.5h3v6h-3zM307.4 414.5h3v6h-3zM307.4 420.5h3v6h-3z"/>
<path fill="#6d6d6d" d="M472.4 276.5h3v6h-3zM472.4 282.5h3v6h-3zM472.4 288.5h3v6h-3zM307.4 294.5h3v6h-3zM472.4 294.5h3v6h-3zM307.4 300.5h3v6h-3zM475.4 306.5h3v6h-3zM478.4 312.5h3v6h-3zM307.4 360.5h3v6h-3zM307.4 366.5h3v6h-3zM307.4 372.5h3v6h-3z"/>
<path fill="#6e6e6e" d="M307.4 276.5h3v6h-3zM307.4 282.5h3v6h-3zM307.4 288.5h3v6h-3zM307.4 306.5h3v6h-3zM481.4 306.5h3v6h-3zM307.4 312.5h3v6h-3zM307.4 318.5h3v6h-3zM307.4 324.5h3v6h-3zM307.4 330.5h3v6h-3zM307.4 336.5h3v6h-3zM307.4 342.5h3v6h-3zM307.4 348.5h3v6h-3zM307.4 354.5h3v6h-3z"/>
<path fill="#6f6f6f" d="M307.4 264.5h3v6h-3zM307.4 270.5h3v6h-3zM475.4 300.5h3v6h-3zM478.4 306.5h3v6h-3z"/>
<path fill="#707070" d="M307.4 222.5h3v6h-3zM475.4 222.5h3v6h-3zM307.4 228.5h3v6h-3zM475.4 228.5h3v6h-3zM307.4 234.5h3v6h-3zM475.4 234.5h3v6h-3zM307.4 240.5h3v6h-3zM475.4 240.5h3v6h-3zM307.4 246.5h3v6h-3zM475.4 246.5h3v6h-3zM307.4 252.5h3v6h-3zM475.4 252.5h3v6h-3zM307.4 258.5h3v6h-3zM475.4 258.5h3v6h-3zM484.4 300.5h15v6h-15z"/>
<path fill="#717171" d="M475.4 264.5h3v6h-3zM475.4 270.5h3v6h-3zM475.4 276.5h3v6h-3zM475.4 282.5h3v6h-3zM475.4 288.5h3v6h-3zM475.4 294.5h3v6h-3zM481.4 300.5h3v6h-3zM304.4 384.5h3v6h-3zM304.4 390.5h3v6h-3zM304.4 396.5h3v6h-3zM304.4 402.5h3v6h-3zM304.4 408.5h3v6h-3zM304.4 414.5h3v6h-3zM304.4 420.5h3v6h-3z"/>
<path fill="#727272" d="M478.4 300.5h3v6h-3zM304.4 372.5h3v6h-3zM304.4 378.5h3v6h-3z"/>
<path fill="#737373" d="M304.4 360.5h3v6h-3zM304.4 366.5h3v6h-3z"/>
<path fill="#747474" d="M478.4 294.5h21v6h-21zM304.4 348.5h3v6h-3zM304.4 354.5h3v6h-3z"/>
<path fill="#757575" d="M478.4 222.5h3v6h-3zM478.4 228.5h3v6h-3zM478.4 234.5h3v6h-3zM478.4 240.5h3v6h-3zM478.4 246.5h3v6h-3zM478.4 252.5h3v6h-3zM478.4 258.5h3v6h-3zM478.4 264.5h3v6h-3zM478.4 270.5h3v6h-3zM478.4 276.5h3v6h-3zM478.4 282.5h3v6h-3zM304.4 288.5h3v6h-3zM478.4 288.5h6v6h-6zM304.4 294.5h3v6h-3zM304.4 300.5h3v6h-3zM304.4 306.5h3v6h-3zM304.4 312.5h3v6h-3zM304.4 318.5h3v6h-3zM304.4 324.5h3v6h-3zM304.4 330.5h3v6h-3zM304.4 336.5h3v6h-3zM304.4 342.5h3v6h-3zM292.4 390.5h12v6h-12zM292.4 396.5h12v6h-12zM292.4 402.5h12v6h-12zM292.4 408.5h12v6h-12zM292.4 414.5h12v6h-12zM292.4 420.5h12v6h-12z"/>
<path fill="#767676" d="M481.4 270.5h3v6h-3zM481.4 276.5h3v6h-3zM304.4 282.5h3v6h-3zM481.4 282.5h18v6h-18zM484.4 288.5h15v6h-15zM292.4 384.5h12v6h-12z"/>
<path fill="#777777" d="M481.4 252.5h3v6h-3zM481.4 258.5h3v6h-3zM481.4 264.5h3v6h-3zM304.4 276.5h3v6h-3zM484.4 276.5h15v6h-15zM292.4 378.5h12v6h-12z"/>
<path fill="#787878" d="M481.4 222.5h3v6h-3zM481.4 228.5h3v6h-3zM481.4 234.5h3v6h-3zM481.4 240.5h3v6h-3zM481.4 246.5h3v6h-3zM484.4 264.5h15v6h-15zM304.4 270.5h3v6h-3zM484.4 270.5h15v6h-15zM292.4 366.5h12v6h-12zM292.4 372.5h12v6h-12z"/>
<path fill="#797979" d="M484.4 258.5h15v6h-15zM304.4 264.5h3v6h-3zM292.4 360.5h12v6h-12z"/>
<path fill="#7a7a7a" d="M484.4 222.5h15v6h-15zM484.4 228.5h15v6h-15zM484.4 234.5h15v6h-15zM484.4 240.5h15v6h-15zM484.4 246.5h15v6h-15zM484.4 252.5h15v6h-15zM304.4 258.5h3v6h-3zM292.4 294.5h12v6h-12zM292.4 300.5h12v6h-12zM292.4 306.5h12v6h-12zM292.4 312.5h12v6h-12zM292.4 318.5h12v6h-12zM292.4 324.5h12v6h-12zM292.4 330.5h12v6h-12zM292.4 336.5h12v6h-12zM292.4 342.5h12v6h-12zM292.4 348.5h12v6h-12zM292.4 354.5h12v6h-12z"/>
<path fill="#7b7b7b" d="M304.4 252.5h3v6h-3zM292.4 288.5h12v6h-12z"/>
<path fill="#7c7c7c" d="M304.4 222.5h3v6h-3zM304.4 228.5h3v6h-3zM304.4 234.5h3v6h-3zM304.4 240.5h3v6h-3zM304.4 246.5h3v6h-3z"/>
<path fill="#7d7d7d" d="M292.4 282.5h12v6h-12z"/>
<path fill="#7e7e7e" d="M292.4 276.5h12v6h-12z"/>
<path fill="#7f7f7f" d="M292.4 270.5h12v6h-12z"/>
<path fill="#818181" d="M292.4 264.5h12v6h-12z"/>
<path fill="#828282" d="M292.4 258.5h12v6h-12z"/>
<path fill="#838383" d="M292.4 252.5h12v6h-12z"/>
<path fill="#858585" d="M292.4 222.5h12v6h-12zM292.4 228.5h12v6h-12zM292.4 234.5h12v6h-12zM292.4 240.5h12v6h-12zM292.4 246.5h12v6h-12z"/>
</g>
<g filter="url(#sd)" fill="none" stroke-linecap="round">
<path stroke="#0a0a0a" stroke-width="1.5" d="M388 275l1 -20"/>
<path stroke="#0d0d0d" stroke-width="2" d="M396 389l1 -18"/>
<path stroke="#0e0e0e" stroke-width="2" d="M390 406l0 -19M384 377l1 -12"/>
<path stroke="#0f0f0f" stroke-width="1.5" d="M384 415l1 -15M379 344l1 -24"/>
<path stroke="#101010" stroke-width="2" d="M376 273l0 -9"/>
<path stroke="#101010" stroke-width="2.5" d="M396 417l1 -6"/>
<path stroke="#111111" stroke-width="1.5" d="M393 303l1 -13M388 239l0 -12"/>
<path stroke="#121212" stroke-width="1.5" d="M393 291l0 -10"/>
<path stroke="#121212" stroke-width="2" d="M387 291l0 -19M376 309l1 -15"/>
<path stroke="#131313" stroke-width="1.5" d="M398 389l1 -27"/>
<path stroke="#131313" stroke-width="2.5" d="M382 308l1 -17"/>
<path stroke="#141414" stroke-width="1.5" d="M375 248l1 -12"/>
<path stroke="#141414" stroke-width="2" d="M395 352l1 -19M382 342l0 -16"/>
<path stroke="#141414" stroke-width="2.5" d="M390 382l0 -20"/>
<path stroke="#151515" stroke-width="1.5" d="M368 310l1 -24"/>
<path stroke="#151515" stroke-width="2" d="M382 347l1 -19M391 354l2 -30"/>
<path stroke="#171717" stroke-width="2" d="M391 301l0 -26"/>
<path stroke="#171717" stroke-width="2.5" d="M366 302l2 -26"/>
<path stroke="#181818" stroke-width="2" d="M389 413l3 -30"/>
<path stroke="#191919" stroke-width="1.5" d="M369 256l1 -21M385 407l1 -28M399 373l0 -8M389 253l0 -16"/>
<path stroke="#191919" stroke-width="2" d="M382 248l0 -20"/>
<path stroke="#191919" stroke-width="2.5" d="M394 274l2 -25"/>
<path stroke="#1a1a1a" stroke-width="2" d="M397 310l1 -18M378 267l1 -13"/>
<path stroke="#1a1a1a" stroke-width="2.5" d="M375 385l2 -16"/>
<path stroke="#1b1b1b" stroke-width="1.5" d="M380 386l1 -15"/>
<path stroke="#1b1b1b" stroke-width="2" d="M386 388l1 -9"/>
<path stroke="#1c1c1c" stroke-width="1.5" d="M371 312l1 -19"/>
<path stroke="#1c1c1c" stroke-width="2" d="M393 246l0 -11M378 342l1 -13"/>
<path stroke="#1c1c1c" stroke-width="2.5" d="M390 278l1 -20M382 357l1 -9"/>
<path stroke="#1d1d1d" stroke-width="1" d="M390 306l2 -23"/>
<path stroke="#1e1e1e" stroke-width="1.5" d="M366 303l0 -17M387 266l2 -32M447 356l0 -20"/>
<path stroke="#1e1e1e" stroke-width="2" d="M367 292l2 -20"/>
<path stroke="#202020" stroke-width="1.5" d="M392 305l2 -20"/>
<path stroke="#202020" stroke-width="2.5" d="M388 292l0 -32"/>
<path stroke="#212121" stroke-width="1.5" d="M394 342l0 -18M367 248l1 -10"/>
<path stroke="#222222" stroke-width="2" d="M419 265l1 -18"/>
<path stroke="#222222" stroke-width="2.5" d="M366 244l3 -32M393 344l1 -12"/>
<path stroke="#232323" stroke-width="1.5" d="M397 311l1 -13"/>
<path stroke="#232323" stroke-width="2.5" d="M397 344l1 -21M394 292l0 -10"/>
<path stroke="#242424" stroke-width="1.5" d="M400 421l0 -20M346 413l0 -20"/>
<path stroke="#242424" stroke-width="2" d="M398 273l1 -15"/>
<path stroke="#252525" stroke-width="2" d="M392 253l3 -28"/>
<path stroke="#272727" stroke-width="1.5" d="M348 361l0 -33"/>
<path stroke="#272727" stroke-width="2" d="M399 395l0 -16"/>
<path stroke="#272727" stroke-width="2.5" d="M352 363l1 -22"/>
<path stroke="#282828" stroke-width="1" d="M447 360l0 -21"/>
<path stroke="#282828" stroke-width="1.5" d="M387 269l2 -27M386 292l0 -12"/>
<path stroke="#282828" stroke-width="2" d="M377 289l1 -29"/>
<path stroke="#282828" stroke-width="2.5" d="M412 238l1 -11"/>
<path stroke="#292929" stroke-width="1.5" d="M404 242l0 -22"/>
<path stroke="#2a2a2a" stroke-width="2" d="M386 263l1 -30M395 376l0 -9"/>
<path stroke="#2a2a2a" stroke-width="2.5" d="M396 403l0 -22"/>
<path stroke="#2b2b2b" stroke-width="2.5" d="M382 374l1 -22M380 329l1 -29M341 355l1 -15"/>
<path stroke="#2c2c2c" stroke-width="1.5" d="M387 247l2 -27M401 259l1 -9M448 394l1 -27"/>
<path stroke="#2c2c2c" stroke-width="2.5" d="M382 415l0 -10M396 357l0 -10"/>
<path stroke="#2d2d2d" stroke-width="1.5" d="M341 367l1 -13M364 270l1 -33"/>
<path stroke="#2d2d2d" stroke-width="2" d="M348 394l1 -26"/>
<path stroke="#2e2e2e" stroke-width="1.5" d="M392 322l1 -15M392 308l2 -28M390 366l2 -23"/>
<path stroke="#2e2e2e" stroke-width="2.5" d="M377 314l1 -12"/>
<path stroke="#2f2f2f" stroke-width="2" d="M391 397l1 -14"/>
<path stroke="#2f2f2f" stroke-width="2.5" d="M382 348l0 -23"/>
<path stroke="#303030" stroke-width="1.5" d="M349 337l1 -14M362 293l3 -28"/>
<path stroke="#303030" stroke-width="2" d="M421 251l1 -9"/>
<path stroke="#303030" stroke-width="2.5" d="M393 296l0 -9M379 340l1 -21M413 266l2 -19"/>
<path stroke="#313131" stroke-width="1.5" d="M386 279l0 -21M375 319l0 -21"/>
<path stroke="#313131" stroke-width="2" d="M379 258l0 -21"/>
<path stroke="#323232" stroke-width="2" d="M389 363l1 -13"/>
<path stroke="#333333" stroke-width="1.5" d="M386 408l3 -33M369 304l0 -14"/>
<path stroke="#333333" stroke-width="2" d="M404 243l0 -33M371 306l0 -9"/>
<path stroke="#333333" stroke-width="2.5" d="M398 390l1 -17M378 408l2 -32"/>
<path stroke="#343434" stroke-width="1.5" d="M381 292l1 -29M394 336l2 -31"/>
<path stroke="#343434" stroke-width="2" d="M369 265l2 -27M372 286l0 -12"/>
<path stroke="#343434" stroke-width="2.5" d="M386 380l2 -32M382 375l1 -20M374 343l1 -10"/>
<path stroke="#353535" stroke-width="1.5" d="M385 411l1 -10"/>
<path stroke="#353535" stroke-width="2.5" d="M366 258l1 -23"/>
<path stroke="#363636" stroke-width="2" d="M378 402l2 -32"/>
<path stroke="#363636" stroke-width="2.5" d="M400 392l1 -11"/>
<path stroke="#373737" stroke-width="1.5" d="M375 261l1 -22M375 374l2 -23M398 384l0 -14"/>
<path stroke="#373737" stroke-width="2" d="M396 356l1 -32M394 412l0 -10"/>
<path stroke="#373737" stroke-width="2.5" d="M444 393l1 -15"/>
<path stroke="#383838" stroke-width="1.5" d="M343 375l0 -10M377 366l3 -30"/>
<path stroke="#383838" stroke-width="2" d="M378 410l1 -28M396 311l1 -28M395 427l3 -33M351 366l2 -31"/>
<path stroke="#383838" stroke-width="2.5" d="M394 275l2 -29M443 411l1 -23M392 294l0 -10"/>
<path stroke="#393939" stroke-width="2" d="M372 261l1 -15M390 265l0 -14"/>
<path stroke="#393939" stroke-width="2.5" d="M427 263l0 -10M396 251l1 -13"/>
<path stroke="#3a3a3a" stroke-width="1.5" d="M408 267l2 -23"/>
<path stroke="#3a3a3a" stroke-width="2" d="M359 260l0 -12M373 265l0 -8M427 301l2 -24"/>
<path stroke="#3a3a3a" stroke-width="2.5" d="M425 294l0 -18M374 399l0 -13M376 410l1 -15M407 294l1 -15"/>
<path stroke="#3b3b3b" stroke-width="1" d="M367 310l1 -17M360 320l2 -30"/>
<path stroke="#3b3b3b" stroke-width="1.5" d="M423 270l0 -17"/>
<path stroke="#3b3b3b" stroke-width="2" d="M403 314l0 -19M345 331l2 -18"/>
<path stroke="#3b3b3b" stroke-width="2.5" d="M428 256l1 -19M364 257l1 -11M444 351l0 -8"/>
<path stroke="#3c3c3c" stroke-width="1" d="M402 248l1 -25"/>
<path stroke="#3c3c3c" stroke-width="1.5" d="M406 273l1 -22M443 363l1 -12"/>
<path stroke="#3c3c3c" stroke-width="2.5" d="M398 303l1 -28M435 236l1 -19"/>
<path stroke="#3d3d3d" stroke-width="2" d="M353 237l1 -11M391 301l1 -17M343 428l3 -32M445 403l2 -31"/>
<path stroke="#3d3d3d" stroke-width="2.5" d="M344 387l0 -8M352 263l2 -31M394 413l2 -32M374 290l0 -22M415 325l0 -14M389 249l0 -10"/>
<path stroke="#3e3e3e" stroke-width="1.5" d="M423 238l2 -16M419 271l1 -12"/>
<path stroke="#3e3e3e" stroke-width="2" d="M427 237l1 -16"/>
<path stroke="#3e3e3e" stroke-width="2.5" d="M368 274l2 -22M406 249l0 -27"/>
<path stroke="#3f3f3f" stroke-width="1.5" d="M404 307l0 -15M346 343l1 -10M404 284l1 -20M392 279l0 -10"/>
<path stroke="#3f3f3f" stroke-width="2" d="M434 401l0 -15M415 395l0 -26M350 360l1 -25M376 400l1 -12M338 304l1 -22"/>
<path stroke="#3f3f3f" stroke-width="2.5" d="M369 350l3 -31M348 243l0 -10M392 278l0 -11M375 345l1 -18M372 254l1 -32"/>
<path stroke="#404040" stroke-width="1.5" d="M427 239l0 -15M426 394l1 -25M339 393l2 -26M412 357l1 -14M361 358l1 -30"/>
<path stroke="#404040" stroke-width="2" d="M342 261l1 -12M453 350l1 -8M440 271l2 -26M345 358l1 -18"/>
<path stroke="#404040" stroke-width="2.5" d="M341 341l1 -11M350 339l0 -14"/>
<path stroke="#414141" stroke-width="1" d="M391 251l1 -13"/>
<path stroke="#414141" stroke-width="1.5" d="M368 336l1 -32M356 340l3 -33M421 291l0 -9M366 280l2 -24"/>
<path stroke="#414141" stroke-width="2" d="M427 373l2 -27M335 292l1 -23M396 240l1 -22M426 423l0 -29"/>
<path stroke="#414141" stroke-width="2.5" d="M371 284l2 -20M423 368l0 -13M367 312l2 -31"/>
<path stroke="#424242" stroke-width="1.5" d="M434 409l0 -10M399 425l1 -13M447 375l1 -20M433 324l0 -19M402 384l0 -25M437 313l1 -15"/>
<path stroke="#424242" stroke-width="2" d="M351 310l1 -19M404 277l2 -23M360 352l2 -28M430 397l1 -28"/>
<path stroke="#424242" stroke-width="2.5" d="M375 419l1 -18M331 301l2 -31"/>
<path stroke="#434343" stroke-width="1.5" d="M365 368l2 -21M342 337l2 -29M488 402l1 -11M366 364l0 -9"/>
<path stroke="#434343" stroke-width="2" d="M357 352l1 -14M341 387l1 -17M401 303l1 -30"/>
<path stroke="#434343" stroke-width="2.5" d="M360 410l0 -14M442 321l0 -11M444 320l1 -11"/>
<path stroke="#444444" stroke-width="1.5" d="M347 323l1 -10M398 247l3 -28M412 248l2 -23"/>
<path stroke="#444444" stroke-width="2" d="M416 255l0 -18M439 287l1 -17M436 387l2 -29M449 421l0 -21"/>
<path stroke="#444444" stroke-width="2.5" d="M346 351l1 -21M367 362l2 -30M358 367l0 -8M338 375l0 -16M450 384l1 -29"/>
<path stroke="#454545" stroke-width="1.5" d="M353 294l1 -12M333 405l3 -32M415 364l1 -23M362 269l0 -25M339 355l3 -25M373 431l2 -26"/>
<path stroke="#454545" stroke-width="2" d="M406 359l0 -15M398 282l1 -20M368 311l3 -24M439 318l0 -19M441 366l1 -30"/>
<path stroke="#454545" stroke-width="2.5" d="M352 414l1 -23M429 341l1 -22M357 367l1 -26M411 266l1 -21M372 403l1 -29M410 423l3 -30M340 326l1 -25M418 284l0 -8M420 281l2 -24"/>
<path stroke="#464646" stroke-width="1.5" d="M330 328l0 -25M420 271l1 -27M423 265l3 -31M410 251l3 -28M354 368l0 -9M341 351l2 -16M425 267l1 -12M368 307l1 -12"/>
<path stroke="#464646" stroke-width="2" d="M421 391l0 -17M411 236l1 -8M419 265l2 -24M365 304l1 -18"/>
<path stroke="#464646" stroke-width="2.5" d="M407 249l2 -21M363 395l3 -32"/>
<path stroke="#474747" stroke-width="1.5" d="M333 413l2 -31M402 355l1 -15M352 414l2 -23"/>
<path stroke="#474747" stroke-width="2" d="M485 382l0 -9M451 356l1 -16M423 252l1 -19M425 366l0 -18M409 298l0 -26"/>
<path stroke="#474747" stroke-width="2.5" d="M439 312l2 -21"/>
<path stroke="#484848" stroke-width="1.5" d="M341 331l1 -33M341 296l1 -29M415 355l1 -15M400 253l3 -33"/>
<path stroke="#484848" stroke-width="2" d="M358 315l1 -16M420 296l1 -19M446 336l2 -28M406 331l2 -27"/>
<path stroke="#484848" stroke-width="2.5" d="M414 244l0 -8M426 240l1 -9M365 326l2 -24"/>
<path stroke="#494949" stroke-width="1.5" d="M345 341l0 -12M422 357l1 -29M323 249l1 -19M405 254l2 -27M449 358l1 -14"/>
<path stroke="#494949" stroke-width="2" d="M334 303l2 -18M434 276l2 -24M364 364l1 -27M437 374l1 -9M432 334l1 -26M423 249l0 -27M428 312l1 -13M419 342l1 -10M356 415l1 -12"/>
<path stroke="#494949" stroke-width="2.5" d="M349 393l1 -23M440 327l0 -11M417 420l3 -30M332 373l1 -18M403 336l2 -19"/>
<path stroke="#4a4a4a" stroke-width="1.5" d="M330 368l1 -32M424 358l1 -30M451 375l1 -22M383 421l1 -17M347 244l1 -16M442 248l0 -13M338 383l2 -29M409 353l1 -18"/>
<path stroke="#4a4a4a" stroke-width="2" d="M329 339l0 -12M329 263l3 -27M402 281l1 -27M415 339l1 -20M335 337l0 -12M451 232l0 -10"/>
<path stroke="#4a4a4a" stroke-width="2.5" d="M432 392l1 -16"/>
<path stroke="#4b4b4b" stroke-width="1.5" d="M350 259l1 -26M346 300l2 -33M394 326l0 -27M452 259l2 -20M410 342l3 -32M450 357l0 -11M457 313l1 -26M405 353l0 -10"/>
<path stroke="#4b4b4b" stroke-width="2" d="M350 297l1 -24M351 296l1 -24M456 427l2 -16M439 266l0 -18M411 250l1 -10"/>
<path stroke="#4b4b4b" stroke-width="2.5" d="M404 351l1 -8M439 312l1 -16"/>
<path stroke="#4c4c4c" stroke-width="1.5" d="M401 307l2 -21M426 324l0 -15M410 374l0 -16M339 366l1 -33M413 247l1 -12M426 337l2 -14M332 346l1 -25"/>
<path stroke="#4c4c4c" stroke-width="2" d="M360 238l1 -11M458 297l0 -9M346 233l0 -10M429 359l0 -28M373 248l2 -33M404 313l1 -20M453 366l0 -15"/>
<path stroke="#4c4c4c" stroke-width="2.5" d="M438 270l2 -22M444 301l1 -12M408 392l3 -29M416 327l0 -18M435 327l0 -25"/>
<path stroke="#4d4d4d" stroke-width="1" d="M368 277l2 -28M347 262l1 -31"/>
<path stroke="#4d4d4d" stroke-width="1.5" d="M430 417l1 -10M451 392l1 -23M344 313l0 -12M330 362l0 -22M359 389l1 -25M459 337l1 -16M337 289l1 -15M429 330l1 -17"/>
<path stroke="#4d4d4d" stroke-width="2" d="M418 371l1 -17M337 309l0 -15M442 343l1 -18M337 329l2 -17M425 431l3 -32M332 240l1 -19"/>
<path stroke="#4d4d4d" stroke-width="2.5" d="M406 427l0 -31M435 259l0 -8M411 332l0 -31"/>
<path stroke="#4e4e4e" stroke-width="1" d="M373 311l2 -28"/>
<path stroke="#4e4e4e" stroke-width="1.5" d="M446 325l2 -28M488 378l1 -13M362 403l1 -17M408 343l3 -27"/>
<path stroke="#4e4e4e" stroke-width="2" d="M458 317l1 -10M441 305l0 -26"/>
<path stroke="#4e4e4e" stroke-width="2.5" d="M335 243l0 -10M323 276l0 -12M324 408l1 -24M429 262l3 -24"/>
<path stroke="#4f4f4f" stroke-width="1" d="M368 249l2 -19"/>
<path stroke="#4f4f4f" stroke-width="1.5" d="M433 318l0 -11M348 274l3 -31"/>
<path stroke="#4f4f4f" stroke-width="2" d="M476 409l2 -18M429 427l1 -18M455 262l1 -13M473 436l1 -33"/>
<path stroke="#4f4f4f" stroke-width="2.5" d="M458 415l1 -13M485 394l0 -30M339 280l3 -30M475 390l0 -13M434 302l0 -22"/>
<path stroke="#505050" stroke-width="1" d="M339 275l1 -15"/>
<path stroke="#505050" stroke-width="1.5" d="M348 240l0 -13M409 370l1 -20M487 398l1 -18M345 358l1 -23M329 402l0 -9"/>
<path stroke="#505050" stroke-width="2" d="M437 332l1 -10M452 429l2 -32M479 393l2 -22M423 402l1 -11M424 376l1 -19"/>
<path stroke="#505050" stroke-width="2.5" d="M411 357l1 -11M456 258l1 -28M367 361l2 -22"/>
<path stroke="#515151" stroke-width="1.5" d="M456 409l2 -24M480 423l2 -28M321 376l1 -22M418 375l1 -26"/>
<path stroke="#515151" stroke-width="2" d="M334 270l2 -29M442 274l1 -27"/>
<path stroke="#515151" stroke-width="2.5" d="M447 287l0 -12M418 413l0 -12"/>
<path stroke="#525252" stroke-width="1.5" d="M397 366l1 -14M366 237l0 -20M398 237l1 -17"/>
<path stroke="#525252" stroke-width="2" d="M366 394l0 -9M336 294l1 -9M442 303l0 -13M336 393l1 -26M395 392l2 -22M329 245l1 -16"/>
<path stroke="#535353" stroke-width="1" d="M368 315l1 -33"/>
<path stroke="#535353" stroke-width="1.5" d="M421 419l2 -23M330 312l0 -29"/>
<path stroke="#535353" stroke-width="2" d="M320 232l0 -9M472 415l1 -17M453 413l1 -11"/>
<path stroke="#535353" stroke-width="2.5" d="M329 354l3 -27M338 346l1 -23"/>
<path stroke="#545454" stroke-width="1" d="M446 251l1 -16"/>
<path stroke="#545454" stroke-width="1.5" d="M483 425l0 -13"/>
<path stroke="#545454" stroke-width="2" d="M449 315l0 -31M316 415l1 -26"/>
<path stroke="#545454" stroke-width="2.5" d="M455 308l1 -18M482 426l0 -14"/>
<path stroke="#555555" stroke-width="1.5" d="M325 291l2 -20M377 432l2 -27"/>
<path stroke="#555555" stroke-width="2" d="M321 421l2 -23M454 411l0 -9"/>
<path stroke="#555555" stroke-width="2.5" d="M480 409l1 -18"/>
<path stroke="#565656" stroke-width="1.5" d="M475 405l1 -30M325 348l0 -26M355 368l0 -33M334 329l1 -14M318 245l0 -32"/>
<path stroke="#565656" stroke-width="2" d="M373 408l2 -22M458 418l1 -31M477 346l0 -8"/>
<path stroke="#565656" stroke-width="2.5" d="M329 268l1 -22"/>
<path stroke="#575757" stroke-width="1" d="M443 380l2 -31M463 249l2 -25"/>
<path stroke="#575757" stroke-width="1.5" d="M351 332l2 -27M453 431l3 -33"/>
<path stroke="#575757" stroke-width="2" d="M451 275l0 -28M463 430l2 -23"/>
<path stroke="#575757" stroke-width="2.5" d="M465 417l0 -11"/>
<path stroke="#585858" stroke-width="1" d="M318 339l0 -31M399 398l3 -28"/>
<path stroke="#585858" stroke-width="1.5" d="M354 271l2 -27M320 240l1 -19"/>
<path stroke="#585858" stroke-width="2" d="M463 254l3 -31M320 340l1 -27M485 331l1 -13M314 288l0 -11M466 284l1 -20"/>
<path stroke="#585858" stroke-width="2.5" d="M454 340l0 -15M465 330l2 -22M323 412l3 -31"/>
<path stroke="#595959" stroke-width="1" d="M428 344l2 -22"/>
<path stroke="#595959" stroke-width="1.5" d="M482 397l1 -15M323 307l1 -27M447 263l1 -14"/>
<path stroke="#595959" stroke-width="2" d="M321 372l1 -14M464 348l1 -30M467 296l1 -32M456 268l1 -9"/>
<path stroke="#5a5a5a" stroke-width="1" d="M468 340l1 -14"/>
<path stroke="#5a5a5a" stroke-width="1.5" d="M440 254l0 -31M451 242l1 -12M322 245l0 -14M483 360l0 -12M429 263l0 -33M401 406l1 -23"/>
<path stroke="#5a5a5a" stroke-width="2" d="M319 421l1 -15M328 343l1 -16"/>
<path stroke="#5a5a5a" stroke-width="2.5" d="M461 284l1 -11M450 313l0 -28M470 342l2 -27"/>
<path stroke="#5b5b5b" stroke-width="1.5" d="M319 378l2 -32M325 408l0 -29"/>
<path stroke="#5b5b5b" stroke-width="2" d="M461 380l2 -21M465 243l1 -33M479 338l1 -15"/>
<path stroke="#5b5b5b" stroke-width="2.5" d="M480 342l1 -23M465 359l2 -29M471 418l2 -28"/>
<path stroke="#5c5c5c" stroke-width="1" d="M424 272l1 -29"/>
<path stroke="#5c5c5c" stroke-width="1.5" d="M466 387l2 -27M461 253l0 -12M319 395l0 -18M323 417l0 -16"/>
<path stroke="#5c5c5c" stroke-width="2" d="M469 244l0 -13M466 376l2 -23M463 304l0 -31"/>
<path stroke="#5d5d5d" stroke-width="1.5" d="M400 372l0 -18M416 304l1 -20M461 292l1 -27"/>
<path stroke="#5d5d5d" stroke-width="2" d="M317 424l0 -25M463 264l1 -16M451 276l1 -9"/>
<path stroke="#5d5d5d" stroke-width="2.5" d="M321 414l2 -22M476 332l0 -12"/>
<path stroke="#5e5e5e" stroke-width="1" d="M470 359l2 -23M346 342l1 -21"/>
<path stroke="#5e5e5e" stroke-width="1.5" d="M470 334l0 -15M316 405l2 -25"/>
<path stroke="#5e5e5e" stroke-width="2" d="M459 413l1 -17"/>
<path stroke="#5e5e5e" stroke-width="2.5" d="M466 273l2 -20M316 260l1 -28"/>
<path stroke="#5f5f5f" stroke-width="1.5" d="M461 303l2 -28M324 415l1 -22M316 272l0 -23M419 339l3 -33M462 328l0 -13M402 395l1 -15"/>
<path stroke="#5f5f5f" stroke-width="2" d="M437 380l1 -30M461 388l1 -20"/>
<path stroke="#5f5f5f" stroke-width="2.5" d="M324 353l0 -19"/>
<path stroke="#606060" stroke-width="1" d="M354 240l2 -25"/>
<path stroke="#606060" stroke-width="1.5" d="M447 242l0 -14"/>
<path stroke="#606060" stroke-width="2" d="M484 341l1 -15"/>
<path stroke="#606060" stroke-width="2.5" d="M468 386l2 -32M321 386l2 -29"/>
<path stroke="#616161" stroke-width="1.5" d="M315 431l2 -31M356 293l1 -28M355 308l2 -27M358 386l0 -22M350 296l1 -25"/>
<path stroke="#616161" stroke-width="2" d="M466 404l1 -18M470 265l1 -12M459 381l2 -22M322 403l0 -11M308 328l1 -25"/>
<path stroke="#616161" stroke-width="2.5" d="M315 335l0 -11"/>
<path stroke="#626262" stroke-width="1" d="M402 391l1 -21M423 342l2 -25"/>
<path stroke="#626262" stroke-width="1.5" d="M322 375l2 -22"/>
<path stroke="#626262" stroke-width="2" d="M462 307l0 -8M317 326l1 -23"/>
<path stroke="#626262" stroke-width="2.5" d="M470 297l1 -11M471 345l1 -9"/>
<path stroke="#636363" stroke-width="1.5" d="M487 320l2 -33M465 362l1 -13M449 342l0 -32"/>
<path stroke="#636363" stroke-width="2.5" d="M310 248l0 -8"/>
<path stroke="#646464" stroke-width="2" d="M469 384l1 -16M468 393l0 -24"/>
<path stroke="#656565" stroke-width="1" d="M422 366l2 -26"/>
<path stroke="#656565" stroke-width="1.5" d="M474 243l0 -13M480 313l1 -21"/>
<path stroke="#656565" stroke-width="2" d="M463 356l1 -28"/>
<path stroke="#666666" stroke-width="1.5" d="M337 369l0 -20"/>
<path stroke="#666666" stroke-width="2" d="M482 323l1 -12M442 300l1 -28"/>
<path stroke="#666666" stroke-width="2.5" d="M315 371l1 -25"/>
<path stroke="#676767" stroke-width="1.5" d="M470 280l1 -27"/>
<path stroke="#676767" stroke-width="2" d="M469 280l1 -19M316 358l2 -26M464 373l1 -22M464 311l0 -19"/>
<path stroke="#676767" stroke-width="2.5" d="M474 380l0 -11"/>
<path stroke="#686868" stroke-width="1.5" d="M364 407l2 -18M475 375l2 -22M461 326l1 -24"/>
<path stroke="#686868" stroke-width="2" d="M465 339l2 -31M481 322l3 -30"/>
<path stroke="#696969" stroke-width="1.5" d="M331 317l2 -25M307 340l2 -24M317 415l1 -17"/>
<path stroke="#696969" stroke-width="2" d="M468 366l1 -22M473 321l2 -21M304 363l3 -32M302 412l3 -30"/>
<path stroke="#6a6a6a" stroke-width="1" d="M478 306l0 -21M468 360l0 -25"/>
<path stroke="#6a6a6a" stroke-width="1.5" d="M307 321l0 -33M317 291l2 -25M466 310l0 -26"/>
<path stroke="#6a6a6a" stroke-width="2" d="M465 376l2 -23M312 423l1 -20"/>
<path stroke="#6b6b6b" stroke-width="1.5" d="M450 283l0 -28"/>
<path stroke="#6b6b6b" stroke-width="2" d="M464 333l2 -19M318 357l1 -28"/>
<path stroke="#6b6b6b" stroke-width="2.5" d="M489 277l1 -9"/>
<path stroke="#6c6c6c" stroke-width="1.5" d="M330 379l1 -20M312 426l3 -32"/>
<path stroke="#6c6c6c" stroke-width="2.5" d="M310 288l1 -22"/>
<path stroke="#6d6d6d" stroke-width="1" d="M318 244l1 -11"/>
<path stroke="#6d6d6d" stroke-width="1.5" d="M301 304l1 -22M329 406l3 -32"/>
<path stroke="#6d6d6d" stroke-width="2" d="M471 303l1 -21"/>
<path stroke="#6e6e6e" stroke-width="1.5" d="M453 323l2 -19M301 302l1 -15"/>
<path stroke="#6e6e6e" stroke-width="2" d="M474 395l1 -21M473 319l1 -15"/>
<path stroke="#6e6e6e" stroke-width="2.5" d="M311 352l1 -28"/>
<path stroke="#6f6f6f" stroke-width="1.5" d="M470 297l1 -28M309 279l1 -20"/>
<path stroke="#6f6f6f" stroke-width="2" d="M476 323l1 -22M308 389l1 -14M319 340l2 -19"/>
<path stroke="#6f6f6f" stroke-width="2.5" d="M463 399l1 -22M468 301l0 -26M305 345l1 -15M315 430l2 -23"/>
<path stroke="#717171" stroke-width="2" d="M301 365l1 -20"/>
<path stroke="#717171" stroke-width="2.5" d="M316 274l1 -15"/>
<path stroke="#727272" stroke-width="2.5" d="M479 295l1 -23"/>
<path stroke="#737373" stroke-width="1.5" d="M314 406l1 -25"/>
<path stroke="#737373" stroke-width="2" d="M308 287l2 -26M310 293l1 -12"/>
<path stroke="#737373" stroke-width="2.5" d="M311 360l1 -16"/>
<path stroke="#747474" stroke-width="2" d="M468 345l1 -10M314 329l2 -26"/>
<path stroke="#757575" stroke-width="2.5" d="M310 418l0 -14"/>
<path stroke="#767676" stroke-width="1.5" d="M469 343l1 -19"/>
<path stroke="#767676" stroke-width="2" d="M302 359l1 -26"/>
<path stroke="#777777" stroke-width="1.5" d="M477 321l0 -24M303 315l0 -9M313 260l0 -10"/>
<path stroke="#777777" stroke-width="2" d="M477 308l1 -17"/>
<path stroke="#777777" stroke-width="2.5" d="M306 362l1 -14"/>
<path stroke="#797979" stroke-width="1.5" d="M478 267l2 -25"/>
<path stroke="#7a7a7a" stroke-width="1.5" d="M301 338l2 -19M307 258l1 -26"/>
<path stroke="#7a7a7a" stroke-width="2.5" d="M479 242l0 -22"/>
<path stroke="#7d7d7d" stroke-width="2.5" d="M488 307l1 -27M481 280l0 -8"/>
<path stroke="#7e7e7e" stroke-width="1.5" d="M301 258l1 -20"/>
<path stroke="#7e7e7e" stroke-width="2.5" d="M480 265l1 -18"/>
<path stroke="#808080" stroke-width="1.5" d="M487 264l2 -29"/>
<path stroke="#818181" stroke-width="2.5" d="M487 257l0 -10"/>
<path stroke="#828282" stroke-width="1.5" d="M307 297l1 -20"/>
<path stroke="#848484" stroke-width="1.5" d="M307 237l1 -21"/>
<path stroke="#868686" stroke-width="1.5" d="M303 371l2 -17"/>
<path stroke="#868686" stroke-width="2" d="M482 276l1 -9"/>
<path stroke="#868686" stroke-width="2.5" d="M302 238l1 -21"/>
<path stroke="#888888" stroke-width="1.5" d="M485 253l1 -11M482 266l1 -19"/>
<path stroke="#8d8d8d" stroke-width="2" d="M305 265l1 -24"/>
<ellipse cx="412" cy="268" rx="2.5" ry="2" fill="#0f0f0f" stroke="none"/>
<ellipse cx="427" cy="281" rx="3" ry="2.5" fill="#0f0f0f" stroke="none"/>
<ellipse cx="410" cy="305" rx="2" ry="2" fill="#0f0f0f" stroke="none"/>
<ellipse cx="344" cy="365" rx="1.5" ry="6" fill="#1a1a1a" stroke="none"/>
<ellipse cx="385" cy="295" rx="1.5" ry="8" fill="#1a1a1a" stroke="none" transform="rotate(5 385 295)"/>
<ellipse cx="390" cy="338" rx="2" ry="8" fill="#1a1a1a" stroke="none" transform="rotate(5 390 338)"/>
<ellipse cx="465" cy="350" rx="1.5" ry="3" fill="#787878" stroke="none"/>
<ellipse cx="470" cy="385" rx="1.5" ry="3" fill="#787878" stroke="none"/>
<ellipse cx="305" cy="360" rx="1.5" ry="8" fill="#808080" stroke="none"/>
</g>
</g>
</g></svg>
<div class="at" style="left:37.40px;top:8.40px;width:2.6px;height:1.2px"></div>
<div class="at" style="left:37.40px;top:97.40px;width:2.6px;height:1.2px"></div>
<div class="at" style="left:37.40px;top:186.40px;width:2.6px;height:1.2px"></div>
<div class="at" style="left:39.40px;top:187.00px;width:1.2px;height:2.6px"></div>
<div class="at" style="left:121.65px;top:187.00px;width:1.2px;height:2.6px"></div>
<div class="at" style="left:203.90px;top:187.00px;width:1.2px;height:2.6px"></div>
<div class="t" style="left:30.50px;top:12.85px;font-size:13.20px;transform:translate(-50%,-50%) rotate(-90deg) scaleX(1.0000)">5</div>
<div class="t" style="left:29.75px;top:95.55px;font-size:13.20px;transform:translate(-50%,-50%) rotate(-90deg) scaleX(1.0000)">2.50</div>
<div class="t" style="left:30.25px;top:183.00px;font-size:13.20px;transform:translate(-50%,-50%) rotate(-90deg) scaleX(1.0000)">0</div>
<div class="t" style="left:43.65px;top:200.05px;font-size:13.20px;transform:translate(-50%,-50%) scaleX(1.0000)">0</div>
<div class="t" style="left:123.15px;top:199.45px;font-size:13.20px;transform:translate(-50%,-50%) scaleX(1.0000)">2.50</div>
<div class="t" style="left:201.55px;top:199.30px;font-size:13.20px;transform:translate(-50%,-50%) scaleX(1.0000)">5</div>
<div class="t" style="left:122.50px;top:213.50px;font-size:14.20px;transform:translate(-50%,-50%) scaleX(0.8870)">X Range: 5 mm</div>
<div class="t" style="left:14.30px;top:98.10px;font-size:13.30px;transform:translate(-50%,-50%) rotate(-90deg) scaleX(1.0400)">Y Range: 5 mm</div>
<div class="t z" style="left:249.00px;top:93.50px;font-size:15.00px;transform:translate(-50%,-50%) rotate(-90deg) scaleX(1.0422)">Z Range [&mu;m]</div>
<div class="bx" style="left:44.5px;top:13.5px;width:25.5px;height:17.5px"></div>
<div class="t bt" style="left:54.75px;top:21.25px;font-size:15.50px;transform:translate(-50%,-50%) scaleX(1.0500)">(a)</div>
<div class="cb" style="left:213.3px;top:8.2px;width:22.7px;height:178.8px;background:linear-gradient(to bottom, rgb(255,255,255) 0.0%, rgb(255,255,255) 6.5%, rgb(255,218,218) 11.0%, rgb(250,150,155) 16.0%, rgb(255,40,40) 22.0%, rgb(255,25,15) 24.5%, rgb(255,60,0) 27.0%, rgb(255,130,0) 31.0%, rgb(255,200,0) 36.0%, rgb(255,240,0) 40.0%, rgb(180,235,0) 44.0%, rgb(30,220,30) 47.5%, rgb(0,220,130) 52.0%, rgb(0,212,200) 57.0%, rgb(0,195,240) 60.0%, rgb(0,140,255) 63.5%, rgb(0,100,240) 67.0%, rgb(0,60,200) 72.0%, rgb(0,20,150) 74.5%, rgb(0,0,75) 78.0%, rgb(0,0,22) 81.5%, rgb(0,0,0) 84.5%, rgb(0,0,0) 100.0%)"></div>
<div class="tk" style="left:236px;top:37.8px"></div>
<div class="cbl" style="right:316px;top:38.3px;font-size:7.2px">0</div>
<div class="tk" style="left:236px;top:79.3px"></div>
<div class="cbl" style="right:316px;top:79.8px;font-size:7.2px">&minus;25</div>
<div class="tk" style="left:236px;top:120.5px"></div>
<div class="cbl" style="right:316px;top:121px;font-size:7.2px">&minus;50</div>
<div class="tk" style="left:236px;top:161px"></div>
<div class="cbl w" style="right:316px;top:161.5px;font-size:7.2px">&minus;75</div>
<div class="at" style="left:301.40px;top:8.90px;width:2.6px;height:1.2px"></div>
<div class="at" style="left:301.40px;top:100.90px;width:2.6px;height:1.2px"></div>
<div class="at" style="left:301.40px;top:192.90px;width:2.6px;height:1.2px"></div>
<div class="at" style="left:303.40px;top:193.50px;width:1.2px;height:2.6px"></div>
<div class="at" style="left:396.90px;top:193.50px;width:1.2px;height:2.6px"></div>
<div class="at" style="left:490.40px;top:193.50px;width:1.2px;height:2.6px"></div>
<div class="t" style="left:291.95px;top:12.85px;font-size:14.30px;transform:translate(-50%,-50%) rotate(-90deg) scaleX(1.0000)">5</div>
<div class="t" style="left:292.50px;top:99.40px;font-size:14.30px;transform:translate(-50%,-50%) rotate(-90deg) scaleX(1.0000)">2.50</div>
<div class="t" style="left:292.75px;top:188.90px;font-size:14.30px;transform:translate(-50%,-50%) rotate(-90deg) scaleX(1.0000)">0</div>
<div class="t" style="left:307.75px;top:206.60px;font-size:14.30px;transform:translate(-50%,-50%) scaleX(1.0000)">0</div>
<div class="t" style="left:398.85px;top:206.60px;font-size:14.30px;transform:translate(-50%,-50%) scaleX(1.0000)">2.50</div>
<div class="t" style="left:487.60px;top:206.60px;font-size:14.30px;transform:translate(-50%,-50%) scaleX(1.0000)">5</div>
<div class="t" style="left:396.70px;top:220.90px;font-size:14.30px;transform:translate(-50%,-50%) scaleX(0.9540)">X Range: 5 mm</div>
<div class="t" style="left:275.50px;top:100.90px;font-size:13.05px;transform:translate(-50%,-50%) rotate(-90deg) scaleX(1.0220)">Y Range: 5 mm</div>
<div class="t z" style="left:536.00px;top:94.00px;font-size:15.00px;transform:translate(-50%,-50%) rotate(-90deg) scaleX(1.0400)">Z Range [&mu;m]</div>
<div class="bx" style="left:306.9px;top:15.3px;width:26.2px;height:16.7px"></div>
<div class="t bt" style="left:317.50px;top:24.25px;font-size:15.50px;transform:translate(-50%,-50%) scaleX(1.0500)">(b)</div>
<div class="cb" style="left:502.8px;top:8.9px;width:16.7px;height:183.1px;background:linear-gradient(to bottom, rgb(255,255,255) 0.0%, rgb(255,255,255) 9.0%, rgb(255,218,218) 13.0%, rgb(250,150,155) 18.0%, rgb(255,40,40) 23.5%, rgb(255,25,15) 26.5%, rgb(255,70,0) 30.0%, rgb(255,135,0) 34.7%, rgb(255,200,0) 40.5%, rgb(255,240,0) 45.0%, rgb(200,238,0) 50.0%, rgb(60,225,30) 53.5%, rgb(20,220,60) 58.0%, rgb(0,220,150) 64.0%, rgb(0,200,225) 69.0%, rgb(0,160,250) 72.5%, rgb(0,110,240) 76.0%, rgb(0,50,180) 81.0%, rgb(0,10,110) 87.0%, rgb(0,0,40) 93.0%, rgb(0,0,0) 95.5%, rgb(0,0,0) 100.0%)"></div>
<div class="tk" style="left:519.5px;top:22px"></div>
<div class="cbl" style="right:32.5px;top:22.5px;font-size:5.6px">20</div>
<div class="tk" style="left:519.5px;top:63.8px"></div>
<div class="cbl" style="right:32.5px;top:64.3px;font-size:5.6px">0</div>
<div class="tk" style="left:519.5px;top:105.8px"></div>
<div class="cbl" style="right:32.5px;top:106.3px;font-size:5.6px">&minus;20</div>
<div class="tk" style="left:519.5px;top:147.3px"></div>
<div class="cbl" style="right:32.5px;top:147.8px;font-size:5.6px">&minus;40</div>
<div class="tk" style="left:519.5px;top:188.5px"></div>
<div class="cbl w" style="right:32.5px;top:189px;font-size:5.6px">&minus;60</div>
<div class="at" style="left:34.80px;top:234.00px;width:2.6px;height:1.2px"></div>
<div class="at" style="left:34.80px;top:322.70px;width:2.6px;height:1.2px"></div>
<div class="at" style="left:34.80px;top:411.40px;width:2.6px;height:1.2px"></div>
<div class="at" style="left:36.80px;top:412.00px;width:1.2px;height:2.6px"></div>
<div class="at" style="left:122.60px;top:412.00px;width:1.2px;height:2.6px"></div>
<div class="at" style="left:208.40px;top:412.00px;width:1.2px;height:2.6px"></div>
<div class="t" style="left:27.00px;top:238.40px;font-size:13.20px;transform:translate(-50%,-50%) rotate(-90deg) scaleX(1.0000)">5</div>
<div class="t" style="left:26.10px;top:321.10px;font-size:13.20px;transform:translate(-50%,-50%) rotate(-90deg) scaleX(1.0000)">2.50</div>
<div class="t" style="left:27.00px;top:406.65px;font-size:13.20px;transform:translate(-50%,-50%) rotate(-90deg) scaleX(1.0000)">0</div>
<div class="t" style="left:40.65px;top:424.60px;font-size:13.20px;transform:translate(-50%,-50%) scaleX(1.0000)">0</div>
<div class="t" style="left:124.15px;top:424.60px;font-size:13.20px;transform:translate(-50%,-50%) scaleX(1.0000)">2.50</div>
<div class="t" style="left:205.65px;top:424.30px;font-size:13.20px;transform:translate(-50%,-50%) scaleX(1.0000)">5</div>
<div class="t" style="left:123.10px;top:438.70px;font-size:14.50px;transform:translate(-50%,-50%) scaleX(0.9100)">X Range: 5 mm</div>
<div class="t" style="left:10.50px;top:323.90px;font-size:13.30px;transform:translate(-50%,-50%) rotate(-90deg) scaleX(1.0360)">Y Range: 5 mm</div>
<div class="t z" style="left:252.50px;top:320.50px;font-size:15.00px;transform:translate(-50%,-50%) rotate(-90deg) scaleX(1.0289)">Z Range [&mu;m]</div>
<div class="bx" style="left:40.5px;top:238.9px;width:21.5px;height:16.4px"></div>
<div class="t bt" style="left:49.75px;top:247.25px;font-size:15.50px;transform:translate(-50%,-50%) scaleX(1.0500)">(c)</div>
<div class="cb" style="left:217.9px;top:234px;width:23.9px;height:178px;background:linear-gradient(to bottom, rgb(255,255,255) 0.0%, rgb(255,255,255) 6.5%, rgb(255,218,218) 11.0%, rgb(250,150,155) 16.0%, rgb(255,40,40) 22.0%, rgb(255,25,15) 24.5%, rgb(255,60,0) 27.0%, rgb(255,130,0) 31.0%, rgb(255,200,0) 36.0%, rgb(255,240,0) 40.0%, rgb(180,235,0) 44.0%, rgb(30,220,30) 47.5%, rgb(0,220,130) 52.0%, rgb(0,212,200) 57.0%, rgb(0,195,240) 60.0%, rgb(0,140,255) 63.5%, rgb(0,100,240) 67.0%, rgb(0,60,200) 72.0%, rgb(0,20,150) 74.5%, rgb(0,0,75) 78.0%, rgb(0,0,22) 81.5%, rgb(0,0,0) 84.5%, rgb(0,0,0) 100.0%)"></div>
<div class="tk" style="left:241.8px;top:243.8px"></div>
<div class="cbl" style="right:310.2px;top:244.3px;font-size:7.2px">50</div>
<div class="tk" style="left:241.8px;top:284.6px"></div>
<div class="cbl" style="right:310.2px;top:285.1px;font-size:7.2px">25</div>
<div class="tk" style="left:241.8px;top:325.4px"></div>
<div class="cbl" style="right:310.2px;top:325.9px;font-size:7.2px">0</div>
<div class="tk" style="left:241.8px;top:366.1px"></div>
<div class="cbl w" style="right:310.2px;top:366.6px;font-size:7.2px">&minus;25</div>
<div class="tk" style="left:241.8px;top:407px"></div>
<div class="cbl w" style="right:310.2px;top:407.5px;font-size:7.2px">&minus;50</div>
<div class="at" style="left:301.80px;top:233.90px;width:2.6px;height:1.2px"></div>
<div class="at" style="left:301.80px;top:322.40px;width:2.6px;height:1.2px"></div>
<div class="at" style="left:301.80px;top:410.90px;width:2.6px;height:1.2px"></div>
<div class="at" style="left:303.80px;top:411.50px;width:1.2px;height:2.6px"></div>
<div class="at" style="left:394.60px;top:411.50px;width:1.2px;height:2.6px"></div>
<div class="at" style="left:485.40px;top:411.50px;width:1.2px;height:2.6px"></div>
<div class="t" style="left:292.45px;top:238.35px;font-size:14.30px;transform:translate(-50%,-50%) rotate(-90deg) scaleX(1.0000)">5</div>
<div class="t" style="left:293.30px;top:320.25px;font-size:14.30px;transform:translate(-50%,-50%) rotate(-90deg) scaleX(1.0000)">2.50</div>
<div class="t" style="left:292.80px;top:408.10px;font-size:14.30px;transform:translate(-50%,-50%) rotate(-90deg) scaleX(1.0000)">0</div>
<div class="t" style="left:308.65px;top:423.15px;font-size:14.30px;transform:translate(-50%,-50%) scaleX(1.0000)">0</div>
<div class="t" style="left:396.50px;top:423.15px;font-size:14.30px;transform:translate(-50%,-50%) scaleX(1.0800)">2.50</div>
<div class="t" style="left:482.25px;top:423.15px;font-size:14.30px;transform:translate(-50%,-50%) scaleX(1.0000)">5</div>
<div class="t" style="left:395.20px;top:438.50px;font-size:14.30px;transform:translate(-50%,-50%) scaleX(0.9750)">X Range: 5 mm</div>
<div class="t" style="left:276.50px;top:323.50px;font-size:13.30px;transform:translate(-50%,-50%) rotate(-90deg) scaleX(1.0480)">Y Range: 5 mm</div>
<div class="t z" style="left:535.50px;top:319.50px;font-size:15.00px;transform:translate(-50%,-50%) rotate(-90deg) scaleX(1.0444)">Z Range [&mu;m]</div>
<div class="bx" style="left:309.5px;top:237.8px;width:26.1px;height:17.8px"></div>
<div class="t bt" style="left:319.75px;top:247.00px;font-size:15.50px;transform:translate(-50%,-50%) scaleX(1.0500)">(d)</div>
<div class="cb" style="left:494.5px;top:233.5px;width:24.8px;height:178px;background:linear-gradient(to bottom, rgb(255,255,255) 0.0%, rgb(255,255,255) 6.5%, rgb(255,218,218) 11.0%, rgb(250,150,155) 16.0%, rgb(255,40,40) 22.0%, rgb(255,25,15) 24.5%, rgb(255,60,0) 27.0%, rgb(255,130,0) 31.0%, rgb(255,200,0) 36.0%, rgb(255,240,0) 40.0%, rgb(180,235,0) 44.0%, rgb(30,220,30) 47.5%, rgb(0,220,130) 52.0%, rgb(0,212,200) 57.0%, rgb(0,195,240) 60.0%, rgb(0,140,255) 63.5%, rgb(0,100,240) 67.0%, rgb(0,60,200) 72.0%, rgb(0,20,150) 74.5%, rgb(0,0,75) 78.0%, rgb(0,0,22) 81.5%, rgb(0,0,0) 84.5%, rgb(0,0,0) 100.0%)"></div>
<div class="tk" style="left:519.3px;top:246.1px"></div>
<div class="cbl" style="right:32.7px;top:246.6px;font-size:7px">25</div>
<div class="tk" style="left:519.3px;top:284.5px"></div>
<div class="cbl" style="right:32.7px;top:285px;font-size:7px">0</div>
<div class="tk" style="left:519.3px;top:322.5px"></div>
<div class="cbl" style="right:32.7px;top:323px;font-size:7px">&minus;25</div>
<div class="tk" style="left:519.3px;top:360.7px"></div>
<div class="cbl" style="right:32.7px;top:361.2px;font-size:7px">&minus;50</div>
<div class="tk" style="left:519.3px;top:398.9px"></div>
<div class="cbl w" style="right:32.7px;top:399.4px;font-size:7px">&minus;75</div>
</body></html>
